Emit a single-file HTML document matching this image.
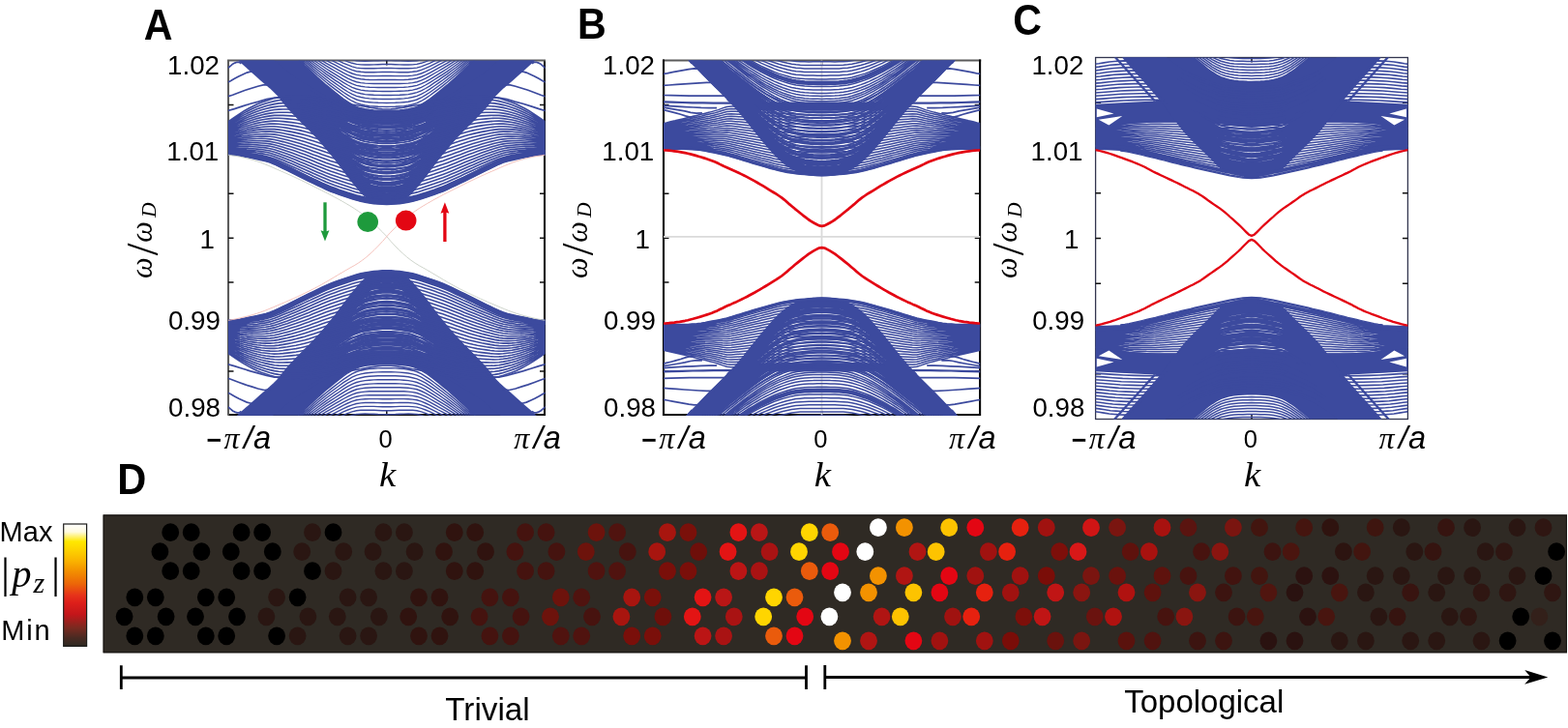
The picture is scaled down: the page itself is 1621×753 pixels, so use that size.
<!DOCTYPE html>
<html lang="en"><head><meta charset="utf-8"><title>Figure</title>
<style>html,body{margin:0;padding:0;background:#fff}svg{display:block}</style></head><body>
<svg width="1621" height="753" viewBox="0 0 1621 753">
<rect width="1621" height="753" fill="#fff"/>
<path d="M236.0 429.0H563.0V62.5" fill="none" stroke="#111" stroke-width="2.1"/>
<path d="M236.0 429.8V62.5H564.0" fill="none" stroke="#5c5c5c" stroke-width="2.1"/>
<path d="M236.0 108.4h5.5M563.5 108.4h-5.5M236.0 154.3h5.5M563.5 154.3h-5.5M236.0 200.2h5.5M563.5 200.2h-5.5M236.0 246.2h5.5M563.5 246.2h-5.5M236.0 292.1h5.5M563.5 292.1h-5.5M236.0 338.0h5.5M563.5 338.0h-5.5M236.0 383.9h5.5M563.5 383.9h-5.5M399.8 62.5v5M399.8 429.8v-5" stroke="#111" stroke-width="1.5" fill="none"/>
<path d="M685.0 62.5H1014.2" fill="none" stroke="#5a5a5a" stroke-width="2.1"/>
<path d="M686.0 61.5V429.0H1013.1V61.5" fill="none" stroke="#050505" stroke-width="2.1"/>
<path d="M686.0 108.4h5.5M1013.2 108.4h-5.5M686.0 154.3h5.5M1013.2 154.3h-5.5M686.0 200.2h5.5M1013.2 200.2h-5.5M686.0 246.2h5.5M1013.2 246.2h-5.5M686.0 292.1h5.5M1013.2 292.1h-5.5M686.0 338.0h5.5M1013.2 338.0h-5.5M686.0 383.9h5.5M1013.2 383.9h-5.5M849.6 62.5v5M849.6 429.8v-5" stroke="#111" stroke-width="1.5" fill="none"/>
<rect x="1132.6" y="59.5" width="322.8" height="374.0" fill="none" stroke="#33364f" stroke-width="1.3"/>
<path d="M1132.6 106.2h5.5M1455.4 106.2h-5.5M1132.6 153.0h5.5M1455.4 153.0h-5.5M1132.6 199.8h5.5M1455.4 199.8h-5.5M1132.6 246.5h5.5M1455.4 246.5h-5.5M1132.6 293.2h5.5M1455.4 293.2h-5.5M1132.6 340.0h5.5M1455.4 340.0h-5.5M1132.6 386.8h5.5M1455.4 386.8h-5.5M1294.0 59.5v5M1294.0 433.5v-5" stroke="#111" stroke-width="1.5" fill="none"/>
<defs><clipPath id="cA"><rect x="236" y="62.5" width="327.5" height="367.3"/></clipPath><clipPath id="cB"><rect x="686" y="62.5" width="327.2" height="367.3"/></clipPath><clipPath id="cC"><rect x="1132.6" y="59.5" width="322.8" height="374"/></clipPath></defs>
<path d="M849.5 62.5V429.8M686 244.8H1013.2" stroke="#dadada" stroke-width="1.8" fill="none"/>
<g clip-path="url(#cA)">
<g id="qA">
<path fill="#3c4a9e" d="M234 50.4l1.9 1.7 1.8 1.6 1.9 1.7 1.8 1.7 1.9 0 1.9 0 1.8 0 1.9 0 1.9 0 1.8 0 1.9 0 1.8 0 1.9 0 1.9 0 1.8 0 1.9 0 1.9 0 1.8 0 1.9 0 1.8 0 1.9 0 1.9 0 1.8 0 1.9 0 1.9 0 1.8 0 1.9 0 1.8 0 1.9 0 1.9 0 1.8 0 1.9 0 1.9 0 1.8 0 1.9 0 1.8 0 1.9 0 1.9 0.1 1.8 2 1.9 1.8 1.9 1.9 1.8 1.9 1.9 1.8 1.8 1.8 1.9 1.8 1.9 1.7 1.8 1.8 1.9 1.7 1.9 1.8 1.8 1.7 1.9 1.7 1.8 1.7 1.9 1.6 1.9 1.7 1.8 1.6 1.9 1.6 1.9 1.5 1.8 1.6 1.9 1.5 1.8 1.5 1.9 1.4 1.9 1.5 1.8 1.4 1.9 1.5 1.9 1.5 1.8 1.4 1.9 1.3 1.8 1.2 1.9 1.1 1.9 1.1 1.8 1 1.9 0.9 1.9 0.7 1.8 0.5 1.9 0.6 1.8 0.4 1.9 0.4 1.9 0.3 1.8 0.3 1.9 0.2 1.9 0.2 1.8 0.2 1.9 0.1 1.8 0.1 1.9 0.1 1.9 0.1 1.8 0 1.9 0.1 1.9 0 1.8 0 1.9-0.1 1.8 0 1.9-0.1 1.9-0.1 1.8-0.1 1.9-0.1 1.8-0.2 1.9-0.2 1.9-0.2 1.8-0.3 1.9-0.3 1.9-0.4 1.8-0.4 1.9-0.6 1.8-0.5 1.9-0.7 1.9-0.9 1.8-1 1.9-1.1 1.9-1.1 1.8-1.2 1.9-1.3 1.8-1.4 1.9-1.5 1.9-1.5 1.8-1.4 1.9-1.5 1.9-1.4 1.8-1.5 1.9-1.5 1.8-1.6 1.9-1.5 1.9-1.6 1.8-1.6 1.9-1.7 1.9-1.6 1.8-1.7 1.9-1.7 1.8-1.7 1.9-1.8 1.9-1.7 1.8-1.8 1.9-1.7 1.9-1.8 1.8-1.8 1.9-1.8 1.8-1.9 1.9-1.9 1.9-1.8 1.8-2 1.9-0.1 1.9 0 1.8 0 1.9 0 1.8 0 1.9 0 1.9 0 1.8 0 1.9 0 1.9 0 1.8 0 1.9 0 1.8 0 1.9 0 1.9 0 1.8 0 1.9 0 1.9 0 1.8 0 1.9 0 1.8 0 1.9 0 1.9 0 1.8 0 1.9 0 1.9 0 1.8 0 1.9 0 1.8 0 1.9 0 1.9 0 1.8 0 1.9 0 1.9 0 1.8-1.7 1.9-1.7 1.8-1.6 1.9-1.7 -1.9 1.7 -1.8 1.6 -1.9 1.7 -1.8 1.7 -1.9 1.7 -1.9 1.7 -1.8 1.6 -1.9 1.7 -1.9 1.7 -1.8 1.6 -1.9 1.7 -1.8 1.6 -1.9 1.6 -1.9 1.7 -1.8 1.6 -1.9 1.7 -1.9 1.6 -1.8 1.7 -1.9 1.6 -1.8 1.7 -1.9 1.6 -1.9 1.6 -1.8 1.6 -1.9 1.6 -1.9 1.7 -1.8 1.7 -1.9 1.7 -1.8 1.9 -1.9 2 -1.9 2.1 -1.8 2.6 -1.9 2.6 -1.9 2.2 -1.8 2.2 -1.9 2.1 -1.8 2.1 -1.9 2 -1.9 1.9 -1.8 2 -1.9 1.8 -1.9 1.4 -1.8 0 -1.9 0 -1.8 0 -1.9 0 -1.9 0 -1.8 0 -1.9 0 -1.9 0 -1.8 0 -1.9 0 -1.8 0 -1.9 0 -1.9 0.1 -1.8 0.1 -1.9 0.1 -1.9 0.1 -1.8 0.1 -1.9 0.2 -1.8 0.1 -1.9 0.2 -1.9 0.1 -1.8 0.2 -1.9 0.2 -1.9 0.1 -1.8 0.2 -1.9 0.1 -1.8 0.2 -1.9 0.1 -1.9 0.2 -1.8 0.1 -1.9 0.2 -1.9 0.2 -1.8 0.2 -1.9 0.2 -1.8 0.1 -1.9 0.2 -1.9 0.2 -1.8 0.2 -1.9 0.1 -1.9 0.2 -1.8 0.2 -1.9 0.1 -1.8 0.1 -1.9 0.1 -1.9 0.1 -1.8 0 -1.9 0.1 -1.8 0 -1.9 0 -1.9-0.1 -1.8 0 -1.9-0.1 -1.9-0.1 -1.8-0.1 -1.9-0.1 -1.8-0.2 -1.9-0.2 -1.9-0.1 -1.8-0.2 -1.9-0.2 -1.9-0.2 -1.8-0.1 -1.9-0.2 -1.8-0.2 -1.9-0.2 -1.9-0.2 -1.8-0.1 -1.9-0.2 -1.9-0.1 -1.8-0.2 -1.9-0.1 -1.8-0.2 -1.9-0.1 -1.9-0.2 -1.8-0.2 -1.9-0.1 -1.9-0.2 -1.8-0.1 -1.9-0.2 -1.8-0.1 -1.9-0.1 -1.9-0.1 -1.8-0.1 -1.9-0.1 -1.9 0 -1.8 0 -1.9 0 -1.8 0 -1.9 0 -1.9 0 -1.8 0 -1.9 0 -1.9 0 -1.8 0 -1.9 0 -1.8 0 -1.9-1.4 -1.9-1.8 -1.8-2 -1.9-1.9 -1.9-2 -1.8-2.1 -1.9-2.1 -1.8-2.2 -1.9-2.2 -1.9-2.6 -1.8-2.6 -1.9-2.1 -1.9-2 -1.8-1.9 -1.9-1.7 -1.8-1.7 -1.9-1.7 -1.9-1.6 -1.8-1.6 -1.9-1.6 -1.9-1.6 -1.8-1.7 -1.9-1.6 -1.8-1.7 -1.9-1.6 -1.9-1.7 -1.8-1.6 -1.9-1.7 -1.9-1.6 -1.8-1.6 -1.9-1.7 -1.8-1.6 -1.9-1.7 -1.9-1.7 -1.8-1.6 -1.9-1.7 -1.9-1.7 -1.8-1.7 -1.9-1.7 -1.8-1.6 -1.9-1.7zM234 50.4l1.9 1.7 1.8 1.6 1.9 1.7 1.8 1.7 1.9 0 1.9 0 1.8 0 1.9 0 1.9 0 1.8 0 1.9 0 1.8 0 1.9 0 1.9 1.3 1.8 1.6 1.9 1.7 1.9 1.7 1.8 1.6 1.9 1.7 1.8 1.6 1.9 1.6 1.9 1.7 1.8 1.6 1.9 1.7 1.9 1.6 1.8 1.7 1.9 1.7 1.8 1.6 1.9 1.7 1.9 1.6 1.8 1.5 1.9 1.6 1.9 1.7 1.8 1.7 1.9 1.7 1.8 1.9 1.9 1.9 1.9 2.2 1.8 2.5 1.9 2.6 1.9 2.3 1.8 2.2 1.9 2.1 1.8 2.1 1.9 2 1.9 1.9 1.8 2 1.9 1.8 1.9 1.9 1.8 1.9 1.9 1.8 1.8 1.9 1.9 1.8 1.9 1.9 1.8 1.8 1.9 2 1.9 1.9 1.8 2 1.9 2 1.8 2.1 1.9 2.2 1.9 2.2 1.8 2.2 1.9 2.2 1.9 2.2 1.8 2.3 1.9 2.3 1.8 2.3 1.9 2.4 1.9 2.4 1.8 2.5 1.9 2.5 1.9 2.5 1.8 2.6 1.9 2.5 1.8 2.4 1.9 2.4 1.9 2.4 1.8 2.2 1.9 2.1 1.9 2.3 1.8 2.2 1.9 2.1 1.8 2 1.9 1.7 1.9 1.4 1.8 1 1.9 1 1.9 0.9 1.8-0.9 1.9-1 1.8-1 1.9-1.4 1.9-1.7 1.8-2 1.9-2.1 1.8-2.2 1.9-2.3 1.9-2.1 1.8-2.2 1.9-2.4 1.9-2.4 1.8-2.4 1.9-2.5 1.8-2.6 1.9-2.5 1.9-2.5 1.8-2.5 1.9-2.4 1.9-2.4 1.8-2.3 1.9-2.3 1.8-2.3 1.9-2.2 1.9-2.2 1.8-2.2 1.9-2.2 1.9-2.2 1.8-2.1 1.9-2 1.8-2 1.9-1.9 1.9-2 1.8-1.8 1.9-1.9 1.9-1.8 1.8-1.9 1.9-1.8 1.8-1.9 1.9-1.9 1.9-1.8 1.8-2 1.9-1.9 1.9-2 1.8-2.1 1.9-2.1 1.8-2.2 1.9-2.3 1.9-2.6 1.8-2.5 1.9-2.2 1.9-1.9 1.8-1.9 1.9-1.7 1.8-1.7 1.9-1.7 1.9-1.6 1.8-1.5 1.9-1.6 1.9-1.7 1.8-1.6 1.9-1.7 1.8-1.7 1.9-1.6 1.9-1.7 1.8-1.6 1.9-1.7 1.9-1.6 1.8-1.6 1.9-1.7 1.8-1.6 1.9-1.7 1.9-1.7 1.8-1.6 1.9-1.3 1.9 0 1.8 0 1.9 0 1.8 0 1.9 0 1.9 0 1.8 0 1.9 0 1.9 0 1.8-1.7 1.9-1.7 1.8-1.6 1.9-1.7 -1.9 1.7 -1.8 1.6 -1.9 1.7 -1.8 1.7 -1.9 1.7 -1.9 1.7 -1.8 1.6 -1.9 1.7 -1.9 1.7 -1.8 1.6 -1.9 1.7 -1.8 1.6 -1.9 1.6 -1.9 1.7 -1.8 1.6 -1.9 1.7 -1.9 1.6 -1.8 1.7 -1.9 1.6 -1.8 1.7 -1.9 1.6 -1.9 1.6 -1.8 1.6 -1.9 1.6 -1.9 1.7 -1.8 1.7 -1.9 1.7 -1.8 1.9 -1.9 2 -1.9 2.1 -1.8 2.6 -1.9 2.6 -1.9 2.2 -1.8 2.2 -1.9 2.1 -1.8 2.1 -1.9 2 -1.9 1.9 -1.8 2 -1.9 1.8 -1.9 1.9 -1.8 1.9 -1.9 1.8 -1.8 1.9 -1.9 1.8 -1.9 1.9 -1.8 1.9 -1.9 1.9 -1.9 1.9 -1.8 2 -1.9 2.1 -1.8 2.1 -1.9 2.1 -1.9 2.2 -1.8 2.2 -1.9 2.2 -1.9 2.3 -1.8 2.2 -1.9 2.3 -1.8 2.3 -1.9 2.4 -1.9 2.4 -1.8 2.5 -1.9 2.5 -1.9 2.6 -1.8 2.5 -1.9 2.5 -1.8 2.5 -1.9 2.4 -1.9 2.3 -1.8 2.2 -1.9 2.2 -1.9 2.2 -1.8 2.2 -1.9 2.1 -1.8 2 -1.9 1.7 -1.9 1.4 -1.8 1 -1.9 0.9 -1.9 1 -1.8 0.8 -1.9 0.8 -1.8 0.8 -1.9 0.6 -1.9 0.5 -1.8 0.4 -1.9 0.2 -1.8 0.1 -1.9-0.1 -1.9-0.2 -1.8-0.4 -1.9-0.5 -1.9-0.6 -1.8-0.8 -1.9-0.8 -1.8-0.8 -1.9-1 -1.9-0.9 -1.8-1 -1.9-1.4 -1.9-1.7 -1.8-2 -1.9-2.1 -1.8-2.2 -1.9-2.2 -1.9-2.2 -1.8-2.2 -1.9-2.3 -1.9-2.4 -1.8-2.5 -1.9-2.5 -1.8-2.5 -1.9-2.6 -1.9-2.5 -1.8-2.5 -1.9-2.4 -1.9-2.4 -1.8-2.3 -1.9-2.3 -1.8-2.2 -1.9-2.3 -1.9-2.2 -1.8-2.2 -1.9-2.2 -1.9-2.1 -1.8-2.1 -1.9-2.1 -1.8-2 -1.9-1.9 -1.9-1.9 -1.8-1.9 -1.9-1.9 -1.9-1.8 -1.8-1.9 -1.9-1.8 -1.8-1.9 -1.9-1.9 -1.9-1.8 -1.8-2 -1.9-1.9 -1.9-2 -1.8-2.1 -1.9-2.1 -1.8-2.2 -1.9-2.2 -1.9-2.6 -1.8-2.6 -1.9-2.1 -1.9-2 -1.8-1.9 -1.9-1.7 -1.8-1.7 -1.9-1.7 -1.9-1.6 -1.8-1.6 -1.9-1.6 -1.9-1.6 -1.8-1.7 -1.9-1.6 -1.8-1.7 -1.9-1.6 -1.9-1.7 -1.8-1.6 -1.9-1.7 -1.9-1.6 -1.8-1.6 -1.9-1.7 -1.8-1.6 -1.9-1.7 -1.9-1.7 -1.8-1.6 -1.9-1.7 -1.9-1.7 -1.8-1.7 -1.9-1.7 -1.8-1.6 -1.9-1.7z"/>
<path fill="none" stroke="#3c4a9e" stroke-width="1.4" d="M301.5 53.8l4.5 4.7 4.4 4.5 4.5 4.4 4.5 4.2 4.4 4.2 4.5 4.2 4.5 4 4.4 3.9 4.5 3.7 4.5 3.6 4.4 3.5 4.5 3.5 4.5 3.2 4.4 2.7 4.5 2.2 4.5 1.5 4.4 1 4.5 0.7 4.5 0.5 4.4 0.2 4.5 0.2 4.5 0.1 4.4-0.1 4.5-0.2 4.4-0.2 4.5-0.5 4.5-0.7 4.4-1 4.5-1.5 4.5-2.2 4.4-2.7 4.5-3.2 4.5-3.5 4.4-3.5 4.5-3.6 4.5-3.7 4.4-3.9 4.5-4 4.5-4.2 4.4-4.2 4.5-4.2 4.5-4.4 4.4-4.5 4.5-4.7M301.5 53.1l4.5 3.8 4.4 4.3 4.5 4.2 4.5 4.1 4.4 4 4.5 4 4.5 3.8 4.4 3.7 4.5 3.6 4.5 3.5 4.4 3.3 4.5 3.4 4.5 3.1 4.4 2.6 4.5 2.2 4.5 1.3 4.4 1 4.5 0.6 4.5 0.4 4.4 0.3 4.5 0.1 4.5 0.1 4.4-0.1 4.5-0.1 4.4-0.3 4.5-0.4 4.5-0.6 4.4-1 4.5-1.3 4.5-2.2 4.4-2.6 4.5-3.1 4.5-3.4 4.4-3.3 4.5-3.5 4.5-3.6 4.4-3.7 4.5-3.8 4.5-4 4.4-4 4.5-4.1 4.5-4.2 4.4-4.3 4.5-3.8M301.5 53.1l4.5 2.3 4.4 4.1 4.5 4 4.5 3.8 4.4 3.9 4.5 3.8 4.5 3.7 4.4 3.5 4.5 3.5 4.5 3.3 4.4 3.2 4.5 3.3 4.5 2.9 4.4 2.6 4.5 2 4.5 1.3 4.4 0.9 4.5 0.5 4.5 0.4 4.4 0.2 4.5 0.1 4.5 0.1 4.4-0.1 4.5-0.1 4.4-0.2 4.5-0.4 4.5-0.5 4.4-0.9 4.5-1.3 4.5-2 4.4-2.6 4.5-2.9 4.5-3.3 4.4-3.2 4.5-3.3 4.5-3.5 4.4-3.5 4.5-3.7 4.5-3.8 4.4-3.9 4.5-3.8 4.5-4 4.4-4.1 4.5-2.3M306 53.8l4.4 3.9 4.5 3.8 4.5 3.7 4.4 3.7 4.5 3.6 4.5 3.5 4.4 3.4 4.5 3.3 4.5 3.2 4.4 3.1 4.5 3.1 4.5 2.9 4.4 2.4 4.5 2 4.5 1.1 4.4 0.9 4.5 0.5 4.5 0.3 4.4 0.2 4.5 0.1 4.5 0 4.4 0 4.5-0.1 4.4-0.2 4.5-0.3 4.5-0.5 4.4-0.9 4.5-1.1 4.5-2 4.4-2.4 4.5-2.9 4.5-3.1 4.4-3.1 4.5-3.2 4.5-3.3 4.4-3.4 4.5-3.5 4.5-3.6 4.4-3.7 4.5-3.7 4.5-3.8 4.4-3.9M306 53.1l4.4 2.9 4.5 3.5 4.5 3.6 4.4 3.4 4.5 3.5 4.5 3.3 4.4 3.3 4.5 3.1 4.5 3.1 4.4 2.9 4.5 3.1 4.5 2.7 4.4 2.3 4.5 1.9 4.5 1.1 4.4 0.8 4.5 0.4 4.5 0.3 4.4 0.1 4.5 0.1 4.5 0 4.4 0 4.5-0.1 4.4-0.1 4.5-0.3 4.5-0.4 4.4-0.8 4.5-1.1 4.5-1.9 4.4-2.3 4.5-2.7 4.5-3.1 4.4-2.9 4.5-3.1 4.5-3.1 4.4-3.3 4.5-3.3 4.5-3.5 4.4-3.4 4.5-3.6 4.5-3.5 4.4-2.9M310.4 54.2l4.5 3.4 4.5 3.3 4.4 3.3 4.5 3.3 4.5 3.2 4.4 3.1 4.5 3 4.5 2.9 4.4 2.8 4.5 2.9 4.5 2.6 4.4 2.3 4.5 1.7 4.5 1.1 4.4 0.6 4.5 0.4 4.5 0.2 4.4 0.1 4.5 0.1 4.5 0 4.4 0 4.5-0.1 4.4-0.1 4.5-0.2 4.5-0.4 4.4-0.6 4.5-1.1 4.5-1.7 4.4-2.3 4.5-2.6 4.5-2.9 4.4-2.8 4.5-2.9 4.5-3 4.4-3.1 4.5-3.2 4.5-3.3 4.4-3.3 4.5-3.3 4.5-3.4M310.4 53.1l4.5 2.5 4.5 3.2 4.4 3.1 4.5 3.1 4.5 3 4.4 3 4.5 2.8 4.5 2.8 4.4 2.7 4.5 2.8 4.5 2.5 4.4 2.1 4.5 1.7 4.5 0.9 4.4 0.6 4.5 0.3 4.5 0.2 4.4 0.1 4.5 0 4.5 0 4.4 0 4.5 0 4.4-0.1 4.5-0.2 4.5-0.3 4.4-0.6 4.5-0.9 4.5-1.7 4.4-2.1 4.5-2.5 4.5-2.8 4.4-2.7 4.5-2.8 4.5-2.8 4.4-3 4.5-3 4.5-3.1 4.4-3.1 4.5-3.2 4.5-2.5M314.9 53.7l4.5 2.9 4.4 3 4.5 2.9 4.5 2.8 4.4 2.8 4.5 2.7 4.5 2.7 4.4 2.5 4.5 2.7 4.5 2.4 4.4 2 4.5 1.6 4.5 0.9 4.4 0.5 4.5 0.3 4.5 0.1 4.4 0 4.5 0 4.5 0 4.4 0 4.5 0 4.4 0 4.5-0.1 4.5-0.3 4.4-0.5 4.5-0.9 4.5-1.6 4.4-2 4.5-2.4 4.5-2.7 4.4-2.5 4.5-2.7 4.5-2.7 4.4-2.8 4.5-2.8 4.5-2.9 4.4-3 4.5-2.9M319.4 54.5l4.4 2.7 4.5 2.8 4.5 2.7 4.4 2.6 4.5 2.6 4.5 2.4 4.4 2.5 4.5 2.6 4.5 2.2 4.4 1.9 4.5 1.5 4.5 0.8 4.4 0.5 4.5 0.2 4.5 0.1 4.4-0.1 4.5 0 4.5 0 4.4 0 4.5 0 4.4 0.1 4.5-0.1 4.5-0.2 4.4-0.5 4.5-0.8 4.5-1.5 4.4-1.9 4.5-2.2 4.5-2.6 4.4-2.5 4.5-2.4 4.5-2.6 4.4-2.6 4.5-2.7 4.5-2.8 4.4-2.7M323.8 54.9l4.5 2.6 4.5 2.5 4.4 2.5 4.5 2.4 4.5 2.3 4.4 2.4 4.5 2.4 4.5 2.2 4.4 1.8 4.5 1.4 4.5 0.7 4.4 0.4 4.5 0.1 4.5 0 4.4 0 4.5-0.1 4.5 0 4.4 0 4.5 0.1 4.4 0 4.5 0 4.5-0.1 4.4-0.4 4.5-0.7 4.5-1.4 4.4-1.8 4.5-2.2 4.5-2.4 4.4-2.4 4.5-2.3 4.5-2.4 4.4-2.5 4.5-2.5 4.5-2.6M328.3 55l4.5 2.4 4.4 2.3 4.5 2.2 4.5 2.2 4.4 2.2 4.5 2.3 4.5 2.1 4.4 1.7 4.5 1.3 4.5 0.6 4.4 0.4 4.5 0 4.5 0 4.4-0.1 4.5-0.1 4.5 0 4.4 0 4.5 0.1 4.4 0.1 4.5 0 4.5 0 4.4-0.4 4.5-0.6 4.5-1.3 4.4-1.7 4.5-2.1 4.5-2.3 4.4-2.2 4.5-2.2 4.5-2.2 4.4-2.3 4.5-2.4M332.8 54.7l4.4 2.2 4.5 2.1 4.5 2 4.4 2.1 4.5 2.2 4.5 1.9 4.4 1.6 4.5 1.3 4.5 0.5 4.4 0.2 4.5 0 4.5 0 4.4-0.2 4.5-0.1 4.5 0 4.4 0 4.5 0.1 4.4 0.2 4.5 0 4.5 0 4.4-0.2 4.5-0.5 4.5-1.3 4.4-1.6 4.5-1.9 4.5-2.2 4.4-2.1 4.5-2 4.5-2.1 4.4-2.2M337.2 54l4.5 2 4.5 1.9 4.4 2 4.5 2 4.5 1.9 4.4 1.5 4.5 1.1 4.5 0.5 4.4 0.1 4.5 0 4.5-0.1 4.4-0.2 4.5-0.2 4.5 0 4.4 0 4.5 0.2 4.4 0.2 4.5 0.1 4.5 0 4.4-0.1 4.5-0.5 4.5-1.1 4.4-1.5 4.5-1.9 4.5-2 4.4-2 4.5-1.9 4.5-2M346.2 54.8l4.4 1.8 4.5 2 4.5 1.7 4.4 1.4 4.5 1 4.5 0.4 4.4 0.1 4.5-0.1 4.5-0.2 4.4-0.2 4.5-0.1 4.5-0.1 4.4 0.1 4.5 0.1 4.4 0.2 4.5 0.2 4.5 0.1 4.4-0.1 4.5-0.4 4.5-1 4.4-1.4 4.5-1.7 4.5-2 4.4-1.8"/>
<path fill="none" stroke="#3c4a9e" stroke-width="1.9" d="M239 54.8l4.4 4.1 4.5 4 4.5 4 4.4 3.9 4.5 3.9 4.5 4 4.4 4 4.5 3.9 4.5 3.8 4.4 4.1 4.5 4.5 4.5 5.9 4.4 5.4 4.5 5 4.5 4.7 4.4 4.5 4.5 4.5 4.5 4.4 4.4 4.6 4.5 4.7 4.5 5.1 4.4 5.3 4.5 5.4 4.5 5.5 4.4 5.8 4.5 6 4.5 6 4.4 5.7 4.5 5.3 4.5 5.3 4.4 4.4 4.5 2.8 4.5 2.1 4.4 1.8 4.5 1.2 4.5 0.5 4.4-0.5 4.5-1.2 4.4-1.8 4.5-2.1 4.5-2.8 4.4-4.4 4.5-5.3 4.5-5.3 4.4-5.7 4.5-6 4.5-6 4.4-5.8 4.5-5.5 4.5-5.4 4.4-5.3 4.5-5.1 4.5-4.7 4.4-4.6 4.5-4.4 4.5-4.5 4.4-4.5 4.5-4.7 4.5-5 4.4-5.4 4.5-5.9 4.5-4.5 4.4-4.1 4.5-3.8 4.5-3.9 4.4-4 4.5-4 4.5-3.9 4.4-3.9 4.5-4 4.5-4 4.4-4.1M239 54.8l4.4 4.1 4.5 4 4.5 3.9 4.4 4 4.5 3.9 4.5 4 4.4 4 4.5 3.9 4.5 3.8 4.4 4 4.5 4.6 4.5 5.8 4.4 5.5 4.5 5 4.5 4.7 4.4 4.5 4.5 4.4 4.5 4.5 4.4 4.5 4.5 4.8 4.5 5.1 4.4 5.2 4.5 5.4 4.5 5.5 4.4 5.8 4.5 6.1 4.5 6 4.4 5.7 4.5 5.2 4.5 5.3 4.4 4.4 4.5 2.7 4.5 2.2 4.4 1.8 4.5 1.2 4.5 0.4 4.4-0.4 4.5-1.2 4.4-1.8 4.5-2.2 4.5-2.7 4.4-4.4 4.5-5.3 4.5-5.2 4.4-5.7 4.5-6 4.5-6.1 4.4-5.8 4.5-5.5 4.5-5.4 4.4-5.2 4.5-5.1 4.5-4.8 4.4-4.5 4.5-4.5 4.5-4.4 4.4-4.5 4.5-4.7 4.5-5 4.4-5.5 4.5-5.8 4.5-4.6 4.4-4 4.5-3.8 4.5-3.9 4.4-4 4.5-4 4.5-3.9 4.4-4 4.5-3.9 4.5-4 4.4-4.1M239 54.8l4.4 4 4.5 4 4.5 4 4.4 3.9 4.5 4 4.5 3.9 4.4 4 4.5 3.9 4.5 3.9 4.4 4 4.5 4.6 4.5 5.8 4.4 5.5 4.5 5 4.5 4.7 4.4 4.5 4.5 4.4 4.5 4.4 4.4 4.6 4.5 4.7 4.5 5.1 4.4 5.2 4.5 5.4 4.5 5.5 4.4 5.8 4.5 6 4.5 6 4.4 5.7 4.5 5.2 4.5 5.2 4.4 4.4 4.5 2.7 4.5 2.1 4.4 1.7 4.5 1.2 4.5 0.5 4.4-0.5 4.5-1.2 4.4-1.7 4.5-2.1 4.5-2.7 4.4-4.4 4.5-5.2 4.5-5.2 4.4-5.7 4.5-6 4.5-6 4.4-5.8 4.5-5.5 4.5-5.4 4.4-5.2 4.5-5.1 4.5-4.7 4.4-4.6 4.5-4.4 4.5-4.4 4.4-4.5 4.5-4.7 4.5-5 4.4-5.5 4.5-5.8 4.5-4.6 4.4-4 4.5-3.9 4.5-3.9 4.4-4 4.5-3.9 4.5-4 4.4-3.9 4.5-4 4.5-4 4.4-4M239 54.8l4.4 4 4.5 4 4.5 4 4.4 3.9 4.5 3.9 4.5 4 4.4 4 4.5 3.9 4.5 3.8 4.4 4 4.5 4.6 4.5 5.8 4.4 5.5 4.5 5 4.5 4.7 4.4 4.5 4.5 4.4 4.5 4.4 4.4 4.6 4.5 4.7 4.5 5.1 4.4 5.2 4.5 5.4 4.5 5.5 4.4 5.7 4.5 6 4.5 6 4.4 5.6 4.5 5.2 4.5 5.2 4.4 4.3 4.5 2.7 4.5 2.1 4.4 1.7 4.5 1.1 4.5 0.5 4.4-0.5 4.5-1.1 4.4-1.7 4.5-2.1 4.5-2.7 4.4-4.3 4.5-5.2 4.5-5.2 4.4-5.6 4.5-6 4.5-6 4.4-5.7 4.5-5.5 4.5-5.4 4.4-5.2 4.5-5.1 4.5-4.7 4.4-4.6 4.5-4.4 4.5-4.4 4.4-4.5 4.5-4.7 4.5-5 4.4-5.5 4.5-5.8 4.5-4.6 4.4-4 4.5-3.8 4.5-3.9 4.4-4 4.5-4 4.5-3.9 4.4-3.9 4.5-4 4.5-4 4.4-4M239 54.7l4.4 4 4.5 4 4.5 4 4.4 3.9 4.5 4 4.5 3.9 4.4 4 4.5 3.9 4.5 3.8 4.4 4.1 4.5 4.5 4.5 5.8 4.4 5.5 4.5 5 4.5 4.7 4.4 4.5 4.5 4.4 4.5 4.4 4.4 4.5 4.5 4.8 4.5 5 4.4 5.2 4.5 5.4 4.5 5.5 4.4 5.7 4.5 6 4.5 5.9 4.4 5.6 4.5 5.1 4.5 5.1 4.4 4.2 4.5 2.6 4.5 2.1 4.4 1.6 4.5 1.2 4.5 0.4 4.4-0.4 4.5-1.2 4.4-1.6 4.5-2.1 4.5-2.6 4.4-4.2 4.5-5.1 4.5-5.1 4.4-5.6 4.5-5.9 4.5-6 4.4-5.7 4.5-5.5 4.5-5.4 4.4-5.2 4.5-5 4.5-4.8 4.4-4.5 4.5-4.4 4.5-4.4 4.4-4.5 4.5-4.7 4.5-5 4.4-5.5 4.5-5.8 4.5-4.5 4.4-4.1 4.5-3.8 4.5-3.9 4.4-4 4.5-3.9 4.5-4 4.4-3.9 4.5-4 4.5-4 4.4-4M239 54.6l4.4 4 4.5 4 4.5 4 4.4 3.9 4.5 4 4.5 3.9 4.4 4 4.5 3.9 4.5 3.8 4.4 4 4.5 4.6 4.5 5.8 4.4 5.5 4.5 4.9 4.5 4.7 4.4 4.5 4.5 4.4 4.5 4.4 4.4 4.5 4.5 4.8 4.5 5 4.4 5.2 4.5 5.3 4.5 5.4 4.4 5.7 4.5 5.9 4.5 5.9 4.4 5.5 4.5 5 4.5 5 4.4 4.1 4.5 2.5 4.5 2 4.4 1.6 4.5 1.1 4.5 0.4 4.4-0.4 4.5-1.1 4.4-1.6 4.5-2 4.5-2.5 4.4-4.1 4.5-5 4.5-5 4.4-5.5 4.5-5.9 4.5-5.9 4.4-5.7 4.5-5.4 4.5-5.3 4.4-5.2 4.5-5 4.5-4.8 4.4-4.5 4.5-4.4 4.5-4.4 4.4-4.5 4.5-4.7 4.5-4.9 4.4-5.5 4.5-5.8 4.5-4.6 4.4-4 4.5-3.8 4.5-3.9 4.4-4 4.5-3.9 4.5-4 4.4-3.9 4.5-4 4.5-4 4.4-4M239 54.5l4.4 4.1 4.5 4 4.5 3.9 4.4 4 4.5 3.9 4.5 3.9 4.4 4 4.5 3.9 4.5 3.8 4.4 4 4.5 4.6 4.5 5.8 4.4 5.4 4.5 5 4.5 4.7 4.4 4.4 4.5 4.4 4.5 4.4 4.4 4.5 4.5 4.7 4.5 5 4.4 5.2 4.5 5.3 4.5 5.4 4.4 5.7 4.5 5.8 4.5 5.8 4.4 5.5 4.5 4.9 4.5 4.9 4.4 4.1 4.5 2.4 4.5 1.9 4.4 1.5 4.5 1.1 4.5 0.3 4.4-0.3 4.5-1.1 4.4-1.5 4.5-1.9 4.5-2.4 4.4-4.1 4.5-4.9 4.5-4.9 4.4-5.5 4.5-5.8 4.5-5.8 4.4-5.7 4.5-5.4 4.5-5.3 4.4-5.2 4.5-5 4.5-4.7 4.4-4.5 4.5-4.4 4.5-4.4 4.4-4.4 4.5-4.7 4.5-5 4.4-5.4 4.5-5.8 4.5-4.6 4.4-4 4.5-3.8 4.5-3.9 4.4-4 4.5-3.9 4.5-3.9 4.4-4 4.5-3.9 4.5-4 4.4-4.1M239 54.5l4.4 4 4.5 4 4.5 3.9 4.4 3.9 4.5 4 4.5 3.9 4.4 4 4.5 3.9 4.5 3.8 4.4 4 4.5 4.5 4.5 5.8 4.4 5.5 4.5 4.9 4.5 4.7 4.4 4.4 4.5 4.4 4.5 4.4 4.4 4.5 4.5 4.7 4.5 5 4.4 5.1 4.5 5.3 4.5 5.4 4.4 5.6 4.5 5.8 4.5 5.7 4.4 5.4 4.5 4.9 4.5 4.7 4.4 4 4.5 2.3 4.5 1.9 4.4 1.4 4.5 1 4.5 0.4 4.4-0.4 4.5-1 4.4-1.4 4.5-1.9 4.5-2.3 4.4-4 4.5-4.7 4.5-4.9 4.4-5.4 4.5-5.7 4.5-5.8 4.4-5.6 4.5-5.4 4.5-5.3 4.4-5.1 4.5-5 4.5-4.7 4.4-4.5 4.5-4.4 4.5-4.4 4.4-4.4 4.5-4.7 4.5-4.9 4.4-5.5 4.5-5.8 4.5-4.5 4.4-4 4.5-3.8 4.5-3.9 4.4-4 4.5-3.9 4.5-4 4.4-3.9 4.5-3.9 4.5-4 4.4-4M239 54.4l4.4 4 4.5 4 4.5 4 4.4 3.9 4.5 3.9 4.5 3.9 4.4 4 4.5 3.9 4.5 3.8 4.4 4 4.5 4.5 4.5 5.8 4.4 5.5 4.5 4.9 4.5 4.7 4.4 4.4 4.5 4.4 4.5 4.4 4.4 4.4 4.5 4.7 4.5 5 4.4 5.1 4.5 5.3 4.5 5.3 4.4 5.6 4.5 5.8 4.5 5.7 4.4 5.3 4.5 4.8 4.5 4.7 4.4 3.9 4.5 2.3 4.5 1.8 4.4 1.4 4.5 1 4.5 0.3 4.4-0.3 4.5-1 4.4-1.4 4.5-1.8 4.5-2.3 4.4-3.9 4.5-4.7 4.5-4.8 4.4-5.3 4.5-5.7 4.5-5.8 4.4-5.6 4.5-5.3 4.5-5.3 4.4-5.1 4.5-5 4.5-4.7 4.4-4.4 4.5-4.4 4.5-4.4 4.4-4.4 4.5-4.7 4.5-4.9 4.4-5.5 4.5-5.8 4.5-4.5 4.4-4 4.5-3.8 4.5-3.9 4.4-4 4.5-3.9 4.5-3.9 4.4-3.9 4.5-4 4.5-4 4.4-4M239 54.3l4.4 4 4.5 4 4.5 4 4.4 3.9 4.5 3.9 4.5 3.9 4.4 4 4.5 3.9 4.5 3.8 4.4 4 4.5 4.5 4.5 5.8 4.4 5.4 4.5 4.9 4.5 4.7 4.4 4.4 4.5 4.4 4.5 4.3 4.4 4.5 4.5 4.7 4.5 4.9 4.4 5.2 4.5 5.2 4.5 5.3 4.4 5.5 4.5 5.8 4.5 5.6 4.4 5.3 4.5 4.7 4.5 4.6 4.4 3.8 4.5 2.2 4.5 1.7 4.4 1.4 4.5 1 4.5 0.3 4.4-0.3 4.5-1 4.4-1.4 4.5-1.7 4.5-2.2 4.4-3.8 4.5-4.6 4.5-4.7 4.4-5.3 4.5-5.6 4.5-5.8 4.4-5.5 4.5-5.3 4.5-5.2 4.4-5.2 4.5-4.9 4.5-4.7 4.4-4.5 4.5-4.3 4.5-4.4 4.4-4.4 4.5-4.7 4.5-4.9 4.4-5.4 4.5-5.8 4.5-4.5 4.4-4 4.5-3.8 4.5-3.9 4.4-4 4.5-3.9 4.5-3.9 4.4-3.9 4.5-4 4.5-4 4.4-4M239 54.2l4.4 4 4.5 4 4.5 3.9 4.4 3.9 4.5 3.9 4.5 3.9 4.4 4 4.5 3.9 4.5 3.8 4.4 4 4.5 4.5 4.5 5.8 4.4 5.4 4.5 4.9 4.5 4.6 4.4 4.5 4.5 4.3 4.5 4.4 4.4 4.4 4.5 4.7 4.5 4.9 4.4 5.1 4.5 5.2 4.5 5.2 4.4 5.5 4.5 5.7 4.5 5.5 4.4 5.2 4.5 4.6 4.5 4.5 4.4 3.6 4.5 2.2 4.5 1.6 4.4 1.4 4.5 0.9 4.5 0.3 4.4-0.3 4.5-0.9 4.4-1.4 4.5-1.6 4.5-2.2 4.4-3.6 4.5-4.5 4.5-4.6 4.4-5.2 4.5-5.5 4.5-5.7 4.4-5.5 4.5-5.2 4.5-5.2 4.4-5.1 4.5-4.9 4.5-4.7 4.4-4.4 4.5-4.4 4.5-4.3 4.4-4.5 4.5-4.6 4.5-4.9 4.4-5.4 4.5-5.8 4.5-4.5 4.4-4 4.5-3.8 4.5-3.9 4.4-4 4.5-3.9 4.5-3.9 4.4-3.9 4.5-3.9 4.5-4 4.4-4M239 54l4.4 4 4.5 4 4.5 3.9 4.4 3.9 4.5 3.9 4.5 3.9 4.4 4 4.5 3.9 4.5 3.7 4.4 4 4.5 4.5 4.5 5.8 4.4 5.4 4.5 4.9 4.5 4.6 4.4 4.4 4.5 4.3 4.5 4.4 4.4 4.4 4.5 4.6 4.5 4.9 4.4 5 4.5 5.2 4.5 5.2 4.4 5.4 4.5 5.6 4.5 5.4 4.4 5.1 4.5 4.5 4.5 4.3 4.4 3.5 4.5 2.1 4.5 1.5 4.4 1.3 4.5 0.8 4.5 0.3 4.4-0.3 4.5-0.8 4.4-1.3 4.5-1.5 4.5-2.1 4.4-3.5 4.5-4.3 4.5-4.5 4.4-5.1 4.5-5.4 4.5-5.6 4.4-5.4 4.5-5.2 4.5-5.2 4.4-5 4.5-4.9 4.5-4.6 4.4-4.4 4.5-4.4 4.5-4.3 4.4-4.4 4.5-4.6 4.5-4.9 4.4-5.4 4.5-5.8 4.5-4.5 4.4-4 4.5-3.7 4.5-3.9 4.4-4 4.5-3.9 4.5-3.9 4.4-3.9 4.5-3.9 4.5-4 4.4-4M239 53.8l4.4 4 4.5 4 4.5 3.9 4.4 3.9 4.5 3.9 4.5 3.9 4.4 3.9 4.5 3.9 4.5 3.8 4.4 3.9 4.5 4.5 4.5 5.8 4.4 5.3 4.5 4.9 4.5 4.6 4.4 4.4 4.5 4.3 4.5 4.3 4.4 4.4 4.5 4.6 4.5 4.8 4.4 5 4.5 5.1 4.5 5.1 4.4 5.4 4.5 5.4 4.5 5.3 4.4 5 4.5 4.3 4.5 4.2 4.4 3.3 4.5 1.9 4.5 1.5 4.4 1.2 4.5 0.8 4.5 0.2 4.4-0.2 4.5-0.8 4.4-1.2 4.5-1.5 4.5-1.9 4.4-3.3 4.5-4.2 4.5-4.3 4.4-5 4.5-5.3 4.5-5.4 4.4-5.4 4.5-5.1 4.5-5.1 4.4-5 4.5-4.8 4.5-4.6 4.4-4.4 4.5-4.3 4.5-4.3 4.4-4.4 4.5-4.6 4.5-4.9 4.4-5.3 4.5-5.8 4.5-4.5 4.4-3.9 4.5-3.8 4.5-3.9 4.4-3.9 4.5-3.9 4.5-3.9 4.4-3.9 4.5-3.9 4.5-4 4.4-4M239 53.6l4.4 4 4.5 4 4.5 3.9 4.4 3.9 4.5 3.9 4.5 3.9 4.4 3.9 4.5 3.9 4.5 3.7 4.4 4 4.5 4.5 4.5 5.7 4.4 5.3 4.5 4.9 4.5 4.6 4.4 4.4 4.5 4.2 4.5 4.3 4.4 4.4 4.5 4.5 4.5 4.8 4.4 5 4.5 5 4.5 5.1 4.4 5.3 4.5 5.4 4.5 5.2 4.4 4.8 4.5 4.3 4.5 4 4.4 3.2 4.5 1.9 4.5 1.4 4.4 1.1 4.5 0.8 4.5 0.2 4.4-0.2 4.5-0.8 4.4-1.1 4.5-1.4 4.5-1.9 4.4-3.2 4.5-4 4.5-4.3 4.4-4.8 4.5-5.2 4.5-5.4 4.4-5.3 4.5-5.1 4.5-5 4.4-5 4.5-4.8 4.5-4.5 4.4-4.4 4.5-4.3 4.5-4.2 4.4-4.4 4.5-4.6 4.5-4.9 4.4-5.3 4.5-5.7 4.5-4.5 4.4-4 4.5-3.7 4.5-3.9 4.4-3.9 4.5-3.9 4.5-3.9 4.4-3.9 4.5-3.9 4.5-4 4.4-4M239 53.5l4.4 4 4.5 4 4.5 3.9 4.4 3.9 4.5 3.8 4.5 3.9 4.4 4 4.5 3.8 4.5 3.8 4.4 3.9 4.5 4.5 4.5 5.7 4.4 5.3 4.5 4.9 4.5 4.6 4.4 4.3 4.5 4.3 4.5 4.2 4.4 4.4 4.5 4.5 4.5 4.8 4.4 4.9 4.5 5 4.5 5.1 4.4 5.2 4.5 5.4 4.5 5.1 4.4 4.7 4.5 4.2 4.5 4 4.4 3.1 4.5 1.8 4.5 1.4 4.4 1.1 4.5 0.7 4.5 0.2 4.4-0.2 4.5-0.7 4.4-1.1 4.5-1.4 4.5-1.8 4.4-3.1 4.5-4 4.5-4.2 4.4-4.7 4.5-5.1 4.5-5.4 4.4-5.2 4.5-5.1 4.5-5 4.4-4.9 4.5-4.8 4.5-4.5 4.4-4.4 4.5-4.2 4.5-4.3 4.4-4.3 4.5-4.6 4.5-4.9 4.4-5.3 4.5-5.7 4.5-4.5 4.4-3.9 4.5-3.8 4.5-3.8 4.4-4 4.5-3.9 4.5-3.8 4.4-3.9 4.5-3.9 4.5-4 4.4-4M239 53.3l4.4 4 4.5 4 4.5 3.9 4.4 3.9 4.5 3.8 4.5 3.9 4.4 3.9 4.5 3.9 4.5 3.7 4.4 4 4.5 4.4 4.5 5.7 4.4 5.3 4.5 4.9 4.5 4.5 4.4 4.4 4.5 4.2 4.5 4.2 4.4 4.4 4.5 4.5 4.5 4.7 4.4 4.9 4.5 5 4.5 5 4.4 5.2 4.5 5.2 4.5 5.1 4.4 4.6 4.5 4.1 4.5 3.8 4.4 3.1 4.5 1.7 4.5 1.3 4.4 1.1 4.5 0.6 4.5 0.3 4.4-0.3 4.5-0.6 4.4-1.1 4.5-1.3 4.5-1.7 4.4-3.1 4.5-3.8 4.5-4.1 4.4-4.6 4.5-5.1 4.5-5.2 4.4-5.2 4.5-5 4.5-5 4.4-4.9 4.5-4.7 4.5-4.5 4.4-4.4 4.5-4.2 4.5-4.2 4.4-4.4 4.5-4.5 4.5-4.9 4.4-5.3 4.5-5.7 4.5-4.4 4.4-4 4.5-3.7 4.5-3.9 4.4-3.9 4.5-3.9 4.5-3.8 4.4-3.9 4.5-3.9 4.5-4 4.4-4M239 53.1l4.4 3.9 4.5 3.9 4.5 3.9 4.4 3.9 4.5 3.8 4.5 3.9 4.4 3.9 4.5 3.8 4.5 3.8 4.4 3.9 4.5 4.5 4.5 5.6 4.4 5.3 4.5 4.8 4.5 4.5 4.4 4.3 4.5 4.2 4.5 4.2 4.4 4.3 4.5 4.5 4.5 4.7 4.4 4.8 4.5 4.9 4.5 4.9 4.4 5 4.5 5.1 4.5 5 4.4 4.4 4.5 3.9 4.5 3.7 4.4 2.9 4.5 1.6 4.5 1.2 4.4 1 4.5 0.6 4.5 0.2 4.4-0.2 4.5-0.6 4.4-1 4.5-1.2 4.5-1.6 4.4-2.9 4.5-3.7 4.5-3.9 4.4-4.4 4.5-5 4.5-5.1 4.4-5 4.5-4.9 4.5-4.9 4.4-4.8 4.5-4.7 4.5-4.5 4.4-4.3 4.5-4.2 4.5-4.2 4.4-4.3 4.5-4.5 4.5-4.8 4.4-5.3 4.5-5.6 4.5-4.5 4.4-3.9 4.5-3.8 4.5-3.8 4.4-3.9 4.5-3.9 4.5-3.8 4.4-3.9 4.5-3.9 4.5-3.9 4.4-3.9M239 53.1l4.4 3.7 4.5 3.9 4.5 3.9 4.4 3.9 4.5 3.8 4.5 3.9 4.4 3.9 4.5 3.8 4.5 3.7 4.4 4 4.5 4.4 4.5 5.6 4.4 5.3 4.5 4.8 4.5 4.5 4.4 4.3 4.5 4.1 4.5 4.2 4.4 4.3 4.5 4.4 4.5 4.6 4.4 4.8 4.5 4.9 4.5 4.8 4.4 5 4.5 5.1 4.5 4.8 4.4 4.4 4.5 3.8 4.5 3.5 4.4 2.8 4.5 1.6 4.5 1.2 4.4 0.9 4.5 0.6 4.5 0.2 4.4-0.2 4.5-0.6 4.4-0.9 4.5-1.2 4.5-1.6 4.4-2.8 4.5-3.5 4.5-3.8 4.4-4.4 4.5-4.8 4.5-5.1 4.4-5 4.5-4.8 4.5-4.9 4.4-4.8 4.5-4.6 4.5-4.4 4.4-4.3 4.5-4.2 4.5-4.1 4.4-4.3 4.5-4.5 4.5-4.8 4.4-5.3 4.5-5.6 4.5-4.4 4.4-4 4.5-3.7 4.5-3.8 4.4-3.9 4.5-3.9 4.5-3.8 4.4-3.9 4.5-3.9 4.5-3.9 4.4-3.7M239 53.1l4.4 3.4 4.5 3.9 4.5 3.9 4.4 3.9 4.5 3.8 4.5 3.9 4.4 3.9 4.5 3.8 4.5 3.7 4.4 3.9 4.5 4.4 4.5 5.6 4.4 5.2 4.5 4.8 4.5 4.5 4.4 4.2 4.5 4.2 4.5 4.1 4.4 4.3 4.5 4.3 4.5 4.7 4.4 4.7 4.5 4.8 4.5 4.7 4.4 4.9 4.5 5 4.5 4.7 4.4 4.3 4.5 3.6 4.5 3.5 4.4 2.6 4.5 1.5 4.5 1.2 4.4 0.9 4.5 0.5 4.5 0.2 4.4-0.2 4.5-0.5 4.4-0.9 4.5-1.2 4.5-1.5 4.4-2.6 4.5-3.5 4.5-3.6 4.4-4.3 4.5-4.7 4.5-5 4.4-4.9 4.5-4.7 4.5-4.8 4.4-4.7 4.5-4.7 4.5-4.3 4.4-4.3 4.5-4.1 4.5-4.2 4.4-4.2 4.5-4.5 4.5-4.8 4.4-5.2 4.5-5.6 4.5-4.4 4.4-3.9 4.5-3.7 4.5-3.8 4.4-3.9 4.5-3.9 4.5-3.8 4.4-3.9 4.5-3.9 4.5-3.9 4.4-3.4M239 53.1l4.4 3 4.5 3.9 4.5 3.9 4.4 3.8 4.5 3.8 4.5 3.9 4.4 3.8 4.5 3.8 4.5 3.7 4.4 3.9 4.5 4.4 4.5 5.5 4.4 5.3 4.5 4.7 4.5 4.4 4.4 4.2 4.5 4.1 4.5 4.1 4.4 4.2 4.5 4.3 4.5 4.6 4.4 4.6 4.5 4.7 4.5 4.7 4.4 4.7 4.5 4.8 4.5 4.6 4.4 4.1 4.5 3.5 4.5 3.2 4.4 2.5 4.5 1.5 4.5 1 4.4 0.8 4.5 0.6 4.5 0.2 4.4-0.2 4.5-0.6 4.4-0.8 4.5-1 4.5-1.5 4.4-2.5 4.5-3.2 4.5-3.5 4.4-4.1 4.5-4.6 4.5-4.8 4.4-4.7 4.5-4.7 4.5-4.7 4.4-4.6 4.5-4.6 4.5-4.3 4.4-4.2 4.5-4.1 4.5-4.1 4.4-4.2 4.5-4.4 4.5-4.7 4.4-5.3 4.5-5.5 4.5-4.4 4.4-3.9 4.5-3.7 4.5-3.8 4.4-3.8 4.5-3.9 4.5-3.8 4.4-3.8 4.5-3.9 4.5-3.9 4.4-3M239 53.1l4.4 2.8 4.5 3.9 4.5 3.9 4.4 3.8 4.5 3.8 4.5 3.8 4.4 3.9 4.5 3.8 4.5 3.7 4.4 3.8 4.5 4.4 4.5 5.6 4.4 5.2 4.5 4.7 4.5 4.4 4.4 4.2 4.5 4.1 4.5 4 4.4 4.2 4.5 4.3 4.5 4.5 4.4 4.6 4.5 4.6 4.5 4.7 4.4 4.7 4.5 4.7 4.5 4.5 4.4 4 4.5 3.5 4.5 3.1 4.4 2.5 4.5 1.4 4.5 1 4.4 0.8 4.5 0.5 4.5 0.2 4.4-0.2 4.5-0.5 4.4-0.8 4.5-1 4.5-1.4 4.4-2.5 4.5-3.1 4.5-3.5 4.4-4 4.5-4.5 4.5-4.7 4.4-4.7 4.5-4.7 4.5-4.6 4.4-4.6 4.5-4.5 4.5-4.3 4.4-4.2 4.5-4 4.5-4.1 4.4-4.2 4.5-4.4 4.5-4.7 4.4-5.2 4.5-5.6 4.5-4.4 4.4-3.8 4.5-3.7 4.5-3.8 4.4-3.9 4.5-3.8 4.5-3.8 4.4-3.8 4.5-3.9 4.5-3.9 4.4-2.8M239 53.1l4.4 2.4 4.5 3.9 4.5 3.9 4.4 3.8 4.5 3.8 4.5 3.8 4.4 3.9 4.5 3.7 4.5 3.7 4.4 3.8 4.5 4.4 4.5 5.5 4.4 5.1 4.5 4.7 4.5 4.4 4.4 4.2 4.5 4 4.5 4 4.4 4.1 4.5 4.3 4.5 4.4 4.4 4.6 4.5 4.5 4.5 4.6 4.4 4.6 4.5 4.6 4.5 4.4 4.4 3.8 4.5 3.4 4.5 3 4.4 2.3 4.5 1.3 4.5 1 4.4 0.8 4.5 0.5 4.5 0.1 4.4-0.1 4.5-0.5 4.4-0.8 4.5-1 4.5-1.3 4.4-2.3 4.5-3 4.5-3.4 4.4-3.8 4.5-4.4 4.5-4.6 4.4-4.6 4.5-4.6 4.5-4.5 4.4-4.6 4.5-4.4 4.5-4.3 4.4-4.1 4.5-4 4.5-4 4.4-4.2 4.5-4.4 4.5-4.7 4.4-5.1 4.5-5.5 4.5-4.4 4.4-3.8 4.5-3.7 4.5-3.7 4.4-3.9 4.5-3.8 4.5-3.8 4.4-3.8 4.5-3.9 4.5-3.9 4.4-2.4M243.4 55l4.5 3.9 4.5 3.8 4.4 3.8 4.5 3.8 4.5 3.8 4.4 3.8 4.5 3.7 4.5 3.7 4.4 3.8 4.5 4.3 4.5 5.5 4.4 5.1 4.5 4.6 4.5 4.3 4.4 4.2 4.5 4 4.5 3.9 4.4 4.1 4.5 4.2 4.5 4.3 4.4 4.5 4.5 4.4 4.5 4.4 4.4 4.5 4.5 4.5 4.5 4.2 4.4 3.7 4.5 3.2 4.5 2.8 4.4 2.2 4.5 1.3 4.5 0.9 4.4 0.7 4.5 0.4 4.5 0.2 4.4-0.2 4.5-0.4 4.4-0.7 4.5-0.9 4.5-1.3 4.4-2.2 4.5-2.8 4.5-3.2 4.4-3.7 4.5-4.2 4.5-4.5 4.4-4.5 4.5-4.4 4.5-4.4 4.4-4.5 4.5-4.3 4.5-4.2 4.4-4.1 4.5-3.9 4.5-4 4.4-4.2 4.5-4.3 4.5-4.6 4.4-5.1 4.5-5.5 4.5-4.3 4.4-3.8 4.5-3.7 4.5-3.7 4.4-3.8 4.5-3.8 4.5-3.8 4.4-3.8 4.5-3.8 4.5-3.9M243.4 54.7l4.5 3.9 4.5 3.8 4.4 3.8 4.5 3.7 4.5 3.8 4.4 3.8 4.5 3.7 4.5 3.7 4.4 3.8 4.5 4.3 4.5 5.4 4.4 5.1 4.5 4.6 4.5 4.3 4.4 4.1 4.5 4 4.5 3.9 4.4 4 4.5 4.2 4.5 4.3 4.4 4.4 4.5 4.4 4.5 4.3 4.4 4.4 4.5 4.4 4.5 4.1 4.4 3.6 4.5 3.1 4.5 2.8 4.4 2.1 4.5 1.2 4.5 0.9 4.4 0.7 4.5 0.4 4.5 0.2 4.4-0.2 4.5-0.4 4.4-0.7 4.5-0.9 4.5-1.2 4.4-2.1 4.5-2.8 4.5-3.1 4.4-3.6 4.5-4.1 4.5-4.4 4.4-4.4 4.5-4.3 4.5-4.4 4.4-4.4 4.5-4.3 4.5-4.2 4.4-4 4.5-3.9 4.5-4 4.4-4.1 4.5-4.3 4.5-4.6 4.4-5.1 4.5-5.4 4.5-4.3 4.4-3.8 4.5-3.7 4.5-3.7 4.4-3.8 4.5-3.8 4.5-3.7 4.4-3.8 4.5-3.8 4.5-3.9M243.4 54.3l4.5 3.8 4.5 3.8 4.4 3.8 4.5 3.7 4.5 3.8 4.4 3.8 4.5 3.7 4.5 3.6 4.4 3.8 4.5 4.2 4.5 5.5 4.4 5 4.5 4.6 4.5 4.2 4.4 4.1 4.5 3.9 4.5 3.9 4.4 4 4.5 4 4.5 4.3 4.4 4.3 4.5 4.3 4.5 4.3 4.4 4.3 4.5 4.3 4.5 4 4.4 3.5 4.5 2.9 4.5 2.7 4.4 2.1 4.5 1.1 4.5 0.8 4.4 0.7 4.5 0.4 4.5 0.1 4.4-0.1 4.5-0.4 4.4-0.7 4.5-0.8 4.5-1.1 4.4-2.1 4.5-2.7 4.5-2.9 4.4-3.5 4.5-4 4.5-4.3 4.4-4.3 4.5-4.3 4.5-4.3 4.4-4.3 4.5-4.3 4.5-4 4.4-4 4.5-3.9 4.5-3.9 4.4-4.1 4.5-4.2 4.5-4.6 4.4-5 4.5-5.5 4.5-4.2 4.4-3.8 4.5-3.6 4.5-3.7 4.4-3.8 4.5-3.8 4.5-3.7 4.4-3.8 4.5-3.8 4.5-3.8M243.4 53.7l4.5 3.8 4.5 3.8 4.4 3.7 4.5 3.7 4.5 3.8 4.4 3.8 4.5 3.6 4.5 3.6 4.4 3.8 4.5 4.2 4.5 5.3 4.4 5 4.5 4.5 4.5 4.3 4.4 3.9 4.5 3.9 4.5 3.9 4.4 3.8 4.5 4.1 4.5 4.1 4.4 4.2 4.5 4.3 4.5 4.1 4.4 4.2 4.5 4.1 4.5 3.8 4.4 3.4 4.5 2.8 4.5 2.6 4.4 1.9 4.5 1 4.5 0.8 4.4 0.6 4.5 0.4 4.5 0.2 4.4-0.2 4.5-0.4 4.4-0.6 4.5-0.8 4.5-1 4.4-1.9 4.5-2.6 4.5-2.8 4.4-3.4 4.5-3.8 4.5-4.1 4.4-4.2 4.5-4.1 4.5-4.3 4.4-4.2 4.5-4.1 4.5-4.1 4.4-3.8 4.5-3.9 4.5-3.9 4.4-3.9 4.5-4.3 4.5-4.5 4.4-5 4.5-5.3 4.5-4.2 4.4-3.8 4.5-3.6 4.5-3.6 4.4-3.8 4.5-3.8 4.5-3.7 4.4-3.7 4.5-3.8 4.5-3.8M243.4 53.3l4.5 3.9 4.5 3.7 4.4 3.8 4.5 3.7 4.5 3.7 4.4 3.8 4.5 3.6 4.5 3.6 4.4 3.7 4.5 4.2 4.5 5.4 4.4 4.9 4.5 4.5 4.5 4.2 4.4 4 4.5 3.8 4.5 3.8 4.4 3.9 4.5 3.9 4.5 4.2 4.4 4.1 4.5 4.2 4.5 4.1 4.4 4.1 4.5 4.1 4.5 3.7 4.4 3.3 4.5 2.8 4.5 2.4 4.4 1.9 4.5 1 4.5 0.8 4.4 0.6 4.5 0.3 4.5 0.2 4.4-0.2 4.5-0.3 4.4-0.6 4.5-0.8 4.5-1 4.4-1.9 4.5-2.4 4.5-2.8 4.4-3.3 4.5-3.7 4.5-4.1 4.4-4.1 4.5-4.1 4.5-4.2 4.4-4.1 4.5-4.2 4.5-3.9 4.4-3.9 4.5-3.8 4.5-3.8 4.4-4 4.5-4.2 4.5-4.5 4.4-4.9 4.5-5.4 4.5-4.2 4.4-3.7 4.5-3.6 4.5-3.6 4.4-3.8 4.5-3.7 4.5-3.7 4.4-3.8 4.5-3.7 4.5-3.9M243.4 53.1l4.5 3.5 4.5 3.8 4.4 3.7 4.5 3.7 4.5 3.7 4.4 3.8 4.5 3.6 4.5 3.5 4.4 3.7 4.5 4.2 4.5 5.3 4.4 4.9 4.5 4.5 4.5 4.1 4.4 3.9 4.5 3.8 4.5 3.8 4.4 3.8 4.5 3.9 4.5 4.1 4.4 4.1 4.5 4.1 4.5 4 4.4 4 4.5 3.9 4.5 3.7 4.4 3.2 4.5 2.6 4.5 2.4 4.4 1.8 4.5 1 4.5 0.7 4.4 0.5 4.5 0.4 4.5 0.1 4.4-0.1 4.5-0.4 4.4-0.5 4.5-0.7 4.5-1 4.4-1.8 4.5-2.4 4.5-2.6 4.4-3.2 4.5-3.7 4.5-3.9 4.4-4 4.5-4 4.5-4.1 4.4-4.1 4.5-4.1 4.5-3.9 4.4-3.8 4.5-3.8 4.5-3.8 4.4-3.9 4.5-4.1 4.5-4.5 4.4-4.9 4.5-5.3 4.5-4.2 4.4-3.7 4.5-3.5 4.5-3.6 4.4-3.8 4.5-3.7 4.5-3.7 4.4-3.7 4.5-3.8 4.5-3.5M243.4 53.1l4.5 2.9 4.5 3.7 4.4 3.7 4.5 3.7 4.5 3.7 4.4 3.7 4.5 3.6 4.5 3.5 4.4 3.7 4.5 4.1 4.5 5.3 4.4 4.8 4.5 4.4 4.5 4.1 4.4 3.9 4.5 3.7 4.5 3.7 4.4 3.8 4.5 3.8 4.5 4 4.4 4 4.5 4 4.5 3.9 4.4 3.9 4.5 3.8 4.5 3.5 4.4 3.1 4.5 2.5 4.5 2.3 4.4 1.7 4.5 0.9 4.5 0.7 4.4 0.6 4.5 0.3 4.5 0.1 4.4-0.1 4.5-0.3 4.4-0.6 4.5-0.7 4.5-0.9 4.4-1.7 4.5-2.3 4.5-2.5 4.4-3.1 4.5-3.5 4.5-3.8 4.4-3.9 4.5-3.9 4.5-4 4.4-4 4.5-4 4.5-3.8 4.4-3.8 4.5-3.7 4.5-3.7 4.4-3.9 4.5-4.1 4.5-4.4 4.4-4.8 4.5-5.3 4.5-4.1 4.4-3.7 4.5-3.5 4.5-3.6 4.4-3.7 4.5-3.7 4.5-3.7 4.4-3.7 4.5-3.7 4.5-2.9M243.4 53.1l4.5 2.2 4.5 3.8 4.4 3.6 4.5 3.7 4.5 3.6 4.4 3.7 4.5 3.6 4.5 3.5 4.4 3.6 4.5 4.1 4.5 5.2 4.4 4.8 4.5 4.4 4.5 4 4.4 3.8 4.5 3.7 4.5 3.7 4.4 3.7 4.5 3.7 4.5 3.9 4.4 4 4.5 3.9 4.5 3.8 4.4 3.8 4.5 3.7 4.5 3.4 4.4 2.9 4.5 2.4 4.5 2.2 4.4 1.7 4.5 0.8 4.5 0.7 4.4 0.5 4.5 0.3 4.5 0.1 4.4-0.1 4.5-0.3 4.4-0.5 4.5-0.7 4.5-0.8 4.4-1.7 4.5-2.2 4.5-2.4 4.4-2.9 4.5-3.4 4.5-3.7 4.4-3.8 4.5-3.8 4.5-3.9 4.4-4 4.5-3.9 4.5-3.7 4.4-3.7 4.5-3.7 4.5-3.7 4.4-3.8 4.5-4 4.5-4.4 4.4-4.8 4.5-5.2 4.5-4.1 4.4-3.6 4.5-3.5 4.5-3.6 4.4-3.7 4.5-3.6 4.5-3.7 4.4-3.6 4.5-3.8 4.5-2.2M247.9 54.8l4.5 3.7 4.4 3.6 4.5 3.6 4.5 3.7 4.4 3.6 4.5 3.6 4.5 3.4 4.4 3.7 4.5 4 4.5 5.2 4.4 4.8 4.5 4.3 4.5 4 4.4 3.7 4.5 3.7 4.5 3.6 4.4 3.6 4.5 3.7 4.5 3.9 4.4 3.8 4.5 3.9 4.5 3.7 4.4 3.7 4.5 3.6 4.5 3.3 4.4 2.8 4.5 2.4 4.5 2.1 4.4 1.6 4.5 0.8 4.5 0.7 4.4 0.4 4.5 0.3 4.5 0.2 4.4-0.2 4.5-0.3 4.4-0.4 4.5-0.7 4.5-0.8 4.4-1.6 4.5-2.1 4.5-2.4 4.4-2.8 4.5-3.3 4.5-3.6 4.4-3.7 4.5-3.7 4.5-3.9 4.4-3.8 4.5-3.9 4.5-3.7 4.4-3.6 4.5-3.6 4.5-3.7 4.4-3.7 4.5-4 4.5-4.3 4.4-4.8 4.5-5.2 4.5-4 4.4-3.7 4.5-3.4 4.5-3.6 4.4-3.6 4.5-3.7 4.5-3.6 4.4-3.6 4.5-3.7M247.9 54.3l4.5 3.7 4.4 3.6 4.5 3.6 4.5 3.6 4.4 3.7 4.5 3.5 4.5 3.5 4.4 3.6 4.5 4 4.5 5.1 4.4 4.8 4.5 4.3 4.5 3.9 4.4 3.8 4.5 3.6 4.5 3.6 4.4 3.5 4.5 3.7 4.5 3.8 4.4 3.8 4.5 3.8 4.5 3.6 4.4 3.7 4.5 3.5 4.5 3.2 4.4 2.8 4.5 2.3 4.5 2.1 4.4 1.5 4.5 0.8 4.5 0.6 4.4 0.5 4.5 0.3 4.5 0.1 4.4-0.1 4.5-0.3 4.4-0.5 4.5-0.6 4.5-0.8 4.4-1.5 4.5-2.1 4.5-2.3 4.4-2.8 4.5-3.2 4.5-3.5 4.4-3.7 4.5-3.6 4.5-3.8 4.4-3.8 4.5-3.8 4.5-3.7 4.4-3.5 4.5-3.6 4.5-3.6 4.4-3.8 4.5-3.9 4.5-4.3 4.4-4.8 4.5-5.1 4.5-4 4.4-3.6 4.5-3.5 4.5-3.5 4.4-3.7 4.5-3.6 4.5-3.6 4.4-3.6 4.5-3.7M247.9 53.7l4.5 3.6 4.4 3.6 4.5 3.6 4.5 3.6 4.4 3.7 4.5 3.5 4.5 3.4 4.4 3.6 4.5 4 4.5 5 4.4 4.7 4.5 4.3 4.5 3.9 4.4 3.7 4.5 3.6 4.5 3.5 4.4 3.5 4.5 3.6 4.5 3.7 4.4 3.8 4.5 3.7 4.5 3.5 4.4 3.6 4.5 3.4 4.5 3.2 4.4 2.7 4.5 2.2 4.5 2 4.4 1.4 4.5 0.8 4.5 0.6 4.4 0.5 4.5 0.2 4.5 0.2 4.4-0.2 4.5-0.2 4.4-0.5 4.5-0.6 4.5-0.8 4.4-1.4 4.5-2 4.5-2.2 4.4-2.7 4.5-3.2 4.5-3.4 4.4-3.6 4.5-3.5 4.5-3.7 4.4-3.8 4.5-3.7 4.5-3.6 4.4-3.5 4.5-3.5 4.5-3.6 4.4-3.7 4.5-3.9 4.5-4.3 4.4-4.7 4.5-5 4.5-4 4.4-3.6 4.5-3.4 4.5-3.5 4.4-3.7 4.5-3.6 4.5-3.6 4.4-3.6 4.5-3.6M247.9 53.1l4.5 3.6 4.4 3.6 4.5 3.6 4.5 3.6 4.4 3.6 4.5 3.4 4.5 3.4 4.4 3.6 4.5 4 4.5 5 4.4 4.7 4.5 4.2 4.5 3.8 4.4 3.7 4.5 3.5 4.5 3.5 4.4 3.5 4.5 3.5 4.5 3.7 4.4 3.7 4.5 3.6 4.5 3.5 4.4 3.5 4.5 3.3 4.5 3.1 4.4 2.6 4.5 2.2 4.5 1.9 4.4 1.4 4.5 0.8 4.5 0.5 4.4 0.5 4.5 0.2 4.5 0.1 4.4-0.1 4.5-0.2 4.4-0.5 4.5-0.5 4.5-0.8 4.4-1.4 4.5-1.9 4.5-2.2 4.4-2.6 4.5-3.1 4.5-3.3 4.4-3.5 4.5-3.5 4.5-3.6 4.4-3.7 4.5-3.7 4.5-3.5 4.4-3.5 4.5-3.5 4.5-3.5 4.4-3.7 4.5-3.8 4.5-4.2 4.4-4.7 4.5-5 4.5-4 4.4-3.6 4.5-3.4 4.5-3.4 4.4-3.6 4.5-3.6 4.5-3.6 4.4-3.6 4.5-3.6M247.9 53.1l4.5 2.9 4.4 3.6 4.5 3.5 4.5 3.6 4.4 3.6 4.5 3.4 4.5 3.4 4.4 3.5 4.5 4 4.5 5 4.4 4.6 4.5 4.1 4.5 3.8 4.4 3.7 4.5 3.4 4.5 3.5 4.4 3.4 4.5 3.5 4.5 3.6 4.4 3.6 4.5 3.5 4.5 3.5 4.4 3.3 4.5 3.3 4.5 3 4.4 2.5 4.5 2.1 4.5 1.9 4.4 1.3 4.5 0.8 4.5 0.5 4.4 0.4 4.5 0.3 4.5 0.1 4.4-0.1 4.5-0.3 4.4-0.4 4.5-0.5 4.5-0.8 4.4-1.3 4.5-1.9 4.5-2.1 4.4-2.5 4.5-3 4.5-3.3 4.4-3.3 4.5-3.5 4.5-3.5 4.4-3.6 4.5-3.6 4.5-3.5 4.4-3.4 4.5-3.5 4.5-3.4 4.4-3.7 4.5-3.8 4.5-4.1 4.4-4.6 4.5-5 4.5-4 4.4-3.5 4.5-3.4 4.5-3.4 4.4-3.6 4.5-3.6 4.5-3.5 4.4-3.6 4.5-2.9M247.9 53.1l4.5 2.3 4.4 3.5 4.5 3.6 4.5 3.5 4.4 3.5 4.5 3.5 4.5 3.3 4.4 3.5 4.5 3.9 4.5 5 4.4 4.6 4.5 4 4.5 3.8 4.4 3.6 4.5 3.4 4.5 3.4 4.4 3.4 4.5 3.5 4.5 3.5 4.4 3.5 4.5 3.5 4.5 3.4 4.4 3.3 4.5 3.2 4.5 2.9 4.4 2.5 4.5 2 4.5 1.8 4.4 1.3 4.5 0.7 4.5 0.5 4.4 0.4 4.5 0.3 4.5 0.1 4.4-0.1 4.5-0.3 4.4-0.4 4.5-0.5 4.5-0.7 4.4-1.3 4.5-1.8 4.5-2 4.4-2.5 4.5-2.9 4.5-3.2 4.4-3.3 4.5-3.4 4.5-3.5 4.4-3.5 4.5-3.5 4.5-3.5 4.4-3.4 4.5-3.4 4.5-3.4 4.4-3.6 4.5-3.8 4.5-4 4.4-4.6 4.5-5 4.5-3.9 4.4-3.5 4.5-3.3 4.5-3.5 4.4-3.5 4.5-3.5 4.5-3.6 4.4-3.5 4.5-2.3M252.4 54.4l4.4 3.5 4.5 3.5 4.5 3.5 4.4 3.5 4.5 3.4 4.5 3.3 4.4 3.5 4.5 3.9 4.5 4.8 4.4 4.5 4.5 4.1 4.5 3.7 4.4 3.5 4.5 3.4 4.5 3.3 4.4 3.3 4.5 3.4 4.5 3.4 4.4 3.5 4.5 3.4 4.5 3.2 4.4 3.2 4.5 3.1 4.5 2.8 4.4 2.4 4.5 1.9 4.5 1.7 4.4 1.3 4.5 0.7 4.5 0.5 4.4 0.4 4.5 0.2 4.5 0.1 4.4-0.1 4.5-0.2 4.4-0.4 4.5-0.5 4.5-0.7 4.4-1.3 4.5-1.7 4.5-1.9 4.4-2.4 4.5-2.8 4.5-3.1 4.4-3.2 4.5-3.2 4.5-3.4 4.4-3.5 4.5-3.4 4.5-3.4 4.4-3.3 4.5-3.3 4.5-3.4 4.4-3.5 4.5-3.7 4.5-4.1 4.4-4.5 4.5-4.8 4.5-3.9 4.4-3.5 4.5-3.3 4.5-3.4 4.4-3.5 4.5-3.5 4.5-3.5 4.4-3.5M252.4 53.4l4.4 3.5 4.5 3.5 4.5 3.4 4.4 3.5 4.5 3.4 4.5 3.2 4.4 3.5 4.5 3.8 4.5 4.8 4.4 4.4 4.5 4 4.5 3.7 4.4 3.4 4.5 3.3 4.5 3.3 4.4 3.2 4.5 3.3 4.5 3.4 4.4 3.4 4.5 3.3 4.5 3.1 4.4 3.1 4.5 3 4.5 2.7 4.4 2.3 4.5 1.9 4.5 1.6 4.4 1.2 4.5 0.7 4.5 0.5 4.4 0.3 4.5 0.3 4.5 0 4.4 0 4.5-0.3 4.4-0.3 4.5-0.5 4.5-0.7 4.4-1.2 4.5-1.6 4.5-1.9 4.4-2.3 4.5-2.7 4.5-3 4.4-3.1 4.5-3.1 4.5-3.3 4.4-3.4 4.5-3.4 4.5-3.3 4.4-3.2 4.5-3.3 4.5-3.3 4.4-3.4 4.5-3.7 4.5-4 4.4-4.4 4.5-4.8 4.5-3.8 4.4-3.5 4.5-3.2 4.5-3.4 4.4-3.5 4.5-3.4 4.5-3.5 4.4-3.5M252.4 53.1l4.4 3.1 4.5 3.4 4.5 3.5 4.4 3.4 4.5 3.4 4.5 3.2 4.4 3.4 4.5 3.8 4.5 4.8 4.4 4.4 4.5 3.9 4.5 3.6 4.4 3.4 4.5 3.3 4.5 3.2 4.4 3.2 4.5 3.3 4.5 3.3 4.4 3.3 4.5 3.2 4.5 3.1 4.4 3.1 4.5 2.9 4.5 2.6 4.4 2.3 4.5 1.8 4.5 1.6 4.4 1.1 4.5 0.7 4.5 0.5 4.4 0.3 4.5 0.2 4.5 0.1 4.4-0.1 4.5-0.2 4.4-0.3 4.5-0.5 4.5-0.7 4.4-1.1 4.5-1.6 4.5-1.8 4.4-2.3 4.5-2.6 4.5-2.9 4.4-3.1 4.5-3.1 4.5-3.2 4.4-3.3 4.5-3.3 4.5-3.3 4.4-3.2 4.5-3.2 4.5-3.3 4.4-3.4 4.5-3.6 4.5-3.9 4.4-4.4 4.5-4.8 4.5-3.8 4.4-3.4 4.5-3.2 4.5-3.4 4.4-3.4 4.5-3.5 4.5-3.4 4.4-3.1M252.4 53.1l4.4 2.2 4.5 3.4 4.5 3.4 4.4 3.4 4.5 3.3 4.5 3.2 4.4 3.4 4.5 3.7 4.5 4.8 4.4 4.3 4.5 3.9 4.5 3.6 4.4 3.3 4.5 3.2 4.5 3.2 4.4 3.1 4.5 3.2 4.5 3.3 4.4 3.2 4.5 3.2 4.5 3 4.4 3 4.5 2.8 4.5 2.6 4.4 2.1 4.5 1.8 4.5 1.5 4.4 1.1 4.5 0.7 4.5 0.4 4.4 0.4 4.5 0.2 4.5 0.1 4.4-0.1 4.5-0.2 4.4-0.4 4.5-0.4 4.5-0.7 4.4-1.1 4.5-1.5 4.5-1.8 4.4-2.1 4.5-2.6 4.5-2.8 4.4-3 4.5-3 4.5-3.2 4.4-3.2 4.5-3.3 4.5-3.2 4.4-3.1 4.5-3.2 4.5-3.2 4.4-3.3 4.5-3.6 4.5-3.9 4.4-4.3 4.5-4.8 4.5-3.7 4.4-3.4 4.5-3.2 4.5-3.3 4.4-3.4 4.5-3.4 4.5-3.4 4.4-2.2M256.8 54.5l4.5 3.4 4.5 3.4 4.4 3.4 4.5 3.3 4.5 3.2 4.4 3.3 4.5 3.8 4.5 4.6 4.4 4.3 4.5 3.9 4.5 3.5 4.4 3.3 4.5 3.2 4.5 3.1 4.4 3.1 4.5 3.2 4.5 3.2 4.4 3.2 4.5 3.1 4.5 2.9 4.4 2.9 4.5 2.8 4.5 2.5 4.4 2.1 4.5 1.7 4.5 1.5 4.4 1.1 4.5 0.6 4.5 0.5 4.4 0.3 4.5 0.2 4.5 0.1 4.4-0.1 4.5-0.2 4.4-0.3 4.5-0.5 4.5-0.6 4.4-1.1 4.5-1.5 4.5-1.7 4.4-2.1 4.5-2.5 4.5-2.8 4.4-2.9 4.5-2.9 4.5-3.1 4.4-3.2 4.5-3.2 4.5-3.2 4.4-3.1 4.5-3.1 4.5-3.2 4.4-3.3 4.5-3.5 4.5-3.9 4.4-4.3 4.5-4.6 4.5-3.8 4.4-3.3 4.5-3.2 4.5-3.3 4.4-3.4 4.5-3.4 4.5-3.4M256.8 53.7l4.5 3.3 4.5 3.4 4.4 3.4 4.5 3.2 4.5 3.2 4.4 3.3 4.5 3.7 4.5 4.6 4.4 4.2 4.5 3.8 4.5 3.5 4.4 3.3 4.5 3.1 4.5 3.1 4.4 3.1 4.5 3 4.5 3.2 4.4 3.1 4.5 3 4.5 3 4.4 2.8 4.5 2.7 4.5 2.4 4.4 2.1 4.5 1.6 4.5 1.5 4.4 1.1 4.5 0.6 4.5 0.4 4.4 0.3 4.5 0.2 4.5 0.1 4.4-0.1 4.5-0.2 4.4-0.3 4.5-0.4 4.5-0.6 4.4-1.1 4.5-1.5 4.5-1.6 4.4-2.1 4.5-2.4 4.5-2.7 4.4-2.8 4.5-3 4.5-3 4.4-3.1 4.5-3.2 4.5-3 4.4-3.1 4.5-3.1 4.5-3.1 4.4-3.3 4.5-3.5 4.5-3.8 4.4-4.2 4.5-4.6 4.5-3.7 4.4-3.3 4.5-3.2 4.5-3.2 4.4-3.4 4.5-3.4 4.5-3.3M256.8 53.1l4.5 3.1 4.5 3.3 4.4 3.4 4.5 3.2 4.5 3.1 4.4 3.3 4.5 3.7 4.5 4.5 4.4 4.2 4.5 3.8 4.5 3.5 4.4 3.2 4.5 3.1 4.5 3 4.4 3 4.5 3 4.5 3.1 4.4 3.1 4.5 3 4.5 2.8 4.4 2.8 4.5 2.6 4.5 2.4 4.4 2 4.5 1.6 4.5 1.5 4.4 1 4.5 0.6 4.5 0.4 4.4 0.3 4.5 0.2 4.5 0.1 4.4-0.1 4.5-0.2 4.4-0.3 4.5-0.4 4.5-0.6 4.4-1 4.5-1.5 4.5-1.6 4.4-2 4.5-2.4 4.5-2.6 4.4-2.8 4.5-2.8 4.5-3 4.4-3.1 4.5-3.1 4.5-3 4.4-3 4.5-3 4.5-3.1 4.4-3.2 4.5-3.5 4.5-3.8 4.4-4.2 4.5-4.5 4.5-3.7 4.4-3.3 4.5-3.1 4.5-3.2 4.4-3.4 4.5-3.3 4.5-3.1M261.3 55l4.5 3.3 4.4 3.4 4.5 3.2 4.5 3.1 4.4 3.2 4.5 3.6 4.5 4.5 4.4 4.2 4.5 3.7 4.5 3.4 4.4 3.1 4.5 3.1 4.5 2.9 4.4 3 4.5 3 4.5 3 4.4 3 4.5 2.9 4.5 2.8 4.4 2.6 4.5 2.6 4.5 2.3 4.4 2 4.5 1.5 4.5 1.4 4.4 1 4.5 0.5 4.5 0.4 4.4 0.3 4.5 0.2 4.5 0.1 4.4-0.1 4.5-0.2 4.4-0.3 4.5-0.4 4.5-0.5 4.4-1 4.5-1.4 4.5-1.5 4.4-2 4.5-2.3 4.5-2.6 4.4-2.6 4.5-2.8 4.5-2.9 4.4-3 4.5-3 4.5-3 4.4-3 4.5-2.9 4.5-3.1 4.4-3.1 4.5-3.4 4.5-3.7 4.4-4.2 4.5-4.5 4.5-3.6 4.4-3.2 4.5-3.1 4.5-3.2 4.4-3.4 4.5-3.3M261.3 54.1l4.5 3.3 4.4 3.3 4.5 3.2 4.5 3 4.4 3.3 4.5 3.5 4.5 4.5 4.4 4.1 4.5 3.6 4.5 3.4 4.4 3.1 4.5 3 4.5 3 4.4 2.8 4.5 3 4.5 2.9 4.4 3 4.5 2.8 4.5 2.8 4.4 2.6 4.5 2.5 4.5 2.2 4.4 1.9 4.5 1.6 4.5 1.3 4.4 1 4.5 0.5 4.5 0.4 4.4 0.3 4.5 0.2 4.5 0 4.4 0 4.5-0.2 4.4-0.3 4.5-0.4 4.5-0.5 4.4-1 4.5-1.3 4.5-1.6 4.4-1.9 4.5-2.2 4.5-2.5 4.4-2.6 4.5-2.8 4.5-2.8 4.4-3 4.5-2.9 4.5-3 4.4-2.8 4.5-3 4.5-3 4.4-3.1 4.5-3.4 4.5-3.6 4.4-4.1 4.5-4.5 4.5-3.5 4.4-3.3 4.5-3 4.5-3.2 4.4-3.3 4.5-3.3M261.3 53.1l4.5 3.3 4.4 3.2 4.5 3.2 4.5 3 4.4 3.2 4.5 3.5 4.5 4.4 4.4 4.1 4.5 3.6 4.5 3.3 4.4 3.1 4.5 2.9 4.5 2.9 4.4 2.9 4.5 2.8 4.5 3 4.4 2.8 4.5 2.8 4.5 2.7 4.4 2.6 4.5 2.4 4.5 2.2 4.4 1.8 4.5 1.5 4.5 1.3 4.4 1 4.5 0.5 4.5 0.4 4.4 0.2 4.5 0.2 4.5 0.1 4.4-0.1 4.5-0.2 4.4-0.2 4.5-0.4 4.5-0.5 4.4-1 4.5-1.3 4.5-1.5 4.4-1.8 4.5-2.2 4.5-2.4 4.4-2.6 4.5-2.7 4.5-2.8 4.4-2.8 4.5-3 4.5-2.8 4.4-2.9 4.5-2.9 4.5-2.9 4.4-3.1 4.5-3.3 4.5-3.6 4.4-4.1 4.5-4.4 4.5-3.5 4.4-3.2 4.5-3 4.5-3.2 4.4-3.2 4.5-3.3M265.8 55l4.4 3.3 4.5 3.1 4.5 3 4.4 3.1 4.5 3.5 4.5 4.3 4.4 4 4.5 3.6 4.5 3.2 4.4 3.1 4.5 2.9 4.5 2.8 4.4 2.8 4.5 2.8 4.5 2.8 4.4 2.8 4.5 2.7 4.5 2.6 4.4 2.5 4.5 2.4 4.5 2.1 4.4 1.8 4.5 1.4 4.5 1.3 4.4 0.9 4.5 0.5 4.5 0.4 4.4 0.2 4.5 0.2 4.5 0.1 4.4-0.1 4.5-0.2 4.4-0.2 4.5-0.4 4.5-0.5 4.4-0.9 4.5-1.3 4.5-1.4 4.4-1.8 4.5-2.1 4.5-2.4 4.4-2.5 4.5-2.6 4.5-2.7 4.4-2.8 4.5-2.8 4.5-2.8 4.4-2.8 4.5-2.8 4.5-2.9 4.4-3.1 4.5-3.2 4.5-3.6 4.4-4 4.5-4.3 4.5-3.5 4.4-3.1 4.5-3 4.5-3.1 4.4-3.3M265.8 54l4.4 3.2 4.5 3.1 4.5 2.9 4.4 3.1 4.5 3.5 4.5 4.3 4.4 3.9 4.5 3.5 4.5 3.2 4.4 3 4.5 2.9 4.5 2.8 4.4 2.7 4.5 2.8 4.5 2.8 4.4 2.7 4.5 2.7 4.5 2.5 4.4 2.5 4.5 2.3 4.5 2.1 4.4 1.7 4.5 1.4 4.5 1.2 4.4 0.9 4.5 0.5 4.5 0.3 4.4 0.3 4.5 0.2 4.5 0 4.4 0 4.5-0.2 4.4-0.3 4.5-0.3 4.5-0.5 4.4-0.9 4.5-1.2 4.5-1.4 4.4-1.7 4.5-2.1 4.5-2.3 4.4-2.5 4.5-2.5 4.5-2.7 4.4-2.7 4.5-2.8 4.5-2.8 4.4-2.7 4.5-2.8 4.5-2.9 4.4-3 4.5-3.2 4.5-3.5 4.4-3.9 4.5-4.3 4.5-3.5 4.4-3.1 4.5-2.9 4.5-3.1 4.4-3.2M265.8 53.1l4.4 2.5 4.5 3 4.5 2.9 4.4 3.1 4.5 3.4 4.5 4.2 4.4 3.9 4.5 3.4 4.5 3.1 4.4 3 4.5 2.8 4.5 2.7 4.4 2.6 4.5 2.7 4.5 2.8 4.4 2.6 4.5 2.6 4.5 2.5 4.4 2.4 4.5 2.2 4.5 2 4.4 1.7 4.5 1.3 4.5 1.2 4.4 0.8 4.5 0.5 4.5 0.3 4.4 0.3 4.5 0.2 4.5 0 4.4 0 4.5-0.2 4.4-0.3 4.5-0.3 4.5-0.5 4.4-0.8 4.5-1.2 4.5-1.3 4.4-1.7 4.5-2 4.5-2.2 4.4-2.4 4.5-2.5 4.5-2.6 4.4-2.6 4.5-2.8 4.5-2.7 4.4-2.6 4.5-2.7 4.5-2.8 4.4-3 4.5-3.1 4.5-3.4 4.4-3.9 4.5-4.2 4.5-3.4 4.4-3.1 4.5-2.9 4.5-3 4.4-2.5M270.2 54.7l4.5 3 4.5 2.9 4.4 3 4.5 3.4 4.5 4.2 4.4 3.8 4.5 3.4 4.5 3.1 4.4 2.9 4.5 2.8 4.5 2.7 4.4 2.6 4.5 2.7 4.5 2.6 4.4 2.7 4.5 2.5 4.5 2.5 4.4 2.3 4.5 2.2 4.5 1.9 4.4 1.7 4.5 1.3 4.5 1.2 4.4 0.8 4.5 0.4 4.5 0.4 4.4 0.2 4.5 0.2 4.5 0 4.4 0 4.5-0.2 4.4-0.2 4.5-0.4 4.5-0.4 4.4-0.8 4.5-1.2 4.5-1.3 4.4-1.7 4.5-1.9 4.5-2.2 4.4-2.3 4.5-2.5 4.5-2.5 4.4-2.7 4.5-2.6 4.5-2.7 4.4-2.6 4.5-2.7 4.5-2.8 4.4-2.9 4.5-3.1 4.5-3.4 4.4-3.8 4.5-4.2 4.5-3.4 4.4-3 4.5-2.9 4.5-3"/>
<path fill="none" stroke="#3c4a9e" stroke-width="1.6" d="M234.5 160.1l4.5 0.1 4.4 0.3 4.5 0.5 4.5 0.9 4.4 0.9 4.5 0.9 4.5 0.9 4.4 1 4.5 1.1 4.5 1.4 4.4 1.8 4.5 2.1 4.5 2.2 4.4 2.1 4.5 2.2 4.5 2.3 4.4 2.2 4.5 2.2 4.5 2.3 4.4 2.1 4.5 2.2 4.5 2.1 4.4 2.1 4.5 1.9 4.5 1.7 4.4 1.7 4.5 1.5 4.5 1.5 4.4 1.4 4.5 1.4 4.5 1.2 4.4 0.9 4.5 0.8 4.5 0.6 4.4 0.4 4.5 0.3 4.5 0.1 4.4-0.1 4.5-0.3 4.4-0.4 4.5-0.6 4.5-0.8 4.4-0.9 4.5-1.2 4.5-1.4 4.4-1.4 4.5-1.5 4.5-1.5 4.4-1.7 4.5-1.7 4.5-1.9 4.4-2.1 4.5-2.1 4.5-2.2 4.4-2.1 4.5-2.3 4.5-2.2 4.4-2.2 4.5-2.3 4.5-2.2 4.4-2.1 4.5-2.2 4.5-2.1 4.4-1.8 4.5-1.4 4.5-1.1 4.4-1 4.5-0.9 4.5-0.9 4.4-0.9 4.5-0.9 4.5-0.5 4.4-0.3 4.5-0.1M234.5 159.3l4.5 0 4.4 0.2 4.5 0.5 4.5 0.8 4.4 0.8 4.5 0.8 4.5 0.8 4.4 0.9 4.5 1.1 4.5 1.4 4.4 1.7 4.5 2 4.5 2.1 4.4 2.1 4.5 2.1 4.5 2.2 4.4 2.2 4.5 2.2 4.5 2.2 4.4 2.1 4.5 2.1 4.5 2.1 4.4 2.1 4.5 1.8 4.5 1.8 4.4 1.6 4.5 1.5 4.5 1.5 4.4 1.4 4.5 1.4 4.5 1.1 4.4 1 4.5 0.8 4.5 0.6 4.4 0.4 4.5 0.3 4.5 0.1 4.4-0.1 4.5-0.3 4.4-0.4 4.5-0.6 4.5-0.8 4.4-1 4.5-1.1 4.5-1.4 4.4-1.4 4.5-1.5 4.5-1.5 4.4-1.6 4.5-1.8 4.5-1.8 4.4-2.1 4.5-2.1 4.5-2.1 4.4-2.1 4.5-2.2 4.5-2.2 4.4-2.2 4.5-2.2 4.5-2.1 4.4-2.1 4.5-2.1 4.5-2 4.4-1.7 4.5-1.4 4.5-1.1 4.4-0.9 4.5-0.8 4.5-0.8 4.4-0.8 4.5-0.8 4.5-0.5 4.4-0.2 4.5 0M234.5 158.4l4.5-0.1 4.4 0.1 4.5 0.3 4.5 0.7 4.4 0.8 4.5 0.7 4.5 0.7 4.4 0.8 4.5 1 4.5 1.3 4.4 1.7 4.5 1.9 4.5 2 4.4 2 4.5 2 4.5 2.2 4.4 2.1 4.5 2.1 4.5 2.2 4.4 2.1 4.5 2 4.5 2.1 4.4 2 4.5 1.8 4.5 1.7 4.4 1.6 4.5 1.5 4.5 1.5 4.4 1.4 4.5 1.3 4.5 1.2 4.4 1 4.5 0.7 4.5 0.7 4.4 0.3 4.5 0.3 4.5 0.1 4.4-0.1 4.5-0.3 4.4-0.3 4.5-0.7 4.5-0.7 4.4-1 4.5-1.2 4.5-1.3 4.4-1.4 4.5-1.5 4.5-1.5 4.4-1.6 4.5-1.7 4.5-1.8 4.4-2 4.5-2.1 4.5-2 4.4-2.1 4.5-2.2 4.5-2.1 4.4-2.1 4.5-2.2 4.5-2 4.4-2 4.5-2 4.5-1.9 4.4-1.7 4.5-1.3 4.5-1 4.4-0.8 4.5-0.7 4.5-0.7 4.4-0.8 4.5-0.7 4.5-0.3 4.4-0.1 4.5 0.1M234.5 157.3l4.5-0.2 4.4 0.1 4.5 0.2 4.5 0.5 4.4 0.7 4.5 0.6 4.5 0.6 4.4 0.8 4.5 0.9 4.5 1.2 4.4 1.5 4.5 1.8 4.5 2 4.4 1.9 4.5 2 4.5 2 4.4 2.1 4.5 2.1 4.5 2 4.4 2.1 4.5 2 4.5 2 4.4 2 4.5 1.8 4.5 1.7 4.4 1.5 4.5 1.5 4.5 1.4 4.4 1.5 4.5 1.3 4.5 1.1 4.4 1 4.5 0.8 4.5 0.6 4.4 0.4 4.5 0.3 4.5 0.1 4.4-0.1 4.5-0.3 4.4-0.4 4.5-0.6 4.5-0.8 4.4-1 4.5-1.1 4.5-1.3 4.4-1.5 4.5-1.4 4.5-1.5 4.4-1.5 4.5-1.7 4.5-1.8 4.4-2 4.5-2 4.5-2 4.4-2.1 4.5-2 4.5-2.1 4.4-2.1 4.5-2 4.5-2 4.4-1.9 4.5-2 4.5-1.8 4.4-1.5 4.5-1.2 4.5-0.9 4.4-0.8 4.5-0.6 4.5-0.6 4.4-0.7 4.5-0.5 4.5-0.2 4.4-0.1 4.5 0.2M234.5 156.2l4.5-0.3 4.4 0 4.5 0.1 4.5 0.4 4.4 0.5 4.5 0.5 4.5 0.6 4.4 0.6 4.5 0.9 4.5 1 4.4 1.5 4.5 1.7 4.5 1.9 4.4 1.8 4.5 1.9 4.5 2 4.4 2 4.5 1.9 4.5 2.1 4.4 2 4.5 1.9 4.5 2 4.4 1.9 4.5 1.8 4.5 1.6 4.4 1.6 4.5 1.5 4.5 1.4 4.4 1.4 4.5 1.3 4.5 1.1 4.4 0.9 4.5 0.8 4.5 0.6 4.4 0.5 4.5 0.2 4.5 0.2 4.4-0.2 4.5-0.2 4.4-0.5 4.5-0.6 4.5-0.8 4.4-0.9 4.5-1.1 4.5-1.3 4.4-1.4 4.5-1.4 4.5-1.5 4.4-1.6 4.5-1.6 4.5-1.8 4.4-1.9 4.5-2 4.5-1.9 4.4-2 4.5-2.1 4.5-1.9 4.4-2 4.5-2 4.5-1.9 4.4-1.8 4.5-1.9 4.5-1.7 4.4-1.5 4.5-1 4.5-0.9 4.4-0.6 4.5-0.6 4.5-0.5 4.4-0.5 4.5-0.4 4.5-0.1 4.4 0 4.5 0.3M234.5 155.1l4.5-0.4 4.4-0.2 4.5 0 4.5 0.3 4.4 0.4 4.5 0.4 4.5 0.4 4.4 0.6 4.5 0.7 4.5 1 4.4 1.4 4.5 1.6 4.5 1.7 4.4 1.8 4.5 1.8 4.5 1.9 4.4 1.9 4.5 1.9 4.5 2 4.4 1.9 4.5 2 4.5 1.9 4.4 1.8 4.5 1.8 4.5 1.6 4.4 1.5 4.5 1.5 4.5 1.4 4.4 1.3 4.5 1.3 4.5 1.1 4.4 1 4.5 0.8 4.5 0.6 4.4 0.4 4.5 0.3 4.5 0.1 4.4-0.1 4.5-0.3 4.4-0.4 4.5-0.6 4.5-0.8 4.4-1 4.5-1.1 4.5-1.3 4.4-1.3 4.5-1.4 4.5-1.5 4.4-1.5 4.5-1.6 4.5-1.8 4.4-1.8 4.5-1.9 4.5-2 4.4-1.9 4.5-2 4.5-1.9 4.4-1.9 4.5-1.9 4.5-1.8 4.4-1.8 4.5-1.7 4.5-1.6 4.4-1.4 4.5-1 4.5-0.7 4.4-0.6 4.5-0.4 4.5-0.4 4.4-0.4 4.5-0.3 4.5 0 4.4 0.2 4.5 0.4M234.5 153.9l4.5-0.5 4.4-0.3 4.5-0.1 4.5 0.2 4.4 0.3 4.5 0.2 4.5 0.4 4.4 0.4 4.5 0.7 4.5 0.8 4.4 1.3 4.5 1.5 4.5 1.6 4.4 1.7 4.5 1.7 4.5 1.8 4.4 1.9 4.5 1.8 4.5 1.9 4.4 1.9 4.5 1.9 4.5 1.9 4.4 1.8 4.5 1.7 4.5 1.6 4.4 1.5 4.5 1.4 4.5 1.4 4.4 1.3 4.5 1.3 4.5 1.1 4.4 0.9 4.5 0.8 4.5 0.6 4.4 0.5 4.5 0.3 4.5 0.1 4.4-0.1 4.5-0.3 4.4-0.5 4.5-0.6 4.5-0.8 4.4-0.9 4.5-1.1 4.5-1.3 4.4-1.3 4.5-1.4 4.5-1.4 4.4-1.5 4.5-1.6 4.5-1.7 4.4-1.8 4.5-1.9 4.5-1.9 4.4-1.9 4.5-1.9 4.5-1.8 4.4-1.9 4.5-1.8 4.5-1.7 4.4-1.7 4.5-1.6 4.5-1.5 4.4-1.3 4.5-0.8 4.5-0.7 4.4-0.4 4.5-0.4 4.5-0.2 4.4-0.3 4.5-0.2 4.5 0.1 4.4 0.3 4.5 0.5M234.5 152.7l4.5-0.6 4.4-0.4 4.5-0.3 4.5 0.1 4.4 0.1 4.5 0.2 4.5 0.2 4.4 0.4 4.5 0.5 4.5 0.8 4.4 1.1 4.5 1.4 4.5 1.6 4.4 1.5 4.5 1.7 4.5 1.7 4.4 1.7 4.5 1.8 4.5 1.8 4.4 1.9 4.5 1.8 4.5 1.8 4.4 1.8 4.5 1.7 4.5 1.5 4.4 1.5 4.5 1.4 4.5 1.4 4.4 1.3 4.5 1.2 4.5 1.1 4.4 1 4.5 0.7 4.5 0.7 4.4 0.4 4.5 0.3 4.5 0.1 4.4-0.1 4.5-0.3 4.4-0.4 4.5-0.7 4.5-0.7 4.4-1 4.5-1.1 4.5-1.2 4.4-1.3 4.5-1.4 4.5-1.4 4.4-1.5 4.5-1.5 4.5-1.7 4.4-1.8 4.5-1.8 4.5-1.8 4.4-1.9 4.5-1.8 4.5-1.8 4.4-1.7 4.5-1.7 4.5-1.7 4.4-1.5 4.5-1.6 4.5-1.4 4.4-1.1 4.5-0.8 4.5-0.5 4.4-0.4 4.5-0.2 4.5-0.2 4.4-0.1 4.5-0.1 4.5 0.3 4.4 0.4 4.5 0.6M234.5 151.5l4.5-0.7 4.4-0.6 4.5-0.4 4.5-0.1 4.4 0.1 4.5 0 4.5 0.1 4.4 0.3 4.5 0.4 4.5 0.7 4.4 1 4.5 1.3 4.5 1.5 4.4 1.4 4.5 1.6 4.5 1.6 4.4 1.7 4.5 1.7 4.5 1.7 4.4 1.8 4.5 1.8 4.5 1.8 4.4 1.7 4.5 1.6 4.5 1.5 4.4 1.5 4.5 1.4 4.5 1.3 4.4 1.3 4.5 1.2 4.5 1.1 4.4 0.9 4.5 0.8 4.5 0.7 4.4 0.4 4.5 0.3 4.5 0.1 4.4-0.1 4.5-0.3 4.4-0.4 4.5-0.7 4.5-0.8 4.4-0.9 4.5-1.1 4.5-1.2 4.4-1.3 4.5-1.3 4.5-1.4 4.4-1.5 4.5-1.5 4.5-1.6 4.4-1.7 4.5-1.8 4.5-1.8 4.4-1.8 4.5-1.7 4.5-1.7 4.4-1.7 4.5-1.6 4.5-1.6 4.4-1.4 4.5-1.5 4.5-1.3 4.4-1 4.5-0.7 4.5-0.4 4.4-0.3 4.5-0.1 4.5 0 4.4-0.1 4.5 0.1 4.5 0.4 4.4 0.6 4.5 0.7M234.5 150.3l4.5-0.9 4.4-0.7 4.5-0.5 4.5-0.2 4.4-0.1 4.5-0.1 4.5 0 4.4 0.2 4.5 0.3 4.5 0.6 4.4 0.9 4.5 1.1 4.5 1.4 4.4 1.4 4.5 1.4 4.5 1.5 4.4 1.6 4.5 1.6 4.5 1.7 4.4 1.8 4.5 1.7 4.5 1.7 4.4 1.7 4.5 1.6 4.5 1.4 4.4 1.5 4.5 1.3 4.5 1.4 4.4 1.3 4.5 1.2 4.5 1 4.4 0.9 4.5 0.8 4.5 0.7 4.4 0.4 4.5 0.3 4.5 0.1 4.4-0.1 4.5-0.3 4.4-0.4 4.5-0.7 4.5-0.8 4.4-0.9 4.5-1 4.5-1.2 4.4-1.3 4.5-1.4 4.5-1.3 4.4-1.5 4.5-1.4 4.5-1.6 4.4-1.7 4.5-1.7 4.5-1.7 4.4-1.8 4.5-1.7 4.5-1.6 4.4-1.6 4.5-1.5 4.5-1.4 4.4-1.4 4.5-1.4 4.5-1.1 4.4-0.9 4.5-0.6 4.5-0.3 4.4-0.2 4.5 0 4.5 0.1 4.4 0.1 4.5 0.2 4.5 0.5 4.4 0.7 4.5 0.9M234.5 149l4.5-1 4.4-0.8 4.5-0.7 4.5-0.3 4.4-0.2 4.5-0.2 4.5-0.1 4.4 0 4.5 0.2 4.5 0.5 4.4 0.8 4.5 1 4.5 1.3 4.4 1.2 4.5 1.4 4.5 1.4 4.4 1.5 4.5 1.6 4.5 1.6 4.4 1.7 4.5 1.6 4.5 1.7 4.4 1.6 4.5 1.6 4.5 1.4 4.4 1.4 4.5 1.4 4.5 1.3 4.4 1.2 4.5 1.2 4.5 1.1 4.4 0.9 4.5 0.8 4.5 0.6 4.4 0.5 4.5 0.3 4.5 0.1 4.4-0.1 4.5-0.3 4.4-0.5 4.5-0.6 4.5-0.8 4.4-0.9 4.5-1.1 4.5-1.2 4.4-1.2 4.5-1.3 4.5-1.4 4.4-1.4 4.5-1.4 4.5-1.6 4.4-1.6 4.5-1.7 4.5-1.6 4.4-1.7 4.5-1.6 4.5-1.6 4.4-1.5 4.5-1.4 4.5-1.4 4.4-1.2 4.5-1.3 4.5-1 4.4-0.8 4.5-0.5 4.5-0.2 4.4 0 4.5 0.1 4.5 0.2 4.4 0.2 4.5 0.3 4.5 0.7 4.4 0.8 4.5 1M234.5 147.7l4.5-1.1 4.4-0.9 4.5-0.8 4.5-0.5 4.4-0.4 4.5-0.3 4.5-0.2 4.4-0.1 4.5 0.1 4.5 0.4 4.4 0.6 4.5 1 4.5 1.1 4.4 1.2 4.5 1.2 4.5 1.4 4.4 1.4 4.5 1.4 4.5 1.6 4.4 1.6 4.5 1.6 4.5 1.7 4.4 1.5 4.5 1.5 4.5 1.4 4.4 1.4 4.5 1.3 4.5 1.3 4.4 1.3 4.5 1.1 4.5 1.1 4.4 0.9 4.5 0.7 4.5 0.7 4.4 0.5 4.5 0.3 4.5 0.1 4.4-0.1 4.5-0.3 4.4-0.5 4.5-0.7 4.5-0.7 4.4-0.9 4.5-1.1 4.5-1.1 4.4-1.3 4.5-1.3 4.5-1.3 4.4-1.4 4.5-1.4 4.5-1.5 4.4-1.5 4.5-1.7 4.5-1.6 4.4-1.6 4.5-1.6 4.5-1.4 4.4-1.4 4.5-1.4 4.5-1.2 4.4-1.2 4.5-1.1 4.5-1 4.4-0.6 4.5-0.4 4.5-0.1 4.4 0.1 4.5 0.2 4.5 0.3 4.4 0.4 4.5 0.5 4.5 0.8 4.4 0.9 4.5 1.1M234.5 146.4l4.5-1.2 4.4-1.1 4.5-0.9 4.5-0.7 4.4-0.4 4.5-0.5 4.5-0.4 4.4-0.1 4.5 0 4.5 0.2 4.4 0.5 4.5 0.9 4.5 1 4.4 1.1 4.5 1.1 4.5 1.3 4.4 1.3 4.5 1.4 4.5 1.5 4.4 1.5 4.5 1.6 4.5 1.6 4.4 1.5 4.5 1.4 4.5 1.4 4.4 1.3 4.5 1.3 4.5 1.3 4.4 1.2 4.5 1.2 4.5 1 4.4 0.9 4.5 0.8 4.5 0.6 4.4 0.5 4.5 0.3 4.5 0.2 4.4-0.2 4.5-0.3 4.4-0.5 4.5-0.6 4.5-0.8 4.4-0.9 4.5-1 4.5-1.2 4.4-1.2 4.5-1.3 4.5-1.3 4.4-1.3 4.5-1.4 4.5-1.4 4.4-1.5 4.5-1.6 4.5-1.6 4.4-1.5 4.5-1.5 4.5-1.4 4.4-1.3 4.5-1.3 4.5-1.1 4.4-1.1 4.5-1 4.5-0.9 4.4-0.5 4.5-0.2 4.5 0 4.4 0.1 4.5 0.4 4.5 0.5 4.4 0.4 4.5 0.7 4.5 0.9 4.4 1.1 4.5 1.2M234.5 145.1l4.5-1.3 4.4-1.3 4.5-1.1 4.5-0.7 4.4-0.6 4.5-0.6 4.5-0.5 4.4-0.3 4.5-0.1 4.5 0.1 4.4 0.4 4.5 0.7 4.5 1 4.4 0.9 4.5 1.1 4.5 1.1 4.4 1.3 4.5 1.3 4.5 1.4 4.4 1.5 4.5 1.5 4.5 1.5 4.4 1.5 4.5 1.4 4.5 1.3 4.4 1.3 4.5 1.3 4.5 1.3 4.4 1.2 4.5 1.1 4.5 1 4.4 0.9 4.5 0.7 4.5 0.7 4.4 0.5 4.5 0.3 4.5 0.2 4.4-0.2 4.5-0.3 4.4-0.5 4.5-0.7 4.5-0.7 4.4-0.9 4.5-1 4.5-1.1 4.4-1.2 4.5-1.3 4.5-1.3 4.4-1.3 4.5-1.3 4.5-1.4 4.4-1.5 4.5-1.5 4.5-1.5 4.4-1.5 4.5-1.4 4.5-1.3 4.4-1.3 4.5-1.1 4.5-1.1 4.4-0.9 4.5-1 4.5-0.7 4.4-0.4 4.5-0.1 4.5 0.1 4.4 0.3 4.5 0.5 4.5 0.6 4.4 0.6 4.5 0.7 4.5 1.1 4.4 1.3 4.5 1.3M234.5 143.7l4.5-1.4 4.4-1.4 4.5-1.2 4.5-0.9 4.4-0.8 4.5-0.7 4.5-0.6 4.4-0.4 4.5-0.2 4.5 0 4.4 0.3 4.5 0.6 4.5 0.8 4.4 0.9 4.5 0.9 4.5 1.1 4.4 1.1 4.5 1.2 4.5 1.4 4.4 1.4 4.5 1.4 4.5 1.5 4.4 1.4 4.5 1.4 4.5 1.3 4.4 1.3 4.5 1.2 4.5 1.3 4.4 1.1 4.5 1.1 4.5 1 4.4 0.9 4.5 0.8 4.5 0.7 4.4 0.4 4.5 0.4 4.5 0.1 4.4-0.1 4.5-0.4 4.4-0.4 4.5-0.7 4.5-0.8 4.4-0.9 4.5-1 4.5-1.1 4.4-1.1 4.5-1.3 4.5-1.2 4.4-1.3 4.5-1.3 4.5-1.4 4.4-1.4 4.5-1.5 4.5-1.4 4.4-1.4 4.5-1.4 4.5-1.2 4.4-1.1 4.5-1.1 4.5-0.9 4.4-0.9 4.5-0.8 4.5-0.6 4.4-0.3 4.5 0 4.5 0.2 4.4 0.4 4.5 0.6 4.5 0.7 4.4 0.8 4.5 0.9 4.5 1.2 4.4 1.4 4.5 1.4M234.5 142.4l4.5-1.6 4.4-1.5 4.5-1.4 4.5-1 4.4-0.9 4.5-0.9 4.5-0.7 4.4-0.5 4.5-0.3 4.5-0.1 4.4 0.1 4.5 0.5 4.5 0.7 4.4 0.8 4.5 0.8 4.5 1 4.4 1 4.5 1.1 4.5 1.3 4.4 1.4 4.5 1.4 4.5 1.4 4.4 1.4 4.5 1.2 4.5 1.3 4.4 1.3 4.5 1.2 4.5 1.2 4.4 1.2 4.5 1.1 4.5 0.9 4.4 0.9 4.5 0.8 4.5 0.7 4.4 0.4 4.5 0.4 4.5 0.1 4.4-0.1 4.5-0.4 4.4-0.4 4.5-0.7 4.5-0.8 4.4-0.9 4.5-0.9 4.5-1.1 4.4-1.2 4.5-1.2 4.5-1.2 4.4-1.3 4.5-1.3 4.5-1.2 4.4-1.4 4.5-1.4 4.5-1.4 4.4-1.4 4.5-1.3 4.5-1.1 4.4-1 4.5-1 4.5-0.8 4.4-0.8 4.5-0.7 4.5-0.5 4.4-0.1 4.5 0.1 4.5 0.3 4.4 0.5 4.5 0.7 4.5 0.9 4.4 0.9 4.5 1 4.5 1.4 4.4 1.5 4.5 1.6M234.5 141l4.5-1.7 4.4-1.6 4.5-1.5 4.5-1.3 4.4-1 4.5-1 4.5-0.8 4.4-0.6 4.5-0.5 4.5-0.2 4.4 0 4.5 0.4 4.5 0.6 4.4 0.6 4.5 0.8 4.5 0.8 4.4 0.9 4.5 1.1 4.5 1.2 4.4 1.3 4.5 1.3 4.5 1.4 4.4 1.3 4.5 1.3 4.5 1.2 4.4 1.2 4.5 1.3 4.5 1.1 4.4 1.2 4.5 1 4.5 1 4.4 0.8 4.5 0.8 4.5 0.7 4.4 0.5 4.5 0.4 4.5 0.1 4.4-0.1 4.5-0.4 4.4-0.5 4.5-0.7 4.5-0.8 4.4-0.8 4.5-1 4.5-1 4.4-1.2 4.5-1.1 4.5-1.3 4.4-1.2 4.5-1.2 4.5-1.3 4.4-1.3 4.5-1.4 4.5-1.3 4.4-1.3 4.5-1.2 4.5-1.1 4.4-0.9 4.5-0.8 4.5-0.8 4.4-0.6 4.5-0.6 4.5-0.4 4.4 0 4.5 0.2 4.5 0.5 4.4 0.6 4.5 0.8 4.5 1 4.4 1 4.5 1.3 4.5 1.5 4.4 1.6 4.5 1.7M234.5 139.7l4.5-1.9 4.4-1.8 4.5-1.6 4.5-1.4 4.4-1.2 4.5-1.1 4.5-0.9 4.4-0.8 4.5-0.5 4.5-0.4 4.4-0.1 4.5 0.2 4.5 0.5 4.4 0.6 4.5 0.6 4.5 0.7 4.4 0.9 4.5 1 4.5 1.1 4.4 1.2 4.5 1.3 4.5 1.3 4.4 1.3 4.5 1.2 4.5 1.2 4.4 1.2 4.5 1.2 4.5 1.1 4.4 1.1 4.5 1.1 4.5 0.9 4.4 0.9 4.5 0.7 4.5 0.7 4.4 0.5 4.5 0.4 4.5 0.1 4.4-0.1 4.5-0.4 4.4-0.5 4.5-0.7 4.5-0.7 4.4-0.9 4.5-0.9 4.5-1.1 4.4-1.1 4.5-1.1 4.5-1.2 4.4-1.2 4.5-1.2 4.5-1.2 4.4-1.3 4.5-1.3 4.5-1.3 4.4-1.2 4.5-1.1 4.5-1 4.4-0.9 4.5-0.7 4.5-0.6 4.4-0.6 4.5-0.5 4.5-0.2 4.4 0.1 4.5 0.4 4.5 0.5 4.4 0.8 4.5 0.9 4.5 1.1 4.4 1.2 4.5 1.4 4.5 1.6 4.4 1.8 4.5 1.9M234.5 138.3l4.5-2 4.4-1.9 4.5-1.8 4.5-1.6 4.4-1.3 4.5-1.2 4.5-1.1 4.4-0.9 4.5-0.6 4.5-0.5 4.4-0.3 4.5 0.1 4.5 0.4 4.4 0.5 4.5 0.5 4.5 0.6 4.4 0.8 4.5 0.9 4.5 1 4.4 1.2 4.5 1.2 4.5 1.3 4.4 1.2 4.5 1.1 4.5 1.2 4.4 1.2 4.5 1.1 4.5 1.2 4.4 1.1 4.5 1 4.5 0.9 4.4 0.8 4.5 0.8 4.5 0.7 4.4 0.5 4.5 0.4 4.5 0.1 4.4-0.1 4.5-0.4 4.4-0.5 4.5-0.7 4.5-0.8 4.4-0.8 4.5-0.9 4.5-1 4.4-1.1 4.5-1.2 4.5-1.1 4.4-1.2 4.5-1.2 4.5-1.1 4.4-1.2 4.5-1.3 4.5-1.2 4.4-1.2 4.5-1 4.5-0.9 4.4-0.8 4.5-0.6 4.5-0.5 4.4-0.5 4.5-0.4 4.5-0.1 4.4 0.3 4.5 0.5 4.5 0.6 4.4 0.9 4.5 1.1 4.5 1.2 4.4 1.3 4.5 1.6 4.5 1.8 4.4 1.9 4.5 2M234.5 136.9l4.5-2.1 4.4-2.1 4.5-2 4.5-1.6 4.4-1.5 4.5-1.4 4.5-1.2 4.4-1 4.5-0.8 4.5-0.6 4.4-0.3 4.5-0.1 4.5 0.3 4.4 0.4 4.5 0.4 4.5 0.5 4.4 0.6 4.5 0.9 4.5 0.9 4.4 1.1 4.5 1.2 4.5 1.2 4.4 1.2 4.5 1.1 4.5 1.1 4.4 1.1 4.5 1.2 4.5 1.1 4.4 1.1 4.5 1 4.5 0.8 4.4 0.9 4.5 0.8 4.5 0.7 4.4 0.5 4.5 0.4 4.5 0.1 4.4-0.1 4.5-0.4 4.4-0.5 4.5-0.7 4.5-0.8 4.4-0.9 4.5-0.8 4.5-1 4.4-1.1 4.5-1.1 4.5-1.2 4.4-1.1 4.5-1.1 4.5-1.1 4.4-1.2 4.5-1.2 4.5-1.2 4.4-1.1 4.5-0.9 4.5-0.9 4.4-0.6 4.5-0.5 4.5-0.4 4.4-0.4 4.5-0.3 4.5 0.1 4.4 0.3 4.5 0.6 4.5 0.8 4.4 1 4.5 1.2 4.5 1.4 4.4 1.5 4.5 1.6 4.5 2 4.4 2.1 4.5 2.1M234.5 135.5l4.5-2.3 4.4-2.2 4.5-2.1 4.5-1.8 4.4-1.6 4.5-1.5 4.5-1.4 4.4-1.1 4.5-0.9 4.5-0.7 4.4-0.5 4.5-0.2 4.5 0.2 4.4 0.2 4.5 0.3 4.5 0.4 4.4 0.6 4.5 0.7 4.5 0.9 4.4 1 4.5 1.1 4.5 1.2 4.4 1.1 4.5 1.1 4.5 1 4.4 1.1 4.5 1.2 4.5 1.1 4.4 1 4.5 1 4.5 0.9 4.4 0.8 4.5 0.8 4.5 0.7 4.4 0.5 4.5 0.4 4.5 0.1 4.4-0.1 4.5-0.4 4.4-0.5 4.5-0.7 4.5-0.8 4.4-0.8 4.5-0.9 4.5-1 4.4-1 4.5-1.1 4.5-1.2 4.4-1.1 4.5-1 4.5-1.1 4.4-1.1 4.5-1.2 4.5-1.1 4.4-1 4.5-0.9 4.5-0.7 4.4-0.6 4.5-0.4 4.5-0.3 4.4-0.2 4.5-0.2 4.5 0.2 4.4 0.5 4.5 0.7 4.5 0.9 4.4 1.1 4.5 1.4 4.5 1.5 4.4 1.6 4.5 1.8 4.5 2.1 4.4 2.2 4.5 2.3M234.5 134l4.5-2.3 4.4-2.4 4.5-2.3 4.5-2 4.4-1.7 4.5-1.6 4.5-1.5 4.4-1.3 4.5-1 4.5-0.8 4.4-0.6 4.5-0.3 4.5 0 4.4 0.1 4.5 0.2 4.5 0.4 4.4 0.4 4.5 0.6 4.5 0.9 4.4 0.9 4.5 1.1 4.5 1.1 4.4 1 4.5 1 4.5 1.1 4.4 1 4.5 1.1 4.5 1.1 4.4 1.1 4.5 0.9 4.5 0.8 4.4 0.9 4.5 0.8 4.5 0.7 4.4 0.5 4.5 0.4 4.5 0.1 4.4-0.1 4.5-0.4 4.4-0.5 4.5-0.7 4.5-0.8 4.4-0.9 4.5-0.8 4.5-0.9 4.4-1.1 4.5-1.1 4.5-1.1 4.4-1 4.5-1.1 4.5-1 4.4-1 4.5-1.1 4.5-1.1 4.4-0.9 4.5-0.9 4.5-0.6 4.4-0.4 4.5-0.4 4.5-0.2 4.4-0.1 4.5 0 4.5 0.3 4.4 0.6 4.5 0.8 4.5 1 4.4 1.3 4.5 1.5 4.5 1.6 4.4 1.7 4.5 2 4.5 2.3 4.4 2.4 4.5 2.3M234.5 132.6l4.5-2.5 4.4-2.5 4.5-2.4 4.5-2.2 4.4-1.9 4.5-1.7 4.5-1.7 4.4-1.3 4.5-1.1 4.5-1 4.4-0.8 4.5-0.4 4.5-0.1 4.4 0 4.5 0.1 4.5 0.2 4.4 0.4 4.5 0.5 4.5 0.8 4.4 0.9 4.5 1 4.5 1 4.4 1 4.5 1 4.5 1 4.4 1 4.5 1.1 4.5 1 4.4 1.1 4.5 0.9 4.5 0.8 4.4 0.8 4.5 0.8 4.5 0.7 4.4 0.6 4.5 0.4 4.5 0.1 4.4-0.1 4.5-0.4 4.4-0.6 4.5-0.7 4.5-0.8 4.4-0.8 4.5-0.8 4.5-0.9 4.4-1.1 4.5-1 4.5-1.1 4.4-1 4.5-1 4.5-1 4.4-1 4.5-1 4.5-1 4.4-0.9 4.5-0.8 4.5-0.5 4.4-0.4 4.5-0.2 4.5-0.1 4.4 0 4.5 0.1 4.5 0.4 4.4 0.8 4.5 1 4.5 1.1 4.4 1.3 4.5 1.7 4.5 1.7 4.4 1.9 4.5 2.2 4.5 2.4 4.4 2.5 4.5 2.5M234.5 131.2l4.5-2.7 4.4-2.6 4.5-2.6 4.5-2.3 4.4-2.1 4.5-1.9 4.5-1.7 4.4-1.5 4.5-1.2 4.5-1.2 4.4-0.8 4.5-0.6 4.5-0.2 4.4-0.1 4.5 0 4.5 0.1 4.4 0.3 4.5 0.4 4.5 0.7 4.4 0.8 4.5 0.9 4.5 1 4.4 1 4.5 0.9 4.5 0.9 4.4 1 4.5 1.1 4.5 1 4.4 1 4.5 0.9 4.5 0.8 4.4 0.8 4.5 0.8 4.5 0.7 4.4 0.6 4.5 0.4 4.5 0.1 4.4-0.1 4.5-0.4 4.4-0.6 4.5-0.7 4.5-0.8 4.4-0.8 4.5-0.8 4.5-0.9 4.4-1 4.5-1 4.5-1.1 4.4-1 4.5-0.9 4.5-0.9 4.4-1 4.5-1 4.5-0.9 4.4-0.8 4.5-0.7 4.5-0.4 4.4-0.3 4.5-0.1 4.5 0 4.4 0.1 4.5 0.2 4.5 0.6 4.4 0.8 4.5 1.2 4.5 1.2 4.4 1.5 4.5 1.7 4.5 1.9 4.4 2.1 4.5 2.3 4.5 2.6 4.4 2.6 4.5 2.7M234.5 129.7l4.5-2.8 4.4-2.8 4.5-2.7 4.5-2.5 4.4-2.2 4.5-2 4.5-1.9 4.4-1.6 4.5-1.4 4.5-1.2 4.4-1 4.5-0.7 4.5-0.3 4.4-0.2 4.5-0.1 4.5 0 4.4 0.1 4.5 0.4 4.5 0.6 4.4 0.7 4.5 0.9 4.5 0.9 4.4 0.9 4.5 0.8 4.5 1 4.4 1 4.5 1 4.5 1 4.4 1 4.5 0.8 4.5 0.8 4.4 0.8 4.5 0.8 4.5 0.7 4.4 0.6 4.5 0.4 4.5 0.2 4.4-0.2 4.5-0.4 4.4-0.6 4.5-0.7 4.5-0.8 4.4-0.8 4.5-0.8 4.5-0.8 4.4-1 4.5-1 4.5-1 4.4-1 4.5-1 4.5-0.8 4.4-0.9 4.5-0.9 4.5-0.9 4.4-0.7 4.5-0.6 4.5-0.4 4.4-0.1 4.5 0 4.5 0.1 4.4 0.2 4.5 0.3 4.5 0.7 4.4 1 4.5 1.2 4.5 1.4 4.4 1.6 4.5 1.9 4.5 2 4.4 2.2 4.5 2.5 4.5 2.7 4.4 2.8 4.5 2.8M234.5 128.2l4.5-2.8 4.4-3 4.5-2.9 4.5-2.6 4.4-2.4 4.5-2.2 4.5-2 4.4-1.7 4.5-1.5 4.5-1.4 4.4-1.1 4.5-0.8 4.5-0.4 4.4-0.4 4.5-0.2 4.5-0.1 4.4 0 4.5 0.3 4.5 0.5 4.4 0.7 4.5 0.8 4.5 0.9 4.4 0.8 4.5 0.8 4.5 0.9 4.4 0.9 4.5 1 4.5 1 4.4 1 4.5 0.8 4.5 0.8 4.4 0.8 4.5 0.8 4.5 0.7 4.4 0.6 4.5 0.4 4.5 0.1 4.4-0.1 4.5-0.4 4.4-0.6 4.5-0.7 4.5-0.8 4.4-0.8 4.5-0.8 4.5-0.8 4.4-1 4.5-1 4.5-1 4.4-0.9 4.5-0.9 4.5-0.8 4.4-0.8 4.5-0.9 4.5-0.8 4.4-0.7 4.5-0.5 4.5-0.3 4.4 0 4.5 0.1 4.5 0.2 4.4 0.4 4.5 0.4 4.5 0.8 4.4 1.1 4.5 1.4 4.5 1.5 4.4 1.7 4.5 2 4.5 2.2 4.4 2.4 4.5 2.6 4.5 2.9 4.4 3 4.5 2.8M234.5 126.8l4.5-3.1 4.4-3.1 4.5-3 4.5-2.8 4.4-2.5 4.5-2.3 4.5-2.2 4.4-1.8 4.5-1.6 4.5-1.5 4.4-1.3 4.5-1 4.5-0.5 4.4-0.5 4.5-0.3 4.5-0.2 4.4-0.1 4.5 0.2 4.5 0.4 4.4 0.7 4.5 0.7 4.5 0.8 4.4 0.8 4.5 0.7 4.5 0.9 4.4 0.9 4.5 1 4.5 0.9 4.4 1 4.5 0.8 4.5 0.7 4.4 0.8 4.5 0.8 4.5 0.7 4.4 0.6 4.5 0.5 4.5 0.1 4.4-0.1 4.5-0.5 4.4-0.6 4.5-0.7 4.5-0.8 4.4-0.8 4.5-0.7 4.5-0.8 4.4-1 4.5-0.9 4.5-1 4.4-0.9 4.5-0.9 4.5-0.7 4.4-0.8 4.5-0.8 4.5-0.7 4.4-0.7 4.5-0.4 4.5-0.2 4.4 0.1 4.5 0.2 4.5 0.3 4.4 0.5 4.5 0.5 4.5 1 4.4 1.3 4.5 1.5 4.5 1.6 4.4 1.8 4.5 2.2 4.5 2.3 4.4 2.5 4.5 2.8 4.5 3 4.4 3.1 4.5 3.1"/>
<path fill="none" stroke="#3c4a9e" stroke-width="5.2" d="M234.5 157.7l4.5 0.1 4.4 0.3 4.5 0.5 4.5 0.9 4.4 0.9 4.5 0.9 4.5 0.9 4.4 1 4.5 1.1 4.5 1.4 4.4 1.8 4.5 2.1 4.5 2.2 4.4 2.1 4.5 2.2 4.5 2.3 4.4 2.2 4.5 2.2 4.5 2.3 4.4 2.1 4.5 2.2 4.5 2.1 4.4 2.1 4.5 1.9 4.5 1.7 4.4 1.7 4.5 1.5 4.5 1.5 4.4 1.4 4.5 1.4 4.5 1.2 4.4 0.9 4.5 0.8 4.5 0.6 4.4 0.4 4.5 0.3 4.5 0.1 4.4-0.1 4.5-0.3 4.4-0.4 4.5-0.6 4.5-0.8 4.4-0.9 4.5-1.2 4.5-1.4 4.4-1.4 4.5-1.5 4.5-1.5 4.4-1.7 4.5-1.7 4.5-1.9 4.4-2.1 4.5-2.1 4.5-2.2 4.4-2.1 4.5-2.3 4.5-2.2 4.4-2.2 4.5-2.3 4.5-2.2 4.4-2.1 4.5-2.2 4.5-2.1 4.4-1.8 4.5-1.4 4.5-1.1 4.4-1 4.5-0.9 4.5-0.9 4.4-0.9 4.5-0.9 4.5-0.5 4.4-0.3 4.5-0.1"/>
<path fill="none" stroke="#3c4a9e" stroke-width="1.7" d="M249.4 65.8l-2.2-1.5 -2.2 0 -2.2 0.8 -2.2 1.1 -2.2 1.9 -2.2 1.9 -2.2 1.3M550 65.8l2.3-1.5 2.2 0 2.2 0.8 2.2 1.1 2.2 1.9 2.2 1.9 2.2 1.3M263.8 75.2l-4.2-1.2 -4.3 1.1 -4.2 1.9 -4.3 1.9 -4.3 2.4 -4.2 2.4 -4.3 2.1M535.6 75.2l4.3-1.2 4.3 1.1 4.2 1.9 4.3 1.9 4.3 2.4 4.2 2.4 4.3 2.1M279.6 88.4l-6.5-0.7 -6.5 1.5 -6.5 2.1 -6.5 2 -6.6 2.4 -6.5 2.5 -6.5 2.2M519.8 88.4l6.6-0.7 6.5 1.5 6.5 2.1 6.5 2 6.6 2.4 6.5 2.5 6.5 2.2M292.2 101.4l-8.3-0.4 -8.3 1.7 -8.3 2.4 -8.3 2.2 -8.4 2.6 -8.3 2.7 -8.3 2.4M507.2 101.4l8.4-0.4 8.3 1.7 8.3 2.4 8.3 2.2 8.4 2.6 8.3 2.7 8.3 2.4"/>
</g>
<use href="#qA" transform="translate(0 491.20) scale(1 -1)"/>
<path d="M236 160.2l4.2 0.6 4.2 0.7 4.2 0.8 4.2 1 4.2 1 4.2 1.1 4.2 1.3 4.2 1.4 4.2 1.7 4.2 1.7 4.2 1.8 4.2 1.9 4.2 1.8 4.2 1.8 4.2 1.9 4.2 1.9 4.2 2 4.2 2 4.2 2 4.2 2.1 4.2 2.1 4.2 2.1 4.2 2.1 4.2 2.1 4.2 2.1 4.2 2.3 4.2 2.2 4.2 2.4 4.2 2.4 4.2 2.5 4.2 2.6 4.2 2.8 4.2 3 4.2 3.3 4.2 3.6 4.2 3.7 4.2 4 4.2 4.2 4.2 4.4 4.1 4.9 4.2 4.5 4.2 4.3 4.2 3.9 4.2 3.7 4.2 3.3 4.2 2.9 4.2 2.6 4.2 2.3 4.2 2.4 4.2 2.5 4.2 2.5 4.2 2.5 4.2 2.5 4.2 2.4 4.2 2.4 4.2 2.3 4.2 2.2 4.2 2.1 4.2 2.1 4.2 2 4.2 2 4.2 2 4.2 1.8 4.2 1.9 4.2 1.7 4.2 1.8 4.2 1.8 4.2 1.7 4.2 1.7 4.2 1.5 4.2 1.5 4.2 1.3 4.2 1.2 4.2 1 4.2 1 4.2 1 4.2 0.8 4.2 0.7" stroke="#c9d0c6" stroke-width="0.9" fill="none"/>
<path d="M236 331.3l4.2-0.7 4.2-0.8 4.2-1 4.2-1 4.2-1 4.2-1.2 4.2-1.3 4.2-1.5 4.2-1.5 4.2-1.7 4.2-1.7 4.2-1.8 4.2-1.8 4.2-1.7 4.2-1.9 4.2-1.8 4.2-2 4.2-2 4.2-2 4.2-2.1 4.2-2.1 4.2-2.2 4.2-2.3 4.2-2.4 4.2-2.4 4.2-2.5 4.2-2.5 4.2-2.5 4.2-2.5 4.2-2.4 4.2-2.3 4.2-2.6 4.2-2.9 4.2-3.3 4.2-3.7 4.2-3.9 4.2-4.3 4.2-4.5 4.2-4.9 4.1-4.4 4.2-4.2 4.2-4 4.2-3.7 4.2-3.6 4.2-3.3 4.2-3 4.2-2.8 4.2-2.6 4.2-2.5 4.2-2.4 4.2-2.4 4.2-2.2 4.2-2.3 4.2-2.1 4.2-2.1 4.2-2.1 4.2-2.1 4.2-2.1 4.2-2.1 4.2-2 4.2-2 4.2-2 4.2-1.9 4.2-1.9 4.2-1.8 4.2-1.8 4.2-1.9 4.2-1.8 4.2-1.7 4.2-1.7 4.2-1.4 4.2-1.3 4.2-1.1 4.2-1 4.2-1 4.2-0.8 4.2-0.7 4.2-0.6" stroke="#f4bcb6" stroke-width="0.9" fill="none"/>
</g>
<g clip-path="url(#cB)">
<g id="qB">
<path fill="#3c4a9e" d="M684 33.4l1.9 1.9 1.8 1.9 1.9 1.9 1.8 1.9 1.9 1.9 1.9 1.8 1.8 1.9 1.9 1.9 1.8 1.9 1.9 1.9 1.9 1.8 1.8 1.8 1.9 0 1.8 0 1.9 0 1.9 0 1.8 0 1.9 0 1.9 0 1.8 1.1 1.9 1.8 1.8 1.9 1.9 1.9 1.9 1.9 1.8 1.9 1.9 1.9 1.8 1.8 1.9 1.9 1.9 1.9 1.8 1.9 1.9 1.9 1.8 1.8 1.9 1.9 1.9 1.9 1.8 1.9 1.9 1.9 1.8 1.9 1.9 1.8 1.9 1.9 1.8 1.9 1.9 1.9 1.8 1.9 1.9 1.9 1.9 1.9 1.8 1.9 1.9 2 1.9 2 1.8 2 1.9 2.2 1.8 2.1 1.9 2.2 1.9 2.3 1.8 2.2 1.9 2.3 1.8 2.4 1.9 2.3 1.9 2.3 1.8 2.4 1.9 2.3 1.8 2.3 1.9 2.3 1.9 2.3 1.8 2.3 1.9 2.2 1.8 2.2 1.9 2.1 1.9 2.2 1.8 2 1.9 2 1.8 1.9 1.9 1.9 1.9 1.8 1.8 1.7 1.9 1.6 1.9 1.5 1.8 1.4 1.9 1.3 1.8 1.2 1.9 1.1 1.9 1 1.8 0.8 1.9 0.8 1.8 0.7 1.9 0.6 1.9 0.6 1.8 0.6 1.9 0.5 1.8 0.4 1.9 0.4 1.9-0.4 1.8-0.4 1.9-0.5 1.8-0.6 1.9-0.6 1.9-0.6 1.8-0.7 1.9-0.8 1.8-0.8 1.9-1 1.9-1.1 1.8-1.2 1.9-1.3 1.8-1.4 1.9-1.5 1.9-1.6 1.8-1.7 1.9-1.8 1.9-1.9 1.8-1.9 1.9-2 1.8-2 1.9-2.2 1.9-2.1 1.8-2.2 1.9-2.2 1.8-2.3 1.9-2.3 1.9-2.3 1.8-2.3 1.9-2.3 1.8-2.4 1.9-2.3 1.9-2.3 1.8-2.4 1.9-2.3 1.8-2.2 1.9-2.3 1.9-2.2 1.8-2.1 1.9-2.2 1.8-2 1.9-2 1.9-2 1.8-1.9 1.9-1.9 1.9-1.9 1.8-1.9 1.9-1.9 1.8-1.9 1.9-1.9 1.9-1.8 1.8-1.9 1.9-1.9 1.8-1.9 1.9-1.9 1.9-1.9 1.8-1.8 1.9-1.9 1.8-1.9 1.9-1.9 1.9-1.9 1.8-1.8 1.9-1.9 1.8-1.9 1.9-1.9 1.9-1.9 1.8-1.9 1.9-1.8 1.8-1.1 1.9 0 1.9 0 1.8 0 1.9 0 1.9 0 1.8 0 1.9 0 1.8-1.8 1.9-1.8 1.9-1.9 1.8-1.9 1.9-1.9 1.8-1.9 1.9-1.8 1.9-1.9 1.8-1.9 1.9-1.9 1.8-1.9 1.9-1.9 -1.9 1.9 -1.8 1.9 -1.9 1.9 -1.8 1.9 -1.9 1.9 -1.9 1.8 -1.8 1.9 -1.9 1.9 -1.8 1.9 -1.9 1.9 -1.9 1.8 -1.8 1.9 -1.9 1.9 -1.8 1.9 -1.9 1.9 -1.9 1.9 -1.8 1.9 -1.9 1.8 -1.9 1.9 -1.8 1.9 -1.9 1.9 -1.8 1.9 -1.9 1.8 -1.9 1.9 -1.8 1.9 -1.9 1.9 -1.8 1.9 -1.9 1.8 -1.9 1.9 -1.8 1.9 -1.9 1.9 -1.8 1.9 -1.9 1.9 -1.9 1.9 -1.8 1.9 -1.9 1.9 -1.8 1.9 -1.9 1.9 -1.9 1.9 -1.8 2 -1.9 2 -1.8 2.1 -1.9 2.1 -1.9 2.2 -1.8 2.2 -1.9 2.3 -1.9 2.3 -1.8 2.3 -1.9 2.3 -1.8 2.3 -1.9 2.4 -1.9 2.3 -1.8 2.3 -1.9 2.3 -1.8 2.3 -1.9 2.3 -1.9 2.3 -1.8 2.2 -1.9 2.2 -1.8 2.1 -1.9 2.1 -1.9 2 -1.8 2 -1.9 1.9 -1.8 1.8 -1.9 1.7 -1.9 1.7 -1.8 1.6 -1.9 1.4 -1.8 1.4 -1.9 1.3 -1.9 1.1 -1.8 1.1 -1.9 0.9 -1.9 0.8 -1.8 0.7 -1.9 0.7 -1.8 0.6 -1.9 0.6 -1.9 0.5 -1.8 0.5 -1.9 0.4 -1.8 0.3 -1.9 0.2 -1.9 0.1 -1.8 0.2 -1.9 0.1 -1.8 0.1 -1.9 0 -1.9 0 -1.8-0.1 -1.9-0.1 -1.8-0.2 -1.9-0.1 -1.9-0.2 -1.8-0.3 -1.9-0.4 -1.8-0.5 -1.9-0.5 -1.9-0.6 -1.8-0.6 -1.9-0.7 -1.8-0.7 -1.9-0.8 -1.9-0.9 -1.8-1.1 -1.9-1.1 -1.9-1.3 -1.8-1.4 -1.9-1.4 -1.8-1.6 -1.9-1.7 -1.9-1.7 -1.8-1.8 -1.9-1.9 -1.8-2 -1.9-2 -1.9-2.1 -1.8-2.1 -1.9-2.2 -1.8-2.2 -1.9-2.3 -1.9-2.3 -1.8-2.3 -1.9-2.3 -1.8-2.3 -1.9-2.3 -1.9-2.4 -1.8-2.3 -1.9-2.3 -1.8-2.3 -1.9-2.3 -1.9-2.3 -1.8-2.2 -1.9-2.2 -1.9-2.1 -1.8-2.1 -1.9-2 -1.8-2 -1.9-1.9 -1.9-1.9 -1.8-1.9 -1.9-1.9 -1.8-1.9 -1.9-1.9 -1.9-1.9 -1.8-1.9 -1.9-1.9 -1.8-1.9 -1.9-1.9 -1.9-1.8 -1.8-1.9 -1.9-1.9 -1.8-1.9 -1.9-1.9 -1.9-1.8 -1.8-1.9 -1.9-1.9 -1.8-1.9 -1.9-1.9 -1.9-1.8 -1.8-1.9 -1.9-1.9 -1.9-1.9 -1.8-1.9 -1.9-1.9 -1.8-1.9 -1.9-1.8 -1.9-1.9 -1.8-1.9 -1.9-1.9 -1.8-1.9 -1.9-1.8 -1.9-1.9 -1.8-1.9 -1.9-1.9 -1.8-1.9 -1.9-1.9zM755.7 105.4l8 0 85.9 0 85.9 0 8 0 -8 8.9 -85.9 0 -85.9 0 -8-8.9z"/>
<path fill="none" stroke="#3c4a9e" stroke-width="1.5" d="M738 51.9l4.5 2.6 4.5 4 4.4 3.8 4.5 3.6 4.5 3.5 4.4 3.5 4.5 3.5 4.4 3.4 4.5 3.2 4.5 3.1 4.4 2.9 4.5 2.7 4.5 2.6 4.4 2.4 4.5 2.2 4.4 1.8 4.5 1.8 4.5 1.5 4.4 1.1 4.5 0.8 4.5 0.7 4.4 0.3 4.5 0.3 4.4 0.1 4.5 0.1 4.5-0.1 4.4-0.1 4.5-0.3 4.4-0.3 4.5-0.7 4.5-0.8 4.4-1.1 4.5-1.5 4.5-1.8 4.4-1.8 4.5-2.2 4.4-2.4 4.5-2.6 4.5-2.7 4.4-2.9 4.5-3.1 4.5-3.2 4.4-3.4 4.5-3.5 4.4-3.5 4.5-3.5 4.5-3.6 4.4-3.8 4.5-4 4.5-2.6M742.5 53.2l4.5 3.9 4.4 3.7 4.5 3.6 4.5 3.3 4.4 3.5 4.5 3.4 4.4 3.3 4.5 3.1 4.5 3.1 4.4 2.8 4.5 2.7 4.5 2.5 4.4 2.3 4.5 2.2 4.4 1.8 4.5 1.6 4.5 1.5 4.4 1.2 4.5 0.7 4.5 0.6 4.4 0.4 4.5 0.2 4.4 0.1 4.5 0.1 4.5-0.1 4.4-0.1 4.5-0.2 4.4-0.4 4.5-0.6 4.5-0.7 4.4-1.2 4.5-1.5 4.5-1.6 4.4-1.8 4.5-2.2 4.4-2.3 4.5-2.5 4.5-2.7 4.4-2.8 4.5-3.1 4.5-3.1 4.4-3.3 4.5-3.4 4.4-3.5 4.5-3.3 4.5-3.6 4.4-3.7 4.5-3.9M742.5 52.1l4.5 3.7 4.4 3.7 4.5 3.4 4.5 3.3 4.4 3.4 4.5 3.4 4.4 3.2 4.5 3 4.5 3 4.4 2.8 4.5 2.6 4.5 2.4 4.4 2.3 4.5 2.1 4.4 1.8 4.5 1.6 4.5 1.5 4.4 1.1 4.5 0.7 4.5 0.6 4.4 0.3 4.5 0.2 4.4 0.1 4.5 0.1 4.5-0.1 4.4-0.1 4.5-0.2 4.4-0.3 4.5-0.6 4.5-0.7 4.4-1.1 4.5-1.5 4.5-1.6 4.4-1.8 4.5-2.1 4.4-2.3 4.5-2.4 4.5-2.6 4.4-2.8 4.5-3 4.5-3 4.4-3.2 4.5-3.4 4.4-3.4 4.5-3.3 4.5-3.4 4.4-3.7 4.5-3.7M742.5 51.9l4.5 2.4 4.4 3.5 4.5 3.3 4.5 3.2 4.4 3.3 4.5 3.3 4.4 3.1 4.5 3 4.5 2.8 4.4 2.8 4.5 2.5 4.5 2.4 4.4 2.2 4.5 2 4.4 1.7 4.5 1.6 4.5 1.4 4.4 1.1 4.5 0.7 4.5 0.5 4.4 0.3 4.5 0.2 4.4 0.1 4.5 0.1 4.5-0.1 4.4-0.1 4.5-0.2 4.4-0.3 4.5-0.5 4.5-0.7 4.4-1.1 4.5-1.4 4.5-1.6 4.4-1.7 4.5-2 4.4-2.2 4.5-2.4 4.5-2.5 4.4-2.8 4.5-2.8 4.5-3 4.4-3.1 4.5-3.3 4.4-3.3 4.5-3.2 4.5-3.3 4.4-3.5 4.5-2.4M747 52.7l4.4 3.4 4.5 3.2 4.5 3.1 4.4 3.2 4.5 3.2 4.4 3 4.5 2.9 4.5 2.8 4.4 2.6 4.5 2.5 4.5 2.3 4.4 2.2 4.5 1.9 4.4 1.7 4.5 1.5 4.5 1.4 4.4 1 4.5 0.7 4.5 0.5 4.4 0.3 4.5 0.1 4.4 0.2 4.5 0 4.5 0 4.4-0.2 4.5-0.1 4.4-0.3 4.5-0.5 4.5-0.7 4.4-1 4.5-1.4 4.5-1.5 4.4-1.7 4.5-1.9 4.4-2.2 4.5-2.3 4.5-2.5 4.4-2.6 4.5-2.8 4.5-2.9 4.4-3 4.5-3.2 4.4-3.2 4.5-3.1 4.5-3.2 4.4-3.4M747 51.9l4.4 2.3 4.5 3.1 4.5 3 4.4 3 4.5 3.1 4.4 2.9 4.5 2.8 4.5 2.7 4.4 2.6 4.5 2.4 4.5 2.2 4.4 2.1 4.5 1.9 4.4 1.6 4.5 1.5 4.5 1.3 4.4 0.9 4.5 0.7 4.5 0.5 4.4 0.2 4.5 0.2 4.4 0.1 4.5 0 4.5 0 4.4-0.1 4.5-0.2 4.4-0.2 4.5-0.5 4.5-0.7 4.4-0.9 4.5-1.3 4.5-1.5 4.4-1.6 4.5-1.9 4.4-2.1 4.5-2.2 4.5-2.4 4.4-2.6 4.5-2.7 4.5-2.8 4.4-2.9 4.5-3.1 4.4-3 4.5-3 4.5-3.1 4.4-2.3M751.4 52.2l4.5 3 4.5 2.8 4.4 3 4.5 3 4.4 2.8 4.5 2.7 4.5 2.6 4.4 2.5 4.5 2.2 4.5 2.2 4.4 2 4.5 1.9 4.4 1.5 4.5 1.4 4.5 1.3 4.4 0.9 4.5 0.6 4.5 0.4 4.4 0.2 4.5 0.2 4.4 0.1 4.5 0 4.5 0 4.4-0.1 4.5-0.2 4.4-0.2 4.5-0.4 4.5-0.6 4.4-0.9 4.5-1.3 4.5-1.4 4.4-1.5 4.5-1.9 4.4-2 4.5-2.2 4.5-2.2 4.4-2.5 4.5-2.6 4.5-2.7 4.4-2.8 4.5-3 4.4-3 4.5-2.8 4.5-3M760.4 53.2l4.4 2.7 4.5 2.8 4.4 2.6 4.5 2.4 4.5 2.4 4.4 2.3 4.5 2.1 4.5 2 4.4 1.9 4.5 1.7 4.4 1.3 4.5 1.3 4.5 1.2 4.4 0.8 4.5 0.5 4.5 0.4 4.4 0.1 4.5 0.1 4.4 0.1 4.5 0 4.5 0 4.4-0.1 4.5-0.1 4.4-0.1 4.5-0.4 4.5-0.5 4.4-0.8 4.5-1.2 4.5-1.3 4.4-1.3 4.5-1.7 4.4-1.9 4.5-2 4.5-2.1 4.4-2.3 4.5-2.4 4.5-2.4 4.4-2.6 4.5-2.8 4.4-2.7M764.8 53.5l4.5 2.6 4.4 2.5 4.5 2.3 4.5 2.3 4.4 2.2 4.5 2 4.5 1.9 4.4 1.8 4.5 1.6 4.4 1.4 4.5 1.2 4.5 1.1 4.4 0.8 4.5 0.4 4.5 0.4 4.4 0.1 4.5 0 4.4 0.1 4.5 0 4.5 0 4.4-0.1 4.5 0 4.4-0.1 4.5-0.4 4.5-0.4 4.4-0.8 4.5-1.1 4.5-1.2 4.4-1.4 4.5-1.6 4.4-1.8 4.5-1.9 4.5-2 4.4-2.2 4.5-2.3 4.5-2.3 4.4-2.5 4.5-2.6M769.3 53.6l4.4 2.3 4.5 2.3 4.5 2.2 4.4 2.1 4.5 1.9 4.5 1.9 4.4 1.7 4.5 1.5 4.4 1.3 4.5 1.2 4.5 1 4.4 0.7 4.5 0.4 4.5 0.3 4.4 0.1 4.5 0.1 4.4 0 4.5 0 4.5 0 4.4 0 4.5-0.1 4.4-0.1 4.5-0.3 4.5-0.4 4.4-0.7 4.5-1 4.5-1.2 4.4-1.3 4.5-1.5 4.4-1.7 4.5-1.9 4.5-1.9 4.4-2.1 4.5-2.2 4.5-2.3 4.4-2.3M773.7 53.3l4.5 2.2 4.5 2.1 4.4 2 4.5 1.9 4.5 1.7 4.4 1.6 4.5 1.5 4.4 1.2 4.5 1.1 4.5 1 4.4 0.7 4.5 0.3 4.5 0.3 4.4 0.1 4.5 0 4.4 0 4.5 0 4.5 0 4.4 0 4.5 0 4.4-0.1 4.5-0.3 4.5-0.3 4.4-0.7 4.5-1 4.5-1.1 4.4-1.2 4.5-1.5 4.4-1.6 4.5-1.7 4.5-1.9 4.4-2 4.5-2.1 4.5-2.2M778.2 52.8l4.5 2 4.4 1.9 4.5 1.8 4.5 1.6 4.4 1.6 4.5 1.4 4.4 1.1 4.5 1.1 4.5 0.9 4.4 0.6 4.5 0.4 4.5 0.2 4.4 0 4.5 0 4.4 0 4.5 0 4.5 0 4.4 0 4.5 0 4.4 0 4.5-0.2 4.5-0.4 4.4-0.6 4.5-0.9 4.5-1.1 4.4-1.1 4.5-1.4 4.4-1.6 4.5-1.6 4.5-1.8 4.4-1.9 4.5-2M787.1 53.8l4.5 1.7 4.5 1.5 4.4 1.5 4.5 1.4 4.4 1 4.5 1 4.5 0.9 4.4 0.6 4.5 0.3 4.5 0.1 4.4 0.1 4.5-0.1 4.4 0 4.5 0 4.5 0 4.4 0 4.5 0.1 4.4-0.1 4.5-0.1 4.5-0.3 4.4-0.6 4.5-0.9 4.5-1 4.4-1 4.5-1.4 4.4-1.5 4.5-1.5 4.5-1.7M791.6 52.5l4.5 1.5 4.4 1.4 4.5 1.2 4.4 1 4.5 1 4.5 0.8 4.4 0.5 4.5 0.3 4.5 0.1 4.4 0 4.5-0.1 4.4 0 4.5 0 4.5 0 4.4 0 4.5 0.1 4.4 0 4.5-0.1 4.5-0.3 4.4-0.5 4.5-0.8 4.5-1 4.4-1 4.5-1.2 4.4-1.4 4.5-1.5M816 106.3l-3.1-1.2 -3-1.2 -3.1-1.3 -3.1-1.4 -3-1.5 -3.1-1.7 -3-1.8 -3.1-1.8 -3-1.9 -3.1-2 -3.1-2.1 -3-2.1 -3.1-2.2 -3-2.2 -3.1-2.3 -3-2.4 -3.1-2.4 -3.1-2.4 -3-2.4 -3.1-2.4 -3-2.5 -3.1-2.6 -3.1-2.6 -3-2.8 -3.1-2.8 -3-2.4M883.2 106.3l3.1-1.2 3-1.2 3.1-1.3 3.1-1.4 3-1.5 3.1-1.7 3-1.8 3.1-1.8 3-1.9 3.1-2 3.1-2.1 3-2.1 3.1-2.2 3-2.2 3.1-2.3 3.1-2.4 3-2.4 3.1-2.4 3-2.4 3.1-2.4 3-2.5 3.1-2.6 3.1-2.6 3-2.8 3.1-2.8 3-2.4M806.8 105.6l-3.1-1.4 -3-1.6 -3.1-1.7 -3-1.9 -3.1-1.8 -3-2 -3.1-2 -3.1-2.2 -3-2.2 -3.1-2.2 -3-2.2 -3.1-2.3 -3-2.4 -3.1-2.4 -3.1-2.4 -3-2.4 -3.1-2.4 -3-2.5 -3.1-2.6 -3.1-2.6 -3-2.8 -3.1-2.8 -3-2.9 -3.1-2M892.4 105.6l3.1-1.4 3-1.6 3.1-1.7 3-1.9 3.1-1.8 3-2 3.1-2 3.1-2.2 3-2.2 3.1-2.2 3-2.2 3.1-2.3 3.1-2.4 3-2.4 3.1-2.4 3-2.4 3.1-2.4 3-2.5 3.1-2.6 3.1-2.6 3-2.8 3.1-2.8 3-2.9 3.1-2M800.7 105.5l-3.1-1.8 -3-1.9 -3.1-1.9 -3-2 -3.1-2.1 -3.1-2.2 -3-2.3 -3.1-2.1 -3-2.3 -3.1-2.3 -3-2.3 -3.1-2.5 -3.1-2.4 -3-2.4 -3.1-2.3 -3-2.5 -3.1-2.6 -3.1-2.7 -3-2.7 -3.1-2.9 -3-2.9 -3.1-3M898.5 105.5l3.1-1.8 3-1.9 3.1-1.9 3-2 3.1-2.1 3.1-2.2 3-2.3 3.1-2.1 3-2.3 3.1-2.3 3.1-2.3 3-2.5 3.1-2.4 3-2.4 3.1-2.3 3-2.5 3.1-2.6 3.1-2.7 3-2.7 3.1-2.9 3-2.9 3.1-3M794.6 104.6l-3.1-1.9 -3-2.1 -3.1-2.2 -3.1-2.2 -3-2.4 -3.1-2.1 -3-2.2 -3.1-2.3 -3-2.4 -3.1-2.4 -3.1-2.5 -3-2.4 -3.1-2.3 -3-2.5 -3.1-2.6 -3.1-2.7 -3-2.7 -3.1-2.8 -3-2.9 -3.1-3 -3-3.1M904.6 104.6l3.1-1.9 3-2.1 3.1-2.2 3.1-2.2 3-2.4 3.1-2.1 3-2.2 3.1-2.3 3.1-2.4 3-2.4 3.1-2.5 3-2.4 3.1-2.3 3-2.5 3.1-2.6 3.1-2.7 3-2.7 3.1-2.8 3-2.9 3.1-3 3-3.1M791.5 105.4l-3-2.1 -3.1-2.2 -3.1-2.4 -3-2.3 -3.1-2.2 -3-2.2 -3.1-2.3 -3-2.4 -3.1-2.4 -3.1-2.4 -3-2.4 -3.1-2.4 -3-2.5 -3.1-2.6 -3.1-2.7 -3-2.7 -3.1-2.8 -3-2.9 -3.1-3 -3-3.1 -3.1-3.2M907.7 105.4l3-2.1 3.1-2.2 3.1-2.4 3-2.3 3.1-2.2 3-2.2 3.1-2.3 3.1-2.4 3-2.4 3.1-2.4 3-2.4 3.1-2.4 3-2.5 3.1-2.6 3.1-2.7 3-2.7 3.1-2.8 3-2.9 3.1-3 3-3.1 3.1-3.2M788.5 106l-3.1-2.3 -3.1-2.4 -3-2.4 -3.1-2.2 -3-2.2 -3.1-2.3 -3-2.4 -3.1-2.4 -3.1-2.4 -3-2.4 -3.1-2.4 -3-2.5 -3.1-2.6 -3.1-2.6 -3-2.8 -3.1-2.8 -3-2.9 -3.1-3 -3-3.1 -3.1-3.2 -3.1-2.8M910.7 106l3.1-2.3 3.1-2.4 3-2.4 3.1-2.2 3-2.2 3.1-2.3 3.1-2.4 3-2.4 3.1-2.4 3-2.4 3.1-2.4 3-2.5 3.1-2.6 3.1-2.6 3-2.8 3.1-2.8 3-2.9 3.1-3 3-3.1 3.1-3.2 3.1-2.8M785.4 106.3l-3.1-2.4 -3-2.5 -3.1-2.2 -3-2.2 -3.1-2.3 -3-2.3 -3.1-2.5 -3.1-2.4 -3-2.4 -3.1-2.4 -3-2.5 -3.1-2.6 -3.1-2.6 -3-2.8 -3.1-2.8 -3-2.9 -3.1-3 -3-3.1 -3.1-3.2 -3.1-3.3 -3-2M913.8 106.3l3.1-2.4 3-2.5 3.1-2.2 3-2.2 3.1-2.3 3.1-2.3 3-2.5 3.1-2.4 3-2.4 3.1-2.4 3-2.5 3.1-2.6 3.1-2.6 3-2.8 3.1-2.8 3-2.9 3.1-3 3-3.1 3.1-3.2 3.1-3.3 3-2M782.3 106.5l-3-2.6 -3.1-2.1 -3-2.2 -3.1-2.3 -3-2.4 -3.1-2.4 -3.1-2.5 -3-2.4 -3.1-2.3 -3-2.5 -3.1-2.6 -3.1-2.7 -3-2.7 -3.1-2.8 -3-2.9 -3.1-3 -3-3.1 -3.1-3.2 -3.1-3.4 -3-3.4M916.9 106.5l3-2.6 3.1-2.1 3-2.2 3.1-2.3 3.1-2.4 3-2.4 3.1-2.5 3-2.4 3.1-2.3 3-2.5 3.1-2.6 3.1-2.7 3-2.7 3.1-2.8 3-2.9 3.1-3 3-3.1 3.1-3.2 3.1-3.4 3-3.4M779.3 106.4l-3.1-2.1 -3-2.2 -3.1-2.3 -3-2.4 -3.1-2.4 -3.1-2.5 -3-2.4 -3.1-2.3 -3-2.5 -3.1-2.6 -3.1-2.7 -3-2.7 -3.1-2.8 -3-2.9 -3.1-3 -3-3.1 -3.1-3.2 -3.1-3.3 -3-3.5 -3.1-3.6M919.9 106.4l3.1-2.1 3-2.2 3.1-2.3 3.1-2.4 3-2.4 3.1-2.5 3-2.4 3.1-2.3 3-2.5 3.1-2.6 3.1-2.7 3-2.7 3.1-2.8 3-2.9 3.1-3 3-3.1 3.1-3.2 3.1-3.3 3-3.5 3.1-3.6M773.2 104.6l-3.1-2.3 -3-2.4 -3.1-2.4 -3.1-2.4 -3-2.4 -3.1-2.4 -3-2.5 -3.1-2.6 -3.1-2.7 -3-2.7 -3.1-2.8 -3-2.9 -3.1-3 -3-3.1 -3.1-3.2 -3.1-3.3 -3-3.5 -3.1-3.5 -3-2.6M926 104.6l3.1-2.3 3.1-2.4 3-2.4 3.1-2.4 3-2.4 3.1-2.4 3-2.5 3.1-2.6 3.1-2.7 3-2.7 3.1-2.8 3-2.9 3.1-3 3-3.1 3.1-3.2 3.1-3.3 3-3.5 3.1-3.5 3-2.6M770.1 104.8l-3-2.4 -3.1-2.4 -3.1-2.4 -3-2.4 -3.1-2.4 -3-2.5 -3.1-2.6 -3.1-2.6 -3-2.8 -3.1-2.8 -3-2.9 -3.1-3 -3-3.1 -3.1-3.2 -3.1-3.3 -3-3.4 -3.1-3.6 -3-3.7M929.1 104.8l3.1-2.4 3-2.4 3.1-2.4 3-2.4 3.1-2.4 3-2.5 3.1-2.6 3.1-2.6 3-2.8 3.1-2.8 3-2.9 3.1-3 3-3.1 3.1-3.2 3.1-3.3 3-3.4 3.1-3.6 3-3.7M767.1 105l-3.1-2.5 -3.1-2.4 -3-2.4 -3.1-2.4 -3-2.4 -3.1-2.6 -3.1-2.7 -3-2.7 -3.1-2.9 -3-2.9 -3.1-3 -3-3.1 -3.1-3.2 -3.1-3.3 -3-3.4 -3.1-3.6 -3-3.7 -3.1-3.9M932.2 105l3-2.5 3.1-2.4 3-2.4 3.1-2.4 3-2.4 3.1-2.6 3.1-2.7 3-2.7 3.1-2.9 3-2.9 3.1-3 3-3.1 3.1-3.2 3.1-3.3 3-3.4 3.1-3.6 3-3.7 3.1-3.9M764 105.1l-3.1-2.5 -3-2.4 -3.1-2.3 -3-2.5 -3.1-2.6 -3.1-2.7 -3-2.7 -3.1-2.8 -3-2.9 -3.1-3 -3-3.1 -3.1-3.2 -3.1-3.4 -3-3.4 -3.1-3.6 -3-3.7 -3.1-3.9 -3-2.5M935.2 105.1l3.1-2.5 3-2.4 3.1-2.3 3-2.5 3.1-2.6 3.1-2.7 3-2.7 3.1-2.8 3-2.9 3.1-3 3-3.1 3.1-3.2 3.1-3.4 3-3.4 3.1-3.6 3-3.7 3.1-3.9 3-2.5M760.9 105.2l-3-2.4 -3.1-2.4 -3-2.5 -3.1-2.6 -3.1-2.7 -3-2.7 -3.1-2.8 -3-2.9 -3.1-3 -3-3.1 -3.1-3.2 -3.1-3.3 -3-3.5 -3.1-3.6 -3-3.7 -3.1-3.8 -3-4M938.3 105.2l3-2.4 3.1-2.4 3-2.5 3.1-2.6 3.1-2.7 3-2.7 3.1-2.8 3-2.9 3.1-3 3-3.1 3.1-3.2 3.1-3.3 3-3.5 3.1-3.6 3-3.7 3.1-3.8 3-4M757.9 105.3l-3.1-2.4 -3-2.5 -3.1-2.6 -3.1-2.6 -3-2.8 -3.1-2.8 -3-2.9 -3.1-3 -3-3.1 -3.1-3.2 -3.1-3.3 -3-3.5 -3.1-3.5 -3-3.7 -3.1-3.9 -3-4 -3.1-3.6M941.3 105.3l3.1-2.4 3-2.5 3.1-2.6 3.1-2.6 3-2.8 3.1-2.8 3-2.9 3.1-3 3-3.1 3.1-3.2 3.1-3.3 3-3.5 3.1-3.5 3-3.7 3.1-3.9 3-4 3.1-3.6M754.8 105.4l-3-2.5M944.4 105.4l3-2.5M715.1 65.9l-3.1-3.9 -3-4 -3.1-4.2M984.1 65.9l3.1-3.9 3-4 3.1-4.2M684.5 154.2l4.5 0 4.4 0 4.5 0 4.4 0 4.5 0 4.5 0.2 4.4 0.4 4.5 0.3 4.5 0.5 4.4 0.7 4.5 0.9 4.4 0.8 4.5 0.9 4.5 1 4.4 1 4.5 1.3 4.5 1.4 4.4 1.3 4.5 1.4 4.4 1.3 4.5 1.4 4.5 1.3 4.4 1.3 4.5 1.3 4.5 1.3 4.4 1.2 4.5 1.2 4.4 1 4.5 0.8 4.5 0.7 4.4 0.6 4.5 0.5 4.5 0.4 4.4 0.4 4.5 0.3 4.4 0.2 4.5 0.1 4.5-0.1 4.4-0.2 4.5-0.3 4.4-0.4 4.5-0.4 4.5-0.5 4.4-0.6 4.5-0.7 4.5-0.8 4.4-1 4.5-1.2 4.4-1.2 4.5-1.3 4.5-1.3 4.4-1.3 4.5-1.3 4.5-1.4 4.4-1.3 4.5-1.4 4.4-1.3 4.5-1.4 4.5-1.3 4.4-1 4.5-1 4.5-0.9 4.4-0.8 4.5-0.9 4.4-0.7 4.5-0.5 4.5-0.3 4.4-0.4 4.5-0.2 4.5 0 4.4 0 4.5 0 4.4 0 4.5 0M684.5 153.5l4.5 0 4.4-0.1 4.5 0 4.4 0 4.5 0 4.5 0.1 4.4 0.3 4.5 0.4 4.5 0.4 4.4 0.7 4.5 0.8 4.4 0.8 4.5 0.8 4.5 0.9 4.4 1 4.5 1.2 4.5 1.3 4.4 1.4 4.5 1.3 4.4 1.3 4.5 1.3 4.5 1.3 4.4 1.2 4.5 1.3 4.5 1.2 4.4 1.3 4.5 1.1 4.4 1 4.5 0.7 4.5 0.7 4.4 0.6 4.5 0.6 4.5 0.4 4.4 0.3 4.5 0.3 4.4 0.2 4.5 0.1 4.5-0.1 4.4-0.2 4.5-0.3 4.4-0.3 4.5-0.4 4.5-0.6 4.4-0.6 4.5-0.7 4.5-0.7 4.4-1 4.5-1.1 4.4-1.3 4.5-1.2 4.5-1.3 4.4-1.2 4.5-1.3 4.5-1.3 4.4-1.3 4.5-1.3 4.4-1.4 4.5-1.3 4.5-1.2 4.4-1 4.5-0.9 4.5-0.8 4.4-0.8 4.5-0.8 4.4-0.7 4.5-0.4 4.5-0.4 4.4-0.3 4.5-0.1 4.5 0 4.4 0 4.5 0 4.4 0.1 4.5 0M684.5 152.6l4.5 0 4.4-0.1 4.5-0.1 4.4 0 4.5-0.1 4.5 0.2 4.4 0.2 4.5 0.3 4.5 0.4 4.4 0.6 4.5 0.7 4.4 0.7 4.5 0.8 4.5 0.8 4.4 0.9 4.5 1.2 4.5 1.2 4.4 1.3 4.5 1.3 4.4 1.3 4.5 1.2 4.5 1.3 4.4 1.2 4.5 1.2 4.5 1.2 4.4 1.2 4.5 1.1 4.4 0.9 4.5 0.8 4.5 0.7 4.4 0.6 4.5 0.5 4.5 0.4 4.4 0.3 4.5 0.3 4.4 0.2 4.5 0.1 4.5-0.1 4.4-0.2 4.5-0.3 4.4-0.3 4.5-0.4 4.5-0.5 4.4-0.6 4.5-0.7 4.5-0.8 4.4-0.9 4.5-1.1 4.4-1.2 4.5-1.2 4.5-1.2 4.4-1.2 4.5-1.3 4.5-1.2 4.4-1.3 4.5-1.3 4.4-1.3 4.5-1.2 4.5-1.2 4.4-0.9 4.5-0.8 4.5-0.8 4.4-0.7 4.5-0.7 4.4-0.6 4.5-0.4 4.5-0.3 4.4-0.2 4.5-0.2 4.5 0.1 4.4 0 4.5 0.1 4.4 0.1 4.5 0M684.5 151.7l4.5-0.1 4.4-0.1 4.5-0.1 4.4-0.1 4.5-0.1 4.5 0.1 4.4 0.2 4.5 0.2 4.5 0.3 4.4 0.6 4.5 0.6 4.4 0.7 4.5 0.6 4.5 0.8 4.4 0.8 4.5 1.1 4.5 1.2 4.4 1.3 4.5 1.2 4.4 1.2 4.5 1.2 4.5 1.2 4.4 1.2 4.5 1.1 4.5 1.2 4.4 1.2 4.5 1 4.4 0.9 4.5 0.8 4.5 0.6 4.4 0.6 4.5 0.5 4.5 0.4 4.4 0.3 4.5 0.3 4.4 0.2 4.5 0.1 4.5-0.1 4.4-0.2 4.5-0.3 4.4-0.3 4.5-0.4 4.5-0.5 4.4-0.6 4.5-0.6 4.5-0.8 4.4-0.9 4.5-1 4.4-1.2 4.5-1.2 4.5-1.1 4.4-1.2 4.5-1.2 4.5-1.2 4.4-1.2 4.5-1.2 4.4-1.3 4.5-1.2 4.5-1.1 4.4-0.8 4.5-0.8 4.5-0.6 4.4-0.7 4.5-0.6 4.4-0.6 4.5-0.3 4.5-0.2 4.4-0.2 4.5-0.1 4.5 0.1 4.4 0.1 4.5 0.1 4.4 0.1 4.5 0.1M684.5 150.7l4.5-0.2 4.4-0.1 4.5-0.1 4.4-0.2 4.5-0.1 4.5 0 4.4 0.2 4.5 0.2 4.5 0.2 4.4 0.5 4.5 0.6 4.4 0.6 4.5 0.5 4.5 0.7 4.4 0.7 4.5 1 4.5 1.2 4.4 1.2 4.5 1.2 4.4 1.1 4.5 1.2 4.5 1.1 4.4 1.2 4.5 1.1 4.5 1.1 4.4 1.1 4.5 1 4.4 0.9 4.5 0.7 4.5 0.7 4.4 0.5 4.5 0.5 4.5 0.4 4.4 0.3 4.5 0.3 4.4 0.2 4.5 0.1 4.5-0.1 4.4-0.2 4.5-0.3 4.4-0.3 4.5-0.4 4.5-0.5 4.4-0.5 4.5-0.7 4.5-0.7 4.4-0.9 4.5-1 4.4-1.1 4.5-1.1 4.5-1.1 4.4-1.2 4.5-1.1 4.5-1.2 4.4-1.1 4.5-1.2 4.4-1.2 4.5-1.2 4.5-1 4.4-0.7 4.5-0.7 4.5-0.5 4.4-0.6 4.5-0.6 4.4-0.5 4.5-0.2 4.5-0.2 4.4-0.2 4.5 0 4.5 0.1 4.4 0.2 4.5 0.1 4.4 0.1 4.5 0.2M684.5 149.7l4.5-0.2 4.4-0.2 4.5-0.2 4.4-0.2 4.5-0.1 4.5 0 4.4 0 4.5 0.2 4.5 0.2 4.4 0.4 4.5 0.5 4.4 0.5 4.5 0.5 4.5 0.5 4.4 0.6 4.5 1 4.5 1.1 4.4 1.1 4.5 1.1 4.4 1.2 4.5 1.1 4.5 1.1 4.4 1.1 4.5 1 4.5 1.1 4.4 1.1 4.5 0.9 4.4 0.9 4.5 0.7 4.5 0.6 4.4 0.6 4.5 0.4 4.5 0.4 4.4 0.3 4.5 0.3 4.4 0.2 4.5 0.1 4.5-0.1 4.4-0.2 4.5-0.3 4.4-0.3 4.5-0.4 4.5-0.4 4.4-0.6 4.5-0.6 4.5-0.7 4.4-0.9 4.5-0.9 4.4-1.1 4.5-1.1 4.5-1 4.4-1.1 4.5-1.1 4.5-1.1 4.4-1.2 4.5-1.1 4.4-1.1 4.5-1.1 4.5-1 4.4-0.6 4.5-0.5 4.5-0.5 4.4-0.5 4.5-0.5 4.4-0.4 4.5-0.2 4.5-0.2 4.4 0 4.5 0 4.5 0.1 4.4 0.2 4.5 0.2 4.4 0.2 4.5 0.2M684.5 148.6l4.5-0.2 4.4-0.2 4.5-0.3 4.4-0.2 4.5-0.2 4.5-0.1 4.4 0 4.5 0.1 4.5 0.2 4.4 0.3 4.5 0.4 4.4 0.4 4.5 0.4 4.5 0.4 4.4 0.6 4.5 0.9 4.5 1.1 4.4 1 4.5 1.1 4.4 1 4.5 1.1 4.5 1 4.4 1.1 4.5 1 4.5 1 4.4 1 4.5 1 4.4 0.8 4.5 0.6 4.5 0.7 4.4 0.5 4.5 0.5 4.5 0.3 4.4 0.3 4.5 0.3 4.4 0.2 4.5 0.1 4.5-0.1 4.4-0.2 4.5-0.3 4.4-0.3 4.5-0.3 4.5-0.5 4.4-0.5 4.5-0.7 4.5-0.6 4.4-0.8 4.5-1 4.4-1 4.5-1 4.5-1 4.4-1.1 4.5-1 4.5-1.1 4.4-1 4.5-1.1 4.4-1 4.5-1.1 4.5-0.9 4.4-0.6 4.5-0.4 4.5-0.4 4.4-0.4 4.5-0.4 4.4-0.3 4.5-0.2 4.5-0.1 4.4 0 4.5 0.1 4.5 0.2 4.4 0.2 4.5 0.3 4.4 0.2 4.5 0.2M684.5 147.5l4.5-0.3 4.4-0.2 4.5-0.3 4.4-0.3 4.5-0.2 4.5-0.1 4.4-0.1 4.5 0 4.5 0.1 4.4 0.3 4.5 0.3 4.4 0.3 4.5 0.4 4.5 0.3 4.4 0.4 4.5 0.8 4.5 1 4.4 1.1 4.5 1 4.4 1 4.5 1 4.5 1 4.4 0.9 4.5 1 4.5 0.9 4.4 1 4.5 0.9 4.4 0.8 4.5 0.6 4.5 0.6 4.4 0.6 4.5 0.4 4.5 0.4 4.4 0.3 4.5 0.2 4.4 0.2 4.5 0.1 4.5-0.1 4.4-0.2 4.5-0.2 4.4-0.3 4.5-0.4 4.5-0.4 4.4-0.6 4.5-0.6 4.5-0.6 4.4-0.8 4.5-0.9 4.4-1 4.5-0.9 4.5-1 4.4-0.9 4.5-1 4.5-1 4.4-1 4.5-1 4.4-1.1 4.5-1 4.5-0.8 4.4-0.4 4.5-0.3 4.5-0.4 4.4-0.3 4.5-0.3 4.4-0.3 4.5-0.1 4.5 0 4.4 0.1 4.5 0.1 4.5 0.2 4.4 0.3 4.5 0.3 4.4 0.2 4.5 0.3M684.5 146.4l4.5-0.3 4.4-0.3 4.5-0.3 4.4-0.3 4.5-0.3 4.5-0.2 4.4-0.1 4.5-0.1 4.5 0 4.4 0.2 4.5 0.3 4.4 0.2 4.5 0.3 4.5 0.1 4.4 0.4 4.5 0.7 4.5 1 4.4 0.9 4.5 1 4.4 0.9 4.5 1 4.5 0.9 4.4 0.9 4.5 0.9 4.5 0.9 4.4 1 4.5 0.8 4.4 0.8 4.5 0.6 4.5 0.6 4.4 0.5 4.5 0.4 4.5 0.3 4.4 0.3 4.5 0.3 4.4 0.2 4.5 0 4.5 0 4.4-0.2 4.5-0.3 4.4-0.3 4.5-0.3 4.5-0.4 4.4-0.5 4.5-0.6 4.5-0.6 4.4-0.8 4.5-0.8 4.4-1 4.5-0.9 4.5-0.9 4.4-0.9 4.5-0.9 4.5-1 4.4-0.9 4.5-1 4.4-0.9 4.5-1 4.5-0.7 4.4-0.4 4.5-0.1 4.5-0.3 4.4-0.2 4.5-0.3 4.4-0.2 4.5 0 4.5 0.1 4.4 0.1 4.5 0.2 4.5 0.3 4.4 0.3 4.5 0.3 4.4 0.3 4.5 0.3M684.5 145.3l4.5-0.4 4.4-0.3 4.5-0.4 4.4-0.4 4.5-0.3 4.5-0.2 4.4-0.2 4.5-0.1 4.5-0.1 4.4 0.1 4.5 0.2 4.4 0.2 4.5 0.1 4.5 0.1 4.4 0.2 4.5 0.7 4.5 0.9 4.4 0.9 4.5 0.8 4.4 0.9 4.5 0.9 4.5 0.9 4.4 0.9 4.5 0.8 4.5 0.9 4.4 0.9 4.5 0.8 4.4 0.7 4.5 0.6 4.5 0.5 4.4 0.5 4.5 0.4 4.5 0.4 4.4 0.2 4.5 0.3 4.4 0.2 4.5 0 4.5 0 4.4-0.2 4.5-0.3 4.4-0.2 4.5-0.4 4.5-0.4 4.4-0.5 4.5-0.5 4.5-0.6 4.4-0.7 4.5-0.8 4.4-0.9 4.5-0.9 4.5-0.8 4.4-0.9 4.5-0.9 4.5-0.9 4.4-0.9 4.5-0.8 4.4-0.9 4.5-0.9 4.5-0.7 4.4-0.2 4.5-0.1 4.5-0.1 4.4-0.2 4.5-0.2 4.4-0.1 4.5 0.1 4.5 0.1 4.4 0.2 4.5 0.2 4.5 0.3 4.4 0.4 4.5 0.4 4.4 0.3 4.5 0.4M684.5 144.1l4.5-0.4 4.4-0.4 4.5-0.4 4.4-0.4 4.5-0.4 4.5-0.3 4.4-0.2 4.5-0.2 4.5-0.1 4.4 0 4.5 0.1 4.4 0.1 4.5 0 4.5 0 4.4 0.1 4.5 0.6 4.5 0.8 4.4 0.9 4.5 0.8 4.4 0.8 4.5 0.8 4.5 0.9 4.4 0.8 4.5 0.7 4.5 0.9 4.4 0.8 4.5 0.8 4.4 0.6 4.5 0.6 4.5 0.5 4.4 0.5 4.5 0.4 4.5 0.3 4.4 0.3 4.5 0.3 4.4 0.1 4.5 0.1 4.5-0.1 4.4-0.1 4.5-0.3 4.4-0.3 4.5-0.3 4.5-0.4 4.4-0.5 4.5-0.5 4.5-0.6 4.4-0.6 4.5-0.8 4.4-0.8 4.5-0.9 4.5-0.7 4.4-0.8 4.5-0.9 4.5-0.8 4.4-0.8 4.5-0.8 4.4-0.9 4.5-0.8 4.5-0.6 4.4-0.1 4.5 0 4.5 0 4.4-0.1 4.5-0.1 4.4 0 4.5 0.1 4.5 0.2 4.4 0.2 4.5 0.3 4.5 0.4 4.4 0.4 4.5 0.4 4.4 0.4 4.5 0.4M684.5 142.9l4.5-0.4 4.4-0.4 4.5-0.5 4.4-0.4 4.5-0.5 4.5-0.3 4.4-0.3 4.5-0.3 4.5-0.2 4.4 0 4.5 0 4.4 0 4.5-0.1 4.5-0.2 4.4 0.1 4.5 0.5 4.5 0.7 4.4 0.8 4.5 0.8 4.4 0.8 4.5 0.7 4.5 0.8 4.4 0.7 4.5 0.8 4.5 0.7 4.4 0.8 4.5 0.7 4.4 0.7 4.5 0.5 4.5 0.5 4.4 0.5 4.5 0.4 4.5 0.3 4.4 0.2 4.5 0.3 4.4 0.1 4.5 0.1 4.5-0.1 4.4-0.1 4.5-0.3 4.4-0.2 4.5-0.3 4.5-0.4 4.4-0.5 4.5-0.5 4.5-0.5 4.4-0.7 4.5-0.7 4.4-0.8 4.5-0.7 4.5-0.8 4.4-0.7 4.5-0.8 4.5-0.7 4.4-0.8 4.5-0.8 4.4-0.8 4.5-0.7 4.5-0.5 4.4-0.1 4.5 0.2 4.5 0.1 4.4 0 4.5 0 4.4 0 4.5 0.2 4.5 0.3 4.4 0.3 4.5 0.3 4.5 0.5 4.4 0.4 4.5 0.5 4.4 0.4 4.5 0.4M684.5 141.8l4.5-0.5 4.4-0.5 4.5-0.5 4.4-0.5 4.5-0.5 4.5-0.4 4.4-0.4 4.5-0.3 4.5-0.2 4.4-0.2 4.5-0.1 4.4-0.1 4.5-0.1 4.5-0.3 4.4-0.1 4.5 0.4 4.5 0.7 4.4 0.7 4.5 0.7 4.4 0.8 4.5 0.7 4.5 0.7 4.4 0.7 4.5 0.6 4.5 0.7 4.4 0.8 4.5 0.6 4.4 0.6 4.5 0.6 4.5 0.4 4.4 0.5 4.5 0.3 4.5 0.4 4.4 0.2 4.5 0.2 4.4 0.2 4.5 0.1 4.5-0.1 4.4-0.2 4.5-0.2 4.4-0.2 4.5-0.4 4.5-0.3 4.4-0.5 4.5-0.4 4.5-0.6 4.4-0.6 4.5-0.6 4.4-0.8 4.5-0.7 4.5-0.6 4.4-0.7 4.5-0.7 4.5-0.7 4.4-0.8 4.5-0.7 4.4-0.7 4.5-0.7 4.5-0.4 4.4 0.1 4.5 0.3 4.5 0.1 4.4 0.1 4.5 0.1 4.4 0.2 4.5 0.2 4.5 0.3 4.4 0.4 4.5 0.4 4.5 0.5 4.4 0.5 4.5 0.5 4.4 0.5 4.5 0.5M684.5 140.6l4.5-0.6 4.4-0.5 4.5-0.6 4.4-0.5 4.5-0.5 4.5-0.5 4.4-0.4 4.5-0.4 4.5-0.3 4.4-0.3 4.5-0.2 4.4-0.1 4.5-0.3 4.5-0.4 4.4-0.2 4.5 0.3 4.5 0.7 4.4 0.6 4.5 0.7 4.4 0.6 4.5 0.7 4.5 0.6 4.4 0.6 4.5 0.6 4.5 0.7 4.4 0.7 4.5 0.6 4.4 0.6 4.5 0.5 4.5 0.4 4.4 0.4 4.5 0.4 4.5 0.3 4.4 0.3 4.5 0.2 4.4 0.1 4.5 0.1 4.5-0.1 4.4-0.1 4.5-0.2 4.4-0.3 4.5-0.3 4.5-0.4 4.4-0.4 4.5-0.4 4.5-0.5 4.4-0.6 4.5-0.6 4.4-0.7 4.5-0.7 4.5-0.6 4.4-0.6 4.5-0.6 4.5-0.7 4.4-0.6 4.5-0.7 4.4-0.6 4.5-0.7 4.5-0.3 4.4 0.2 4.5 0.4 4.5 0.3 4.4 0.1 4.5 0.2 4.4 0.3 4.5 0.3 4.5 0.4 4.4 0.4 4.5 0.5 4.5 0.5 4.4 0.5 4.5 0.6 4.4 0.5 4.5 0.6M684.5 139.3l4.5-0.5 4.4-0.6 4.5-0.6 4.4-0.6 4.5-0.6 4.5-0.5 4.4-0.5 4.5-0.5 4.5-0.4 4.4-0.3 4.5-0.2 4.4-0.3 4.5-0.4 4.5-0.5 4.4-0.3 4.5 0.2 4.5 0.6 4.4 0.6 4.5 0.6 4.4 0.6 4.5 0.6 4.5 0.5 4.4 0.6 4.5 0.5 4.5 0.6 4.4 0.7 4.5 0.6 4.4 0.5 4.5 0.4 4.5 0.5 4.4 0.4 4.5 0.3 4.5 0.3 4.4 0.3 4.5 0.2 4.4 0.1 4.5 0.1 4.5-0.1 4.4-0.1 4.5-0.2 4.4-0.3 4.5-0.3 4.5-0.3 4.4-0.4 4.5-0.5 4.5-0.4 4.4-0.5 4.5-0.6 4.4-0.7 4.5-0.6 4.5-0.5 4.4-0.6 4.5-0.5 4.5-0.6 4.4-0.6 4.5-0.6 4.4-0.6 4.5-0.6 4.5-0.2 4.4 0.3 4.5 0.5 4.5 0.4 4.4 0.3 4.5 0.2 4.4 0.3 4.5 0.4 4.5 0.5 4.4 0.5 4.5 0.5 4.5 0.6 4.4 0.6 4.5 0.6 4.4 0.6 4.5 0.5M684.5 138.1l4.5-0.6 4.4-0.6 4.5-0.7 4.4-0.6 4.5-0.7 4.5-0.6 4.4-0.5 4.5-0.5 4.5-0.5 4.4-0.4 4.5-0.4 4.4-0.3 4.5-0.5 4.5-0.6 4.4-0.5 4.5 0.2 4.5 0.5 4.4 0.5 4.5 0.6 4.4 0.5 4.5 0.5 4.5 0.5 4.4 0.5 4.5 0.5 4.5 0.6 4.4 0.5 4.5 0.6 4.4 0.5 4.5 0.4 4.5 0.4 4.4 0.4 4.5 0.3 4.5 0.3 4.4 0.2 4.5 0.2 4.4 0.2 4.5 0 4.5 0 4.4-0.2 4.5-0.2 4.4-0.2 4.5-0.3 4.5-0.3 4.4-0.4 4.5-0.4 4.5-0.4 4.4-0.5 4.5-0.6 4.4-0.5 4.5-0.6 4.5-0.5 4.4-0.5 4.5-0.5 4.5-0.5 4.4-0.5 4.5-0.6 4.4-0.5 4.5-0.5 4.5-0.2 4.4 0.5 4.5 0.6 4.5 0.5 4.4 0.3 4.5 0.4 4.4 0.4 4.5 0.5 4.5 0.5 4.4 0.5 4.5 0.6 4.5 0.7 4.4 0.6 4.5 0.7 4.4 0.6 4.5 0.6M684.5 136.9l4.5-0.7 4.4-0.7 4.5-0.7 4.4-0.7 4.5-0.7 4.5-0.6 4.4-0.6 4.5-0.6 4.5-0.6 4.4-0.5 4.5-0.4 4.4-0.5 4.5-0.5 4.5-0.8 4.4-0.6 4.5 0.1 4.5 0.5 4.4 0.4 4.5 0.5 4.4 0.5 4.5 0.4 4.5 0.5 4.4 0.4 4.5 0.5 4.5 0.4 4.4 0.5 4.5 0.5 4.4 0.5 4.5 0.4 4.5 0.4 4.4 0.4 4.5 0.3 4.5 0.2 4.4 0.3 4.5 0.2 4.4 0.1 4.5 0 4.5 0 4.4-0.1 4.5-0.2 4.4-0.3 4.5-0.2 4.5-0.3 4.4-0.4 4.5-0.4 4.5-0.4 4.4-0.5 4.5-0.5 4.4-0.5 4.5-0.4 4.5-0.5 4.4-0.4 4.5-0.5 4.5-0.4 4.4-0.5 4.5-0.5 4.4-0.4 4.5-0.5 4.5-0.1 4.4 0.6 4.5 0.8 4.5 0.5 4.4 0.5 4.5 0.4 4.4 0.5 4.5 0.6 4.5 0.6 4.4 0.6 4.5 0.6 4.5 0.7 4.4 0.7 4.5 0.7 4.4 0.7 4.5 0.7M684.5 135.6l4.5-0.7 4.4-0.7 4.5-0.8 4.4-0.7 4.5-0.8 4.5-0.7 4.4-0.6 4.5-0.7 4.5-0.6 4.4-0.6 4.5-0.6 4.4-0.5 4.5-0.7 4.5-0.9 4.4-0.7 4.5 0 4.5 0.4 4.4 0.4 4.5 0.4 4.4 0.4 4.5 0.4 4.5 0.4 4.4 0.4 4.5 0.4 4.5 0.4 4.4 0.4 4.5 0.5 4.4 0.4 4.5 0.4 4.5 0.3 4.4 0.4 4.5 0.3 4.5 0.3 4.4 0.2 4.5 0.2 4.4 0.1 4.5 0 4.5 0 4.4-0.1 4.5-0.2 4.4-0.2 4.5-0.3 4.5-0.3 4.4-0.4 4.5-0.3 4.5-0.4 4.4-0.4 4.5-0.5 4.4-0.4 4.5-0.4 4.5-0.4 4.4-0.4 4.5-0.4 4.5-0.4 4.4-0.4 4.5-0.4 4.4-0.4 4.5-0.4 4.5 0 4.4 0.7 4.5 0.9 4.5 0.7 4.4 0.5 4.5 0.6 4.4 0.6 4.5 0.6 4.5 0.7 4.4 0.6 4.5 0.7 4.5 0.8 4.4 0.7 4.5 0.8 4.4 0.7 4.5 0.7M684.5 134.4l4.5-0.8 4.4-0.8 4.5-0.8 4.4-0.8 4.5-0.8 4.5-0.7 4.4-0.8 4.5-0.7 4.5-0.7 4.4-0.7 4.5-0.6 4.4-0.7 4.5-0.8 4.5-1 4.4-0.8 4.5-0.1 4.5 0.4 4.4 0.3 4.5 0.3 4.4 0.4 4.5 0.3 4.5 0.3 4.4 0.3 4.5 0.3 4.5 0.4 4.4 0.4 4.5 0.4 4.4 0.4 4.5 0.3 4.5 0.4 4.4 0.3 4.5 0.3 4.5 0.2 4.4 0.3 4.5 0.1 4.4 0.2 4.5 0 4.5 0 4.4-0.2 4.5-0.1 4.4-0.3 4.5-0.2 4.5-0.3 4.4-0.3 4.5-0.4 4.5-0.3 4.4-0.4 4.5-0.4 4.4-0.4 4.5-0.4 4.5-0.3 4.4-0.3 4.5-0.3 4.5-0.3 4.4-0.4 4.5-0.3 4.4-0.3 4.5-0.4 4.5 0.1 4.4 0.8 4.5 1 4.5 0.8 4.4 0.7 4.5 0.6 4.4 0.7 4.5 0.7 4.5 0.7 4.4 0.8 4.5 0.7 4.5 0.8 4.4 0.8 4.5 0.8 4.4 0.8 4.5 0.8M684.5 133.1l4.5-0.8 4.4-0.9 4.5-0.8 4.4-0.9 4.5-0.8 4.5-0.8 4.4-0.8 4.5-0.8 4.5-0.8 4.4-0.8 4.5-0.7 4.4-0.8 4.5-0.9 4.5-1.1 4.4-0.9 4.5-0.2 4.5 0.3 4.4 0.2 4.5 0.3 4.4 0.3 4.5 0.2 4.5 0.3 4.4 0.3 4.5 0.2 4.5 0.3 4.4 0.3 4.5 0.4 4.4 0.3 4.5 0.4 4.5 0.3 4.4 0.3 4.5 0.3 4.5 0.2 4.4 0.2 4.5 0.2 4.4 0.1 4.5 0 4.5 0 4.4-0.1 4.5-0.2 4.4-0.2 4.5-0.2 4.5-0.3 4.4-0.3 4.5-0.3 4.5-0.4 4.4-0.3 4.5-0.4 4.4-0.3 4.5-0.3 4.5-0.2 4.4-0.3 4.5-0.3 4.5-0.2 4.4-0.3 4.5-0.3 4.4-0.2 4.5-0.3 4.5 0.2 4.4 0.9 4.5 1.1 4.5 0.9 4.4 0.8 4.5 0.7 4.4 0.8 4.5 0.8 4.5 0.8 4.4 0.8 4.5 0.8 4.5 0.8 4.4 0.9 4.5 0.8 4.4 0.9 4.5 0.8M684.5 131.8l4.5-0.9 4.4-0.8 4.5-0.9 4.4-0.9 4.5-0.9 4.5-0.9 4.4-0.9 4.5-0.9 4.5-0.9 4.4-0.8 4.5-0.8 4.4-0.9 4.5-1 4.5-1.2 4.4-1.1 4.5-0.2 4.5 0.2 4.4 0.2 4.5 0.2 4.4 0.2 4.5 0.2 4.5 0.2 4.4 0.1 4.5 0.2 4.5 0.3 4.4 0.3 4.5 0.3 4.4 0.3 4.5 0.3 4.5 0.3 4.4 0.2 4.5 0.3 4.5 0.2 4.4 0.2 4.5 0.2 4.4 0.1 4.5 0 4.5 0 4.4-0.1 4.5-0.2 4.4-0.2 4.5-0.2 4.5-0.3 4.4-0.2 4.5-0.3 4.5-0.3 4.4-0.3 4.5-0.3 4.4-0.3 4.5-0.3 4.5-0.2 4.4-0.1 4.5-0.2 4.5-0.2 4.4-0.2 4.5-0.2 4.4-0.2 4.5-0.2 4.5 0.2 4.4 1.1 4.5 1.2 4.5 1 4.4 0.9 4.5 0.8 4.4 0.8 4.5 0.9 4.5 0.9 4.4 0.9 4.5 0.9 4.5 0.9 4.4 0.9 4.5 0.9 4.4 0.8 4.5 0.9M684.5 130.5l4.5-0.9 4.4-0.9 4.5-1 4.4-0.9 4.5-1 4.5-1 4.4-0.9 4.5-0.9 4.5-1 4.4-0.9 4.5-0.9 4.4-1 4.5-1.1 4.5-1.4 4.4-1.2 4.5-0.3 4.5 0.1 4.4 0.2 4.5 0.1 4.4 0.1 4.5 0.2 4.5 0.1 4.4 0.1 4.5 0.2 4.5 0.1 4.4 0.3 4.5 0.2 4.4 0.3 4.5 0.2 4.5 0.3 4.4 0.3 4.5 0.2 4.5 0.2 4.4 0.2 4.5 0.2 4.4 0.1 4.5 0 4.5 0 4.4-0.1 4.5-0.2 4.4-0.2 4.5-0.2 4.5-0.2 4.4-0.3 4.5-0.3 4.5-0.2 4.4-0.3 4.5-0.2 4.4-0.3 4.5-0.1 4.5-0.2 4.4-0.1 4.5-0.1 4.5-0.2 4.4-0.1 4.5-0.1 4.4-0.2 4.5-0.1 4.5 0.3 4.4 1.2 4.5 1.4 4.5 1.1 4.4 1 4.5 0.9 4.4 0.9 4.5 1 4.5 0.9 4.4 0.9 4.5 1 4.5 1 4.4 0.9 4.5 1 4.4 0.9 4.5 0.9M684.5 129.2l4.5-1 4.4-0.9 4.5-1 4.4-1 4.5-1.1 4.5-1 4.4-1 4.5-1 4.5-1 4.4-1.1 4.5-1 4.4-1 4.5-1.3 4.5-1.5 4.4-1.2 4.5-0.5 4.5 0.1 4.4 0 4.5 0.1 4.4 0.1 4.5 0 4.5 0.1 4.4 0.1 4.5 0 4.5 0.2 4.4 0.1 4.5 0.2 4.4 0.3 4.5 0.2 4.5 0.2 4.4 0.3 4.5 0.2 4.5 0.2 4.4 0.2 4.5 0.1 4.4 0.1 4.5 0.1 4.5-0.1 4.4-0.1 4.5-0.1 4.4-0.2 4.5-0.2 4.5-0.2 4.4-0.3 4.5-0.2 4.5-0.2 4.4-0.3 4.5-0.2 4.4-0.1 4.5-0.2 4.5 0 4.4-0.1 4.5-0.1 4.5 0 4.4-0.1 4.5-0.1 4.4 0 4.5-0.1 4.5 0.5 4.4 1.2 4.5 1.5 4.5 1.3 4.4 1 4.5 1 4.4 1.1 4.5 1 4.5 1 4.4 1 4.5 1 4.5 1.1 4.4 1 4.5 1 4.4 0.9 4.5 1M684.5 127.9l4.5-1 4.4-1.1 4.5-1 4.4-1.1 4.5-1 4.5-1.1 4.4-1.1 4.5-1.1 4.5-1.1 4.4-1.1 4.5-1.1 4.4-1.2 4.5-1.3 4.5-1.7 4.4-1.4 4.5-0.5 4.5 0 4.4 0 4.5 0 4.4 0 4.5 0 4.5 0 4.4 0 4.5 0 4.5 0.1 4.4 0.1 4.5 0.1 4.4 0.2 4.5 0.2 4.5 0.2 4.4 0.3 4.5 0.2 4.5 0.2 4.4 0.1 4.5 0.2 4.4 0.1 4.5 0 4.5 0 4.4-0.1 4.5-0.2 4.4-0.1 4.5-0.2 4.5-0.2 4.4-0.3 4.5-0.2 4.5-0.2 4.4-0.2 4.5-0.1 4.4-0.1 4.5-0.1 4.5 0 4.4 0 4.5 0 4.5 0 4.4 0 4.5 0 4.4 0 4.5 0 4.5 0.5 4.4 1.4 4.5 1.7 4.5 1.3 4.4 1.2 4.5 1.1 4.4 1.1 4.5 1.1 4.5 1.1 4.4 1.1 4.5 1.1 4.5 1 4.4 1.1 4.5 1 4.4 1.1 4.5 1"/>
<path fill="none" stroke="#3c4a9e" stroke-width="4.6" d="M755.9 53l4.5 2.7 4.4 2.9 4.5 2.8 4.4 2.8 4.5 2.6 4.5 2.5 4.4 2.4 4.5 2.1 4.5 2.1 4.4 2 4.5 1.7 4.4 1.5 4.5 1.4 4.5 1.2 4.4 0.8 4.5 0.6 4.5 0.4 4.4 0.2 4.5 0.1 4.4 0.1 4.5 0 4.5 0 4.4-0.1 4.5-0.1 4.4-0.2 4.5-0.4 4.5-0.6 4.4-0.8 4.5-1.2 4.5-1.4 4.4-1.5 4.5-1.7 4.4-2 4.5-2.1 4.5-2.1 4.4-2.4 4.5-2.5 4.5-2.6 4.4-2.8 4.5-2.8 4.4-2.9 4.5-2.7"/>
<path fill="none" stroke="#3c4a9e" stroke-width="1.9" d="M702.3 52l4.5 4.5 4.5 4.5 4.4 4.5 4.5 4.5 4.5 4.6 4.4 4.5 4.5 4.5 4.4 4.5 4.5 4.5 4.5 4.6 4.4 4.5 4.5 4.6 4.5 4.7 4.4 5.1 4.5 5.4 4.4 5.5 4.5 5.6 4.5 5.5 4.4 5.6 4.5 5.3 4.5 5.2 4.4 4.9 4.5 4.4 4.4 4.1 4.5 3.5 4.5 2.9 4.4 2.2 4.5 1.7 4.5 1.4 4.4 1.1 4.5 0.6 4.4 0.3 4.5 0.2 4.5-0.2 4.4-0.3 4.5-0.6 4.4-1.1 4.5-1.4 4.5-1.7 4.4-2.2 4.5-2.9 4.5-3.5 4.4-4.1 4.5-4.4 4.4-4.9 4.5-5.2 4.5-5.3 4.4-5.6 4.5-5.5 4.5-5.6 4.4-5.5 4.5-5.4 4.4-5.1 4.5-4.7 4.5-4.6 4.4-4.5 4.5-4.6 4.5-4.5 4.4-4.5 4.5-4.5 4.4-4.5 4.5-4.6 4.5-4.5 4.4-4.5 4.5-4.5 4.5-4.5M702.3 52l4.5 4.5 4.5 4.5 4.4 4.5 4.5 4.5 4.5 4.5 4.4 4.5 4.5 4.6 4.4 4.5 4.5 4.5 4.5 4.5 4.4 4.6 4.5 4.5 4.5 4.8 4.4 5.1 4.5 5.3 4.4 5.5 4.5 5.6 4.5 5.6 4.4 5.5 4.5 5.4 4.5 5.2 4.4 4.8 4.5 4.5 4.4 4 4.5 3.5 4.5 2.9 4.4 2.2 4.5 1.7 4.5 1.4 4.4 1.1 4.5 0.6 4.4 0.4 4.5 0.1 4.5-0.1 4.4-0.4 4.5-0.6 4.4-1.1 4.5-1.4 4.5-1.7 4.4-2.2 4.5-2.9 4.5-3.5 4.4-4 4.5-4.5 4.4-4.8 4.5-5.2 4.5-5.4 4.4-5.5 4.5-5.6 4.5-5.6 4.4-5.5 4.5-5.3 4.4-5.1 4.5-4.8 4.5-4.5 4.4-4.6 4.5-4.5 4.5-4.5 4.4-4.5 4.5-4.6 4.4-4.5 4.5-4.5 4.5-4.5 4.4-4.5 4.5-4.5 4.5-4.5M702.3 51.9l4.5 4.5 4.5 4.5 4.4 4.6 4.5 4.5 4.5 4.5 4.4 4.5 4.5 4.5 4.4 4.5 4.5 4.5 4.5 4.6 4.4 4.5 4.5 4.6 4.5 4.7 4.4 5.1 4.5 5.3 4.4 5.5 4.5 5.6 4.5 5.6 4.4 5.5 4.5 5.3 4.5 5.2 4.4 4.8 4.5 4.5 4.4 4 4.5 3.5 4.5 2.8 4.4 2.2 4.5 1.7 4.5 1.5 4.4 1 4.5 0.6 4.4 0.4 4.5 0.1 4.5-0.1 4.4-0.4 4.5-0.6 4.4-1 4.5-1.5 4.5-1.7 4.4-2.2 4.5-2.8 4.5-3.5 4.4-4 4.5-4.5 4.4-4.8 4.5-5.2 4.5-5.3 4.4-5.5 4.5-5.6 4.5-5.6 4.4-5.5 4.5-5.3 4.4-5.1 4.5-4.7 4.5-4.6 4.4-4.5 4.5-4.6 4.5-4.5 4.4-4.5 4.5-4.5 4.4-4.5 4.5-4.5 4.5-4.5 4.4-4.6 4.5-4.5 4.5-4.5M702.3 51.9l4.5 4.5 4.5 4.5 4.4 4.5 4.5 4.5 4.5 4.5 4.4 4.5 4.5 4.5 4.4 4.5 4.5 4.5 4.5 4.6 4.4 4.5 4.5 4.6 4.5 4.7 4.4 5.1 4.5 5.3 4.4 5.5 4.5 5.6 4.5 5.5 4.4 5.5 4.5 5.4 4.5 5.1 4.4 4.8 4.5 4.5 4.4 3.9 4.5 3.5 4.5 2.9 4.4 2.1 4.5 1.7 4.5 1.4 4.4 1.1 4.5 0.6 4.4 0.3 4.5 0.2 4.5-0.2 4.4-0.3 4.5-0.6 4.4-1.1 4.5-1.4 4.5-1.7 4.4-2.1 4.5-2.9 4.5-3.5 4.4-3.9 4.5-4.5 4.4-4.8 4.5-5.1 4.5-5.4 4.4-5.5 4.5-5.5 4.5-5.6 4.4-5.5 4.5-5.3 4.4-5.1 4.5-4.7 4.5-4.6 4.4-4.5 4.5-4.6 4.5-4.5 4.4-4.5 4.5-4.5 4.4-4.5 4.5-4.5 4.5-4.5 4.4-4.5 4.5-4.5 4.5-4.5M702.3 51.9l4.5 4.4 4.5 4.5 4.4 4.5 4.5 4.5 4.5 4.5 4.4 4.5 4.5 4.5 4.4 4.5 4.5 4.5 4.5 4.5 4.4 4.5 4.5 4.6 4.5 4.8 4.4 5 4.5 5.3 4.4 5.5 4.5 5.5 4.5 5.6 4.4 5.5 4.5 5.3 4.5 5.1 4.4 4.8 4.5 4.4 4.4 3.9 4.5 3.5 4.5 2.8 4.4 2.1 4.5 1.7 4.5 1.4 4.4 1 4.5 0.6 4.4 0.4 4.5 0.1 4.5-0.1 4.4-0.4 4.5-0.6 4.4-1 4.5-1.4 4.5-1.7 4.4-2.1 4.5-2.8 4.5-3.5 4.4-3.9 4.5-4.4 4.4-4.8 4.5-5.1 4.5-5.3 4.4-5.5 4.5-5.6 4.5-5.5 4.4-5.5 4.5-5.3 4.4-5 4.5-4.8 4.5-4.6 4.4-4.5 4.5-4.5 4.5-4.5 4.4-4.5 4.5-4.5 4.4-4.5 4.5-4.5 4.5-4.5 4.4-4.5 4.5-4.5 4.5-4.4M702.3 51.9l4.5 4.2 4.5 4.5 4.4 4.5 4.5 4.5 4.5 4.5 4.4 4.5 4.5 4.5 4.4 4.5 4.5 4.5 4.5 4.5 4.4 4.5 4.5 4.5 4.5 4.8 4.4 5 4.5 5.3 4.4 5.4 4.5 5.5 4.5 5.6 4.4 5.4 4.5 5.3 4.5 5 4.4 4.8 4.5 4.3 4.4 3.9 4.5 3.4 4.5 2.8 4.4 2.1 4.5 1.6 4.5 1.4 4.4 1 4.5 0.6 4.4 0.3 4.5 0.2 4.5-0.2 4.4-0.3 4.5-0.6 4.4-1 4.5-1.4 4.5-1.6 4.4-2.1 4.5-2.8 4.5-3.4 4.4-3.9 4.5-4.3 4.4-4.8 4.5-5 4.5-5.3 4.4-5.4 4.5-5.6 4.5-5.5 4.4-5.4 4.5-5.3 4.4-5 4.5-4.8 4.5-4.5 4.4-4.5 4.5-4.5 4.5-4.5 4.4-4.5 4.5-4.5 4.4-4.5 4.5-4.5 4.5-4.5 4.4-4.5 4.5-4.5 4.5-4.2M702.3 51.9l4.5 4 4.5 4.5 4.4 4.5 4.5 4.5 4.5 4.5 4.4 4.5 4.5 4.5 4.4 4.4 4.5 4.5 4.5 4.5 4.4 4.5 4.5 4.6 4.5 4.7 4.4 5 4.5 5.3 4.4 5.4 4.5 5.5 4.5 5.5 4.4 5.4 4.5 5.2 4.5 5 4.4 4.7 4.5 4.3 4.4 3.9 4.5 3.3 4.5 2.8 4.4 2.1 4.5 1.5 4.5 1.4 4.4 1 4.5 0.6 4.4 0.3 4.5 0.1 4.5-0.1 4.4-0.3 4.5-0.6 4.4-1 4.5-1.4 4.5-1.5 4.4-2.1 4.5-2.8 4.5-3.3 4.4-3.9 4.5-4.3 4.4-4.7 4.5-5 4.5-5.2 4.4-5.4 4.5-5.5 4.5-5.5 4.4-5.4 4.5-5.3 4.4-5 4.5-4.7 4.5-4.6 4.4-4.5 4.5-4.5 4.5-4.5 4.4-4.4 4.5-4.5 4.4-4.5 4.5-4.5 4.5-4.5 4.4-4.5 4.5-4.5 4.5-4M702.3 51.9l4.5 3.9 4.5 4.4 4.4 4.5 4.5 4.5 4.5 4.5 4.4 4.5 4.5 4.4 4.4 4.5 4.5 4.5 4.5 4.5 4.4 4.5 4.5 4.5 4.5 4.7 4.4 5 4.5 5.2 4.4 5.4 4.5 5.5 4.5 5.4 4.4 5.4 4.5 5.2 4.5 5 4.4 4.6 4.5 4.3 4.4 3.8 4.5 3.3 4.5 2.6 4.4 2.1 4.5 1.5 4.5 1.4 4.4 1 4.5 0.5 4.4 0.3 4.5 0.2 4.5-0.2 4.4-0.3 4.5-0.5 4.4-1 4.5-1.4 4.5-1.5 4.4-2.1 4.5-2.6 4.5-3.3 4.4-3.8 4.5-4.3 4.4-4.6 4.5-5 4.5-5.2 4.4-5.4 4.5-5.4 4.5-5.5 4.4-5.4 4.5-5.2 4.4-5 4.5-4.7 4.5-4.5 4.4-4.5 4.5-4.5 4.5-4.5 4.4-4.5 4.5-4.4 4.4-4.5 4.5-4.5 4.5-4.5 4.4-4.5 4.5-4.4 4.5-3.9M702.3 51.9l4.5 3.7 4.5 4.5 4.4 4.5 4.5 4.5 4.5 4.4 4.4 4.5 4.5 4.5 4.4 4.4 4.5 4.5 4.5 4.5 4.4 4.5 4.5 4.5 4.5 4.7 4.4 5 4.5 5.2 4.4 5.3 4.5 5.5 4.5 5.4 4.4 5.4 4.5 5.1 4.5 5 4.4 4.6 4.5 4.2 4.4 3.8 4.5 3.2 4.5 2.7 4.4 2 4.5 1.5 4.5 1.3 4.4 1 4.5 0.5 4.4 0.4 4.5 0.1 4.5-0.1 4.4-0.4 4.5-0.5 4.4-1 4.5-1.3 4.5-1.5 4.4-2 4.5-2.7 4.5-3.2 4.4-3.8 4.5-4.2 4.4-4.6 4.5-5 4.5-5.1 4.4-5.4 4.5-5.4 4.5-5.5 4.4-5.3 4.5-5.2 4.4-5 4.5-4.7 4.5-4.5 4.4-4.5 4.5-4.5 4.5-4.5 4.4-4.4 4.5-4.5 4.4-4.5 4.5-4.4 4.5-4.5 4.4-4.5 4.5-4.5 4.5-3.7M702.3 51.9l4.5 3.5 4.5 4.5 4.4 4.5 4.5 4.5 4.5 4.4 4.4 4.5 4.5 4.4 4.4 4.5 4.5 4.4 4.5 4.5 4.4 4.5 4.5 4.5 4.5 4.6 4.4 5 4.5 5.2 4.4 5.4 4.5 5.4 4.5 5.4 4.4 5.3 4.5 5.1 4.5 4.9 4.4 4.6 4.5 4.1 4.4 3.8 4.5 3.2 4.5 2.6 4.4 2 4.5 1.5 4.5 1.3 4.4 0.9 4.5 0.5 4.4 0.3 4.5 0.2 4.5-0.2 4.4-0.3 4.5-0.5 4.4-0.9 4.5-1.3 4.5-1.5 4.4-2 4.5-2.6 4.5-3.2 4.4-3.8 4.5-4.1 4.4-4.6 4.5-4.9 4.5-5.1 4.4-5.3 4.5-5.4 4.5-5.4 4.4-5.4 4.5-5.2 4.4-5 4.5-4.6 4.5-4.5 4.4-4.5 4.5-4.5 4.5-4.4 4.4-4.5 4.5-4.4 4.4-4.5 4.5-4.4 4.5-4.5 4.4-4.5 4.5-4.5 4.5-3.5M702.3 51.9l4.5 3.3 4.5 4.5 4.4 4.4 4.5 4.5 4.5 4.4 4.4 4.5 4.5 4.4 4.4 4.4 4.5 4.5 4.5 4.4 4.4 4.5 4.5 4.4 4.5 4.7 4.4 4.9 4.5 5.2 4.4 5.3 4.5 5.4 4.5 5.3 4.4 5.3 4.5 5.1 4.5 4.8 4.4 4.5 4.5 4.1 4.4 3.7 4.5 3.1 4.5 2.5 4.4 2 4.5 1.5 4.5 1.2 4.4 0.9 4.5 0.5 4.4 0.3 4.5 0.2 4.5-0.2 4.4-0.3 4.5-0.5 4.4-0.9 4.5-1.2 4.5-1.5 4.4-2 4.5-2.5 4.5-3.1 4.4-3.7 4.5-4.1 4.4-4.5 4.5-4.8 4.5-5.1 4.4-5.3 4.5-5.3 4.5-5.4 4.4-5.3 4.5-5.2 4.4-4.9 4.5-4.7 4.5-4.4 4.4-4.5 4.5-4.4 4.5-4.5 4.4-4.4 4.5-4.4 4.4-4.5 4.5-4.4 4.5-4.5 4.4-4.4 4.5-4.5 4.5-3.3M702.3 51.9l4.5 2.9 4.5 4.5 4.4 4.4 4.5 4.5 4.5 4.4 4.4 4.4 4.5 4.4 4.4 4.5 4.5 4.4 4.5 4.4 4.4 4.4 4.5 4.5 4.5 4.6 4.4 4.9 4.5 5.1 4.4 5.3 4.5 5.3 4.5 5.3 4.4 5.2 4.5 5 4.5 4.7 4.4 4.5 4.5 4 4.4 3.5 4.5 3.1 4.5 2.5 4.4 1.9 4.5 1.4 4.5 1.2 4.4 0.9 4.5 0.5 4.4 0.2 4.5 0.2 4.5-0.2 4.4-0.2 4.5-0.5 4.4-0.9 4.5-1.2 4.5-1.4 4.4-1.9 4.5-2.5 4.5-3.1 4.4-3.5 4.5-4 4.4-4.5 4.5-4.7 4.5-5 4.4-5.2 4.5-5.3 4.5-5.3 4.4-5.3 4.5-5.1 4.4-4.9 4.5-4.6 4.5-4.5 4.4-4.4 4.5-4.4 4.5-4.4 4.4-4.5 4.5-4.4 4.4-4.4 4.5-4.4 4.5-4.5 4.4-4.4 4.5-4.5 4.5-2.9M702.3 51.9l4.5 2.5 4.5 4.4 4.4 4.5 4.5 4.4 4.5 4.4 4.4 4.4 4.5 4.4 4.4 4.4 4.5 4.4 4.5 4.4 4.4 4.4 4.5 4.4 4.5 4.5 4.4 4.9 4.5 5.1 4.4 5.2 4.5 5.2 4.5 5.3 4.4 5.1 4.5 4.9 4.5 4.6 4.4 4.3 4.5 4 4.4 3.4 4.5 3 4.5 2.4 4.4 1.8 4.5 1.4 4.5 1.1 4.4 0.9 4.5 0.4 4.4 0.3 4.5 0.1 4.5-0.1 4.4-0.3 4.5-0.4 4.4-0.9 4.5-1.1 4.5-1.4 4.4-1.8 4.5-2.4 4.5-3 4.4-3.4 4.5-4 4.4-4.3 4.5-4.6 4.5-4.9 4.4-5.1 4.5-5.3 4.5-5.2 4.4-5.2 4.5-5.1 4.4-4.9 4.5-4.5 4.5-4.4 4.4-4.4 4.5-4.4 4.5-4.4 4.4-4.4 4.5-4.4 4.4-4.4 4.5-4.4 4.5-4.4 4.4-4.5 4.5-4.4 4.5-2.5M702.3 51.9l4.5 2.1 4.5 4.5 4.4 4.4 4.5 4.4 4.5 4.4 4.4 4.4 4.5 4.3 4.4 4.4 4.5 4.4 4.5 4.4 4.4 4.3 4.5 4.4 4.5 4.6 4.4 4.8 4.5 5 4.4 5.2 4.5 5.2 4.5 5.2 4.4 5 4.5 4.8 4.5 4.6 4.4 4.3 4.5 3.8 4.4 3.4 4.5 2.9 4.5 2.3 4.4 1.8 4.5 1.3 4.5 1.1 4.4 0.9 4.5 0.4 4.4 0.3 4.5 0.1 4.5-0.1 4.4-0.3 4.5-0.4 4.4-0.9 4.5-1.1 4.5-1.3 4.4-1.8 4.5-2.3 4.5-2.9 4.4-3.4 4.5-3.8 4.4-4.3 4.5-4.6 4.5-4.8 4.4-5 4.5-5.2 4.5-5.2 4.4-5.2 4.5-5 4.4-4.8 4.5-4.6 4.5-4.4 4.4-4.3 4.5-4.4 4.5-4.4 4.4-4.4 4.5-4.3 4.4-4.4 4.5-4.4 4.5-4.4 4.4-4.4 4.5-4.5 4.5-2.1M706.8 53.8l4.5 4.4 4.4 4.4 4.5 4.4 4.5 4.4 4.4 4.4 4.5 4.3 4.4 4.4 4.5 4.3 4.5 4.4 4.4 4.3 4.5 4.4 4.5 4.5 4.4 4.8 4.5 5.1 4.4 5.1 4.5 5.1 4.5 5.2 4.4 5 4.5 4.8 4.5 4.5 4.4 4.2 4.5 3.8 4.4 3.3 4.5 2.8 4.5 2.3 4.4 1.7 4.5 1.3 4.5 1.1 4.4 0.9 4.5 0.4 4.4 0.3 4.5 0.1 4.5-0.1 4.4-0.3 4.5-0.4 4.4-0.9 4.5-1.1 4.5-1.3 4.4-1.7 4.5-2.3 4.5-2.8 4.4-3.3 4.5-3.8 4.4-4.2 4.5-4.5 4.5-4.8 4.4-5 4.5-5.2 4.5-5.1 4.4-5.1 4.5-5.1 4.4-4.8 4.5-4.5 4.5-4.4 4.4-4.3 4.5-4.4 4.5-4.3 4.4-4.4 4.5-4.3 4.4-4.4 4.5-4.4 4.5-4.4 4.4-4.4 4.5-4.4M706.8 53.4l4.5 4.4 4.4 4.4 4.5 4.4 4.5 4.4 4.4 4.3 4.5 4.4 4.4 4.3 4.5 4.3 4.5 4.4 4.4 4.3 4.5 4.3 4.5 4.5 4.4 4.8 4.5 5 4.4 5.1 4.5 5.1 4.5 5 4.4 5 4.5 4.7 4.5 4.4 4.4 4.2 4.5 3.7 4.4 3.2 4.5 2.8 4.5 2.2 4.4 1.7 4.5 1.3 4.5 1.1 4.4 0.7 4.5 0.5 4.4 0.2 4.5 0.1 4.5-0.1 4.4-0.2 4.5-0.5 4.4-0.7 4.5-1.1 4.5-1.3 4.4-1.7 4.5-2.2 4.5-2.8 4.4-3.2 4.5-3.7 4.4-4.2 4.5-4.4 4.5-4.7 4.4-5 4.5-5 4.5-5.1 4.4-5.1 4.5-5 4.4-4.8 4.5-4.5 4.5-4.3 4.4-4.3 4.5-4.4 4.5-4.3 4.4-4.3 4.5-4.4 4.4-4.3 4.5-4.4 4.5-4.4 4.4-4.4 4.5-4.4M706.8 52.7l4.5 4.4 4.4 4.4 4.5 4.3 4.5 4.4 4.4 4.3 4.5 4.3 4.4 4.3 4.5 4.3 4.5 4.3 4.4 4.3 4.5 4.3 4.5 4.4 4.4 4.7 4.5 4.9 4.4 5 4.5 5 4.5 5 4.4 4.8 4.5 4.6 4.5 4.4 4.4 3.9 4.5 3.6 4.4 3.2 4.5 2.6 4.5 2.2 4.4 1.6 4.5 1.2 4.5 1 4.4 0.7 4.5 0.4 4.4 0.3 4.5 0.1 4.5-0.1 4.4-0.3 4.5-0.4 4.4-0.7 4.5-1 4.5-1.2 4.4-1.6 4.5-2.2 4.5-2.6 4.4-3.2 4.5-3.6 4.4-3.9 4.5-4.4 4.5-4.6 4.4-4.8 4.5-5 4.5-5 4.4-5 4.5-4.9 4.4-4.7 4.5-4.4 4.5-4.3 4.4-4.3 4.5-4.3 4.5-4.3 4.4-4.3 4.5-4.3 4.4-4.3 4.5-4.4 4.5-4.3 4.4-4.4 4.5-4.4M706.8 52.3l4.5 4.4 4.4 4.4 4.5 4.3 4.5 4.3 4.4 4.3 4.5 4.3 4.4 4.3 4.5 4.3 4.5 4.2 4.4 4.3 4.5 4.2 4.5 4.4 4.4 4.7 4.5 4.9 4.4 4.9 4.5 5 4.5 4.9 4.4 4.7 4.5 4.6 4.5 4.3 4.4 3.9 4.5 3.5 4.4 3.1 4.5 2.6 4.5 2 4.4 1.6 4.5 1.2 4.5 0.9 4.4 0.8 4.5 0.4 4.4 0.2 4.5 0.1 4.5-0.1 4.4-0.2 4.5-0.4 4.4-0.8 4.5-0.9 4.5-1.2 4.4-1.6 4.5-2 4.5-2.6 4.4-3.1 4.5-3.5 4.4-3.9 4.5-4.3 4.5-4.6 4.4-4.7 4.5-4.9 4.5-5 4.4-4.9 4.5-4.9 4.4-4.7 4.5-4.4 4.5-4.2 4.4-4.3 4.5-4.2 4.5-4.3 4.4-4.3 4.5-4.3 4.4-4.3 4.5-4.3 4.5-4.3 4.4-4.4 4.5-4.4M706.8 51.9l4.5 4.2 4.4 4.4 4.5 4.3 4.5 4.3 4.4 4.2 4.5 4.3 4.4 4.3 4.5 4.2 4.5 4.2 4.4 4.2 4.5 4.3 4.5 4.3 4.4 4.7 4.5 4.8 4.4 4.8 4.5 4.9 4.5 4.9 4.4 4.6 4.5 4.5 4.5 4.2 4.4 3.8 4.5 3.4 4.4 3 4.5 2.5 4.5 2 4.4 1.5 4.5 1.2 4.5 0.9 4.4 0.7 4.5 0.4 4.4 0.2 4.5 0.1 4.5-0.1 4.4-0.2 4.5-0.4 4.4-0.7 4.5-0.9 4.5-1.2 4.4-1.5 4.5-2 4.5-2.5 4.4-3 4.5-3.4 4.4-3.8 4.5-4.2 4.5-4.5 4.4-4.6 4.5-4.9 4.5-4.9 4.4-4.8 4.5-4.8 4.4-4.7 4.5-4.3 4.5-4.3 4.4-4.2 4.5-4.2 4.5-4.2 4.4-4.3 4.5-4.3 4.4-4.2 4.5-4.3 4.5-4.3 4.4-4.4 4.5-4.2M706.8 51.9l4.5 3.3 4.4 4.3 4.5 4.3 4.5 4.2 4.4 4.3 4.5 4.2 4.4 4.2 4.5 4.2 4.5 4.2 4.4 4.1 4.5 4.2 4.5 4.3 4.4 4.6 4.5 4.7 4.4 4.8 4.5 4.7 4.5 4.8 4.4 4.5 4.5 4.3 4.5 4.1 4.4 3.6 4.5 3.3 4.4 2.9 4.5 2.4 4.5 1.9 4.4 1.4 4.5 1.1 4.5 0.9 4.4 0.7 4.5 0.3 4.4 0.2 4.5 0.1 4.5-0.1 4.4-0.2 4.5-0.3 4.4-0.7 4.5-0.9 4.5-1.1 4.4-1.4 4.5-1.9 4.5-2.4 4.4-2.9 4.5-3.3 4.4-3.6 4.5-4.1 4.5-4.3 4.4-4.5 4.5-4.8 4.5-4.7 4.4-4.8 4.5-4.7 4.4-4.6 4.5-4.3 4.5-4.2 4.4-4.1 4.5-4.2 4.5-4.2 4.4-4.2 4.5-4.2 4.4-4.3 4.5-4.2 4.5-4.3 4.4-4.3 4.5-3.3M706.8 51.9l4.5 2.9 4.4 4.3 4.5 4.3 4.5 4.2 4.4 4.2 4.5 4.2 4.4 4.2 4.5 4.2 4.5 4.1 4.4 4.2 4.5 4.1 4.5 4.3 4.4 4.5 4.5 4.7 4.4 4.7 4.5 4.8 4.5 4.6 4.4 4.5 4.5 4.3 4.5 4 4.4 3.6 4.5 3.2 4.4 2.8 4.5 2.4 4.5 1.9 4.4 1.4 4.5 1 4.5 0.9 4.4 0.6 4.5 0.4 4.4 0.2 4.5 0.1 4.5-0.1 4.4-0.2 4.5-0.4 4.4-0.6 4.5-0.9 4.5-1 4.4-1.4 4.5-1.9 4.5-2.4 4.4-2.8 4.5-3.2 4.4-3.6 4.5-4 4.5-4.3 4.4-4.5 4.5-4.6 4.5-4.8 4.4-4.7 4.5-4.7 4.4-4.5 4.5-4.3 4.5-4.1 4.4-4.2 4.5-4.1 4.5-4.2 4.4-4.2 4.5-4.2 4.4-4.2 4.5-4.2 4.5-4.3 4.4-4.3 4.5-2.9M706.8 51.9l4.5 2.1 4.4 4.3 4.5 4.2 4.5 4.2 4.4 4.2 4.5 4.2 4.4 4.1 4.5 4.1 4.5 4.1 4.4 4.1 4.5 4.1 4.5 4.2 4.4 4.5 4.5 4.6 4.4 4.6 4.5 4.7 4.5 4.6 4.4 4.4 4.5 4.1 4.5 3.9 4.4 3.5 4.5 3.1 4.4 2.7 4.5 2.3 4.5 1.8 4.4 1.4 4.5 1 4.5 0.8 4.4 0.6 4.5 0.3 4.4 0.2 4.5 0.1 4.5-0.1 4.4-0.2 4.5-0.3 4.4-0.6 4.5-0.8 4.5-1 4.4-1.4 4.5-1.8 4.5-2.3 4.4-2.7 4.5-3.1 4.4-3.5 4.5-3.9 4.5-4.1 4.4-4.4 4.5-4.6 4.5-4.7 4.4-4.6 4.5-4.6 4.4-4.5 4.5-4.2 4.5-4.1 4.4-4.1 4.5-4.1 4.5-4.1 4.4-4.1 4.5-4.2 4.4-4.2 4.5-4.2 4.5-4.2 4.4-4.3 4.5-2.1M711.3 52.9l4.4 4.2 4.5 4.2 4.5 4.2 4.4 4.1 4.5 4.1 4.4 4.1 4.5 4.1 4.5 4 4.4 4 4.5 4.1 4.5 4.1 4.4 4.4 4.5 4.5 4.4 4.5 4.5 4.6 4.5 4.4 4.4 4.3 4.5 4 4.5 3.7 4.4 3.4 4.5 3 4.4 2.6 4.5 2.1 4.5 1.7 4.4 1.3 4.5 1 4.5 0.7 4.4 0.6 4.5 0.3 4.4 0.2 4.5 0.1 4.5-0.1 4.4-0.2 4.5-0.3 4.4-0.6 4.5-0.7 4.5-1 4.4-1.3 4.5-1.7 4.5-2.1 4.4-2.6 4.5-3 4.4-3.4 4.5-3.7 4.5-4 4.4-4.3 4.5-4.4 4.5-4.6 4.4-4.5 4.5-4.5 4.4-4.4 4.5-4.1 4.5-4.1 4.4-4 4.5-4 4.5-4.1 4.4-4.1 4.5-4.1 4.4-4.1 4.5-4.2 4.5-4.2 4.4-4.2M711.3 52.3l4.4 4.1 4.5 4.2 4.5 4.1 4.4 4.1 4.5 4.1 4.4 4.1 4.5 4 4.5 4 4.4 4 4.5 4 4.5 4.1 4.4 4.3 4.5 4.5 4.4 4.5 4.5 4.4 4.5 4.4 4.4 4.2 4.5 4 4.5 3.6 4.4 3.3 4.5 2.9 4.4 2.6 4.5 2.1 4.5 1.6 4.4 1.3 4.5 0.9 4.5 0.7 4.4 0.6 4.5 0.3 4.4 0.2 4.5 0 4.5 0 4.4-0.2 4.5-0.3 4.4-0.6 4.5-0.7 4.5-0.9 4.4-1.3 4.5-1.6 4.5-2.1 4.4-2.6 4.5-2.9 4.4-3.3 4.5-3.6 4.5-4 4.4-4.2 4.5-4.4 4.5-4.4 4.4-4.5 4.5-4.5 4.4-4.3 4.5-4.1 4.5-4 4.4-4 4.5-4 4.5-4 4.4-4.1 4.5-4.1 4.4-4.1 4.5-4.1 4.5-4.2 4.4-4.1M711.3 51.9l4.4 3.6 4.5 4.1 4.5 4.1 4.4 4.1 4.5 4 4.4 4 4.5 4 4.5 4 4.4 3.9 4.5 3.9 4.5 4.1 4.4 4.2 4.5 4.4 4.4 4.4 4.5 4.4 4.5 4.3 4.4 4.1 4.5 3.8 4.5 3.6 4.4 3.2 4.5 2.8 4.4 2.4 4.5 2.1 4.5 1.6 4.4 1.1 4.5 0.9 4.5 0.8 4.4 0.5 4.5 0.3 4.4 0.1 4.5 0.1 4.5-0.1 4.4-0.1 4.5-0.3 4.4-0.5 4.5-0.8 4.5-0.9 4.4-1.1 4.5-1.6 4.5-2.1 4.4-2.4 4.5-2.8 4.4-3.2 4.5-3.6 4.5-3.8 4.4-4.1 4.5-4.3 4.5-4.4 4.4-4.4 4.5-4.4 4.4-4.2 4.5-4.1 4.5-3.9 4.4-3.9 4.5-4 4.5-4 4.4-4 4.5-4 4.4-4.1 4.5-4.1 4.5-4.1 4.4-3.6M711.3 51.9l4.4 2.2 4.5 4.1 4.5 4.1 4.4 4 4.5 4 4.4 3.9 4.5 4 4.5 3.9 4.4 3.8 4.5 3.9 4.5 3.9 4.4 4.2 4.5 4.3 4.4 4.3 4.5 4.2 4.5 4.2 4.4 3.9 4.5 3.7 4.5 3.5 4.4 3 4.5 2.7 4.4 2.4 4.5 1.9 4.5 1.5 4.4 1.1 4.5 0.9 4.5 0.7 4.4 0.5 4.5 0.2 4.4 0.2 4.5 0.1 4.5-0.1 4.4-0.2 4.5-0.2 4.4-0.5 4.5-0.7 4.5-0.9 4.4-1.1 4.5-1.5 4.5-1.9 4.4-2.4 4.5-2.7 4.4-3 4.5-3.5 4.5-3.7 4.4-3.9 4.5-4.2 4.5-4.2 4.4-4.3 4.5-4.3 4.4-4.2 4.5-3.9 4.5-3.9 4.4-3.8 4.5-3.9 4.5-4 4.4-3.9 4.5-4 4.4-4 4.5-4.1 4.5-4.1 4.4-2.2M715.7 53.4l4.5 4.1 4.5 4 4.4 4 4.5 4 4.4 3.9 4.5 3.9 4.5 3.9 4.4 3.8 4.5 3.8 4.5 3.9 4.4 4.1 4.5 4.3 4.4 4.2 4.5 4.2 4.5 4.1 4.4 3.9 4.5 3.6 4.5 3.4 4.4 3 4.5 2.7 4.4 2.2 4.5 1.9 4.5 1.5 4.4 1.1 4.5 0.8 4.5 0.7 4.4 0.5 4.5 0.2 4.4 0.2 4.5 0 4.5 0 4.4-0.2 4.5-0.2 4.4-0.5 4.5-0.7 4.5-0.8 4.4-1.1 4.5-1.5 4.5-1.9 4.4-2.2 4.5-2.7 4.4-3 4.5-3.4 4.5-3.6 4.4-3.9 4.5-4.1 4.5-4.2 4.4-4.2 4.5-4.3 4.4-4.1 4.5-3.9 4.5-3.8 4.4-3.8 4.5-3.9 4.5-3.9 4.4-3.9 4.5-4 4.4-4 4.5-4 4.5-4.1M715.7 52.3l4.5 4 4.5 4 4.4 4 4.5 3.9 4.4 3.9 4.5 3.8 4.5 3.8 4.4 3.8 4.5 3.8 4.5 3.8 4.4 4.1 4.5 4.1 4.4 4.2 4.5 4.1 4.5 4 4.4 3.8 4.5 3.5 4.5 3.3 4.4 2.9 4.5 2.6 4.4 2.2 4.5 1.8 4.5 1.4 4.4 1.1 4.5 0.7 4.5 0.7 4.4 0.5 4.5 0.2 4.4 0.2 4.5 0 4.5 0 4.4-0.2 4.5-0.2 4.4-0.5 4.5-0.7 4.5-0.7 4.4-1.1 4.5-1.4 4.5-1.8 4.4-2.2 4.5-2.6 4.4-2.9 4.5-3.3 4.5-3.5 4.4-3.8 4.5-4 4.5-4.1 4.4-4.2 4.5-4.1 4.4-4.1 4.5-3.8 4.5-3.8 4.4-3.8 4.5-3.8 4.5-3.8 4.4-3.9 4.5-3.9 4.4-4 4.5-4 4.5-4M715.7 51.9l4.5 3 4.5 3.9 4.4 3.9 4.5 3.9 4.4 3.8 4.5 3.8 4.5 3.8 4.4 3.7 4.5 3.7 4.5 3.8 4.4 3.9 4.5 4.1 4.4 4 4.5 4 4.5 3.9 4.4 3.7 4.5 3.4 4.5 3.2 4.4 2.8 4.5 2.5 4.4 2.1 4.5 1.7 4.5 1.4 4.4 1 4.5 0.7 4.5 0.6 4.4 0.5 4.5 0.2 4.4 0.1 4.5 0.1 4.5-0.1 4.4-0.1 4.5-0.2 4.4-0.5 4.5-0.6 4.5-0.7 4.4-1 4.5-1.4 4.5-1.7 4.4-2.1 4.5-2.5 4.4-2.8 4.5-3.2 4.5-3.4 4.4-3.7 4.5-3.9 4.5-4 4.4-4 4.5-4.1 4.4-3.9 4.5-3.8 4.5-3.7 4.4-3.7 4.5-3.8 4.5-3.8 4.4-3.8 4.5-3.9 4.4-3.9 4.5-3.9 4.5-3M720.2 53.5l4.5 3.9 4.4 3.8 4.5 3.8 4.4 3.8 4.5 3.7 4.5 3.7 4.4 3.7 4.5 3.6 4.5 3.7 4.4 3.9 4.5 3.9 4.4 4 4.5 3.9 4.5 3.8 4.4 3.6 4.5 3.3 4.5 3 4.4 2.8 4.5 2.3 4.4 2.1 4.5 1.6 4.5 1.3 4.4 1 4.5 0.7 4.5 0.6 4.4 0.4 4.5 0.3 4.4 0.1 4.5 0 4.5 0 4.4-0.1 4.5-0.3 4.4-0.4 4.5-0.6 4.5-0.7 4.4-1 4.5-1.3 4.5-1.6 4.4-2.1 4.5-2.3 4.4-2.8 4.5-3 4.5-3.3 4.4-3.6 4.5-3.8 4.5-3.9 4.4-4 4.5-3.9 4.4-3.9 4.5-3.7 4.5-3.6 4.4-3.7 4.5-3.7 4.5-3.7 4.4-3.8 4.5-3.8 4.4-3.8 4.5-3.9M720.2 52.2l4.5 3.9 4.4 3.8 4.5 3.7 4.4 3.8 4.5 3.7 4.5 3.6 4.4 3.6 4.5 3.6 4.5 3.6 4.4 3.8 4.5 3.9 4.4 3.9 4.5 3.8 4.5 3.7 4.4 3.5 4.5 3.2 4.5 3 4.4 2.6 4.5 2.3 4.4 2 4.5 1.6 4.5 1.3 4.4 0.9 4.5 0.7 4.5 0.5 4.4 0.5 4.5 0.2 4.4 0.1 4.5 0.1 4.5-0.1 4.4-0.1 4.5-0.2 4.4-0.5 4.5-0.5 4.5-0.7 4.4-0.9 4.5-1.3 4.5-1.6 4.4-2 4.5-2.3 4.4-2.6 4.5-3 4.5-3.2 4.4-3.5 4.5-3.7 4.5-3.8 4.4-3.9 4.5-3.9 4.4-3.8 4.5-3.6 4.5-3.6 4.4-3.6 4.5-3.6 4.5-3.7 4.4-3.8 4.5-3.7 4.4-3.8 4.5-3.9M720.2 51.9l4.5 3.2 4.4 3.7 4.5 3.8 4.4 3.7 4.5 3.6 4.5 3.6 4.4 3.6 4.5 3.5 4.5 3.6 4.4 3.7 4.5 3.9 4.4 3.8 4.5 3.8 4.5 3.6 4.4 3.4 4.5 3.2 4.5 2.9 4.4 2.6 4.5 2.2 4.4 1.9 4.5 1.6 4.5 1.2 4.4 0.9 4.5 0.7 4.5 0.5 4.4 0.4 4.5 0.3 4.4 0.1 4.5 0 4.5 0 4.4-0.1 4.5-0.3 4.4-0.4 4.5-0.5 4.5-0.7 4.4-0.9 4.5-1.2 4.5-1.6 4.4-1.9 4.5-2.2 4.4-2.6 4.5-2.9 4.5-3.2 4.4-3.4 4.5-3.6 4.5-3.8 4.4-3.8 4.5-3.9 4.4-3.7 4.5-3.6 4.5-3.5 4.4-3.6 4.5-3.6 4.5-3.6 4.4-3.7 4.5-3.8 4.4-3.7 4.5-3.2M724.7 53.7l4.4 3.7 4.5 3.7 4.4 3.6 4.5 3.6 4.5 3.6 4.4 3.5 4.5 3.4 4.5 3.6 4.4 3.7 4.5 3.7 4.4 3.8 4.5 3.6 4.5 3.6 4.4 3.3 4.5 3.1 4.5 2.8 4.4 2.5 4.5 2.2 4.4 1.8 4.5 1.6 4.5 1.1 4.4 0.9 4.5 0.6 4.5 0.6 4.4 0.4 4.5 0.2 4.4 0.1 4.5 0.1 4.5-0.1 4.4-0.1 4.5-0.2 4.4-0.4 4.5-0.6 4.5-0.6 4.4-0.9 4.5-1.1 4.5-1.6 4.4-1.8 4.5-2.2 4.4-2.5 4.5-2.8 4.5-3.1 4.4-3.3 4.5-3.6 4.5-3.6 4.4-3.8 4.5-3.7 4.4-3.7 4.5-3.6 4.5-3.4 4.4-3.5 4.5-3.6 4.5-3.6 4.4-3.6 4.5-3.7 4.4-3.7M724.7 52.4l4.4 3.7 4.5 3.6 4.4 3.6 4.5 3.5 4.5 3.5 4.4 3.5 4.5 3.4 4.5 3.5 4.4 3.6 4.5 3.7 4.4 3.7 4.5 3.6 4.5 3.4 4.4 3.3 4.5 3 4.5 2.8 4.4 2.4 4.5 2.1 4.4 1.8 4.5 1.5 4.5 1.1 4.4 0.9 4.5 0.6 4.5 0.5 4.4 0.4 4.5 0.2 4.4 0.1 4.5 0.1 4.5-0.1 4.4-0.1 4.5-0.2 4.4-0.4 4.5-0.5 4.5-0.6 4.4-0.9 4.5-1.1 4.5-1.5 4.4-1.8 4.5-2.1 4.4-2.4 4.5-2.8 4.5-3 4.4-3.3 4.5-3.4 4.5-3.6 4.4-3.7 4.5-3.7 4.4-3.6 4.5-3.5 4.5-3.4 4.4-3.5 4.5-3.5 4.5-3.5 4.4-3.6 4.5-3.6 4.4-3.7M724.7 51.9l4.4 2.6 4.5 3.6 4.4 3.6 4.5 3.5 4.5 3.4 4.4 3.4 4.5 3.4 4.5 3.4 4.4 3.5 4.5 3.7 4.4 3.6 4.5 3.5 4.5 3.4 4.4 3.1 4.5 3 4.5 2.6 4.4 2.4 4.5 2.1 4.4 1.7 4.5 1.4 4.5 1.1 4.4 0.8 4.5 0.6 4.5 0.5 4.4 0.4 4.5 0.2 4.4 0.1 4.5 0.1 4.5-0.1 4.4-0.1 4.5-0.2 4.4-0.4 4.5-0.5 4.5-0.6 4.4-0.8 4.5-1.1 4.5-1.4 4.4-1.7 4.5-2.1 4.4-2.4 4.5-2.6 4.5-3 4.4-3.1 4.5-3.4 4.5-3.5 4.4-3.6 4.5-3.7 4.4-3.5 4.5-3.4 4.5-3.4 4.4-3.4 4.5-3.4 4.5-3.5 4.4-3.6 4.5-3.6 4.4-2.6M729.1 53.1l4.5 3.6 4.4 3.5 4.5 3.4 4.5 3.4 4.4 3.4 4.5 3.3 4.5 3.3 4.4 3.5 4.5 3.6 4.4 3.5 4.5 3.5 4.5 3.3 4.4 3.1 4.5 2.9 4.5 2.6 4.4 2.3 4.5 2 4.4 1.6 4.5 1.4 4.5 1.1 4.4 0.8 4.5 0.6 4.5 0.4 4.4 0.4 4.5 0.2 4.4 0.1 4.5 0 4.5 0 4.4-0.1 4.5-0.2 4.4-0.4 4.5-0.4 4.5-0.6 4.4-0.8 4.5-1.1 4.5-1.4 4.4-1.6 4.5-2 4.4-2.3 4.5-2.6 4.5-2.9 4.4-3.1 4.5-3.3 4.5-3.5 4.4-3.5 4.5-3.6 4.4-3.5 4.5-3.3 4.5-3.3 4.4-3.4 4.5-3.4 4.5-3.4 4.4-3.5 4.5-3.6M729.1 51.9l4.5 2.6 4.4 3.4 4.5 3.4 4.5 3.3 4.4 3.3 4.5 3.2 4.5 3.3 4.4 3.4 4.5 3.5 4.4 3.4 4.5 3.3 4.5 3.2 4.4 3 4.5 2.8 4.5 2.5 4.4 2.2 4.5 1.9 4.4 1.7 4.5 1.3 4.5 1 4.4 0.8 4.5 0.5 4.5 0.5 4.4 0.3 4.5 0.2 4.4 0.1 4.5 0 4.5 0 4.4-0.1 4.5-0.2 4.4-0.3 4.5-0.5 4.5-0.5 4.4-0.8 4.5-1 4.5-1.3 4.4-1.7 4.5-1.9 4.4-2.2 4.5-2.5 4.5-2.8 4.4-3 4.5-3.2 4.5-3.3 4.4-3.4 4.5-3.5 4.4-3.4 4.5-3.3 4.5-3.2 4.4-3.3 4.5-3.3 4.5-3.4 4.4-3.4 4.5-2.6"/>
<path fill="none" stroke="#3c4a9e" stroke-width="3.2" d="M684.5 152.9l4.5 0 4.4 0 4.5 0 4.4 0 4.5 0 4.5 0.2 4.4 0.4 4.5 0.3 4.5 0.5 4.4 0.7 4.5 0.9 4.4 0.8 4.5 0.9 4.5 1 4.4 1 4.5 1.3 4.5 1.4 4.4 1.3 4.5 1.4 4.4 1.3 4.5 1.4 4.5 1.3 4.4 1.3 4.5 1.3 4.5 1.3 4.4 1.2 4.5 1.2 4.4 1 4.5 0.8 4.5 0.7 4.4 0.6 4.5 0.5 4.5 0.4 4.4 0.4 4.5 0.3 4.4 0.2 4.5 0.1 4.5-0.1 4.4-0.2 4.5-0.3 4.4-0.4 4.5-0.4 4.5-0.5 4.4-0.6 4.5-0.7 4.5-0.8 4.4-1 4.5-1.2 4.4-1.2 4.5-1.3 4.5-1.3 4.4-1.3 4.5-1.3 4.5-1.4 4.4-1.3 4.5-1.4 4.4-1.3 4.5-1.4 4.5-1.3 4.4-1 4.5-1 4.5-0.9 4.4-0.8 4.5-0.9 4.4-0.7 4.5-0.5 4.5-0.3 4.4-0.4 4.5-0.2 4.5 0 4.4 0 4.5 0 4.4 0 4.5 0"/>
<path fill="none" stroke="#3c4a9e" stroke-width="1.7" d="M723.4 71.3l-5.6-0.4 -5.7 0.7 -5.6 1.1 -5.6 1 -5.6 1 -5.7 1.1 -5.6 0.9M975.8 71.3l5.6-0.4 5.7 0.7 5.6 1.1 5.6 1 5.6 1 5.7 1.1 5.6 0.9M738.5 85.5l-7.8-0.1 -7.8 0.4 -7.8 0.5 -7.7 0.5 -7.8 0.6 -7.8 0.6 -7.8 0.5M960.7 85.5l7.8-0.1 7.8 0.4 7.8 0.5 7.7 0.5 7.8 0.6 7.8 0.6 7.8 0.5M751.1 99.1l-9.6 0 -9.6 0 -9.6 0 -9.5 0 -9.6-0.2 -9.6-0.3 -9.6-0.1M948.1 99.1l9.6 0 9.6 0 9.6 0 9.5 0 9.6-0.2 9.6-0.3 9.6-0.1M741 111.6l-8.1 0 -8.2-0.2 -8.1-0.4 -8.2-0.4 -8.1-0.5 -8.2-0.5 -8.1-0.5M958.2 111.6l8.1 0 8.2-0.2 8.1-0.4 8.2-0.4 8.1-0.5 8.2-0.5 8.1-0.5M725.9 116.9l-6 0.3 -6-0.9 -6-1.4 -5.9-1.1 -6-1 -6-1 -6-1M973.3 116.9l6 0.3 6-0.9 6-1.4 5.9-1.1 6-1 6-1 6-1M718.3 120.4l-4.9 0.7 -4.9-1.2 -4.9-1.6 -4.9-1.4 -4.9-1.3 -4.9-1.2 -4.9-1.3M980.9 120.4l4.9 0.7 4.9-1.2 4.9-1.6 4.9-1.4 4.9-1.3 4.9-1.2 4.9-1.3"/>
<path fill="none" stroke="#3c4a9e" stroke-width="2.2" d="M758.7 106.6l-10.7 0.1 -10.6-0.1 -10.7-0.2 -10.7-0.1 -10.7-0.3 -10.6-0.4 -10.7-0.2M940.5 106.6l10.7 0.1 10.6-0.1 10.7-0.2 10.7-0.1 10.7-0.3 10.6-0.4 10.7-0.2"/>
</g>
<use href="#qB" transform="translate(0 489.80) scale(1 -1)"/>
<path d="M686 155.4l2.8 0.1 2.7 0.2 2.8 0.3 2.8 0.3 2.8 0.4 2.7 0.4 2.8 0.5 2.8 0.5 2.8 0.6 2.7 0.7 2.8 0.7 2.8 0.8 2.7 0.8 2.8 0.8 2.8 0.9 2.8 0.9 2.7 0.9 2.8 1 2.8 1.1 2.8 1.2 2.7 1.4 2.8 1.3 2.8 1.4 2.7 1.2 2.8 1.2 2.8 1.3 2.8 1.2 2.7 1.3 2.8 1.3 2.8 1.4 2.8 1.4 2.7 1.5 2.8 1.5 2.8 1.5 2.8 1.6 2.7 1.6 2.8 1.6 2.8 1.7 2.7 1.7 2.8 1.7 2.8 1.7 2.8 1.7 2.7 1.8 2.8 1.9 2.8 2.2 2.8 2.4 2.7 2.4 2.8 2.3 2.8 2.4 2.7 2.2 2.8 2.2 2.8 2.3 2.8 2.1 2.7 2.1 2.8 1.8 2.8 1.7 2.8 1.5 2.7 1.4 2.8 0.4 2.8-0.4 2.7-1.4 2.8-1.5 2.8-1.7 2.8-1.8 2.7-2.1 2.8-2.1 2.8-2.3 2.8-2.2 2.7-2.2 2.8-2.4 2.8-2.3 2.7-2.4 2.8-2.4 2.8-2.2 2.8-1.9 2.7-1.8 2.8-1.7 2.8-1.7 2.8-1.7 2.7-1.7 2.8-1.7 2.8-1.6 2.7-1.6 2.8-1.6 2.8-1.5 2.8-1.5 2.7-1.5 2.8-1.4 2.8-1.4 2.8-1.3 2.7-1.3 2.8-1.2 2.8-1.3 2.8-1.2 2.7-1.2 2.8-1.4 2.8-1.3 2.7-1.4 2.8-1.2 2.8-1.1 2.8-1 2.7-0.9 2.8-0.9 2.8-0.9 2.8-0.8 2.7-0.8 2.8-0.8 2.8-0.7 2.7-0.7 2.8-0.6 2.8-0.5 2.8-0.5 2.7-0.4 2.8-0.4 2.8-0.3 2.8-0.3 2.7-0.2 2.8-0.1M686 334.5l2.8-0.1 2.7-0.2 2.8-0.3 2.8-0.3 2.8-0.4 2.7-0.4 2.8-0.5 2.8-0.5 2.8-0.6 2.7-0.7 2.8-0.7 2.8-0.8 2.7-0.8 2.8-0.8 2.8-0.9 2.8-0.9 2.7-0.9 2.8-1 2.8-1.1 2.8-1.2 2.7-1.4 2.8-1.3 2.8-1.4 2.7-1.2 2.8-1.2 2.8-1.3 2.8-1.2 2.7-1.3 2.8-1.3 2.8-1.4 2.8-1.4 2.7-1.5 2.8-1.5 2.8-1.5 2.8-1.6 2.7-1.6 2.8-1.6 2.8-1.7 2.7-1.7 2.8-1.7 2.8-1.7 2.8-1.7 2.7-1.8 2.8-1.9 2.8-2.2 2.8-2.4 2.7-2.4 2.8-2.3 2.8-2.4 2.7-2.2 2.8-2.2 2.8-2.3 2.8-2.1 2.7-2.1 2.8-1.8 2.8-1.7 2.8-1.5 2.7-1.4 2.8-0.4 2.8 0.4 2.7 1.4 2.8 1.5 2.8 1.7 2.8 1.8 2.7 2.1 2.8 2.1 2.8 2.3 2.8 2.2 2.7 2.2 2.8 2.4 2.8 2.3 2.7 2.4 2.8 2.4 2.8 2.2 2.8 1.9 2.7 1.8 2.8 1.7 2.8 1.7 2.8 1.7 2.7 1.7 2.8 1.7 2.8 1.6 2.7 1.6 2.8 1.6 2.8 1.5 2.8 1.5 2.7 1.5 2.8 1.4 2.8 1.4 2.8 1.3 2.7 1.3 2.8 1.2 2.8 1.3 2.8 1.2 2.7 1.2 2.8 1.4 2.8 1.3 2.7 1.4 2.8 1.2 2.8 1.1 2.8 1 2.7 0.9 2.8 0.9 2.8 0.9 2.8 0.8 2.7 0.8 2.8 0.8 2.8 0.7 2.7 0.7 2.8 0.6 2.8 0.5 2.8 0.5 2.7 0.4 2.8 0.4 2.8 0.3 2.8 0.3 2.7 0.2 2.8 0.1" stroke="#e30613" stroke-width="2.7" fill="none" stroke-linejoin="round"/>
</g>
<g clip-path="url(#cC)">
<g id="qC">
<path fill="#3c4a9e" d="M1130.5 24.1l1.8 2.1 1.9 2.1 1.8 2.1 1.8 2.2 1.9 2.1 1.8 2.1 1.9 2.1 1.8 2.1 1.8 2.1 1.9 2.2 1.8 2.1 1.8 2.1 1.9 2.1 1.8 2.1 1.8 0.3 1.9 0 1.8 0 1.8 0 1.9 0 1.8 0 1.9 0 1.8 0 1.8 0 1.9 0 1.8 0 1.8 0 1.9 0 1.8 0 1.8 0 1.9 0 1.8 0 1.9 0 1.8 0 1.8 0 1.9 0 1.8 0 1.8 0 1.9 0 1.8 0 1.8 0 1.9 0 1.8 0 1.8 0 1.9 0 1.8 0 1.9 0 1.8 0 1.8 0 1.9 0 1.8 0 1.8 0 1.9 0 1.8 0.3 1.8 1.5 1.9 1.6 1.8 1.5 1.8 1.6 1.9 1.5 1.8 1.5 1.9 1.4 1.8 1.5 1.8 1.4 1.9 1.5 1.8 1.4 1.8 1.5 1.9 1.3 1.8 1.3 1.8 1.1 1.9 1.1 1.8 1 1.9 1 1.8 0.8 1.8 0.7 1.9 0.6 1.8 0.6 1.8 0.5 1.9 0.4 1.8 0.4 1.8 0.2 1.9 0.3 1.8 0.2 1.8 0.2 1.9 0.1 1.8 0.1 1.9 0.1 1.8 0.1 1.8 0 1.9 0.1 1.8 0 1.8 0 1.9-0.1 1.8 0 1.8-0.1 1.9-0.1 1.8-0.1 1.9-0.1 1.8-0.2 1.8-0.2 1.9-0.3 1.8-0.2 1.8-0.4 1.9-0.4 1.8-0.5 1.8-0.6 1.9-0.6 1.8-0.7 1.8-0.8 1.9-1 1.8-1 1.9-1.1 1.8-1.1 1.8-1.3 1.9-1.3 1.8-1.5 1.8-1.4 1.9-1.5 1.8-1.4 1.8-1.5 1.9-1.4 1.8-1.5 1.9-1.5 1.8-1.6 1.8-1.5 1.9-1.6 1.8-1.5 1.8-0.3 1.9 0 1.8 0 1.8 0 1.9 0 1.8 0 1.8 0 1.9 0 1.8 0 1.9 0 1.8 0 1.8 0 1.9 0 1.8 0 1.8 0 1.9 0 1.8 0 1.8 0 1.9 0 1.8 0 1.8 0 1.9 0 1.8 0 1.9 0 1.8 0 1.8 0 1.9 0 1.8 0 1.8 0 1.9 0 1.8 0 1.8 0 1.9 0 1.8 0 1.9 0 1.8 0 1.8 0 1.9 0 1.8-0.3 1.8-2.1 1.9-2.1 1.8-2.1 1.8-2.1 1.9-2.2 1.8-2.1 1.8-2.1 1.9-2.1 1.8-2.1 1.9-2.1 1.8-2.2 1.8-2.1 1.9-2.1 1.8-2.1 -1.8 2.1 -1.9 2.1 -1.8 2.1 -1.8 2.2 -1.9 2.1 -1.8 2.1 -1.9 2.1 -1.8 2.1 -1.8 2.1 -1.9 2.2 -1.8 2.1 -1.8 2.1 -1.9 2.1 -1.8 2.1 -1.8 2.1 -1.9 2.1 -1.8 2.1 -1.8 2.1 -1.9 2.1 -1.8 2 -1.9 2.1 -1.8 2 -1.8 2.1 -1.9 2 -1.8 2.1 -1.8 2 -1.9 2 -1.8 2.1 -1.8 2 -1.9 2.1 -1.8 2.1 -1.9 2.1 -1.8 2.1 -1.8 2.1 -1.9 2.2 -1.8 2.2 -1.8 2.2 -1.9 2.2 -1.8 2.4 -1.8 2.4 -1.9 2.4 -1.8 2.5 -1.8 2.5 -1.9 2.5 -1.8 2.5 -1.9 2.5 -1.8 2.5 -1.8 0.4 -1.9 0.1 -1.8 0 -1.8 0.1 -1.9 0.1 -1.8 0.1 -1.8 0.1 -1.9 0.1 -1.8 0 -1.8 0.1 -1.9 0.1 -1.8 0.1 -1.9 0.1 -1.8 0.1 -1.8 0.1 -1.9 0 -1.8 0.1 -1.8 0.1 -1.9 0 -1.8 0.1 -1.8 0 -1.9 0.1 -1.8 0.1 -1.9 0 -1.8 0.1 -1.8 0 -1.9 0.1 -1.8 0.1 -1.8 0 -1.9 0.1 -1.8 0 -1.8 0.1 -1.9 0 -1.8 0.1 -1.8 0 -1.9 0.1 -1.8 0 -1.9 0 -1.8 0.1 -1.8 0 -1.9 0 -1.8 0 -1.8 0 -1.9 0 -1.8 0 -1.8-0.1 -1.9 0 -1.8 0 -1.9-0.1 -1.8 0 -1.8-0.1 -1.9 0 -1.8-0.1 -1.8 0 -1.9-0.1 -1.8 0 -1.8-0.1 -1.9-0.1 -1.8 0 -1.8-0.1 -1.9 0 -1.8-0.1 -1.9-0.1 -1.8 0 -1.8-0.1 -1.9 0 -1.8-0.1 -1.8-0.1 -1.9 0 -1.8-0.1 -1.8-0.1 -1.9-0.1 -1.8-0.1 -1.9-0.1 -1.8-0.1 -1.8 0 -1.9-0.1 -1.8-0.1 -1.8-0.1 -1.9-0.1 -1.8-0.1 -1.8 0 -1.9-0.1 -1.8-0.4 -1.8-2.5 -1.9-2.5 -1.8-2.5 -1.9-2.5 -1.8-2.5 -1.8-2.5 -1.9-2.4 -1.8-2.4 -1.8-2.4 -1.9-2.2 -1.8-2.2 -1.8-2.2 -1.9-2.2 -1.8-2.1 -1.8-2.1 -1.9-2.1 -1.8-2.1 -1.9-2.1 -1.8-2 -1.8-2.1 -1.9-2 -1.8-2 -1.8-2.1 -1.9-2 -1.8-2.1 -1.8-2 -1.9-2.1 -1.8-2 -1.9-2.1 -1.8-2.1 -1.8-2.1 -1.9-2.1 -1.8-2.1 -1.8-2.1 -1.9-2.1 -1.8-2.1 -1.8-2.1 -1.9-2.2 -1.8-2.1 -1.8-2.1 -1.9-2.1 -1.8-2.1 -1.9-2.1 -1.8-2.2 -1.8-2.1 -1.9-2.1 -1.8-2.1zM1130.5 24.1l1.8 2.1 1.9 2.1 1.8 2.1 1.8 2.2 1.9 2.1 1.8 2.1 1.9 2.1 1.8 2.1 1.8 2.1 1.9 2.2 1.8 2.1 1.8 2.1 1.9 2.1 1.8 2.1 1.8 0.3 1.9 0 1.8 0 1.8 0 1.9 0 1.8 0 1.9 0 1.8 0 1.8 0.6 1.9 2.1 1.8 2.1 1.8 2.1 1.9 2.1 1.8 2 1.8 2.1 1.9 2 1.8 2.1 1.9 2 1.8 2 1.8 2.1 1.9 2 1.8 2.1 1.8 2 1.9 2.1 1.8 2.1 1.8 2.1 1.9 2.1 1.8 2.2 1.8 2.1 1.9 2.2 1.8 2.2 1.9 2.3 1.8 2.4 1.8 2.4 1.9 2.4 1.8 2.5 1.8 2.5 1.9 2.6 1.8 2.5 1.8 2.5 1.9 2.4 1.8 2.4 1.8 2.4 1.9 2.2 1.8 2.2 1.9 2 1.8 2 1.8 2 1.9 1.9 1.8 1.9 1.8 1.8 1.9 1.8 1.8 1.8 1.8 1.8 1.9 1.7 1.8 1.8 1.9 1.7 1.8 1.8 1.8 1.8 1.9 1.8 1.8 1.9 1.8 2 1.9 2.1 1.8 1.9 1.8 1.7 1.9 1.3 1.8 0.9 1.8 0.9 1.9 0.7 1.8 0.7 1.9 0.6 1.8 0.5 1.8 0.5 1.9 0.5 1.8 0.5 1.8-0.5 1.9-0.5 1.8-0.5 1.8-0.5 1.9-0.6 1.8-0.7 1.9-0.7 1.8-0.9 1.8-0.9 1.9-1.3 1.8-1.7 1.8-1.9 1.9-2.1 1.8-2 1.8-1.9 1.9-1.8 1.8-1.8 1.8-1.8 1.9-1.7 1.8-1.8 1.9-1.7 1.8-1.8 1.8-1.8 1.9-1.8 1.8-1.8 1.8-1.9 1.9-1.9 1.8-2 1.8-2 1.9-2 1.8-2.2 1.9-2.2 1.8-2.4 1.8-2.4 1.9-2.4 1.8-2.5 1.8-2.5 1.9-2.6 1.8-2.5 1.8-2.5 1.9-2.4 1.8-2.4 1.8-2.4 1.9-2.3 1.8-2.2 1.9-2.2 1.8-2.1 1.8-2.2 1.9-2.1 1.8-2.1 1.8-2.1 1.9-2.1 1.8-2 1.8-2.1 1.9-2 1.8-2.1 1.8-2 1.9-2 1.8-2.1 1.9-2 1.8-2.1 1.8-2 1.9-2.1 1.8-2.1 1.8-2.1 1.9-2.1 1.8-0.6 1.8 0 1.9 0 1.8 0 1.9 0 1.8 0 1.8 0 1.9 0 1.8-0.3 1.8-2.1 1.9-2.1 1.8-2.1 1.8-2.1 1.9-2.2 1.8-2.1 1.8-2.1 1.9-2.1 1.8-2.1 1.9-2.1 1.8-2.2 1.8-2.1 1.9-2.1 1.8-2.1 -1.8 2.1 -1.9 2.1 -1.8 2.1 -1.8 2.2 -1.9 2.1 -1.8 2.1 -1.9 2.1 -1.8 2.1 -1.8 2.1 -1.9 2.2 -1.8 2.1 -1.8 2.1 -1.9 2.1 -1.8 2.1 -1.8 2.1 -1.9 2.1 -1.8 2.1 -1.8 2.1 -1.9 2.1 -1.8 2 -1.9 2.1 -1.8 2 -1.8 2.1 -1.9 2 -1.8 2.1 -1.8 2 -1.9 2 -1.8 2.1 -1.8 2 -1.9 2.1 -1.8 2.1 -1.9 2.1 -1.8 2.1 -1.8 2.1 -1.9 2.2 -1.8 2.2 -1.8 2.2 -1.9 2.2 -1.8 2.4 -1.8 2.4 -1.9 2.4 -1.8 2.5 -1.8 2.5 -1.9 2.5 -1.8 2.5 -1.9 2.5 -1.8 2.5 -1.8 2.4 -1.9 2.4 -1.8 2.3 -1.8 2.2 -1.9 2.1 -1.8 2 -1.8 2 -1.9 1.9 -1.8 1.9 -1.8 1.8 -1.9 1.8 -1.8 1.8 -1.9 1.8 -1.8 1.8 -1.8 1.7 -1.9 1.8 -1.8 1.7 -1.8 1.8 -1.9 1.8 -1.8 1.8 -1.8 2.1 -1.9 2 -1.8 2 -1.9 1.8 -1.8 1.5 -1.8 1 -1.9 0.9 -1.8 0.7 -1.8 0.7 -1.9 0.7 -1.8 0.5 -1.8 0.5 -1.9 0.5 -1.8 0.5 -1.8 0.5 -1.9 0.5 -1.8 0.5 -1.9 0.5 -1.8 0.5 -1.8 0.4 -1.9 0.3 -1.8 0.1 -1.8-0.1 -1.9-0.3 -1.8-0.4 -1.8-0.5 -1.9-0.5 -1.8-0.5 -1.9-0.5 -1.8-0.5 -1.8-0.5 -1.9-0.5 -1.8-0.5 -1.8-0.5 -1.9-0.7 -1.8-0.7 -1.8-0.7 -1.9-0.9 -1.8-1 -1.8-1.5 -1.9-1.8 -1.8-2 -1.9-2 -1.8-2.1 -1.8-1.8 -1.9-1.8 -1.8-1.8 -1.8-1.7 -1.9-1.8 -1.8-1.7 -1.8-1.8 -1.9-1.8 -1.8-1.8 -1.9-1.8 -1.8-1.8 -1.8-1.9 -1.9-1.9 -1.8-2 -1.8-2 -1.9-2.1 -1.8-2.2 -1.8-2.3 -1.9-2.4 -1.8-2.4 -1.8-2.5 -1.9-2.5 -1.8-2.5 -1.9-2.5 -1.8-2.5 -1.8-2.5 -1.9-2.4 -1.8-2.4 -1.8-2.4 -1.9-2.2 -1.8-2.2 -1.8-2.2 -1.9-2.2 -1.8-2.1 -1.8-2.1 -1.9-2.1 -1.8-2.1 -1.9-2.1 -1.8-2 -1.8-2.1 -1.9-2 -1.8-2 -1.8-2.1 -1.9-2 -1.8-2.1 -1.8-2 -1.9-2.1 -1.8-2 -1.9-2.1 -1.8-2.1 -1.8-2.1 -1.9-2.1 -1.8-2.1 -1.8-2.1 -1.9-2.1 -1.8-2.1 -1.8-2.1 -1.9-2.2 -1.8-2.1 -1.8-2.1 -1.9-2.1 -1.8-2.1 -1.9-2.1 -1.8-2.2 -1.8-2.1 -1.9-2.1 -1.8-2.1zM1199.9 103l-7 1.6 -64 3.4 0 26 25-4 20-2.5 24-1 36 0 -10-8.5zM1387.9 103l7 1.6 64 3.4 0 26 -25-4 -20-2.5 -24-1 -36 0 10-8.5z"/>
<path fill="#fff" d="M1133.8 112.4l17.7 5 -17.7 3.8zM1454 112.4l-17.7 5 17.7 3.8zM1135.7 123.7l24.6-3.7 -13.9 9.4zM1452.1 123.7l-24.6-3.7 13.9 9.4z"/>
<path fill="none" stroke="#3c4a9e" stroke-width="1.5" d="M1221.5 50l4.5 2.7 4.6 3.9 4.5 3.8 4.5 3.7 4.5 3.6 4.5 3.6 4.6 3.2 4.5 2.8 4.5 2.3 4.6 1.7 4.5 1.2 4.5 0.8 4.5 0.5 4.6 0.3 4.5 0.2 4.5 0.1 4.5-0.1 4.6-0.2 4.5-0.3 4.5-0.5 4.5-0.8 4.6-1.2 4.5-1.7 4.5-2.3 4.5-2.8 4.6-3.2 4.5-3.6 4.5-3.6 4.5-3.7 4.5-3.8 4.6-3.9 4.5-2.7M1226 50.8l4.6 3.7 4.5 3.7 4.5 3.6 4.5 3.5 4.5 3.4 4.6 3.2 4.5 2.7 4.5 2.3 4.6 1.6 4.5 1.1 4.5 0.8 4.5 0.5 4.6 0.3 4.5 0.1 4.5 0.1 4.5-0.1 4.6-0.1 4.5-0.3 4.5-0.5 4.5-0.8 4.6-1.1 4.5-1.6 4.5-2.3 4.5-2.7 4.6-3.2 4.5-3.4 4.5-3.5 4.5-3.6 4.5-3.7 4.6-3.7M1226 50l4.6 2.4 4.5 3.6 4.5 3.5 4.5 3.4 4.5 3.3 4.6 3.2 4.5 2.6 4.5 2.2 4.6 1.5 4.5 1.1 4.5 0.7 4.5 0.5 4.6 0.2 4.5 0.1 4.5 0.1 4.5-0.1 4.6-0.1 4.5-0.2 4.5-0.5 4.5-0.7 4.6-1.1 4.5-1.5 4.5-2.2 4.5-2.6 4.6-3.2 4.5-3.3 4.5-3.4 4.5-3.5 4.5-3.6 4.6-2.4M1230.6 50.3l4.5 3.5 4.5 3.4 4.5 3.2 4.5 3.3 4.6 3.1 4.5 2.5 4.5 2.1 4.6 1.5 4.5 1 4.5 0.7 4.5 0.4 4.6 0.2 4.5 0.1 4.5 0.1 4.5-0.1 4.6-0.1 4.5-0.2 4.5-0.4 4.5-0.7 4.6-1 4.5-1.5 4.5-2.1 4.5-2.5 4.6-3.1 4.5-3.3 4.5-3.2 4.5-3.4 4.5-3.5M1235.1 51.6l4.5 3.2 4.5 3.2 4.5 3.2 4.6 3 4.5 2.4 4.5 2.1 4.6 1.4 4.5 1 4.5 0.6 4.5 0.4 4.6 0.2 4.5 0.1 4.5 0 4.5 0 4.6-0.1 4.5-0.2 4.5-0.4 4.5-0.6 4.6-1 4.5-1.4 4.5-2.1 4.5-2.4 4.6-3 4.5-3.2 4.5-3.2 4.5-3.2M1235.1 50l4.5 2.5 4.5 3.1 4.5 3.1 4.6 2.9 4.5 2.4 4.5 1.9 4.6 1.3 4.5 1 4.5 0.6 4.5 0.3 4.6 0.2 4.5 0.1 4.5 0 4.5 0 4.6-0.1 4.5-0.2 4.5-0.3 4.5-0.6 4.6-1 4.5-1.3 4.5-1.9 4.5-2.4 4.6-2.9 4.5-3.1 4.5-3.1 4.5-2.5M1239.6 50.2l4.5 3 4.5 3 4.6 2.8 4.5 2.3 4.5 1.9 4.6 1.2 4.5 1 4.5 0.5 4.5 0.3 4.6 0.1 4.5 0.1 4.5 0 4.5 0 4.6-0.1 4.5-0.1 4.5-0.3 4.5-0.5 4.6-1 4.5-1.2 4.5-1.9 4.5-2.3 4.6-2.8 4.5-3 4.5-3M1244.1 50.8l4.5 2.9 4.6 2.7 4.5 2.2 4.5 1.9 4.6 1.1 4.5 0.9 4.5 0.5 4.5 0.2 4.6 0.1 4.5 0.1 4.5 0 4.5 0 4.6-0.1 4.5-0.1 4.5-0.2 4.5-0.5 4.6-0.9 4.5-1.1 4.5-1.9 4.5-2.2 4.6-2.7 4.5-2.9M1248.6 51.2l4.6 2.6 4.5 2.2 4.5 1.7 4.6 1.1 4.5 0.8 4.5 0.4 4.5 0.3 4.6 0.1 4.5 0 4.5 0 4.5 0 4.6 0 4.5-0.1 4.5-0.3 4.5-0.4 4.6-0.8 4.5-1.1 4.5-1.7 4.5-2.2 4.6-2.6M1253.2 51.2l4.5 2.1 4.5 1.7 4.6 1 4.5 0.8 4.5 0.3 4.5 0.2 4.6 0.1 4.5 0 4.5 0 4.5 0 4.6 0 4.5-0.1 4.5-0.2 4.5-0.3 4.6-0.8 4.5-1 4.5-1.7 4.5-2.1M1131 154.4l4.5 0 4.6 0.1 4.5 0.1 4.5 0.2 4.5 0.2 4.6 0.3 4.5 0.5 4.5 0.7 4.5 1 4.5 1 4.6 1.1 4.5 1.1 4.5 1.1 4.6 1 4.5 1.2 4.5 1.1 4.5 1.2 4.5 1.2 4.6 1.1 4.5 1.1 4.5 1.1 4.6 1 4.5 1.1 4.5 1 4.5 1 4.5 1 4.6 1 4.5 1 4.5 1.1 4.6 1 4.5 1 4.5 0.8 4.5 0.8 4.6 0.7 4.5 0.3 4.5 0.2 4.5-0.2 4.6-0.3 4.5-0.7 4.5-0.8 4.5-0.8 4.6-1 4.5-1 4.5-1.1 4.5-1 4.6-1 4.5-1 4.5-1 4.5-1 4.5-1.1 4.6-1 4.5-1.1 4.5-1.1 4.6-1.1 4.5-1.2 4.5-1.2 4.5-1.1 4.5-1.2 4.6-1 4.5-1.1 4.5-1.1 4.6-1.1 4.5-1 4.5-1 4.5-0.7 4.5-0.5 4.6-0.3 4.5-0.2 4.5-0.2 4.6-0.1 4.5-0.1 4.5 0M1131 153.7l4.5 0 4.6 0 4.5 0.1 4.5 0.2 4.5 0.2 4.6 0.2 4.5 0.4 4.5 0.8 4.5 0.8 4.5 1.1 4.6 1 4.5 1.1 4.5 1 4.6 1 4.5 1.1 4.5 1.1 4.5 1.2 4.5 1.1 4.6 1.1 4.5 1.1 4.5 1 4.6 1 4.5 1 4.5 1 4.5 0.9 4.5 1 4.6 1 4.5 1 4.5 1 4.6 1 4.5 0.9 4.5 0.8 4.5 0.8 4.6 0.7 4.5 0.3 4.5 0.1 4.5-0.1 4.6-0.3 4.5-0.7 4.5-0.8 4.5-0.8 4.6-0.9 4.5-1 4.5-1 4.5-1 4.6-1 4.5-1 4.5-0.9 4.5-1 4.5-1 4.6-1 4.5-1 4.5-1.1 4.6-1.1 4.5-1.1 4.5-1.2 4.5-1.1 4.5-1.1 4.6-1 4.5-1 4.5-1.1 4.6-1 4.5-1.1 4.5-0.8 4.5-0.8 4.5-0.4 4.6-0.2 4.5-0.2 4.5-0.2 4.6-0.1 4.5 0 4.5 0M1131 152.8l4.5 0 4.6 0 4.5 0.1 4.5 0.1 4.5 0.1 4.6 0.2 4.5 0.4 4.5 0.7 4.5 0.8 4.5 0.9 4.6 1.1 4.5 1 4.5 0.9 4.6 1 4.5 1 4.5 1.1 4.5 1.1 4.5 1.1 4.6 1 4.5 1.1 4.5 0.9 4.6 1 4.5 0.9 4.5 1 4.5 0.9 4.5 0.9 4.6 1 4.5 0.9 4.5 1 4.6 0.9 4.5 0.9 4.5 0.8 4.5 0.8 4.6 0.6 4.5 0.3 4.5 0.2 4.5-0.2 4.6-0.3 4.5-0.6 4.5-0.8 4.5-0.8 4.6-0.9 4.5-0.9 4.5-1 4.5-0.9 4.6-1 4.5-0.9 4.5-0.9 4.5-1 4.5-0.9 4.6-1 4.5-0.9 4.5-1.1 4.6-1 4.5-1.1 4.5-1.1 4.5-1.1 4.5-1 4.6-1 4.5-0.9 4.5-1 4.6-1.1 4.5-0.9 4.5-0.8 4.5-0.7 4.5-0.4 4.6-0.2 4.5-0.1 4.5-0.1 4.6-0.1 4.5 0 4.5 0M1131 151.9l4.5-0.1 4.6 0 4.5 0 4.5 0.1 4.5 0.1 4.6 0.1 4.5 0.4 4.5 0.6 4.5 0.7 4.5 0.9 4.6 1 4.5 0.9 4.5 0.9 4.6 0.9 4.5 1 4.5 1 4.5 1.1 4.5 1 4.6 1 4.5 1 4.5 0.9 4.6 1 4.5 0.9 4.5 0.8 4.5 0.9 4.5 0.9 4.6 0.9 4.5 0.9 4.5 0.9 4.6 0.9 4.5 0.9 4.5 0.7 4.5 0.8 4.6 0.5 4.5 0.3 4.5 0.2 4.5-0.2 4.6-0.3 4.5-0.5 4.5-0.8 4.5-0.7 4.6-0.9 4.5-0.9 4.5-0.9 4.5-0.9 4.6-0.9 4.5-0.9 4.5-0.9 4.5-0.8 4.5-0.9 4.6-1 4.5-0.9 4.5-1 4.6-1 4.5-1 4.5-1.1 4.5-1 4.5-1 4.6-0.9 4.5-0.9 4.5-0.9 4.6-1 4.5-0.9 4.5-0.7 4.5-0.6 4.5-0.4 4.6-0.1 4.5-0.1 4.5-0.1 4.6 0 4.5 0 4.5 0.1M1131 150.9l4.5-0.1 4.6-0.1 4.5 0 4.5 0 4.5 0.1 4.6 0.1 4.5 0.3 4.5 0.5 4.5 0.7 4.5 0.8 4.6 0.9 4.5 0.9 4.5 0.8 4.6 0.9 4.5 0.9 4.5 1 4.5 1 4.5 1 4.6 0.9 4.5 0.9 4.5 0.9 4.6 0.9 4.5 0.9 4.5 0.8 4.5 0.8 4.5 0.9 4.6 0.8 4.5 0.9 4.5 0.8 4.6 0.9 4.5 0.8 4.5 0.7 4.5 0.7 4.6 0.6 4.5 0.2 4.5 0.2 4.5-0.2 4.6-0.2 4.5-0.6 4.5-0.7 4.5-0.7 4.6-0.8 4.5-0.9 4.5-0.8 4.5-0.9 4.6-0.8 4.5-0.9 4.5-0.8 4.5-0.8 4.5-0.9 4.6-0.9 4.5-0.9 4.5-0.9 4.6-0.9 4.5-1 4.5-1 4.5-1 4.5-0.9 4.6-0.9 4.5-0.8 4.5-0.9 4.6-0.9 4.5-0.8 4.5-0.7 4.5-0.5 4.5-0.3 4.6-0.1 4.5-0.1 4.5 0 4.6 0 4.5 0.1 4.5 0.1M1131 149.8l4.5-0.1 4.6-0.1 4.5 0 4.5-0.1 4.5 0 4.6 0.1 4.5 0.2 4.5 0.5 4.5 0.6 4.5 0.8 4.6 0.8 4.5 0.8 4.5 0.8 4.6 0.8 4.5 0.9 4.5 0.9 4.5 0.9 4.5 1 4.6 0.9 4.5 0.8 4.5 0.8 4.6 0.9 4.5 0.8 4.5 0.8 4.5 0.8 4.5 0.7 4.6 0.8 4.5 0.8 4.5 0.9 4.6 0.8 4.5 0.7 4.5 0.7 4.5 0.6 4.6 0.6 4.5 0.2 4.5 0.1 4.5-0.1 4.6-0.2 4.5-0.6 4.5-0.6 4.5-0.7 4.6-0.7 4.5-0.8 4.5-0.9 4.5-0.8 4.6-0.8 4.5-0.7 4.5-0.8 4.5-0.8 4.5-0.8 4.6-0.9 4.5-0.8 4.5-0.8 4.6-0.9 4.5-1 4.5-0.9 4.5-0.9 4.5-0.9 4.6-0.8 4.5-0.8 4.5-0.8 4.6-0.8 4.5-0.8 4.5-0.6 4.5-0.5 4.5-0.2 4.6-0.1 4.5 0 4.5 0.1 4.6 0 4.5 0.1 4.5 0.1M1131 148.8l4.5-0.2 4.6-0.1 4.5-0.1 4.5-0.1 4.5 0 4.6 0 4.5 0.2 4.5 0.4 4.5 0.5 4.5 0.7 4.6 0.8 4.5 0.7 4.5 0.7 4.6 0.8 4.5 0.8 4.5 0.8 4.5 0.9 4.5 0.9 4.6 0.8 4.5 0.8 4.5 0.8 4.6 0.8 4.5 0.7 4.5 0.8 4.5 0.7 4.5 0.7 4.6 0.8 4.5 0.7 4.5 0.8 4.6 0.8 4.5 0.7 4.5 0.6 4.5 0.6 4.6 0.5 4.5 0.2 4.5 0.1 4.5-0.1 4.6-0.2 4.5-0.5 4.5-0.6 4.5-0.6 4.6-0.7 4.5-0.8 4.5-0.8 4.5-0.7 4.6-0.8 4.5-0.7 4.5-0.7 4.5-0.8 4.5-0.7 4.6-0.8 4.5-0.8 4.5-0.8 4.6-0.8 4.5-0.9 4.5-0.9 4.5-0.8 4.5-0.8 4.6-0.8 4.5-0.7 4.5-0.7 4.6-0.8 4.5-0.7 4.5-0.5 4.5-0.4 4.5-0.2 4.6 0 4.5 0 4.5 0.1 4.6 0.1 4.5 0.1 4.5 0.2M1131 147.7l4.5-0.2 4.6-0.2 4.5-0.2 4.5-0.1 4.5-0.1 4.6 0 4.5 0.1 4.5 0.4 4.5 0.5 4.5 0.6 4.6 0.7 4.5 0.6 4.5 0.7 4.6 0.7 4.5 0.7 4.5 0.8 4.5 0.8 4.5 0.8 4.6 0.8 4.5 0.8 4.5 0.7 4.6 0.7 4.5 0.7 4.5 0.7 4.5 0.7 4.5 0.7 4.6 0.7 4.5 0.7 4.5 0.7 4.6 0.7 4.5 0.6 4.5 0.6 4.5 0.6 4.6 0.4 4.5 0.3 4.5 0.1 4.5-0.1 4.6-0.3 4.5-0.4 4.5-0.6 4.5-0.6 4.6-0.6 4.5-0.7 4.5-0.7 4.5-0.7 4.6-0.7 4.5-0.7 4.5-0.7 4.5-0.7 4.5-0.7 4.6-0.7 4.5-0.7 4.5-0.8 4.6-0.8 4.5-0.8 4.5-0.8 4.5-0.8 4.5-0.7 4.6-0.7 4.5-0.7 4.5-0.6 4.6-0.7 4.5-0.6 4.5-0.5 4.5-0.4 4.5-0.1 4.6 0 4.5 0.1 4.5 0.1 4.6 0.2 4.5 0.2 4.5 0.2M1131 146.6l4.5-0.3 4.6-0.2 4.5-0.2 4.5-0.2 4.5-0.1 4.6-0.1 4.5 0.1 4.5 0.2 4.5 0.5 4.5 0.5 4.6 0.6 4.5 0.6 4.5 0.6 4.6 0.6 4.5 0.7 4.5 0.8 4.5 0.7 4.5 0.7 4.6 0.8 4.5 0.7 4.5 0.6 4.6 0.7 4.5 0.6 4.5 0.7 4.5 0.6 4.5 0.6 4.6 0.7 4.5 0.6 4.5 0.7 4.6 0.6 4.5 0.6 4.5 0.6 4.5 0.5 4.6 0.4 4.5 0.2 4.5 0.1 4.5-0.1 4.6-0.2 4.5-0.4 4.5-0.5 4.5-0.6 4.6-0.6 4.5-0.6 4.5-0.7 4.5-0.6 4.6-0.7 4.5-0.6 4.5-0.6 4.5-0.7 4.5-0.6 4.6-0.7 4.5-0.6 4.5-0.7 4.6-0.8 4.5-0.7 4.5-0.7 4.5-0.8 4.5-0.7 4.6-0.6 4.5-0.6 4.5-0.6 4.6-0.6 4.5-0.5 4.5-0.5 4.5-0.2 4.5-0.1 4.6 0.1 4.5 0.1 4.5 0.2 4.6 0.2 4.5 0.2 4.5 0.3M1131 145.4l4.5-0.2 4.6-0.3 4.5-0.3 4.5-0.2 4.5-0.2 4.6-0.1 4.5 0 4.5 0.2 4.5 0.3 4.5 0.5 4.6 0.5 4.5 0.6 4.5 0.5 4.6 0.6 4.5 0.6 4.5 0.7 4.5 0.6 4.5 0.7 4.6 0.7 4.5 0.6 4.5 0.6 4.6 0.6 4.5 0.6 4.5 0.6 4.5 0.6 4.5 0.6 4.6 0.5 4.5 0.6 4.5 0.6 4.6 0.6 4.5 0.6 4.5 0.5 4.5 0.5 4.6 0.3 4.5 0.2 4.5 0.1 4.5-0.1 4.6-0.2 4.5-0.3 4.5-0.5 4.5-0.5 4.6-0.6 4.5-0.6 4.5-0.6 4.5-0.6 4.6-0.5 4.5-0.6 4.5-0.6 4.5-0.6 4.5-0.6 4.6-0.6 4.5-0.6 4.5-0.6 4.6-0.7 4.5-0.7 4.5-0.6 4.5-0.7 4.5-0.6 4.6-0.6 4.5-0.5 4.5-0.6 4.6-0.5 4.5-0.5 4.5-0.3 4.5-0.2 4.5 0 4.6 0.1 4.5 0.2 4.5 0.2 4.6 0.3 4.5 0.3 4.5 0.2M1131 144.3l4.5-0.3 4.6-0.3 4.5-0.3 4.5-0.3 4.5-0.3 4.6-0.1 4.5-0.1 4.5 0.1 4.5 0.3 4.5 0.4 4.6 0.4 4.5 0.5 4.5 0.4 4.6 0.5 4.5 0.6 4.5 0.6 4.5 0.6 4.5 0.7 4.6 0.6 4.5 0.5 4.5 0.6 4.6 0.5 4.5 0.6 4.5 0.5 4.5 0.5 4.5 0.5 4.6 0.6 4.5 0.5 4.5 0.6 4.6 0.5 4.5 0.5 4.5 0.4 4.5 0.5 4.6 0.3 4.5 0.2 4.5 0.1 4.5-0.1 4.6-0.2 4.5-0.3 4.5-0.5 4.5-0.4 4.6-0.5 4.5-0.5 4.5-0.6 4.5-0.5 4.6-0.6 4.5-0.5 4.5-0.5 4.5-0.5 4.5-0.6 4.6-0.5 4.5-0.6 4.5-0.5 4.6-0.6 4.5-0.7 4.5-0.6 4.5-0.6 4.5-0.6 4.6-0.5 4.5-0.4 4.5-0.5 4.6-0.4 4.5-0.4 4.5-0.3 4.5-0.1 4.5 0.1 4.6 0.1 4.5 0.3 4.5 0.3 4.6 0.3 4.5 0.3 4.5 0.3M1131 143.1l4.5-0.3 4.6-0.4 4.5-0.4 4.5-0.3 4.5-0.3 4.6-0.2 4.5-0.1 4.5 0 4.5 0.2 4.5 0.3 4.6 0.4 4.5 0.4 4.5 0.4 4.6 0.4 4.5 0.5 4.5 0.6 4.5 0.5 4.5 0.6 4.6 0.5 4.5 0.5 4.5 0.5 4.6 0.5 4.5 0.5 4.5 0.4 4.5 0.5 4.5 0.5 4.6 0.4 4.5 0.5 4.5 0.5 4.6 0.5 4.5 0.4 4.5 0.5 4.5 0.3 4.6 0.3 4.5 0.2 4.5 0.1 4.5-0.1 4.6-0.2 4.5-0.3 4.5-0.3 4.5-0.5 4.6-0.4 4.5-0.5 4.5-0.5 4.5-0.5 4.6-0.4 4.5-0.5 4.5-0.5 4.5-0.4 4.5-0.5 4.6-0.5 4.5-0.5 4.5-0.5 4.6-0.5 4.5-0.6 4.5-0.5 4.5-0.6 4.5-0.5 4.6-0.4 4.5-0.4 4.5-0.4 4.6-0.4 4.5-0.3 4.5-0.2 4.5 0 4.5 0.1 4.6 0.2 4.5 0.3 4.5 0.3 4.6 0.4 4.5 0.4 4.5 0.3M1131 141.9l4.5-0.4 4.6-0.4 4.5-0.4 4.5-0.4 4.5-0.3 4.6-0.3 4.5-0.2 4.5 0 4.5 0.1 4.5 0.3 4.6 0.2 4.5 0.4 4.5 0.3 4.6 0.3 4.5 0.5 4.5 0.5 4.5 0.4 4.5 0.5 4.6 0.5 4.5 0.5 4.5 0.4 4.6 0.4 4.5 0.4 4.5 0.5 4.5 0.4 4.5 0.4 4.6 0.4 4.5 0.4 4.5 0.4 4.6 0.5 4.5 0.4 4.5 0.3 4.5 0.4 4.6 0.2 4.5 0.2 4.5 0 4.5 0 4.6-0.2 4.5-0.2 4.5-0.4 4.5-0.3 4.6-0.4 4.5-0.5 4.5-0.4 4.5-0.4 4.6-0.4 4.5-0.4 4.5-0.4 4.5-0.5 4.5-0.4 4.6-0.4 4.5-0.4 4.5-0.5 4.6-0.5 4.5-0.5 4.5-0.4 4.5-0.5 4.5-0.5 4.6-0.3 4.5-0.3 4.5-0.4 4.6-0.2 4.5-0.3 4.5-0.1 4.5 0 4.5 0.2 4.6 0.3 4.5 0.3 4.5 0.4 4.6 0.4 4.5 0.4 4.5 0.4M1131 140.7l4.5-0.4 4.6-0.5 4.5-0.4 4.5-0.5 4.5-0.3 4.6-0.4 4.5-0.2 4.5-0.1 4.5 0 4.5 0.2 4.6 0.2 4.5 0.2 4.5 0.2 4.6 0.3 4.5 0.4 4.5 0.4 4.5 0.5 4.5 0.4 4.6 0.4 4.5 0.4 4.5 0.3 4.6 0.4 4.5 0.4 4.5 0.3 4.5 0.4 4.5 0.3 4.6 0.4 4.5 0.4 4.5 0.3 4.6 0.4 4.5 0.3 4.5 0.3 4.5 0.3 4.6 0.3 4.5 0.1 4.5 0 4.5 0 4.6-0.1 4.5-0.3 4.5-0.3 4.5-0.3 4.6-0.3 4.5-0.4 4.5-0.3 4.5-0.4 4.6-0.4 4.5-0.3 4.5-0.4 4.5-0.3 4.5-0.4 4.6-0.4 4.5-0.3 4.5-0.4 4.6-0.4 4.5-0.4 4.5-0.5 4.5-0.4 4.5-0.4 4.6-0.3 4.5-0.2 4.5-0.2 4.6-0.2 4.5-0.2 4.5 0 4.5 0.1 4.5 0.2 4.6 0.4 4.5 0.3 4.5 0.5 4.6 0.4 4.5 0.5 4.5 0.4M1131 139.5l4.5-0.5 4.6-0.5 4.5-0.5 4.5-0.5 4.5-0.4 4.6-0.4 4.5-0.3 4.5-0.2 4.5-0.1 4.5 0.1 4.6 0.2 4.5 0.1 4.5 0.2 4.6 0.2 4.5 0.3 4.5 0.4 4.5 0.3 4.5 0.4 4.6 0.3 4.5 0.4 4.5 0.3 4.6 0.3 4.5 0.3 4.5 0.3 4.5 0.3 4.5 0.3 4.6 0.3 4.5 0.3 4.5 0.3 4.6 0.3 4.5 0.3 4.5 0.2 4.5 0.3 4.6 0.2 4.5 0.1 4.5 0 4.5 0 4.6-0.1 4.5-0.2 4.5-0.3 4.5-0.2 4.6-0.3 4.5-0.3 4.5-0.3 4.5-0.3 4.6-0.3 4.5-0.3 4.5-0.3 4.5-0.3 4.5-0.3 4.6-0.3 4.5-0.3 4.5-0.4 4.6-0.3 4.5-0.4 4.5-0.3 4.5-0.4 4.5-0.3 4.6-0.2 4.5-0.2 4.5-0.1 4.6-0.2 4.5-0.1 4.5 0.1 4.5 0.2 4.5 0.3 4.6 0.4 4.5 0.4 4.5 0.5 4.6 0.5 4.5 0.5 4.5 0.5M1131 138.2l4.5-0.4 4.6-0.6 4.5-0.6 4.5-0.5 4.5-0.5 4.6-0.4 4.5-0.4 4.5-0.3 4.5-0.1 4.5 0 4.6 0 4.5 0.1 4.5 0.1 4.6 0.2 4.5 0.2 4.5 0.3 4.5 0.3 4.5 0.3 4.6 0.2 4.5 0.3 4.5 0.3 4.6 0.2 4.5 0.3 4.5 0.2 4.5 0.2 4.5 0.3 4.6 0.2 4.5 0.3 4.5 0.2 4.6 0.3 4.5 0.2 4.5 0.2 4.5 0.2 4.6 0.1 4.5 0.1 4.5 0.1 4.5-0.1 4.6-0.1 4.5-0.1 4.5-0.2 4.5-0.2 4.6-0.2 4.5-0.3 4.5-0.2 4.5-0.3 4.6-0.2 4.5-0.3 4.5-0.2 4.5-0.2 4.5-0.3 4.6-0.2 4.5-0.3 4.5-0.3 4.6-0.2 4.5-0.3 4.5-0.3 4.5-0.3 4.5-0.2 4.6-0.2 4.5-0.1 4.5-0.1 4.6 0 4.5 0 4.5 0.1 4.5 0.3 4.5 0.4 4.6 0.4 4.5 0.5 4.5 0.5 4.6 0.6 4.5 0.6 4.5 0.4M1131 137l4.5-0.5 4.6-0.6 4.5-0.6 4.5-0.6 4.5-0.6 4.6-0.5 4.5-0.4 4.5-0.4 4.5-0.2 4.5-0.1 4.6 0 4.5 0 4.5 0 4.6 0.1 4.5 0.2 4.5 0.2 4.5 0.2 4.5 0.2 4.6 0.2 4.5 0.2 4.5 0.2 4.6 0.2 4.5 0.2 4.5 0.2 4.5 0.2 4.5 0.1 4.6 0.2 4.5 0.2 4.5 0.2 4.6 0.2 4.5 0.2 4.5 0.1 4.5 0.2 4.6 0.1 4.5 0 4.5 0.1 4.5-0.1 4.6 0 4.5-0.1 4.5-0.2 4.5-0.1 4.6-0.2 4.5-0.2 4.5-0.2 4.5-0.2 4.6-0.2 4.5-0.1 4.5-0.2 4.5-0.2 4.5-0.2 4.6-0.2 4.5-0.2 4.5-0.2 4.6-0.2 4.5-0.2 4.5-0.2 4.5-0.2 4.5-0.2 4.6-0.1 4.5 0 4.5 0 4.6 0 4.5 0.1 4.5 0.2 4.5 0.4 4.5 0.4 4.6 0.5 4.5 0.6 4.5 0.6 4.6 0.6 4.5 0.6 4.5 0.5M1131 135.7l4.5-0.5 4.6-0.7 4.5-0.6 4.5-0.7 4.5-0.6 4.6-0.5 4.5-0.6 4.5-0.4 4.5-0.3 4.5-0.1 4.6-0.2 4.5 0 4.5-0.1 4.6 0.1 4.5 0.1 4.5 0.1 4.5 0.1 4.5 0.2 4.6 0.1 4.5 0.2 4.5 0.1 4.6 0.1 4.5 0.1 4.5 0.1 4.5 0.2 4.5 0.1 4.6 0.1 4.5 0.1 4.5 0.2 4.6 0.1 4.5 0.1 4.5 0.1 4.5 0.1 4.6 0.1 4.5 0 4.5 0 4.5 0 4.6 0 4.5-0.1 4.5-0.1 4.5-0.1 4.6-0.1 4.5-0.1 4.5-0.2 4.5-0.1 4.6-0.1 4.5-0.1 4.5-0.2 4.5-0.1 4.5-0.1 4.6-0.1 4.5-0.1 4.5-0.2 4.6-0.1 4.5-0.2 4.5-0.1 4.5-0.1 4.5-0.1 4.6-0.1 4.5 0.1 4.5 0 4.6 0.2 4.5 0.1 4.5 0.3 4.5 0.4 4.5 0.6 4.6 0.5 4.5 0.6 4.5 0.7 4.6 0.6 4.5 0.7 4.5 0.5M1131 134.5l4.5-0.6 4.6-0.7 4.5-0.7 4.5-0.8 4.5-0.6 4.6-0.6 4.5-0.6 4.5-0.5 4.5-0.4 4.5-0.2 4.6-0.2 4.5-0.2 4.5-0.1 4.6-0.1 4.5 0.1 4.5 0.1 4.5 0 4.5 0.1 4.6 0.1 4.5 0 4.5 0.1 4.6 0.1 4.5 0 4.5 0.1 4.5 0 4.5 0.1 4.6 0.1 4.5 0 4.5 0.1 4.6 0.1 4.5 0 4.5 0.1 4.5 0 4.6 0.1 4.5 0 4.5 0 4.5 0 4.6 0 4.5-0.1 4.5 0 4.5-0.1 4.6 0 4.5-0.1 4.5-0.1 4.5 0 4.6-0.1 4.5-0.1 4.5 0 4.5-0.1 4.5 0 4.6-0.1 4.5-0.1 4.5 0 4.6-0.1 4.5-0.1 4.5 0 4.5-0.1 4.5-0.1 4.6 0.1 4.5 0.1 4.5 0.2 4.6 0.2 4.5 0.2 4.5 0.4 4.5 0.5 4.5 0.6 4.6 0.6 4.5 0.6 4.5 0.8 4.6 0.7 4.5 0.7 4.5 0.6M1131 133.2l4.5-0.6 4.6-0.8 4.5-0.8 4.5-0.8 4.5-0.7 4.6-0.6 4.5-0.7 4.5-0.6 4.5-0.4 4.5-0.3 4.6-0.3 4.5-0.3 4.5-0.2 4.6-0.1 4.5 0 4.5 0 4.5 0 4.5 0 4.6 0 4.5 0 4.5 0 4.6 0 4.5 0 4.5 0 4.5 0 4.5 0 4.6 0 4.5 0 4.5 0 4.6 0 4.5 0 4.5 0 4.5 0 4.6 0 4.5 0 4.5 0 4.5 0 4.6 0 4.5 0 4.5 0 4.5 0 4.6 0 4.5 0 4.5 0 4.5 0 4.6 0 4.5 0 4.5 0 4.5 0 4.5 0 4.6 0 4.5 0 4.5 0 4.6 0 4.5 0 4.5 0 4.5 0 4.5 0 4.6 0.1 4.5 0.2 4.5 0.3 4.6 0.3 4.5 0.3 4.5 0.4 4.5 0.6 4.5 0.7 4.6 0.6 4.5 0.7 4.5 0.8 4.6 0.8 4.5 0.8 4.5 0.6"/>
<path fill="none" stroke="#3c4a9e" stroke-width="1.9" d="M1153.6 50.7l4.6 5.2 4.5 5.2 4.5 5.1 4.5 5.1 4.5 5 4.6 5 4.5 5.1 4.5 5.1 4.6 5.3 4.5 5.4 4.5 5.7 4.5 6.1 4.5 6.2 4.6 6.1 4.5 5.8 4.5 5.4 4.6 4.9 4.5 4.6 4.5 4.4 4.5 4.4 4.5 4.3 4.6 4.4 4.5 5 4.5 4.3 4.6 2.4 4.5 1.8 4.5 1.3 4.5 1.2 4.6 1.2 4.5 1.2 4.5 0.6 4.5-0.6 4.6-1.2 4.5-1.2 4.5-1.2 4.5-1.3 4.6-1.8 4.5-2.4 4.5-4.3 4.5-5 4.6-4.4 4.5-4.3 4.5-4.4 4.5-4.4 4.5-4.6 4.6-4.9 4.5-5.4 4.5-5.8 4.6-6.1 4.5-6.2 4.5-6.1 4.5-5.7 4.5-5.4 4.6-5.3 4.5-5.1 4.5-5.1 4.6-5 4.5-5 4.5-5.1 4.5-5.1 4.5-5.2 4.6-5.2M1153.6 50.7l4.6 5.2 4.5 5.2 4.5 5.1 4.5 5 4.5 5.1 4.6 5 4.5 5.1 4.5 5.1 4.6 5.3 4.5 5.4 4.5 5.7 4.5 6.1 4.5 6.2 4.6 6.1 4.5 5.8 4.5 5.4 4.6 4.8 4.5 4.7 4.5 4.4 4.5 4.3 4.5 4.3 4.6 4.5 4.5 5 4.5 4.3 4.6 2.4 4.5 1.7 4.5 1.3 4.5 1.2 4.6 1.3 4.5 1.2 4.5 0.5 4.5-0.5 4.6-1.2 4.5-1.3 4.5-1.2 4.5-1.3 4.6-1.7 4.5-2.4 4.5-4.3 4.5-5 4.6-4.5 4.5-4.3 4.5-4.3 4.5-4.4 4.5-4.7 4.6-4.8 4.5-5.4 4.5-5.8 4.6-6.1 4.5-6.2 4.5-6.1 4.5-5.7 4.5-5.4 4.6-5.3 4.5-5.1 4.5-5.1 4.6-5 4.5-5.1 4.5-5 4.5-5.1 4.5-5.2 4.6-5.2M1153.6 50.7l4.6 5.2 4.5 5.1 4.5 5.2 4.5 5 4.5 5 4.6 5 4.5 5.1 4.5 5.2 4.6 5.2 4.5 5.4 4.5 5.7 4.5 6.1 4.5 6.2 4.6 6.1 4.5 5.8 4.5 5.4 4.6 4.9 4.5 4.6 4.5 4.4 4.5 4.3 4.5 4.3 4.6 4.4 4.5 5 4.5 4.3 4.6 2.4 4.5 1.7 4.5 1.4 4.5 1.1 4.6 1.3 4.5 1.2 4.5 0.5 4.5-0.5 4.6-1.2 4.5-1.3 4.5-1.1 4.5-1.4 4.6-1.7 4.5-2.4 4.5-4.3 4.5-5 4.6-4.4 4.5-4.3 4.5-4.3 4.5-4.4 4.5-4.6 4.6-4.9 4.5-5.4 4.5-5.8 4.6-6.1 4.5-6.2 4.5-6.1 4.5-5.7 4.5-5.4 4.6-5.2 4.5-5.2 4.5-5.1 4.6-5 4.5-5 4.5-5 4.5-5.2 4.5-5.1 4.6-5.2M1153.6 50.6l4.6 5.2 4.5 5.2 4.5 5.1 4.5 5.1 4.5 5 4.6 5 4.5 5.1 4.5 5.1 4.6 5.3 4.5 5.4 4.5 5.7 4.5 6 4.5 6.2 4.6 6.1 4.5 5.9 4.5 5.3 4.6 4.8 4.5 4.6 4.5 4.5 4.5 4.3 4.5 4.3 4.6 4.4 4.5 4.9 4.5 4.3 4.6 2.4 4.5 1.7 4.5 1.4 4.5 1.1 4.6 1.2 4.5 1.2 4.5 0.6 4.5-0.6 4.6-1.2 4.5-1.2 4.5-1.1 4.5-1.4 4.6-1.7 4.5-2.4 4.5-4.3 4.5-4.9 4.6-4.4 4.5-4.3 4.5-4.3 4.5-4.5 4.5-4.6 4.6-4.8 4.5-5.3 4.5-5.9 4.6-6.1 4.5-6.2 4.5-6 4.5-5.7 4.5-5.4 4.6-5.3 4.5-5.1 4.5-5.1 4.6-5 4.5-5 4.5-5.1 4.5-5.1 4.5-5.2 4.6-5.2M1153.6 50.6l4.6 5.2 4.5 5.1 4.5 5.1 4.5 5.1 4.5 5 4.6 5 4.5 5.1 4.5 5.1 4.6 5.3 4.5 5.4 4.5 5.7 4.5 6 4.5 6.2 4.6 6.1 4.5 5.8 4.5 5.3 4.6 4.9 4.5 4.6 4.5 4.4 4.5 4.3 4.5 4.2 4.6 4.4 4.5 5 4.5 4.2 4.6 2.4 4.5 1.7 4.5 1.3 4.5 1.2 4.6 1.2 4.5 1.2 4.5 0.5 4.5-0.5 4.6-1.2 4.5-1.2 4.5-1.2 4.5-1.3 4.6-1.7 4.5-2.4 4.5-4.2 4.5-5 4.6-4.4 4.5-4.2 4.5-4.3 4.5-4.4 4.5-4.6 4.6-4.9 4.5-5.3 4.5-5.8 4.6-6.1 4.5-6.2 4.5-6 4.5-5.7 4.5-5.4 4.6-5.3 4.5-5.1 4.5-5.1 4.6-5 4.5-5 4.5-5.1 4.5-5.1 4.5-5.1 4.6-5.2M1153.6 50.5l4.6 5.2 4.5 5.1 4.5 5.1 4.5 5.1 4.5 5 4.6 5 4.5 5 4.5 5.2 4.6 5.2 4.5 5.4 4.5 5.7 4.5 6 4.5 6.2 4.6 6.1 4.5 5.8 4.5 5.3 4.6 4.8 4.5 4.6 4.5 4.3 4.5 4.3 4.5 4.3 4.6 4.3 4.5 4.9 4.5 4.3 4.6 2.3 4.5 1.7 4.5 1.3 4.5 1.1 4.6 1.2 4.5 1.2 4.5 0.5 4.5-0.5 4.6-1.2 4.5-1.2 4.5-1.1 4.5-1.3 4.6-1.7 4.5-2.3 4.5-4.3 4.5-4.9 4.6-4.3 4.5-4.3 4.5-4.3 4.5-4.3 4.5-4.6 4.6-4.8 4.5-5.3 4.5-5.8 4.6-6.1 4.5-6.2 4.5-6 4.5-5.7 4.5-5.4 4.6-5.2 4.5-5.2 4.5-5 4.6-5 4.5-5 4.5-5.1 4.5-5.1 4.5-5.1 4.6-5.2M1153.6 50.4l4.6 5.2 4.5 5.1 4.5 5.1 4.5 5.1 4.5 5 4.6 5 4.5 5 4.5 5.1 4.6 5.3 4.5 5.4 4.5 5.6 4.5 6.1 4.5 6.1 4.6 6.1 4.5 5.8 4.5 5.2 4.6 4.9 4.5 4.5 4.5 4.4 4.5 4.2 4.5 4.2 4.6 4.4 4.5 4.8 4.5 4.2 4.6 2.3 4.5 1.7 4.5 1.3 4.5 1.1 4.6 1.2 4.5 1.1 4.5 0.6 4.5-0.6 4.6-1.1 4.5-1.2 4.5-1.1 4.5-1.3 4.6-1.7 4.5-2.3 4.5-4.2 4.5-4.8 4.6-4.4 4.5-4.2 4.5-4.2 4.5-4.4 4.5-4.5 4.6-4.9 4.5-5.2 4.5-5.8 4.6-6.1 4.5-6.1 4.5-6.1 4.5-5.6 4.5-5.4 4.6-5.3 4.5-5.1 4.5-5 4.6-5 4.5-5 4.5-5.1 4.5-5.1 4.5-5.1 4.6-5.2M1153.6 50.3l4.6 5.2 4.5 5.1 4.5 5.1 4.5 5 4.5 5 4.6 5 4.5 5.1 4.5 5.1 4.6 5.2 4.5 5.4 4.5 5.7 4.5 6 4.5 6.1 4.6 6.1 4.5 5.7 4.5 5.3 4.6 4.8 4.5 4.5 4.5 4.3 4.5 4.3 4.5 4.2 4.6 4.3 4.5 4.8 4.5 4.1 4.6 2.3 4.5 1.6 4.5 1.3 4.5 1.1 4.6 1.2 4.5 1.1 4.5 0.6 4.5-0.6 4.6-1.1 4.5-1.2 4.5-1.1 4.5-1.3 4.6-1.6 4.5-2.3 4.5-4.1 4.5-4.8 4.6-4.3 4.5-4.2 4.5-4.3 4.5-4.3 4.5-4.5 4.6-4.8 4.5-5.3 4.5-5.7 4.6-6.1 4.5-6.1 4.5-6 4.5-5.7 4.5-5.4 4.6-5.2 4.5-5.1 4.5-5.1 4.6-5 4.5-5 4.5-5 4.5-5.1 4.5-5.1 4.6-5.2M1153.6 50.2l4.6 5.2 4.5 5.1 4.5 5.1 4.5 5 4.5 5 4.6 5 4.5 5.1 4.5 5.1 4.6 5.2 4.5 5.4 4.5 5.6 4.5 6 4.5 6.2 4.6 6 4.5 5.7 4.5 5.3 4.6 4.8 4.5 4.5 4.5 4.3 4.5 4.2 4.5 4.2 4.6 4.3 4.5 4.8 4.5 4.1 4.6 2.3 4.5 1.6 4.5 1.2 4.5 1.2 4.6 1.1 4.5 1.1 4.5 0.5 4.5-0.5 4.6-1.1 4.5-1.1 4.5-1.2 4.5-1.2 4.6-1.6 4.5-2.3 4.5-4.1 4.5-4.8 4.6-4.3 4.5-4.2 4.5-4.2 4.5-4.3 4.5-4.5 4.6-4.8 4.5-5.3 4.5-5.7 4.6-6 4.5-6.2 4.5-6 4.5-5.6 4.5-5.4 4.6-5.2 4.5-5.1 4.5-5.1 4.6-5 4.5-5 4.5-5 4.5-5.1 4.5-5.1 4.6-5.2M1153.6 50.1l4.6 5.2 4.5 5.1 4.5 5.1 4.5 5 4.5 5 4.6 5 4.5 5 4.5 5.1 4.6 5.3 4.5 5.3 4.5 5.7 4.5 5.9 4.5 6.1 4.6 6.1 4.5 5.7 4.5 5.2 4.6 4.8 4.5 4.5 4.5 4.3 4.5 4.2 4.5 4.1 4.6 4.3 4.5 4.7 4.5 4.1 4.6 2.3 4.5 1.6 4.5 1.2 4.5 1.1 4.6 1.1 4.5 1.1 4.5 0.6 4.5-0.6 4.6-1.1 4.5-1.1 4.5-1.1 4.5-1.2 4.6-1.6 4.5-2.3 4.5-4.1 4.5-4.7 4.6-4.3 4.5-4.1 4.5-4.2 4.5-4.3 4.5-4.5 4.6-4.8 4.5-5.2 4.5-5.7 4.6-6.1 4.5-6.1 4.5-5.9 4.5-5.7 4.5-5.3 4.6-5.3 4.5-5.1 4.5-5 4.6-5 4.5-5 4.5-5 4.5-5.1 4.5-5.1 4.6-5.2M1153.6 50l4.6 5.1 4.5 5.2 4.5 5 4.5 5 4.5 5 4.6 5 4.5 5 4.5 5.1 4.6 5.2 4.5 5.4 4.5 5.6 4.5 6 4.5 6.1 4.6 6 4.5 5.7 4.5 5.2 4.6 4.7 4.5 4.5 4.5 4.2 4.5 4.2 4.5 4.1 4.6 4.2 4.5 4.7 4.5 4 4.6 2.3 4.5 1.5 4.5 1.3 4.5 1 4.6 1.1 4.5 1.1 4.5 0.5 4.5-0.5 4.6-1.1 4.5-1.1 4.5-1 4.5-1.3 4.6-1.5 4.5-2.3 4.5-4 4.5-4.7 4.6-4.2 4.5-4.1 4.5-4.2 4.5-4.2 4.5-4.5 4.6-4.7 4.5-5.2 4.5-5.7 4.6-6 4.5-6.1 4.5-6 4.5-5.6 4.5-5.4 4.6-5.2 4.5-5.1 4.5-5 4.6-5 4.5-5 4.5-5 4.5-5 4.5-5.2 4.6-5.1M1153.6 50l4.6 4.9 4.5 5.2 4.5 5 4.5 5 4.5 5 4.6 5 4.5 5 4.5 5 4.6 5.2 4.5 5.4 4.5 5.6 4.5 5.9 4.5 6.1 4.6 5.9 4.5 5.7 4.5 5.2 4.6 4.7 4.5 4.4 4.5 4.2 4.5 4.2 4.5 4 4.6 4.2 4.5 4.6 4.5 4 4.6 2.1 4.5 1.6 4.5 1.2 4.5 1 4.6 1.1 4.5 1.1 4.5 0.5 4.5-0.5 4.6-1.1 4.5-1.1 4.5-1 4.5-1.2 4.6-1.6 4.5-2.1 4.5-4 4.5-4.6 4.6-4.2 4.5-4 4.5-4.2 4.5-4.2 4.5-4.4 4.6-4.7 4.5-5.2 4.5-5.7 4.6-5.9 4.5-6.1 4.5-5.9 4.5-5.6 4.5-5.4 4.6-5.2 4.5-5 4.5-5 4.6-5 4.5-5 4.5-5 4.5-5 4.5-5.2 4.6-4.9M1153.6 50l4.6 4.7 4.5 5.1 4.5 5 4.5 5 4.5 5 4.6 4.9 4.5 5 4.5 5.1 4.6 5.2 4.5 5.3 4.5 5.5 4.5 6 4.5 6 4.6 5.9 4.5 5.7 4.5 5.1 4.6 4.6 4.5 4.4 4.5 4.2 4.5 4.1 4.5 4 4.6 4.1 4.5 4.5 4.5 3.9 4.6 2.1 4.5 1.5 4.5 1.2 4.5 1 4.6 1.1 4.5 1 4.5 0.5 4.5-0.5 4.6-1 4.5-1.1 4.5-1 4.5-1.2 4.6-1.5 4.5-2.1 4.5-3.9 4.5-4.5 4.6-4.1 4.5-4 4.5-4.1 4.5-4.2 4.5-4.4 4.6-4.6 4.5-5.1 4.5-5.7 4.6-5.9 4.5-6 4.5-6 4.5-5.5 4.5-5.3 4.6-5.2 4.5-5.1 4.5-5 4.6-4.9 4.5-5 4.5-5 4.5-5 4.5-5.1 4.6-4.7M1153.6 50l4.6 4.5 4.5 5.1 4.5 5 4.5 5 4.5 4.9 4.6 5 4.5 5 4.5 5 4.6 5.2 4.5 5.3 4.5 5.5 4.5 5.9 4.5 6 4.6 5.9 4.5 5.6 4.5 5.1 4.6 4.6 4.5 4.4 4.5 4.1 4.5 4 4.5 4 4.6 4.1 4.5 4.4 4.5 3.8 4.6 2.1 4.5 1.5 4.5 1.2 4.5 1 4.6 1 4.5 1 4.5 0.5 4.5-0.5 4.6-1 4.5-1 4.5-1 4.5-1.2 4.6-1.5 4.5-2.1 4.5-3.8 4.5-4.4 4.6-4.1 4.5-4 4.5-4 4.5-4.1 4.5-4.4 4.6-4.6 4.5-5.1 4.5-5.6 4.6-5.9 4.5-6 4.5-5.9 4.5-5.5 4.5-5.3 4.6-5.2 4.5-5 4.5-5 4.6-5 4.5-4.9 4.5-5 4.5-5 4.5-5.1 4.6-4.5M1153.6 50l4.6 4.3 4.5 5.1 4.5 5.1 4.5 4.9 4.5 5 4.6 4.9 4.5 5 4.5 5 4.6 5.2 4.5 5.2 4.5 5.6 4.5 5.9 4.5 5.9 4.6 5.9 4.5 5.6 4.5 5.1 4.6 4.6 4.5 4.3 4.5 4.1 4.5 4 4.5 3.9 4.6 4 4.5 4.5 4.5 3.7 4.6 2.1 4.5 1.5 4.5 1.1 4.5 1 4.6 1 4.5 1 4.5 0.4 4.5-0.4 4.6-1 4.5-1 4.5-1 4.5-1.1 4.6-1.5 4.5-2.1 4.5-3.7 4.5-4.5 4.6-4 4.5-3.9 4.5-4 4.5-4.1 4.5-4.3 4.6-4.6 4.5-5.1 4.5-5.6 4.6-5.9 4.5-5.9 4.5-5.9 4.5-5.6 4.5-5.2 4.6-5.2 4.5-5 4.5-5 4.6-4.9 4.5-5 4.5-4.9 4.5-5.1 4.5-5.1 4.6-4.3M1153.6 50l4.6 4.1 4.5 5.1 4.5 5 4.5 5 4.5 4.9 4.6 4.9 4.5 5 4.5 5 4.6 5.2 4.5 5.2 4.5 5.5 4.5 5.9 4.5 5.9 4.6 5.9 4.5 5.5 4.5 5.1 4.6 4.6 4.5 4.2 4.5 4.1 4.5 4 4.5 3.9 4.6 3.9 4.5 4.4 4.5 3.7 4.6 2 4.5 1.4 4.5 1.2 4.5 0.9 4.6 1 4.5 1 4.5 0.4 4.5-0.4 4.6-1 4.5-1 4.5-0.9 4.5-1.2 4.6-1.4 4.5-2 4.5-3.7 4.5-4.4 4.6-3.9 4.5-3.9 4.5-4 4.5-4.1 4.5-4.2 4.6-4.6 4.5-5.1 4.5-5.5 4.6-5.9 4.5-5.9 4.5-5.9 4.5-5.5 4.5-5.2 4.6-5.2 4.5-5 4.5-5 4.6-4.9 4.5-4.9 4.5-5 4.5-5 4.5-5.1 4.6-4.1M1153.6 50l4.6 3.7 4.5 5.1 4.5 5 4.5 5 4.5 4.9 4.6 4.9 4.5 4.9 4.5 5 4.6 5.1 4.5 5.2 4.5 5.5 4.5 5.8 4.5 5.9 4.6 5.8 4.5 5.5 4.5 5 4.6 4.5 4.5 4.2 4.5 4 4.5 3.9 4.5 3.8 4.6 3.9 4.5 4.3 4.5 3.6 4.6 1.9 4.5 1.4 4.5 1.1 4.5 0.9 4.6 1 4.5 0.9 4.5 0.4 4.5-0.4 4.6-0.9 4.5-1 4.5-0.9 4.5-1.1 4.6-1.4 4.5-1.9 4.5-3.6 4.5-4.3 4.6-3.9 4.5-3.8 4.5-3.9 4.5-4 4.5-4.2 4.6-4.5 4.5-5 4.5-5.5 4.6-5.8 4.5-5.9 4.5-5.8 4.5-5.5 4.5-5.2 4.6-5.1 4.5-5 4.5-4.9 4.6-4.9 4.5-4.9 4.5-5 4.5-5 4.5-5.1 4.6-3.7M1153.6 50l4.6 3.5 4.5 5.1 4.5 5 4.5 4.9 4.5 4.9 4.6 4.9 4.5 4.9 4.5 5 4.6 5.1 4.5 5.2 4.5 5.4 4.5 5.8 4.5 5.9 4.6 5.8 4.5 5.4 4.5 5 4.6 4.4 4.5 4.2 4.5 4 4.5 3.8 4.5 3.8 4.6 3.8 4.5 4.2 4.5 3.6 4.6 1.9 4.5 1.3 4.5 1.1 4.5 0.9 4.6 1 4.5 0.9 4.5 0.4 4.5-0.4 4.6-0.9 4.5-1 4.5-0.9 4.5-1.1 4.6-1.3 4.5-1.9 4.5-3.6 4.5-4.2 4.6-3.8 4.5-3.8 4.5-3.8 4.5-4 4.5-4.2 4.6-4.4 4.5-5 4.5-5.4 4.6-5.8 4.5-5.9 4.5-5.8 4.5-5.4 4.5-5.2 4.6-5.1 4.5-5 4.5-4.9 4.6-4.9 4.5-4.9 4.5-4.9 4.5-5 4.5-5.1 4.6-3.5M1153.6 50l4.6 3.2 4.5 5 4.5 5 4.5 4.9 4.5 4.9 4.6 4.9 4.5 4.9 4.5 5 4.6 5 4.5 5.2 4.5 5.4 4.5 5.8 4.5 5.8 4.6 5.7 4.5 5.4 4.5 4.9 4.6 4.5 4.5 4.1 4.5 3.9 4.5 3.8 4.5 3.7 4.6 3.8 4.5 4.1 4.5 3.5 4.6 1.8 4.5 1.4 4.5 1 4.5 0.9 4.6 0.9 4.5 0.9 4.5 0.4 4.5-0.4 4.6-0.9 4.5-0.9 4.5-0.9 4.5-1 4.6-1.4 4.5-1.8 4.5-3.5 4.5-4.1 4.6-3.8 4.5-3.7 4.5-3.8 4.5-3.9 4.5-4.1 4.6-4.5 4.5-4.9 4.5-5.4 4.6-5.7 4.5-5.8 4.5-5.8 4.5-5.4 4.5-5.2 4.6-5 4.5-5 4.5-4.9 4.6-4.9 4.5-4.9 4.5-4.9 4.5-5 4.5-5 4.6-3.2M1153.6 50l4.6 2.7 4.5 5 4.5 5 4.5 4.9 4.5 4.8 4.6 4.9 4.5 4.8 4.5 5 4.6 5 4.5 5.1 4.5 5.4 4.5 5.7 4.5 5.8 4.6 5.7 4.5 5.3 4.5 4.8 4.6 4.4 4.5 4 4.5 3.9 4.5 3.7 4.5 3.6 4.6 3.7 4.5 3.9 4.5 3.4 4.6 1.8 4.5 1.3 4.5 1 4.5 0.8 4.6 0.9 4.5 0.9 4.5 0.3 4.5-0.3 4.6-0.9 4.5-0.9 4.5-0.8 4.5-1 4.6-1.3 4.5-1.8 4.5-3.4 4.5-3.9 4.6-3.7 4.5-3.6 4.5-3.7 4.5-3.9 4.5-4 4.6-4.4 4.5-4.8 4.5-5.3 4.6-5.7 4.5-5.8 4.5-5.7 4.5-5.4 4.5-5.1 4.6-5 4.5-5 4.5-4.8 4.6-4.9 4.5-4.8 4.5-4.9 4.5-5 4.5-5 4.6-2.7M1153.6 50l4.6 2.5 4.5 5 4.5 5 4.5 4.8 4.5 4.9 4.6 4.8 4.5 4.9 4.5 4.9 4.6 5 4.5 5.1 4.5 5.4 4.5 5.6 4.5 5.8 4.6 5.6 4.5 5.3 4.5 4.8 4.6 4.3 4.5 4.1 4.5 3.8 4.5 3.7 4.5 3.5 4.6 3.6 4.5 4 4.5 3.3 4.6 1.8 4.5 1.2 4.5 1 4.5 0.8 4.6 0.9 4.5 0.8 4.5 0.4 4.5-0.4 4.6-0.8 4.5-0.9 4.5-0.8 4.5-1 4.6-1.2 4.5-1.8 4.5-3.3 4.5-4 4.6-3.6 4.5-3.5 4.5-3.7 4.5-3.8 4.5-4.1 4.6-4.3 4.5-4.8 4.5-5.3 4.6-5.6 4.5-5.8 4.5-5.6 4.5-5.4 4.5-5.1 4.6-5 4.5-4.9 4.5-4.9 4.6-4.8 4.5-4.9 4.5-4.8 4.5-5 4.5-5 4.6-2.5M1153.6 50l4.6 2 4.5 5 4.5 5 4.5 4.8 4.5 4.8 4.6 4.9 4.5 4.8 4.5 4.9 4.6 5 4.5 5 4.5 5.4 4.5 5.6 4.5 5.7 4.6 5.6 4.5 5.2 4.5 4.7 4.6 4.3 4.5 4 4.5 3.7 4.5 3.6 4.5 3.5 4.6 3.6 4.5 3.8 4.5 3.2 4.6 1.8 4.5 1.2 4.5 0.9 4.5 0.8 4.6 0.8 4.5 0.9 4.5 0.3 4.5-0.3 4.6-0.9 4.5-0.8 4.5-0.8 4.5-0.9 4.6-1.2 4.5-1.8 4.5-3.2 4.5-3.8 4.6-3.6 4.5-3.5 4.5-3.6 4.5-3.7 4.5-4 4.6-4.3 4.5-4.7 4.5-5.2 4.6-5.6 4.5-5.7 4.5-5.6 4.5-5.4 4.5-5 4.6-5 4.5-4.9 4.5-4.8 4.6-4.9 4.5-4.8 4.5-4.8 4.5-5 4.5-5 4.6-2M1158.2 51.4l4.5 5 4.5 4.9 4.5 4.8 4.5 4.8 4.6 4.8 4.5 4.8 4.5 4.8 4.6 5 4.5 5 4.5 5.3 4.5 5.5 4.5 5.7 4.6 5.5 4.5 5.1 4.5 4.7 4.6 4.2 4.5 3.8 4.5 3.7 4.5 3.5 4.5 3.4 4.6 3.4 4.5 3.8 4.5 3.1 4.6 1.6 4.5 1.2 4.5 0.9 4.5 0.8 4.6 0.8 4.5 0.7 4.5 0.4 4.5-0.4 4.6-0.7 4.5-0.8 4.5-0.8 4.5-0.9 4.6-1.2 4.5-1.6 4.5-3.1 4.5-3.8 4.6-3.4 4.5-3.4 4.5-3.5 4.5-3.7 4.5-3.8 4.6-4.2 4.5-4.7 4.5-5.1 4.6-5.5 4.5-5.7 4.5-5.5 4.5-5.3 4.5-5 4.6-5 4.5-4.8 4.5-4.8 4.6-4.8 4.5-4.8 4.5-4.8 4.5-4.9 4.5-5M1158.2 51.1l4.5 4.9 4.5 4.9 4.5 4.8 4.5 4.8 4.6 4.8 4.5 4.7 4.5 4.9 4.6 4.9 4.5 5 4.5 5.2 4.5 5.5 4.5 5.6 4.6 5.5 4.5 5.1 4.5 4.6 4.6 4.1 4.5 3.9 4.5 3.6 4.5 3.4 4.5 3.4 4.6 3.4 4.5 3.6 4.5 3.1 4.6 1.6 4.5 1.1 4.5 0.9 4.5 0.8 4.6 0.8 4.5 0.7 4.5 0.3 4.5-0.3 4.6-0.7 4.5-0.8 4.5-0.8 4.5-0.9 4.6-1.1 4.5-1.6 4.5-3.1 4.5-3.6 4.6-3.4 4.5-3.4 4.5-3.4 4.5-3.6 4.5-3.9 4.6-4.1 4.5-4.6 4.5-5.1 4.6-5.5 4.5-5.6 4.5-5.5 4.5-5.2 4.5-5 4.6-4.9 4.5-4.9 4.5-4.7 4.6-4.8 4.5-4.8 4.5-4.8 4.5-4.9 4.5-4.9M1158.2 50.6l4.5 4.9 4.5 4.9 4.5 4.8 4.5 4.7 4.6 4.7 4.5 4.8 4.5 4.8 4.6 4.8 4.5 5 4.5 5.2 4.5 5.5 4.5 5.5 4.6 5.4 4.5 5 4.5 4.6 4.6 4.1 4.5 3.7 4.5 3.6 4.5 3.4 4.5 3.3 4.6 3.2 4.5 3.6 4.5 3 4.6 1.5 4.5 1.1 4.5 0.9 4.5 0.7 4.6 0.8 4.5 0.7 4.5 0.3 4.5-0.3 4.6-0.7 4.5-0.8 4.5-0.7 4.5-0.9 4.6-1.1 4.5-1.5 4.5-3 4.5-3.6 4.6-3.2 4.5-3.3 4.5-3.4 4.5-3.6 4.5-3.7 4.6-4.1 4.5-4.6 4.5-5 4.6-5.4 4.5-5.5 4.5-5.5 4.5-5.2 4.5-5 4.6-4.8 4.5-4.8 4.5-4.8 4.6-4.7 4.5-4.7 4.5-4.8 4.5-4.9 4.5-4.9M1158.2 50l4.5 4.7 4.5 4.9 4.5 4.7 4.5 4.7 4.6 4.7 4.5 4.7 4.5 4.8 4.6 4.8 4.5 4.9 4.5 5.2 4.5 5.4 4.5 5.4 4.6 5.3 4.5 5 4.5 4.4 4.6 4 4.5 3.7 4.5 3.5 4.5 3.3 4.5 3.2 4.6 3.2 4.5 3.4 4.5 2.8 4.6 1.6 4.5 1 4.5 0.8 4.5 0.7 4.6 0.8 4.5 0.6 4.5 0.4 4.5-0.4 4.6-0.6 4.5-0.8 4.5-0.7 4.5-0.8 4.6-1 4.5-1.6 4.5-2.8 4.5-3.4 4.6-3.2 4.5-3.2 4.5-3.3 4.5-3.5 4.5-3.7 4.6-4 4.5-4.4 4.5-5 4.6-5.3 4.5-5.4 4.5-5.4 4.5-5.2 4.5-4.9 4.6-4.8 4.5-4.8 4.5-4.7 4.6-4.7 4.5-4.7 4.5-4.7 4.5-4.9 4.5-4.7M1158.2 50l4.5 4.4 4.5 4.8 4.5 4.7 4.5 4.7 4.6 4.7 4.5 4.7 4.5 4.7 4.6 4.8 4.5 4.9 4.5 5.1 4.5 5.4 4.5 5.4 4.6 5.2 4.5 4.9 4.5 4.4 4.6 4 4.5 3.6 4.5 3.5 4.5 3.2 4.5 3.2 4.6 3.1 4.5 3.4 4.5 2.8 4.6 1.5 4.5 1 4.5 0.8 4.5 0.7 4.6 0.7 4.5 0.7 4.5 0.3 4.5-0.3 4.6-0.7 4.5-0.7 4.5-0.7 4.5-0.8 4.6-1 4.5-1.5 4.5-2.8 4.5-3.4 4.6-3.1 4.5-3.2 4.5-3.2 4.5-3.5 4.5-3.6 4.6-4 4.5-4.4 4.5-4.9 4.6-5.2 4.5-5.4 4.5-5.4 4.5-5.1 4.5-4.9 4.6-4.8 4.5-4.7 4.5-4.7 4.6-4.7 4.5-4.7 4.5-4.7 4.5-4.8 4.5-4.4M1158.2 50l4.5 3.7 4.5 4.8 4.5 4.8 4.5 4.6 4.6 4.7 4.5 4.6 4.5 4.7 4.6 4.8 4.5 4.8 4.5 5.1 4.5 5.3 4.5 5.3 4.6 5.2 4.5 4.9 4.5 4.3 4.6 3.9 4.5 3.6 4.5 3.3 4.5 3.2 4.5 3.1 4.6 3 4.5 3.3 4.5 2.7 4.6 1.5 4.5 1 4.5 0.8 4.5 0.6 4.6 0.7 4.5 0.7 4.5 0.3 4.5-0.3 4.6-0.7 4.5-0.7 4.5-0.6 4.5-0.8 4.6-1 4.5-1.5 4.5-2.7 4.5-3.3 4.6-3 4.5-3.1 4.5-3.2 4.5-3.3 4.5-3.6 4.6-3.9 4.5-4.3 4.5-4.9 4.6-5.2 4.5-5.3 4.5-5.3 4.5-5.1 4.5-4.8 4.6-4.8 4.5-4.7 4.5-4.6 4.6-4.7 4.5-4.6 4.5-4.8 4.5-4.8 4.5-3.7M1158.2 50l4.5 3 4.5 4.7 4.5 4.7 4.5 4.6 4.6 4.6 4.5 4.7 4.5 4.6 4.6 4.7 4.5 4.8 4.5 5 4.5 5.3 4.5 5.2 4.6 5.1 4.5 4.8 4.5 4.3 4.6 3.8 4.5 3.5 4.5 3.2 4.5 3.1 4.5 3 4.6 3 4.5 3.2 4.5 2.6 4.6 1.4 4.5 1 4.5 0.7 4.5 0.6 4.6 0.7 4.5 0.6 4.5 0.3 4.5-0.3 4.6-0.6 4.5-0.7 4.5-0.6 4.5-0.7 4.6-1 4.5-1.4 4.5-2.6 4.5-3.2 4.6-3 4.5-3 4.5-3.1 4.5-3.2 4.5-3.5 4.6-3.8 4.5-4.3 4.5-4.8 4.6-5.1 4.5-5.2 4.5-5.3 4.5-5 4.5-4.8 4.6-4.7 4.5-4.6 4.5-4.7 4.6-4.6 4.5-4.6 4.5-4.7 4.5-4.7 4.5-3M1158.2 50l4.5 2.2 4.5 4.7 4.5 4.7 4.5 4.6 4.6 4.5 4.5 4.6 4.5 4.6 4.6 4.7 4.5 4.7 4.5 5 4.5 5.1 4.5 5.2 4.6 5.1 4.5 4.7 4.5 4.1 4.6 3.8 4.5 3.4 4.5 3.2 4.5 3 4.5 2.9 4.6 2.9 4.5 3.1 4.5 2.5 4.6 1.4 4.5 0.9 4.5 0.7 4.5 0.6 4.6 0.7 4.5 0.6 4.5 0.3 4.5-0.3 4.6-0.6 4.5-0.7 4.5-0.6 4.5-0.7 4.6-0.9 4.5-1.4 4.5-2.5 4.5-3.1 4.6-2.9 4.5-2.9 4.5-3 4.5-3.2 4.5-3.4 4.6-3.8 4.5-4.1 4.5-4.7 4.6-5.1 4.5-5.2 4.5-5.1 4.5-5 4.5-4.7 4.6-4.7 4.5-4.6 4.5-4.6 4.6-4.5 4.5-4.6 4.5-4.7 4.5-4.7 4.5-2.2M1162.7 51.5l4.5 4.7 4.5 4.6 4.5 4.6 4.6 4.5 4.5 4.6 4.5 4.5 4.6 4.7 4.5 4.7 4.5 4.9 4.5 5.1 4.5 5.1 4.6 5 4.5 4.6 4.5 4.1 4.6 3.7 4.5 3.3 4.5 3.2 4.5 2.9 4.5 2.9 4.6 2.8 4.5 3 4.5 2.5 4.6 1.3 4.5 0.9 4.5 0.7 4.5 0.6 4.6 0.6 4.5 0.6 4.5 0.2 4.5-0.2 4.6-0.6 4.5-0.6 4.5-0.6 4.5-0.7 4.6-0.9 4.5-1.3 4.5-2.5 4.5-3 4.6-2.8 4.5-2.9 4.5-2.9 4.5-3.2 4.5-3.3 4.6-3.7 4.5-4.1 4.5-4.6 4.6-5 4.5-5.1 4.5-5.1 4.5-4.9 4.5-4.7 4.6-4.7 4.5-4.5 4.5-4.6 4.6-4.5 4.5-4.6 4.5-4.6 4.5-4.7M1162.7 51l4.5 4.7 4.5 4.6 4.5 4.5 4.6 4.5 4.5 4.5 4.5 4.6 4.6 4.6 4.5 4.6 4.5 4.9 4.5 5 4.5 5.1 4.6 5 4.5 4.5 4.5 4.1 4.6 3.6 4.5 3.3 4.5 3.1 4.5 2.9 4.5 2.8 4.6 2.8 4.5 2.9 4.5 2.4 4.6 1.3 4.5 0.9 4.5 0.7 4.5 0.6 4.6 0.6 4.5 0.5 4.5 0.3 4.5-0.3 4.6-0.5 4.5-0.6 4.5-0.6 4.5-0.7 4.6-0.9 4.5-1.3 4.5-2.4 4.5-2.9 4.6-2.8 4.5-2.8 4.5-2.9 4.5-3.1 4.5-3.3 4.6-3.6 4.5-4.1 4.5-4.5 4.6-5 4.5-5.1 4.5-5 4.5-4.9 4.5-4.6 4.6-4.6 4.5-4.6 4.5-4.5 4.6-4.5 4.5-4.5 4.5-4.6 4.5-4.7M1162.7 50.2l4.5 4.7 4.5 4.5 4.5 4.6 4.6 4.4 4.5 4.5 4.5 4.5 4.6 4.6 4.5 4.6 4.5 4.8 4.5 5 4.5 5 4.6 4.9 4.5 4.5 4.5 4 4.6 3.5 4.5 3.3 4.5 3 4.5 2.8 4.5 2.8 4.6 2.7 4.5 2.8 4.5 2.4 4.6 1.2 4.5 0.9 4.5 0.6 4.5 0.6 4.6 0.6 4.5 0.5 4.5 0.3 4.5-0.3 4.6-0.5 4.5-0.6 4.5-0.6 4.5-0.6 4.6-0.9 4.5-1.2 4.5-2.4 4.5-2.8 4.6-2.7 4.5-2.8 4.5-2.8 4.5-3 4.5-3.3 4.6-3.5 4.5-4 4.5-4.5 4.6-4.9 4.5-5 4.5-5 4.5-4.8 4.5-4.6 4.6-4.6 4.5-4.5 4.5-4.5 4.6-4.4 4.5-4.6 4.5-4.5 4.5-4.7M1162.7 50l4.5 4.2 4.5 4.5 4.5 4.5 4.6 4.4 4.5 4.5 4.5 4.4 4.6 4.5 4.5 4.6 4.5 4.8 4.5 4.9 4.5 5 4.6 4.8 4.5 4.4 4.5 3.9 4.6 3.5 4.5 3.2 4.5 3 4.5 2.8 4.5 2.7 4.6 2.6 4.5 2.8 4.5 2.3 4.6 1.2 4.5 0.8 4.5 0.7 4.5 0.5 4.6 0.6 4.5 0.5 4.5 0.3 4.5-0.3 4.6-0.5 4.5-0.6 4.5-0.5 4.5-0.7 4.6-0.8 4.5-1.2 4.5-2.3 4.5-2.8 4.6-2.6 4.5-2.7 4.5-2.8 4.5-3 4.5-3.2 4.6-3.5 4.5-3.9 4.5-4.4 4.6-4.8 4.5-5 4.5-4.9 4.5-4.8 4.5-4.6 4.6-4.5 4.5-4.4 4.5-4.5 4.6-4.4 4.5-4.5 4.5-4.5 4.5-4.2M1162.7 50l4.5 3.3 4.5 4.5 4.5 4.5 4.6 4.4 4.5 4.4 4.5 4.4 4.6 4.5 4.5 4.5 4.5 4.7 4.5 4.9 4.5 4.9 4.6 4.7 4.5 4.4 4.5 3.9 4.6 3.4 4.5 3.1 4.5 2.9 4.5 2.8 4.5 2.6 4.6 2.6 4.5 2.7 4.5 2.2 4.6 1.2 4.5 0.8 4.5 0.6 4.5 0.5 4.6 0.6 4.5 0.5 4.5 0.2 4.5-0.2 4.6-0.5 4.5-0.6 4.5-0.5 4.5-0.6 4.6-0.8 4.5-1.2 4.5-2.2 4.5-2.7 4.6-2.6 4.5-2.6 4.5-2.8 4.5-2.9 4.5-3.1 4.6-3.4 4.5-3.9 4.5-4.4 4.6-4.7 4.5-4.9 4.5-4.9 4.5-4.7 4.5-4.5 4.6-4.5 4.5-4.4 4.5-4.4 4.6-4.4 4.5-4.5 4.5-4.5 4.5-3.3M1162.7 50l4.5 2.6 4.5 4.4 4.5 4.5 4.6 4.3 4.5 4.4 4.5 4.4 4.6 4.4 4.5 4.5 4.5 4.7 4.5 4.8 4.5 4.8 4.6 4.7 4.5 4.3 4.5 3.8 4.6 3.4 4.5 3.1 4.5 2.8 4.5 2.7 4.5 2.6 4.6 2.5 4.5 2.6 4.5 2.2 4.6 1.1 4.5 0.8 4.5 0.6 4.5 0.5 4.6 0.6 4.5 0.5 4.5 0.2 4.5-0.2 4.6-0.5 4.5-0.6 4.5-0.5 4.5-0.6 4.6-0.8 4.5-1.1 4.5-2.2 4.5-2.6 4.6-2.5 4.5-2.6 4.5-2.7 4.5-2.8 4.5-3.1 4.6-3.4 4.5-3.8 4.5-4.3 4.6-4.7 4.5-4.8 4.5-4.8 4.5-4.7 4.5-4.5 4.6-4.4 4.5-4.4 4.5-4.4 4.6-4.3 4.5-4.5 4.5-4.4 4.5-2.6M1167.2 51.4l4.5 4.4 4.5 4.4 4.6 4.3 4.5 4.3 4.5 4.4 4.6 4.3 4.5 4.5 4.5 4.5 4.5 4.8 4.5 4.7 4.6 4.6 4.5 4.2 4.5 3.7 4.6 3.3 4.5 3 4.5 2.8 4.5 2.6 4.5 2.5 4.6 2.4 4.5 2.6 4.5 2.1 4.6 1.1 4.5 0.7 4.5 0.6 4.5 0.5 4.6 0.5 4.5 0.5 4.5 0.2 4.5-0.2 4.6-0.5 4.5-0.5 4.5-0.5 4.5-0.6 4.6-0.7 4.5-1.1 4.5-2.1 4.5-2.6 4.6-2.4 4.5-2.5 4.5-2.6 4.5-2.8 4.5-3 4.6-3.3 4.5-3.7 4.5-4.2 4.6-4.6 4.5-4.7 4.5-4.8 4.5-4.5 4.5-4.5 4.6-4.3 4.5-4.4 4.5-4.3 4.6-4.3 4.5-4.4 4.5-4.4M1167.2 50.2l4.5 4.4 4.5 4.3 4.6 4.3 4.5 4.3 4.5 4.3 4.6 4.3 4.5 4.3 4.5 4.5 4.5 4.7 4.5 4.7 4.6 4.4 4.5 4.2 4.5 3.6 4.6 3.2 4.5 2.9 4.5 2.7 4.5 2.6 4.5 2.4 4.6 2.3 4.5 2.5 4.5 2 4.6 1.1 4.5 0.7 4.5 0.6 4.5 0.5 4.6 0.4 4.5 0.5 4.5 0.2 4.5-0.2 4.6-0.5 4.5-0.4 4.5-0.5 4.5-0.6 4.6-0.7 4.5-1.1 4.5-2 4.5-2.5 4.6-2.3 4.5-2.4 4.5-2.6 4.5-2.7 4.5-2.9 4.6-3.2 4.5-3.6 4.5-4.2 4.6-4.4 4.5-4.7 4.5-4.7 4.5-4.5 4.5-4.3 4.6-4.3 4.5-4.3 4.5-4.3 4.6-4.3 4.5-4.3 4.5-4.4M1167.2 50l4.5 3.8 4.5 4.3 4.6 4.2 4.5 4.2 4.5 4.3 4.6 4.2 4.5 4.4 4.5 4.4 4.5 4.6 4.5 4.7 4.6 4.4 4.5 4 4.5 3.6 4.6 3.2 4.5 2.8 4.5 2.7 4.5 2.5 4.5 2.3 4.6 2.3 4.5 2.5 4.5 1.9 4.6 1.1 4.5 0.7 4.5 0.5 4.5 0.5 4.6 0.5 4.5 0.4 4.5 0.2 4.5-0.2 4.6-0.4 4.5-0.5 4.5-0.5 4.5-0.5 4.6-0.7 4.5-1.1 4.5-1.9 4.5-2.5 4.6-2.3 4.5-2.3 4.5-2.5 4.5-2.7 4.5-2.8 4.6-3.2 4.5-3.6 4.5-4 4.6-4.4 4.5-4.7 4.5-4.6 4.5-4.4 4.5-4.4 4.6-4.2 4.5-4.3 4.5-4.2 4.6-4.2 4.5-4.3 4.5-3.8M1167.2 50l4.5 2.7 4.5 4.2 4.6 4.2 4.5 4.2 4.5 4.2 4.6 4.2 4.5 4.3 4.5 4.4 4.5 4.5 4.5 4.6 4.6 4.3 4.5 4 4.5 3.5 4.6 3.1 4.5 2.8 4.5 2.6 4.5 2.4 4.5 2.3 4.6 2.3 4.5 2.3 4.5 1.9 4.6 1 4.5 0.7 4.5 0.6 4.5 0.4 4.6 0.5 4.5 0.4 4.5 0.2 4.5-0.2 4.6-0.4 4.5-0.5 4.5-0.4 4.5-0.6 4.6-0.7 4.5-1 4.5-1.9 4.5-2.3 4.6-2.3 4.5-2.3 4.5-2.4 4.5-2.6 4.5-2.8 4.6-3.1 4.5-3.5 4.5-4 4.6-4.3 4.5-4.6 4.5-4.5 4.5-4.4 4.5-4.3 4.6-4.2 4.5-4.2 4.5-4.2 4.6-4.2 4.5-4.2 4.5-2.7M1171.7 51.8l4.5 4.2 4.6 4.2 4.5 4.1 4.5 4.2 4.6 4.2 4.5 4.2 4.5 4.4 4.5 4.5 4.5 4.4 4.6 4.3 4.5 4 4.5 3.4 4.6 3.1 4.5 2.7 4.5 2.6 4.5 2.3 4.5 2.3 4.6 2.2 4.5 2.3 4.5 1.9 4.6 1 4.5 0.6 4.5 0.6 4.5 0.4 4.6 0.4 4.5 0.5 4.5 0.2 4.5-0.2 4.6-0.5 4.5-0.4 4.5-0.4 4.5-0.6 4.6-0.6 4.5-1 4.5-1.9 4.5-2.3 4.6-2.2 4.5-2.3 4.5-2.3 4.5-2.6 4.5-2.7 4.6-3.1 4.5-3.4 4.5-4 4.6-4.3 4.5-4.4 4.5-4.5 4.5-4.4 4.5-4.2 4.6-4.2 4.5-4.2 4.5-4.1 4.6-4.2 4.5-4.2M1171.7 50.8l4.5 4.1 4.6 4.2 4.5 4.1 4.5 4.1 4.6 4.1 4.5 4.2 4.5 4.3 4.5 4.4 4.5 4.5 4.6 4.2 4.5 3.8 4.5 3.4 4.6 3 4.5 2.7 4.5 2.5 4.5 2.3 4.5 2.3 4.6 2.1 4.5 2.3 4.5 1.8 4.6 0.9 4.5 0.7 4.5 0.5 4.5 0.4 4.6 0.5 4.5 0.4 4.5 0.2 4.5-0.2 4.6-0.4 4.5-0.5 4.5-0.4 4.5-0.5 4.6-0.7 4.5-0.9 4.5-1.8 4.5-2.3 4.6-2.1 4.5-2.3 4.5-2.3 4.5-2.5 4.5-2.7 4.6-3 4.5-3.4 4.5-3.8 4.6-4.2 4.5-4.5 4.5-4.4 4.5-4.3 4.5-4.2 4.6-4.1 4.5-4.1 4.5-4.1 4.6-4.2 4.5-4.1M1171.7 50l4.5 3.9 4.6 4.1 4.5 4.1 4.5 4.1 4.6 4.1 4.5 4.1 4.5 4.2 4.5 4.4 4.5 4.4 4.6 4.1 4.5 3.8 4.5 3.4 4.6 2.9 4.5 2.7 4.5 2.4 4.5 2.3 4.5 2.2 4.6 2.1 4.5 2.2 4.5 1.7 4.6 1 4.5 0.6 4.5 0.5 4.5 0.4 4.6 0.5 4.5 0.4 4.5 0.1 4.5-0.1 4.6-0.4 4.5-0.5 4.5-0.4 4.5-0.5 4.6-0.6 4.5-1 4.5-1.7 4.5-2.2 4.6-2.1 4.5-2.2 4.5-2.3 4.5-2.4 4.5-2.7 4.6-2.9 4.5-3.4 4.5-3.8 4.6-4.1 4.5-4.4 4.5-4.4 4.5-4.2 4.5-4.1 4.6-4.1 4.5-4.1 4.5-4.1 4.6-4.1 4.5-3.9M1171.7 50l4.5 2.6 4.6 4 4.5 4 4.5 4.1 4.6 4 4.5 4.1 4.5 4.1 4.5 4.4 4.5 4.2 4.6 4.1 4.5 3.7 4.5 3.3 4.6 2.9 4.5 2.6 4.5 2.4 4.5 2.2 4.5 2.1 4.6 2 4.5 2.2 4.5 1.7 4.6 0.9 4.5 0.6 4.5 0.5 4.5 0.4 4.6 0.4 4.5 0.4 4.5 0.2 4.5-0.2 4.6-0.4 4.5-0.4 4.5-0.4 4.5-0.5 4.6-0.6 4.5-0.9 4.5-1.7 4.5-2.2 4.6-2 4.5-2.1 4.5-2.2 4.5-2.4 4.5-2.6 4.6-2.9 4.5-3.3 4.5-3.7 4.6-4.1 4.5-4.2 4.5-4.4 4.5-4.1 4.5-4.1 4.6-4 4.5-4.1 4.5-4 4.6-4 4.5-2.6M1176.2 51.5l4.6 4 4.5 4 4.5 4 4.6 4 4.5 4 4.5 4.1 4.5 4.3 4.5 4.2 4.6 4 4.5 3.7 4.5 3.2 4.6 2.8 4.5 2.6 4.5 2.3 4.5 2.2 4.5 2 4.6 2 4.5 2.1 4.5 1.7 4.6 0.9 4.5 0.6 4.5 0.4 4.5 0.4 4.6 0.4 4.5 0.4 4.5 0.2 4.5-0.2 4.6-0.4 4.5-0.4 4.5-0.4 4.5-0.4 4.6-0.6 4.5-0.9 4.5-1.7 4.5-2.1 4.6-2 4.5-2 4.5-2.2 4.5-2.3 4.5-2.6 4.6-2.8 4.5-3.2 4.5-3.7 4.6-4 4.5-4.2 4.5-4.3 4.5-4.1 4.5-4 4.6-4 4.5-4 4.5-4 4.6-4M1176.2 50.3l4.6 4 4.5 3.9 4.5 3.9 4.6 4 4.5 3.9 4.5 4.1 4.5 4.2 4.5 4.2 4.6 3.9 4.5 3.6 4.5 3.2 4.6 2.8 4.5 2.5 4.5 2.2 4.5 2.2 4.5 2 4.6 1.9 4.5 2.1 4.5 1.6 4.6 0.9 4.5 0.6 4.5 0.4 4.5 0.4 4.6 0.4 4.5 0.4 4.5 0.1 4.5-0.1 4.6-0.4 4.5-0.4 4.5-0.4 4.5-0.4 4.6-0.6 4.5-0.9 4.5-1.6 4.5-2.1 4.6-1.9 4.5-2 4.5-2.2 4.5-2.2 4.5-2.5 4.6-2.8 4.5-3.2 4.5-3.6 4.6-3.9 4.5-4.2 4.5-4.2 4.5-4.1 4.5-3.9 4.6-4 4.5-3.9 4.5-3.9 4.6-4M1176.2 50l4.6 2.7 4.5 3.9 4.5 3.8 4.6 3.9 4.5 3.9 4.5 4 4.5 4.2 4.5 4 4.6 3.9 4.5 3.5 4.5 3.1 4.6 2.7 4.5 2.5 4.5 2.2 4.5 2.1 4.5 1.9 4.6 1.9 4.5 2 4.5 1.6 4.6 0.8 4.5 0.6 4.5 0.4 4.5 0.4 4.6 0.4 4.5 0.3 4.5 0.2 4.5-0.2 4.6-0.3 4.5-0.4 4.5-0.4 4.5-0.4 4.6-0.6 4.5-0.8 4.5-1.6 4.5-2 4.6-1.9 4.5-1.9 4.5-2.1 4.5-2.2 4.5-2.5 4.6-2.7 4.5-3.1 4.5-3.5 4.6-3.9 4.5-4 4.5-4.2 4.5-4 4.5-3.9 4.6-3.9 4.5-3.8 4.5-3.9 4.6-2.7M1180.8 51.4l4.5 3.9 4.5 3.8 4.6 3.8 4.5 3.9 4.5 4 4.5 4 4.5 4 4.6 3.9 4.5 3.4 4.5 3.1 4.6 2.6 4.5 2.4 4.5 2.2 4.5 2 4.5 1.9 4.6 1.9 4.5 1.9 4.5 1.6 4.6 0.8 4.5 0.5 4.5 0.4 4.5 0.4 4.6 0.4 4.5 0.3 4.5 0.2 4.5-0.2 4.6-0.3 4.5-0.4 4.5-0.4 4.5-0.4 4.6-0.5 4.5-0.8 4.5-1.6 4.5-1.9 4.6-1.9 4.5-1.9 4.5-2 4.5-2.2 4.5-2.4 4.6-2.6 4.5-3.1 4.5-3.4 4.6-3.9 4.5-4 4.5-4 4.5-4 4.5-3.9 4.6-3.8 4.5-3.8 4.5-3.9M1180.8 50l4.5 3.3 4.5 3.8 4.6 3.8 4.5 3.7 4.5 3.9 4.5 4 4.5 3.9 4.6 3.8 4.5 3.3 4.5 3 4.6 2.6 4.5 2.3 4.5 2.1 4.5 2 4.5 1.8 4.6 1.8 4.5 1.9 4.5 1.5 4.6 0.8 4.5 0.5 4.5 0.4 4.5 0.4 4.6 0.3 4.5 0.4 4.5 0.1 4.5-0.1 4.6-0.4 4.5-0.3 4.5-0.4 4.5-0.4 4.6-0.5 4.5-0.8 4.5-1.5 4.5-1.9 4.6-1.8 4.5-1.8 4.5-2 4.5-2.1 4.5-2.3 4.6-2.6 4.5-3 4.5-3.3 4.6-3.8 4.5-3.9 4.5-4 4.5-3.9 4.5-3.7 4.6-3.8 4.5-3.8 4.5-3.3M1180.8 50l4.5 2.3 4.5 3.7 4.6 3.8 4.5 3.7 4.5 3.8 4.5 4 4.5 3.9 4.6 3.6 4.5 3.4 4.5 2.9 4.6 2.5 4.5 2.3 4.5 2.1 4.5 1.9 4.5 1.9 4.6 1.7 4.5 1.9 4.5 1.4 4.6 0.8 4.5 0.5 4.5 0.4 4.5 0.4 4.6 0.3 4.5 0.4 4.5 0.1 4.5-0.1 4.6-0.4 4.5-0.3 4.5-0.4 4.5-0.4 4.6-0.5 4.5-0.8 4.5-1.4 4.5-1.9 4.6-1.7 4.5-1.9 4.5-1.9 4.5-2.1 4.5-2.3 4.6-2.5 4.5-2.9 4.5-3.4 4.6-3.6 4.5-3.9 4.5-4 4.5-3.8 4.5-3.7 4.6-3.8 4.5-3.7 4.5-2.3M1185.3 50.5l4.5 3.6 4.6 3.7 4.5 3.7 4.5 3.8 4.5 3.9 4.5 3.8 4.6 3.6 4.5 3.2 4.5 2.9 4.6 2.5 4.5 2.2 4.5 2 4.5 1.9 4.5 1.8 4.6 1.7 4.5 1.8 4.5 1.4 4.6 0.7 4.5 0.5 4.5 0.4 4.5 0.4 4.6 0.3 4.5 0.3 4.5 0.2 4.5-0.2 4.6-0.3 4.5-0.3 4.5-0.4 4.5-0.4 4.6-0.5 4.5-0.7 4.5-1.4 4.5-1.8 4.6-1.7 4.5-1.8 4.5-1.9 4.5-2 4.5-2.2 4.6-2.5 4.5-2.9 4.5-3.2 4.6-3.6 4.5-3.8 4.5-3.9 4.5-3.8 4.5-3.7 4.6-3.7 4.5-3.6M1185.3 50l4.5 2.7 4.6 3.6 4.5 3.7 4.5 3.7 4.5 3.8 4.5 3.8 4.6 3.5 4.5 3.2 4.5 2.8 4.6 2.4 4.5 2.2 4.5 2 4.5 1.9 4.5 1.7 4.6 1.7 4.5 1.7 4.5 1.4 4.6 0.7 4.5 0.5 4.5 0.4 4.5 0.3 4.6 0.4 4.5 0.3 4.5 0.1 4.5-0.1 4.6-0.3 4.5-0.4 4.5-0.3 4.5-0.4 4.6-0.5 4.5-0.7 4.5-1.4 4.5-1.7 4.6-1.7 4.5-1.7 4.5-1.9 4.5-2 4.5-2.2 4.6-2.4 4.5-2.8 4.5-3.2 4.6-3.5 4.5-3.8 4.5-3.8 4.5-3.7 4.5-3.7 4.6-3.6 4.5-2.7M1189.8 51.2l4.6 3.6 4.5 3.6 4.5 3.7 4.5 3.7 4.5 3.7 4.6 3.5 4.5 3.2 4.5 2.7 4.6 2.4 4.5 2.1 4.5 2 4.5 1.8 4.5 1.7 4.6 1.6 4.5 1.7 4.5 1.4 4.6 0.7 4.5 0.5 4.5 0.4 4.5 0.3 4.6 0.3 4.5 0.3 4.5 0.1 4.5-0.1 4.6-0.3 4.5-0.3 4.5-0.3 4.5-0.4 4.6-0.5 4.5-0.7 4.5-1.4 4.5-1.7 4.6-1.6 4.5-1.7 4.5-1.8 4.5-2 4.5-2.1 4.6-2.4 4.5-2.7 4.5-3.2 4.6-3.5 4.5-3.7 4.5-3.7 4.5-3.7 4.5-3.6 4.6-3.6M1189.8 50l4.6 2.9 4.5 3.6 4.5 3.6 4.5 3.7 4.5 3.6 4.6 3.4 4.5 3.1 4.5 2.7 4.6 2.3 4.5 2.1 4.5 1.9 4.5 1.8 4.5 1.7 4.6 1.5 4.5 1.7 4.5 1.3 4.6 0.7 4.5 0.5 4.5 0.4 4.5 0.3 4.6 0.3 4.5 0.3 4.5 0.1 4.5-0.1 4.6-0.3 4.5-0.3 4.5-0.3 4.5-0.4 4.6-0.5 4.5-0.7 4.5-1.3 4.5-1.7 4.6-1.5 4.5-1.7 4.5-1.8 4.5-1.9 4.5-2.1 4.6-2.3 4.5-2.7 4.5-3.1 4.6-3.4 4.5-3.6 4.5-3.7 4.5-3.6 4.5-3.6 4.6-2.9M1194.4 51.2l4.5 3.5 4.5 3.6 4.5 3.6 4.5 3.6 4.6 3.3 4.5 3.1 4.5 2.6 4.6 2.3 4.5 2 4.5 1.9 4.5 1.7 4.5 1.6 4.6 1.6 4.5 1.6 4.5 1.3 4.6 0.7 4.5 0.4 4.5 0.4 4.5 0.3 4.6 0.3 4.5 0.3 4.5 0.1 4.5-0.1 4.6-0.3 4.5-0.3 4.5-0.3 4.5-0.4 4.6-0.4 4.5-0.7 4.5-1.3 4.5-1.6 4.6-1.6 4.5-1.6 4.5-1.7 4.5-1.9 4.5-2 4.6-2.3 4.5-2.6 4.5-3.1 4.6-3.3 4.5-3.6 4.5-3.6 4.5-3.6 4.5-3.5"/>
<path fill="none" stroke="#3c4a9e" stroke-width="3" d="M1131 151.2l4.5 0 4.6 0.1 4.5 0.1 4.5 0.2 4.5 0.2 4.6 0.3 4.5 0.5 4.5 0.7 4.5 1 4.5 1 4.6 1.1 4.5 1.1 4.5 1.1 4.6 1 4.5 1.2 4.5 1.1 4.5 1.2 4.5 1.2 4.6 1.1 4.5 1.1 4.5 1.1 4.6 1 4.5 1.1 4.5 1 4.5 1 4.5 1 4.6 1 4.5 1 4.5 1.1 4.6 1 4.5 1 4.5 0.8 4.5 0.8 4.6 0.7 4.5 0.3 4.5 0.2 4.5-0.2 4.6-0.3 4.5-0.7 4.5-0.8 4.5-0.8 4.6-1 4.5-1 4.5-1.1 4.5-1 4.6-1 4.5-1 4.5-1 4.5-1 4.5-1.1 4.6-1 4.5-1.1 4.5-1.1 4.6-1.1 4.5-1.2 4.5-1.2 4.5-1.1 4.5-1.2 4.6-1 4.5-1.1 4.5-1.1 4.6-1.1 4.5-1 4.5-1 4.5-0.7 4.5-0.5 4.6-0.3 4.5-0.2 4.5-0.2 4.6-0.1 4.5-0.1 4.5 0"/>
<path fill="none" stroke="#3c4a9e" stroke-width="1.2" d="M1158.2 156.2l4.5 0.5 4.5 0.7 4.5 1 4.5 1 4.6 1.1 4.5 1.1 4.5 1.1 4.6 1 4.5 1.2 4.5 1.1 4.5 1.2 4.5 1.2 4.6 1.1 4.5 1.1 4.5 1.1 4.6 1 4.5 1.1 4.5 1 4.5 1 4.5 1 4.6 1 4.5 1 4.5 1.1 4.6 1 4.5 1 4.5 0.8 4.5 0.8 4.6 0.7 4.5 0.3 4.5 0.2 4.5-0.2 4.6-0.3 4.5-0.7 4.5-0.8 4.5-0.8 4.6-1 4.5-1 4.5-1.1 4.5-1 4.6-1 4.5-1 4.5-1 4.5-1 4.5-1.1 4.6-1 4.5-1.1 4.5-1.1 4.6-1.1 4.5-1.2 4.5-1.2 4.5-1.1 4.5-1.2 4.6-1 4.5-1.1 4.5-1.1 4.6-1.1 4.5-1 4.5-1 4.5-0.7 4.5-0.5"/>
<path fill="none" stroke="#3c4a9e" stroke-width="2.3" d="M1193.9 104.5l-42.5-47M1393.9 104.5l42.5-47"/>
<path fill="none" stroke="#3c4a9e" stroke-width="1.6" d="M1168.2 63.2l-5.4-0.3 -5.4 0.2 -5.3 0.4 -5.4 0.5 -5.4 0.9 -5.4 0.9 -5.4 0.7M1419.6 63.2l5.4-0.3 5.4 0.2 5.3 0.4 5.4 0.5 5.4 0.9 5.4 0.9 5.4 0.7M1171.2 66.5l-5.8-0.2 -5.8 0.2 -5.9 0.4 -5.8 0.4 -5.8 0.9 -5.8 0.9 -5.8 0.7M1416.6 66.5l5.8-0.2 5.8 0.2 5.9 0.4 5.8 0.4 5.8 0.9 5.8 0.9 5.8 0.7M1174.1 69.9l-6.2-0.3 -6.2 0.3 -6.3 0.3 -6.2 0.5 -6.2 0.8 -6.3 0.9 -6.2 0.7M1413.7 69.9l6.2-0.3 6.2 0.3 6.3 0.3 6.2 0.5 6.2 0.8 6.3 0.9 6.2 0.7M1177.1 73.2l-6.7-0.2 -6.6 0.2 -6.7 0.4 -6.6 0.4 -6.7 0.8 -6.6 0.9 -6.7 0.7M1410.7 73.2l6.7-0.2 6.6 0.2 6.7 0.4 6.6 0.4 6.7 0.8 6.6 0.9 6.7 0.7M1180.1 76.5l-7.1-0.1 -7.1 0.2 -7.1 0.3 -7.1 0.4 -7 0.8 -7.1 0.9 -7.1 0.6M1407.7 76.5l7.1-0.1 7.1 0.2 7.1 0.3 7.1 0.4 7 0.8 7.1 0.9 7.1 0.6M1183 79.9l-7.5-0.2 -7.5 0.2 -7.5 0.3 -7.5 0.5 -7.5 0.7 -7.5 0.9 -7.5 0.6M1404.8 79.9l7.5-0.2 7.5 0.2 7.5 0.3 7.5 0.5 7.5 0.7 7.5 0.9 7.5 0.6M1186 83.2l-8-0.1 -7.9 0.2 -7.9 0.3 -7.9 0.4 -8 0.7 -7.9 0.9 -7.9 0.6M1401.8 83.2l8-0.1 7.9 0.2 7.9 0.3 7.9 0.4 8 0.7 7.9 0.9 7.9 0.6M1188.9 86.6l-8.3-0.1 -8.4 0.1 -8.3 0.3 -8.4 0.4 -8.3 0.7 -8.4 0.9 -8.3 0.6M1398.9 86.6l8.3-0.1 8.4 0.1 8.3 0.3 8.4 0.4 8.3 0.7 8.4 0.9 8.3 0.6M1191.9 89.9l-8.8-0.1 -8.8 0.2 -8.7 0.3 -8.8 0.3 -8.8 0.8 -8.7 0.8 -8.8 0.6M1395.9 89.9l8.8-0.1 8.8 0.2 8.7 0.3 8.8 0.3 8.8 0.8 8.7 0.8 8.8 0.6M1194.8 93.3l-9.1-0.1 -9.2 0.2 -9.2 0.2 -9.2 0.4 -9.2 0.7 -9.2 0.8 -9.2 0.6M1393 93.3l9.1-0.1 9.2 0.2 9.2 0.2 9.2 0.4 9.2 0.7 9.2 0.8 9.2 0.6M1197.8 96.7l-9.6-0.1 -9.6 0.1 -9.6 0.3 -9.7 0.3 -9.6 0.7 -9.6 0.8 -9.6 0.6M1390 96.7l9.6-0.1 9.6 0.1 9.6 0.3 9.7 0.3 9.6 0.7 9.6 0.8 9.6 0.6M1200.8 100l-10.1-0.1 -10 0.2 -10 0.2 -10.1 0.3 -10 0.7 -10.1 0.8 -10 0.6M1387 100l10.1-0.1 10 0.2 10 0.2 10.1 0.3 10 0.7 10.1 0.8 10 0.6M1203.7 103.4l-10.4-0.1 -10.5 0.1 -10.5 0.2 -10.4 0.4 -10.5 0.6 -10.4 0.8 -10.5 0.6M1384.1 103.4l10.4-0.1 10.5 0.1 10.5 0.2 10.4 0.4 10.5 0.6 10.4 0.8 10.5 0.6M1206.7 106.7l-10.9 0 -10.9 0.1 -10.9 0.2 -10.9 0.3 -10.8 0.6 -10.9 0.8 -10.9 0.6M1381.1 106.7l10.9 0 10.9 0.1 10.9 0.2 10.9 0.3 10.8 0.6 10.9 0.8 10.9 0.6"/>
</g>
<use href="#qC" transform="translate(0 492.00) scale(1 -1)"/>
<path d="M1131 155.1l2.8 0.3 2.7 0.6 2.8 0.6 2.7 0.8 2.8 0.8 2.8 0.8 2.7 0.9 2.8 0.9 2.7 1 2.8 1 2.8 1.1 2.7 1 2.8 1 2.8 1 2.7 1.1 2.8 1.1 2.7 1.1 2.8 1.3 2.8 1.3 2.7 1.5 2.8 1.4 2.7 1.5 2.8 1.4 2.8 1.3 2.7 1.3 2.8 1.3 2.7 1.3 2.8 1.3 2.8 1.3 2.7 1.3 2.8 1.3 2.8 1.4 2.7 1.4 2.8 1.4 2.7 1.4 2.8 1.4 2.8 1.3 2.7 1.5 2.8 1.5 2.7 1.6 2.8 1.9 2.8 2 2.7 2 2.8 1.9 2.7 1.9 2.8 1.9 2.8 1.9 2.7 2 2.8 2.2 2.8 2.4 2.7 2.5 2.8 2.4 2.7 2.4 2.8 2.5 2.8 2.7 2.7 2.8 2.8 2.8 2.7 2.6 2.8 1.2 2.8-1.2 2.7-2.6 2.8-2.8 2.7-2.8 2.8-2.7 2.8-2.5 2.7-2.4 2.8-2.4 2.7-2.5 2.8-2.4 2.8-2.2 2.7-2 2.8-1.9 2.8-1.9 2.7-1.9 2.8-1.9 2.7-2 2.8-2 2.8-1.9 2.7-1.6 2.8-1.5 2.7-1.5 2.8-1.3 2.8-1.4 2.7-1.4 2.8-1.4 2.7-1.4 2.8-1.4 2.8-1.3 2.7-1.3 2.8-1.3 2.8-1.3 2.7-1.3 2.8-1.3 2.7-1.3 2.8-1.3 2.8-1.4 2.7-1.5 2.8-1.4 2.7-1.5 2.8-1.3 2.8-1.3 2.7-1.1 2.8-1.1 2.7-1.1 2.8-1 2.8-1 2.7-1 2.8-1.1 2.8-1 2.7-1 2.8-0.9 2.7-0.9 2.8-0.8 2.8-0.8 2.7-0.8 2.8-0.6 2.7-0.6 2.8-0.3M1131 336.7l2.8-0.3 2.7-0.6 2.8-0.6 2.7-0.8 2.8-0.8 2.8-0.8 2.7-0.9 2.8-0.9 2.7-1 2.8-1 2.8-1.1 2.7-1 2.8-1 2.8-1 2.7-1.1 2.8-1.1 2.7-1.1 2.8-1.3 2.8-1.3 2.7-1.5 2.8-1.4 2.7-1.5 2.8-1.4 2.8-1.3 2.7-1.3 2.8-1.3 2.7-1.3 2.8-1.3 2.8-1.3 2.7-1.3 2.8-1.3 2.8-1.4 2.7-1.4 2.8-1.4 2.7-1.4 2.8-1.4 2.8-1.3 2.7-1.5 2.8-1.5 2.7-1.6 2.8-1.9 2.8-2 2.7-2 2.8-1.9 2.7-1.9 2.8-1.9 2.8-1.9 2.7-2 2.8-2.2 2.8-2.4 2.7-2.5 2.8-2.4 2.7-2.4 2.8-2.5 2.8-2.7 2.7-2.8 2.8-2.8 2.7-2.6 2.8-1.2 2.8 1.2 2.7 2.6 2.8 2.8 2.7 2.8 2.8 2.7 2.8 2.5 2.7 2.4 2.8 2.4 2.7 2.5 2.8 2.4 2.8 2.2 2.7 2 2.8 1.9 2.8 1.9 2.7 1.9 2.8 1.9 2.7 2 2.8 2 2.8 1.9 2.7 1.6 2.8 1.5 2.7 1.5 2.8 1.3 2.8 1.4 2.7 1.4 2.8 1.4 2.7 1.4 2.8 1.4 2.8 1.3 2.7 1.3 2.8 1.3 2.8 1.3 2.7 1.3 2.8 1.3 2.7 1.3 2.8 1.3 2.8 1.4 2.7 1.5 2.8 1.4 2.7 1.5 2.8 1.3 2.8 1.3 2.7 1.1 2.8 1.1 2.7 1.1 2.8 1 2.8 1 2.7 1 2.8 1.1 2.8 1 2.7 1 2.8 0.9 2.7 0.9 2.8 0.8 2.8 0.8 2.7 0.8 2.8 0.6 2.7 0.6 2.8 0.3" stroke="#e30613" stroke-width="2.3" fill="none" stroke-linejoin="round"/>
</g>
<text transform="translate(148.70 41.20) scale(0.935 1)" font-family="'Liberation Sans',Arial,Helvetica,sans-serif" font-size="44.00" font-weight="bold" font-style="normal">A</text>
<text x="173.10" y="77.00" font-family="'Liberation Sans',Arial,Helvetica,sans-serif" font-size="27.70" font-weight="normal" font-style="normal">1.02</text>
<text x="172.30" y="166.00" font-family="'Liberation Sans',Arial,Helvetica,sans-serif" font-size="27.70" font-weight="normal" font-style="normal">1.01</text>
<text x="206.60" y="256.80" font-family="'Liberation Sans',Arial,Helvetica,sans-serif" font-size="27.70" font-weight="normal" font-style="normal">1</text>
<text x="173.90" y="341.30" font-family="'Liberation Sans',Arial,Helvetica,sans-serif" font-size="27.70" font-weight="normal" font-style="normal">0.99</text>
<text x="174.10" y="431.10" font-family="'Liberation Sans',Arial,Helvetica,sans-serif" font-size="27.70" font-weight="normal" font-style="normal">0.98</text>
<text x="391.50" y="463.10" font-family="'Liberation Sans',Arial,Helvetica,sans-serif" font-size="25.50" font-weight="normal" font-style="normal">0</text>
<text><tspan x="213.50" y="463.80" font-family="'Liberation Sans',Arial,Helvetica,sans-serif" font-size="26.70" font-weight="bold" font-style="normal">−</tspan><tspan x="231.50" y="463.80" font-family="'Liberation Serif','Times New Roman',serif" font-size="32.00" font-weight="normal" font-style="italic">π</tspan><tspan x="252.00" y="463.80" font-family="'Liberation Sans',Arial,Helvetica,sans-serif" font-size="33.50" font-weight="normal" font-style="italic">/</tspan><tspan x="262.00" y="463.80" font-family="'Liberation Sans',Arial,Helvetica,sans-serif" font-size="32.50" font-weight="normal" font-style="italic">a</tspan></text>
<text><tspan x="531.30" y="463.80" font-family="'Liberation Serif','Times New Roman',serif" font-size="32.00" font-weight="normal" font-style="italic">π</tspan><tspan x="551.80" y="463.80" font-family="'Liberation Sans',Arial,Helvetica,sans-serif" font-size="33.50" font-weight="normal" font-style="italic">/</tspan><tspan x="561.80" y="463.80" font-family="'Liberation Sans',Arial,Helvetica,sans-serif" font-size="32.50" font-weight="normal" font-style="italic">a</tspan></text>
<text transform="translate(391.90 503.40) scale(1.080 1)" font-family="'Liberation Serif','Times New Roman',serif" font-size="36.00" font-weight="normal" font-style="italic">k</text>
<text transform="translate(156.5 287) rotate(-90)"><tspan x="-1.00" y="0.00" font-family="'Liberation Serif','Times New Roman',serif" font-size="30.50" font-weight="normal" font-style="italic">ω</tspan><tspan x="22.80" y="6.50" font-family="'Liberation Serif','Times New Roman',serif" font-size="46.00" font-weight="normal" font-style="normal">/</tspan><tspan x="36.20" y="0.00" font-family="'Liberation Serif','Times New Roman',serif" font-size="30.50" font-weight="normal" font-style="italic">ω</tspan><tspan x="62.00" y="4.50" font-family="'Liberation Serif','Times New Roman',serif" font-size="21.50" font-weight="normal" font-style="italic">D</tspan></text>
<text transform="translate(597.10 39.60) scale(0.935 1)" font-family="'Liberation Sans',Arial,Helvetica,sans-serif" font-size="44.00" font-weight="bold" font-style="normal">B</text>
<text x="623.10" y="77.00" font-family="'Liberation Sans',Arial,Helvetica,sans-serif" font-size="27.70" font-weight="normal" font-style="normal">1.02</text>
<text x="622.30" y="166.00" font-family="'Liberation Sans',Arial,Helvetica,sans-serif" font-size="27.70" font-weight="normal" font-style="normal">1.01</text>
<text x="656.60" y="256.80" font-family="'Liberation Sans',Arial,Helvetica,sans-serif" font-size="27.70" font-weight="normal" font-style="normal">1</text>
<text x="623.90" y="341.30" font-family="'Liberation Sans',Arial,Helvetica,sans-serif" font-size="27.70" font-weight="normal" font-style="normal">0.99</text>
<text x="624.10" y="431.10" font-family="'Liberation Sans',Arial,Helvetica,sans-serif" font-size="27.70" font-weight="normal" font-style="normal">0.98</text>
<text x="841.30" y="463.10" font-family="'Liberation Sans',Arial,Helvetica,sans-serif" font-size="25.50" font-weight="normal" font-style="normal">0</text>
<text><tspan x="663.30" y="463.80" font-family="'Liberation Sans',Arial,Helvetica,sans-serif" font-size="26.70" font-weight="bold" font-style="normal">−</tspan><tspan x="681.30" y="463.80" font-family="'Liberation Serif','Times New Roman',serif" font-size="32.00" font-weight="normal" font-style="italic">π</tspan><tspan x="701.80" y="463.80" font-family="'Liberation Sans',Arial,Helvetica,sans-serif" font-size="33.50" font-weight="normal" font-style="italic">/</tspan><tspan x="711.80" y="463.80" font-family="'Liberation Sans',Arial,Helvetica,sans-serif" font-size="32.50" font-weight="normal" font-style="italic">a</tspan></text>
<text><tspan x="981.10" y="463.80" font-family="'Liberation Serif','Times New Roman',serif" font-size="32.00" font-weight="normal" font-style="italic">π</tspan><tspan x="1001.60" y="463.80" font-family="'Liberation Sans',Arial,Helvetica,sans-serif" font-size="33.50" font-weight="normal" font-style="italic">/</tspan><tspan x="1011.60" y="463.80" font-family="'Liberation Sans',Arial,Helvetica,sans-serif" font-size="32.50" font-weight="normal" font-style="italic">a</tspan></text>
<text transform="translate(841.70 503.40) scale(1.080 1)" font-family="'Liberation Serif','Times New Roman',serif" font-size="36.00" font-weight="normal" font-style="italic">k</text>
<text transform="translate(606.5 287) rotate(-90)"><tspan x="-1.00" y="0.00" font-family="'Liberation Serif','Times New Roman',serif" font-size="30.50" font-weight="normal" font-style="italic">ω</tspan><tspan x="22.80" y="6.50" font-family="'Liberation Serif','Times New Roman',serif" font-size="46.00" font-weight="normal" font-style="normal">/</tspan><tspan x="36.20" y="0.00" font-family="'Liberation Serif','Times New Roman',serif" font-size="30.50" font-weight="normal" font-style="italic">ω</tspan><tspan x="62.00" y="4.50" font-family="'Liberation Serif','Times New Roman',serif" font-size="21.50" font-weight="normal" font-style="italic">D</tspan></text>
<text transform="translate(1047.30 35.50) scale(0.935 1)" font-family="'Liberation Sans',Arial,Helvetica,sans-serif" font-size="44.00" font-weight="bold" font-style="normal">C</text>
<text x="1066.40" y="77.00" font-family="'Liberation Sans',Arial,Helvetica,sans-serif" font-size="27.70" font-weight="normal" font-style="normal">1.02</text>
<text x="1065.60" y="166.00" font-family="'Liberation Sans',Arial,Helvetica,sans-serif" font-size="27.70" font-weight="normal" font-style="normal">1.01</text>
<text x="1099.90" y="256.80" font-family="'Liberation Sans',Arial,Helvetica,sans-serif" font-size="27.70" font-weight="normal" font-style="normal">1</text>
<text x="1067.20" y="341.30" font-family="'Liberation Sans',Arial,Helvetica,sans-serif" font-size="27.70" font-weight="normal" font-style="normal">0.99</text>
<text x="1067.40" y="431.10" font-family="'Liberation Sans',Arial,Helvetica,sans-serif" font-size="27.70" font-weight="normal" font-style="normal">0.98</text>
<text x="1285.70" y="463.10" font-family="'Liberation Sans',Arial,Helvetica,sans-serif" font-size="25.50" font-weight="normal" font-style="normal">0</text>
<text><tspan x="1107.70" y="463.80" font-family="'Liberation Sans',Arial,Helvetica,sans-serif" font-size="26.70" font-weight="bold" font-style="normal">−</tspan><tspan x="1125.70" y="463.80" font-family="'Liberation Serif','Times New Roman',serif" font-size="32.00" font-weight="normal" font-style="italic">π</tspan><tspan x="1146.20" y="463.80" font-family="'Liberation Sans',Arial,Helvetica,sans-serif" font-size="33.50" font-weight="normal" font-style="italic">/</tspan><tspan x="1156.20" y="463.80" font-family="'Liberation Sans',Arial,Helvetica,sans-serif" font-size="32.50" font-weight="normal" font-style="italic">a</tspan></text>
<text><tspan x="1425.50" y="463.80" font-family="'Liberation Serif','Times New Roman',serif" font-size="32.00" font-weight="normal" font-style="italic">π</tspan><tspan x="1446.00" y="463.80" font-family="'Liberation Sans',Arial,Helvetica,sans-serif" font-size="33.50" font-weight="normal" font-style="italic">/</tspan><tspan x="1456.00" y="463.80" font-family="'Liberation Sans',Arial,Helvetica,sans-serif" font-size="32.50" font-weight="normal" font-style="italic">a</tspan></text>
<text transform="translate(1286.10 503.40) scale(1.080 1)" font-family="'Liberation Serif','Times New Roman',serif" font-size="36.00" font-weight="normal" font-style="italic">k</text>
<text transform="translate(1051.1 287) rotate(-90)"><tspan x="-1.00" y="0.00" font-family="'Liberation Serif','Times New Roman',serif" font-size="30.50" font-weight="normal" font-style="italic">ω</tspan><tspan x="22.80" y="6.50" font-family="'Liberation Serif','Times New Roman',serif" font-size="46.00" font-weight="normal" font-style="normal">/</tspan><tspan x="36.20" y="0.00" font-family="'Liberation Serif','Times New Roman',serif" font-size="30.50" font-weight="normal" font-style="italic">ω</tspan><tspan x="62.00" y="4.50" font-family="'Liberation Serif','Times New Roman',serif" font-size="21.50" font-weight="normal" font-style="italic">D</tspan></text>
<ellipse cx="380.2" cy="229.6" rx="10.8" ry="10.5" fill="#1e9a3c"/>
<ellipse cx="419.7" cy="228.1" rx="10.8" ry="10.5" fill="#e30613"/>
<path d="M336 209.3V240" stroke="#1e9a3c" stroke-width="3.3" fill="none"/><path d="M336 249.6L331.6 238.2L336 239.8L340.4 238.2Z" fill="#1e9a3c"/>
<path d="M459.9 250V219" stroke="#e30613" stroke-width="3.3" fill="none"/><path d="M459.9 209.2L455.5 220.8L459.9 219.2L464.3 220.8Z" fill="#e30613"/>
<rect x="106.6" y="532.4" width="1513.4" height="142.9" fill="#2f2a24"/>
<rect x="107.2" y="533" width="1512.2" height="141.7" fill="none" stroke="#1a1714" stroke-width="1.2"/>
<g fill="#000000"><ellipse cx="176.2" cy="550.7" rx="8.9" ry="9.4"/><ellipse cx="197.7" cy="550.7" rx="8.9" ry="9.4"/><ellipse cx="165.4" cy="570.7" rx="8.9" ry="9.4"/><ellipse cx="208.4" cy="570.7" rx="8.9" ry="9.4"/><ellipse cx="176.2" cy="590.7" rx="8.9" ry="9.4"/><ellipse cx="197.7" cy="590.7" rx="8.9" ry="9.4"/><ellipse cx="139.3" cy="617.8" rx="8.9" ry="9.4"/><ellipse cx="160.8" cy="617.8" rx="8.9" ry="9.4"/><ellipse cx="128.6" cy="637.8" rx="8.9" ry="9.4"/><ellipse cx="171.6" cy="637.8" rx="8.9" ry="9.4"/><ellipse cx="139.3" cy="657.8" rx="8.9" ry="9.4"/><ellipse cx="160.8" cy="657.8" rx="8.9" ry="9.4"/><ellipse cx="249.6" cy="550.7" rx="8.9" ry="9.4"/><ellipse cx="271.1" cy="550.7" rx="8.9" ry="9.4"/><ellipse cx="238.8" cy="570.7" rx="8.9" ry="9.4"/><ellipse cx="281.8" cy="570.7" rx="8.9" ry="9.4"/><ellipse cx="249.6" cy="590.7" rx="8.9" ry="9.4"/><ellipse cx="271.1" cy="590.7" rx="8.9" ry="9.4"/><ellipse cx="212.8" cy="617.8" rx="8.9" ry="9.4"/><ellipse cx="234.2" cy="617.8" rx="8.9" ry="9.4"/><ellipse cx="202.0" cy="637.8" rx="8.9" ry="9.4"/><ellipse cx="245.0" cy="637.8" rx="8.9" ry="9.4"/><ellipse cx="212.8" cy="657.8" rx="8.9" ry="9.4"/><ellipse cx="234.2" cy="657.8" rx="8.9" ry="9.4"/><ellipse cx="344.5" cy="550.7" rx="8.9" ry="9.4"/><ellipse cx="323.0" cy="590.7" rx="8.9" ry="9.4"/><ellipse cx="307.6" cy="617.8" rx="8.9" ry="9.4"/><ellipse cx="286.1" cy="657.8" rx="8.9" ry="9.4"/><ellipse cx="1609.1" cy="570.7" rx="8.9" ry="9.4"/><ellipse cx="1595.5" cy="595.7" rx="8.9" ry="9.4"/><ellipse cx="1572.2" cy="637.8" rx="8.9" ry="9.4"/><ellipse cx="1558.6" cy="662.8" rx="8.9" ry="9.4"/><ellipse cx="1605.0" cy="662.8" rx="8.9" ry="9.4"/></g>
<g fill="#2a1612"><ellipse cx="323.0" cy="550.7" rx="8.9" ry="9.4"/><ellipse cx="312.2" cy="570.7" rx="8.9" ry="9.4"/><ellipse cx="355.2" cy="570.7" rx="8.9" ry="9.4"/><ellipse cx="344.5" cy="590.7" rx="8.9" ry="9.4"/><ellipse cx="286.1" cy="617.8" rx="8.9" ry="9.4"/><ellipse cx="275.4" cy="637.8" rx="8.9" ry="9.4"/><ellipse cx="318.4" cy="637.8" rx="8.9" ry="9.4"/><ellipse cx="307.6" cy="657.8" rx="8.9" ry="9.4"/><ellipse cx="396.4" cy="550.7" rx="8.9" ry="9.4"/><ellipse cx="417.9" cy="550.7" rx="8.9" ry="9.4"/><ellipse cx="385.6" cy="570.7" rx="8.9" ry="9.4"/><ellipse cx="428.6" cy="570.7" rx="8.9" ry="9.4"/><ellipse cx="396.4" cy="590.7" rx="8.9" ry="9.4"/><ellipse cx="417.9" cy="590.7" rx="8.9" ry="9.4"/><ellipse cx="359.6" cy="617.8" rx="8.9" ry="9.4"/><ellipse cx="381.1" cy="617.8" rx="8.9" ry="9.4"/><ellipse cx="348.8" cy="637.8" rx="8.9" ry="9.4"/><ellipse cx="391.8" cy="637.8" rx="8.9" ry="9.4"/><ellipse cx="359.6" cy="657.8" rx="8.9" ry="9.4"/><ellipse cx="381.1" cy="657.8" rx="8.9" ry="9.4"/><ellipse cx="1448.8" cy="545.7" rx="8.9" ry="9.4"/><ellipse cx="1462.3" cy="570.7" rx="8.9" ry="9.4"/><ellipse cx="1421.7" cy="595.7" rx="8.9" ry="9.4"/><ellipse cx="1448.8" cy="595.7" rx="8.9" ry="9.4"/><ellipse cx="1522.1" cy="545.7" rx="8.9" ry="9.4"/><ellipse cx="1535.7" cy="570.7" rx="8.9" ry="9.4"/><ellipse cx="1495.0" cy="595.7" rx="8.9" ry="9.4"/><ellipse cx="1522.1" cy="595.7" rx="8.9" ry="9.4"/><ellipse cx="1568.5" cy="545.7" rx="8.9" ry="9.4"/><ellipse cx="1568.5" cy="595.7" rx="8.9" ry="9.4"/><ellipse cx="1411.9" cy="612.8" rx="8.9" ry="9.4"/><ellipse cx="1425.4" cy="637.8" rx="8.9" ry="9.4"/><ellipse cx="1384.8" cy="662.8" rx="8.9" ry="9.4"/><ellipse cx="1411.9" cy="662.8" rx="8.9" ry="9.4"/><ellipse cx="1485.2" cy="612.8" rx="8.9" ry="9.4"/><ellipse cx="1498.8" cy="637.8" rx="8.9" ry="9.4"/><ellipse cx="1458.2" cy="662.8" rx="8.9" ry="9.4"/><ellipse cx="1485.2" cy="662.8" rx="8.9" ry="9.4"/><ellipse cx="1531.5" cy="662.8" rx="8.9" ry="9.4"/></g>
<g fill="#30130f"><ellipse cx="469.8" cy="550.7" rx="8.9" ry="9.4"/><ellipse cx="491.2" cy="550.7" rx="8.9" ry="9.4"/><ellipse cx="459.0" cy="570.7" rx="8.9" ry="9.4"/><ellipse cx="502.0" cy="570.7" rx="8.9" ry="9.4"/><ellipse cx="469.8" cy="590.7" rx="8.9" ry="9.4"/><ellipse cx="491.2" cy="590.7" rx="8.9" ry="9.4"/><ellipse cx="433.0" cy="617.8" rx="8.9" ry="9.4"/><ellipse cx="454.5" cy="617.8" rx="8.9" ry="9.4"/><ellipse cx="422.2" cy="637.8" rx="8.9" ry="9.4"/><ellipse cx="465.2" cy="637.8" rx="8.9" ry="9.4"/><ellipse cx="433.0" cy="657.8" rx="8.9" ry="9.4"/><ellipse cx="454.5" cy="657.8" rx="8.9" ry="9.4"/></g>
<g fill="#45130f"><ellipse cx="543.1" cy="550.7" rx="8.9" ry="9.4"/><ellipse cx="564.6" cy="550.7" rx="8.9" ry="9.4"/><ellipse cx="532.4" cy="570.7" rx="8.9" ry="9.4"/><ellipse cx="575.4" cy="570.7" rx="8.9" ry="9.4"/><ellipse cx="543.1" cy="590.7" rx="8.9" ry="9.4"/><ellipse cx="564.6" cy="590.7" rx="8.9" ry="9.4"/><ellipse cx="506.4" cy="617.8" rx="8.9" ry="9.4"/><ellipse cx="527.9" cy="617.8" rx="8.9" ry="9.4"/><ellipse cx="495.6" cy="637.8" rx="8.9" ry="9.4"/><ellipse cx="538.6" cy="637.8" rx="8.9" ry="9.4"/><ellipse cx="506.4" cy="657.8" rx="8.9" ry="9.4"/><ellipse cx="527.9" cy="657.8" rx="8.9" ry="9.4"/></g>
<g fill="#6d130c"><ellipse cx="616.6" cy="550.7" rx="8.9" ry="9.4"/><ellipse cx="605.8" cy="570.7" rx="8.9" ry="9.4"/><ellipse cx="579.8" cy="617.8" rx="8.9" ry="9.4"/><ellipse cx="569.0" cy="637.8" rx="8.9" ry="9.4"/></g>
<g fill="#50130f"><ellipse cx="638.1" cy="550.7" rx="8.9" ry="9.4"/><ellipse cx="616.6" cy="590.7" rx="8.9" ry="9.4"/><ellipse cx="638.1" cy="590.7" rx="8.9" ry="9.4"/><ellipse cx="601.2" cy="617.8" rx="8.9" ry="9.4"/><ellipse cx="579.8" cy="657.8" rx="8.9" ry="9.4"/><ellipse cx="601.2" cy="657.8" rx="8.9" ry="9.4"/><ellipse cx="1191.6" cy="662.8" rx="8.9" ry="9.4"/></g>
<g fill="#47130f"><ellipse cx="648.8" cy="570.7" rx="8.9" ry="9.4"/><ellipse cx="612.0" cy="637.8" rx="8.9" ry="9.4"/><ellipse cx="1242.1" cy="570.7" rx="8.9" ry="9.4"/><ellipse cx="1228.5" cy="595.7" rx="8.9" ry="9.4"/><ellipse cx="1205.2" cy="637.8" rx="8.9" ry="9.4"/></g>
<g fill="#a8150f"><ellipse cx="690.0" cy="550.7" rx="8.9" ry="9.4"/><ellipse cx="679.2" cy="570.7" rx="8.9" ry="9.4"/><ellipse cx="653.2" cy="617.8" rx="8.9" ry="9.4"/><ellipse cx="642.4" cy="637.8" rx="8.9" ry="9.4"/></g>
<g fill="#7a100a"><ellipse cx="711.5" cy="550.7" rx="8.9" ry="9.4"/><ellipse cx="674.7" cy="617.8" rx="8.9" ry="9.4"/></g>
<g fill="#6e0f0a"><ellipse cx="722.2" cy="570.7" rx="8.9" ry="9.4"/><ellipse cx="685.4" cy="637.8" rx="8.9" ry="9.4"/></g>
<g fill="#7a0f0a"><ellipse cx="690.0" cy="590.7" rx="8.9" ry="9.4"/><ellipse cx="711.5" cy="590.7" rx="8.9" ry="9.4"/><ellipse cx="653.2" cy="657.8" rx="8.9" ry="9.4"/><ellipse cx="674.7" cy="657.8" rx="8.9" ry="9.4"/></g>
<g fill="#e31414"><ellipse cx="763.4" cy="550.7" rx="8.9" ry="9.4"/><ellipse cx="752.6" cy="570.7" rx="8.9" ry="9.4"/><ellipse cx="726.6" cy="617.8" rx="8.9" ry="9.4"/><ellipse cx="715.8" cy="637.8" rx="8.9" ry="9.4"/></g>
<g fill="#b91616"><ellipse cx="784.9" cy="550.7" rx="8.9" ry="9.4"/><ellipse cx="748.1" cy="617.8" rx="8.9" ry="9.4"/></g>
<g fill="#a91313"><ellipse cx="795.6" cy="570.7" rx="8.9" ry="9.4"/><ellipse cx="784.9" cy="590.7" rx="8.9" ry="9.4"/><ellipse cx="758.8" cy="637.8" rx="8.9" ry="9.4"/><ellipse cx="748.1" cy="657.8" rx="8.9" ry="9.4"/></g>
<g fill="#bb1515"><ellipse cx="763.4" cy="590.7" rx="8.9" ry="9.4"/><ellipse cx="726.6" cy="657.8" rx="8.9" ry="9.4"/></g>
<g fill="#ffd500"><ellipse cx="836.8" cy="550.7" rx="8.9" ry="9.4"/><ellipse cx="826.0" cy="570.7" rx="8.9" ry="9.4"/><ellipse cx="800.0" cy="617.8" rx="8.9" ry="9.4"/><ellipse cx="789.2" cy="637.8" rx="8.9" ry="9.4"/></g>
<g fill="#ea5b0c"><ellipse cx="858.2" cy="550.7" rx="8.9" ry="9.4"/><ellipse cx="836.8" cy="590.7" rx="8.9" ry="9.4"/><ellipse cx="821.5" cy="617.8" rx="8.9" ry="9.4"/><ellipse cx="800.0" cy="657.8" rx="8.9" ry="9.4"/></g>
<g fill="#e30613"><ellipse cx="869.0" cy="570.7" rx="8.9" ry="9.4"/><ellipse cx="858.2" cy="590.7" rx="8.9" ry="9.4"/><ellipse cx="832.2" cy="637.8" rx="8.9" ry="9.4"/><ellipse cx="821.5" cy="657.8" rx="8.9" ry="9.4"/><ellipse cx="1008.3" cy="545.7" rx="8.9" ry="9.4"/><ellipse cx="981.2" cy="595.7" rx="8.9" ry="9.4"/><ellipse cx="971.4" cy="612.8" rx="8.9" ry="9.4"/><ellipse cx="944.4" cy="662.8" rx="8.9" ry="9.4"/></g>
<g fill="#ffffff"><ellipse cx="907.9" cy="545.7" rx="8.9" ry="9.4"/><ellipse cx="894.3" cy="570.7" rx="8.9" ry="9.4"/><ellipse cx="871.0" cy="612.8" rx="8.9" ry="9.4"/><ellipse cx="857.4" cy="637.8" rx="8.9" ry="9.4"/></g>
<g fill="#f39200"><ellipse cx="934.9" cy="545.7" rx="8.9" ry="9.4"/><ellipse cx="907.9" cy="595.7" rx="8.9" ry="9.4"/><ellipse cx="898.0" cy="612.8" rx="8.9" ry="9.4"/><ellipse cx="871.0" cy="662.8" rx="8.9" ry="9.4"/></g>
<g fill="#b01513"><ellipse cx="948.5" cy="570.7" rx="8.9" ry="9.4"/><ellipse cx="934.9" cy="595.7" rx="8.9" ry="9.4"/><ellipse cx="911.6" cy="637.8" rx="8.9" ry="9.4"/><ellipse cx="898.0" cy="662.8" rx="8.9" ry="9.4"/></g>
<g fill="#fdc300"><ellipse cx="981.2" cy="545.7" rx="8.9" ry="9.4"/><ellipse cx="967.7" cy="570.7" rx="8.9" ry="9.4"/><ellipse cx="944.4" cy="612.8" rx="8.9" ry="9.4"/><ellipse cx="930.8" cy="637.8" rx="8.9" ry="9.4"/></g>
<g fill="#a01210"><ellipse cx="1021.9" cy="570.7" rx="8.9" ry="9.4"/><ellipse cx="1008.3" cy="595.7" rx="8.9" ry="9.4"/><ellipse cx="1081.8" cy="545.7" rx="8.9" ry="9.4"/><ellipse cx="1054.7" cy="595.7" rx="8.9" ry="9.4"/><ellipse cx="985.0" cy="637.8" rx="8.9" ry="9.4"/><ellipse cx="971.4" cy="662.8" rx="8.9" ry="9.4"/><ellipse cx="1044.8" cy="612.8" rx="8.9" ry="9.4"/><ellipse cx="1017.8" cy="662.8" rx="8.9" ry="9.4"/></g>
<g fill="#e6210f"><ellipse cx="1054.7" cy="545.7" rx="8.9" ry="9.4"/><ellipse cx="1041.1" cy="570.7" rx="8.9" ry="9.4"/><ellipse cx="1017.8" cy="612.8" rx="8.9" ry="9.4"/><ellipse cx="1004.2" cy="637.8" rx="8.9" ry="9.4"/></g>
<g fill="#7d0f0a"><ellipse cx="1095.3" cy="570.7" rx="8.9" ry="9.4"/><ellipse cx="1058.4" cy="637.8" rx="8.9" ry="9.4"/></g>
<g fill="#7a0d08"><ellipse cx="1081.8" cy="595.7" rx="8.9" ry="9.4"/><ellipse cx="1044.8" cy="662.8" rx="8.9" ry="9.4"/></g>
<g fill="#d01515"><ellipse cx="1128.0" cy="545.7" rx="8.9" ry="9.4"/></g>
<g fill="#7a1510"><ellipse cx="1155.1" cy="545.7" rx="8.9" ry="9.4"/><ellipse cx="1128.0" cy="595.7" rx="8.9" ry="9.4"/><ellipse cx="1274.9" cy="545.7" rx="8.9" ry="9.4"/><ellipse cx="1118.2" cy="662.8" rx="8.9" ry="9.4"/></g>
<g fill="#d81818"><ellipse cx="1114.5" cy="570.7" rx="8.9" ry="9.4"/></g>
<g fill="#5e120d"><ellipse cx="1168.7" cy="570.7" rx="8.9" ry="9.4"/><ellipse cx="1201.5" cy="595.7" rx="8.9" ry="9.4"/><ellipse cx="1191.6" cy="612.8" rx="8.9" ry="9.4"/></g>
<g fill="#6a120d"><ellipse cx="1155.1" cy="595.7" rx="8.9" ry="9.4"/><ellipse cx="1091.2" cy="662.8" rx="8.9" ry="9.4"/></g>
<g fill="#a8120f"><ellipse cx="1201.5" cy="545.7" rx="8.9" ry="9.4"/><ellipse cx="1187.9" cy="570.7" rx="8.9" ry="9.4"/></g>
<g fill="#5a1410"><ellipse cx="1228.5" cy="545.7" rx="8.9" ry="9.4"/></g>
<g fill="#42150f"><ellipse cx="1302.0" cy="545.7" rx="8.9" ry="9.4"/><ellipse cx="1302.0" cy="595.7" rx="8.9" ry="9.4"/><ellipse cx="1408.1" cy="570.7" rx="8.9" ry="9.4"/></g>
<g fill="#8a1510"><ellipse cx="1261.3" cy="570.7" rx="8.9" ry="9.4"/><ellipse cx="1118.2" cy="612.8" rx="8.9" ry="9.4"/><ellipse cx="1238.0" cy="612.8" rx="8.9" ry="9.4"/><ellipse cx="1224.4" cy="637.8" rx="8.9" ry="9.4"/></g>
<g fill="#3c1410"><ellipse cx="1315.5" cy="570.7" rx="8.9" ry="9.4"/><ellipse cx="1265.0" cy="612.8" rx="8.9" ry="9.4"/><ellipse cx="1278.6" cy="637.8" rx="8.9" ry="9.4"/><ellipse cx="1238.0" cy="662.8" rx="8.9" ry="9.4"/><ellipse cx="1265.0" cy="662.8" rx="8.9" ry="9.4"/></g>
<g fill="#42130f"><ellipse cx="1274.9" cy="595.7" rx="8.9" ry="9.4"/></g>
<g fill="#45150f"><ellipse cx="1348.2" cy="545.7" rx="8.9" ry="9.4"/></g>
<g fill="#2f130f"><ellipse cx="1375.3" cy="545.7" rx="8.9" ry="9.4"/></g>
<g fill="#4a150f"><ellipse cx="1334.7" cy="570.7" rx="8.9" ry="9.4"/></g>
<g fill="#2c1410"><ellipse cx="1388.9" cy="570.7" rx="8.9" ry="9.4"/></g>
<g fill="#2c1210"><ellipse cx="1348.2" cy="595.7" rx="8.9" ry="9.4"/><ellipse cx="1375.3" cy="595.7" rx="8.9" ry="9.4"/><ellipse cx="1352.0" cy="637.8" rx="8.9" ry="9.4"/></g>
<g fill="#3e150f"><ellipse cx="1421.7" cy="545.7" rx="8.9" ry="9.4"/></g>
<g fill="#361410"><ellipse cx="1495.0" cy="545.7" rx="8.9" ry="9.4"/><ellipse cx="1444.6" cy="637.8" rx="8.9" ry="9.4"/></g>
<g fill="#351410"><ellipse cx="1481.5" cy="570.7" rx="8.9" ry="9.4"/></g>
<g fill="#2f1612"><ellipse cx="1595.5" cy="545.7" rx="8.9" ry="9.4"/><ellipse cx="1554.9" cy="570.7" rx="8.9" ry="9.4"/><ellipse cx="1531.5" cy="612.8" rx="8.9" ry="9.4"/><ellipse cx="1558.6" cy="612.8" rx="8.9" ry="9.4"/><ellipse cx="1518.0" cy="637.8" rx="8.9" ry="9.4"/><ellipse cx="1605.0" cy="612.8" rx="8.9" ry="9.4"/></g>
<g fill="#c01515"><ellipse cx="1091.2" cy="612.8" rx="8.9" ry="9.4"/><ellipse cx="1077.6" cy="637.8" rx="8.9" ry="9.4"/></g>
<g fill="#6a130f"><ellipse cx="1131.8" cy="637.8" rx="8.9" ry="9.4"/></g>
<g fill="#b01210"><ellipse cx="1164.5" cy="612.8" rx="8.9" ry="9.4"/><ellipse cx="1151.0" cy="637.8" rx="8.9" ry="9.4"/></g>
<g fill="#5a120d"><ellipse cx="1164.5" cy="662.8" rx="8.9" ry="9.4"/></g>
<g fill="#50150f"><ellipse cx="1311.4" cy="612.8" rx="8.9" ry="9.4"/></g>
<g fill="#2a1210"><ellipse cx="1338.5" cy="612.8" rx="8.9" ry="9.4"/><ellipse cx="1311.4" cy="662.8" rx="8.9" ry="9.4"/><ellipse cx="1338.5" cy="662.8" rx="8.9" ry="9.4"/></g>
<g fill="#48150f"><ellipse cx="1297.8" cy="637.8" rx="8.9" ry="9.4"/><ellipse cx="1384.8" cy="612.8" rx="8.9" ry="9.4"/><ellipse cx="1371.2" cy="637.8" rx="8.9" ry="9.4"/></g>
<g fill="#381410"><ellipse cx="1458.2" cy="612.8" rx="8.9" ry="9.4"/></g>
<g fill="#33201a"><ellipse cx="1591.4" cy="637.8" rx="8.9" ry="9.4"/></g>
<defs><linearGradient id="cb" x1="0" y1="0" x2="0" y2="1">
<stop offset="0" stop-color="#ffffff"/><stop offset="0.064" stop-color="#fffbe0"/><stop offset="0.143" stop-color="#ffe800"/><stop offset="0.22" stop-color="#fdd000"/>
<stop offset="0.30" stop-color="#fab400"/><stop offset="0.38" stop-color="#f39200"/><stop offset="0.49" stop-color="#ec6608"/><stop offset="0.583" stop-color="#e6331a"/>
<stop offset="0.645" stop-color="#dd1f1a"/><stop offset="0.74" stop-color="#c3161a"/><stop offset="0.85" stop-color="#7a2a20"/><stop offset="0.93" stop-color="#4a2a22"/><stop offset="1" stop-color="#2d2922"/></linearGradient></defs>
<rect x="65.7" y="542" width="23.9" height="126.4" fill="url(#cb)" stroke="#1d1d1b" stroke-width="1.2"/>
<text x="-0.40" y="559.90" font-family="'Liberation Sans',Arial,Helvetica,sans-serif" font-size="29.00" font-weight="normal" font-style="normal">Max</text>
<text x="1.20" y="661.50" font-family="'Liberation Sans',Arial,Helvetica,sans-serif" font-size="29.00" font-weight="normal" font-style="normal" letter-spacing="1.9">Min</text>
<text><tspan x="0.90" y="607.50" font-family="'Liberation Serif','Times New Roman',serif" font-size="45.00" font-weight="normal" font-style="normal">|</tspan><tspan x="12.30" y="606.50" font-family="'Liberation Serif','Times New Roman',serif" font-size="40.50" font-weight="normal" font-style="italic">p</tspan><tspan x="34.60" y="613.20" font-family="'Liberation Serif','Times New Roman',serif" font-size="30.00" font-weight="normal" font-style="italic">z</tspan><tspan x="53.00" y="607.50" font-family="'Liberation Serif','Times New Roman',serif" font-size="45.00" font-weight="normal" font-style="normal">|</tspan></text>
<text transform="translate(121.20 510.90) scale(0.935 1)" font-family="'Liberation Sans',Arial,Helvetica,sans-serif" font-size="44.50" font-weight="bold" font-style="normal">D</text>
<path d="M125.3 688.2V713M125.3 701H833.5M833.5 688.2V713M852.8 688V713M852.8 700.5H1585" stroke="#000" stroke-width="2.8" fill="none"/>
<path d="M1600.3 700.4L1576.2 693.1L1582.5 700.4L1576.2 707.7Z" fill="#000"/>
<text x="460.20" y="745.00" font-family="'Liberation Sans',Arial,Helvetica,sans-serif" font-size="33.30" font-weight="normal" font-style="normal">Trivial</text>
<text x="1162.20" y="737.40" font-family="'Liberation Sans',Arial,Helvetica,sans-serif" font-size="33.00" font-weight="normal" font-style="normal">Topological</text>
</svg></body></html>
